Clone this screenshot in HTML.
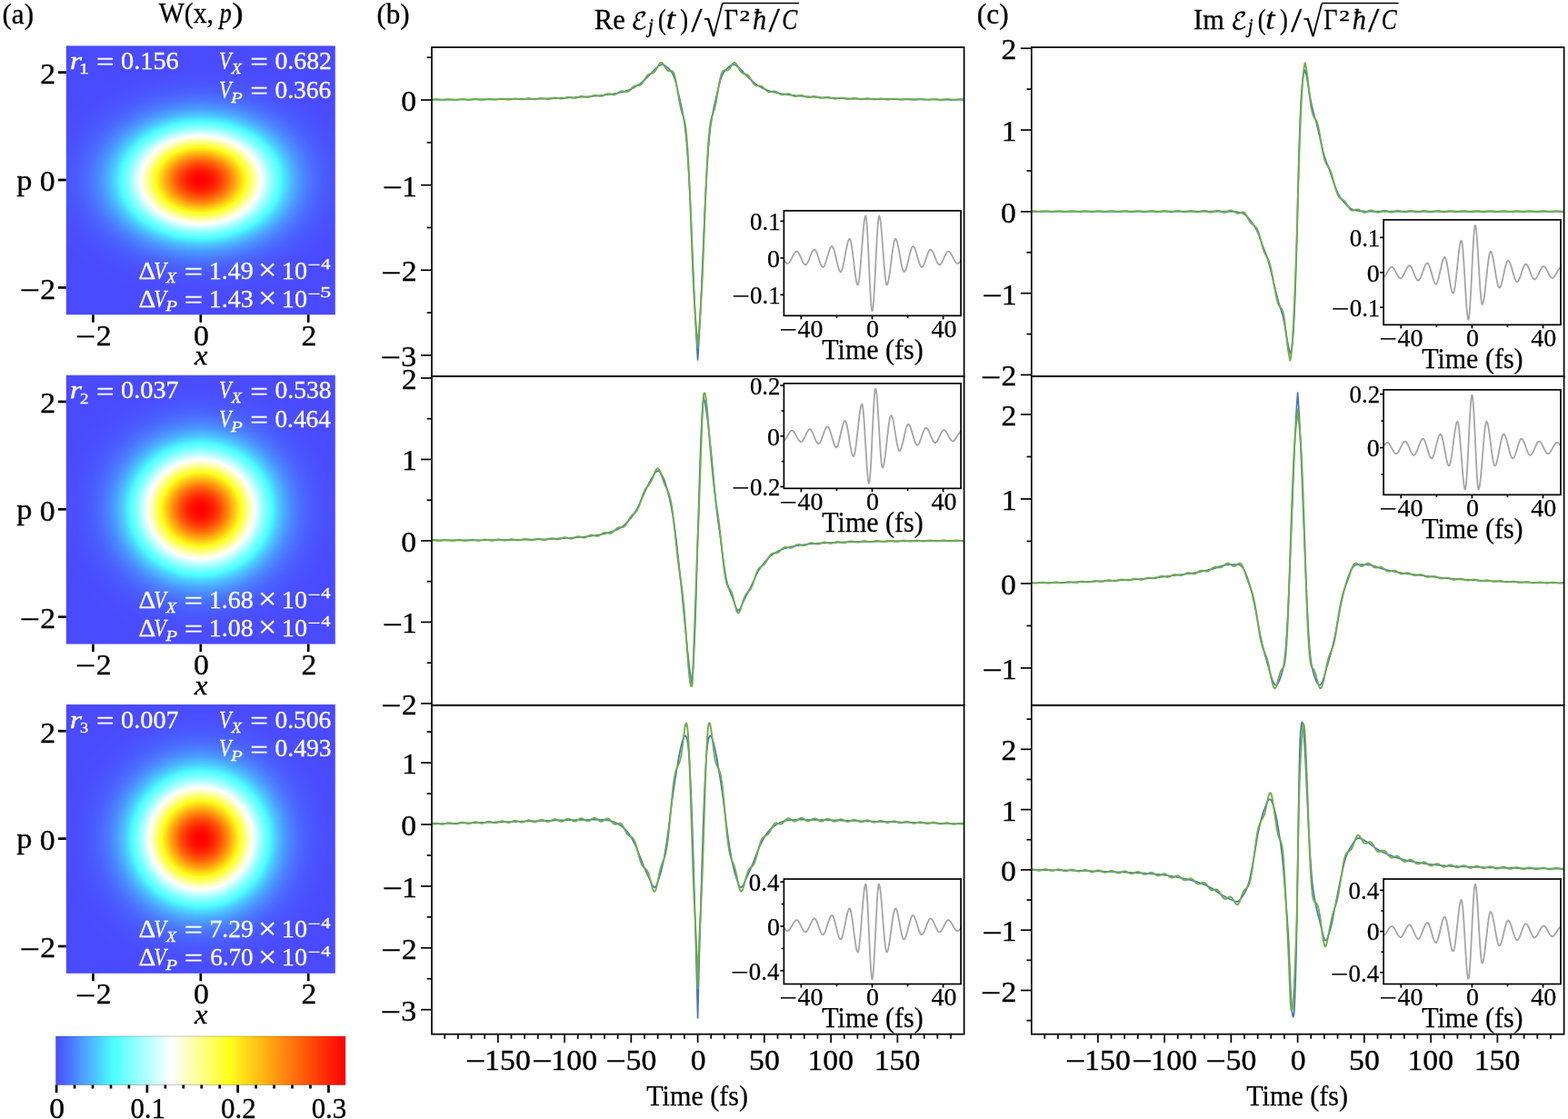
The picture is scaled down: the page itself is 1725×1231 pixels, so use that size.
<!DOCTYPE html>
<html lang="en"><head><meta charset="utf-8"><title>Figure</title>
<style>
html,body{margin:0;padding:0;background:#fff;}
body{width:1725px;height:1231px;overflow:hidden;}
svg{display:block;}
text{white-space:pre;}
.r{font-family:'Liberation Serif','DejaVu Serif',serif;}
.i{font-family:'Liberation Serif','DejaVu Serif',serif;font-style:italic;}
.m{font-family:'DejaVu Math TeX Gyre','DejaVu Serif',serif;}
</style></head><body>
<svg width="1725" height="1231" viewBox="0 0 1725 1231">
<rect width="1725" height="1231" fill="#fff"/>
<defs>
<radialGradient id="g0" gradientUnits="userSpaceOnUse" cx="0" cy="0" r="6.0" gradientTransform="translate(220.80 198.00) scale(48.889 35.815)">
<stop offset="0.0000" stop-color="#ff0000"/>
<stop offset="0.0067" stop-color="#ff0100"/>
<stop offset="0.0133" stop-color="#ff0200"/>
<stop offset="0.0200" stop-color="#ff0500"/>
<stop offset="0.0267" stop-color="#ff0801"/>
<stop offset="0.0333" stop-color="#ff0d01"/>
<stop offset="0.0400" stop-color="#ff1202"/>
<stop offset="0.0467" stop-color="#ff1902"/>
<stop offset="0.0533" stop-color="#ff2003"/>
<stop offset="0.0600" stop-color="#ff2804"/>
<stop offset="0.0667" stop-color="#ff3105"/>
<stop offset="0.0733" stop-color="#ff3b06"/>
<stop offset="0.0800" stop-color="#ff4507"/>
<stop offset="0.0867" stop-color="#ff5108"/>
<stop offset="0.0933" stop-color="#ff5d09"/>
<stop offset="0.1000" stop-color="#ff690b"/>
<stop offset="0.1067" stop-color="#ff760c"/>
<stop offset="0.1133" stop-color="#ff840d"/>
<stop offset="0.1200" stop-color="#ff920f"/>
<stop offset="0.1267" stop-color="#ffa010"/>
<stop offset="0.1333" stop-color="#ffaf12"/>
<stop offset="0.1400" stop-color="#ffbe13"/>
<stop offset="0.1467" stop-color="#ffcd15"/>
<stop offset="0.1533" stop-color="#ffdc16"/>
<stop offset="0.1600" stop-color="#ffeb18"/>
<stop offset="0.1667" stop-color="#fffb1a"/>
<stop offset="0.1685" stop-color="#ffff1a"/>
<stop offset="0.1733" stop-color="#ffff2e"/>
<stop offset="0.1800" stop-color="#ffff4a"/>
<stop offset="0.1867" stop-color="#ffff65"/>
<stop offset="0.1933" stop-color="#ffff81"/>
<stop offset="0.2000" stop-color="#ffff9c"/>
<stop offset="0.2067" stop-color="#ffffb6"/>
<stop offset="0.2133" stop-color="#ffffd0"/>
<stop offset="0.2200" stop-color="#ffffea"/>
<stop offset="0.2256" stop-color="#ffffff"/>
<stop offset="0.2267" stop-color="#fcffff"/>
<stop offset="0.2333" stop-color="#e9ffff"/>
<stop offset="0.2400" stop-color="#d7ffff"/>
<stop offset="0.2467" stop-color="#c5ffff"/>
<stop offset="0.2533" stop-color="#b3ffff"/>
<stop offset="0.2600" stop-color="#a3ffff"/>
<stop offset="0.2667" stop-color="#92ffff"/>
<stop offset="0.2733" stop-color="#83ffff"/>
<stop offset="0.2800" stop-color="#74ffff"/>
<stop offset="0.2867" stop-color="#66ffff"/>
<stop offset="0.2933" stop-color="#58ffff"/>
<stop offset="0.2990" stop-color="#4dffff"/>
<stop offset="0.3000" stop-color="#4dfdff"/>
<stop offset="0.3067" stop-color="#4df1ff"/>
<stop offset="0.3133" stop-color="#4de5ff"/>
<stop offset="0.3200" stop-color="#4cd9ff"/>
<stop offset="0.3267" stop-color="#4ccfff"/>
<stop offset="0.3333" stop-color="#4cc4ff"/>
<stop offset="0.3400" stop-color="#4cbbff"/>
<stop offset="0.3467" stop-color="#4cb2ff"/>
<stop offset="0.3533" stop-color="#4caaff"/>
<stop offset="0.3600" stop-color="#4ba2ff"/>
<stop offset="0.3667" stop-color="#4b9aff"/>
<stop offset="0.3733" stop-color="#4b94ff"/>
<stop offset="0.3800" stop-color="#4b8dff"/>
<stop offset="0.3867" stop-color="#4b87ff"/>
<stop offset="0.3933" stop-color="#4b82ff"/>
<stop offset="0.4000" stop-color="#4b7dff"/>
<stop offset="0.4067" stop-color="#4b78ff"/>
<stop offset="0.4133" stop-color="#4b74ff"/>
<stop offset="0.4200" stop-color="#4b70ff"/>
<stop offset="0.4267" stop-color="#4b6cff"/>
<stop offset="0.4333" stop-color="#4b69ff"/>
<stop offset="0.4400" stop-color="#4a66ff"/>
<stop offset="0.4467" stop-color="#4a63ff"/>
<stop offset="0.4533" stop-color="#4a60ff"/>
<stop offset="0.4600" stop-color="#4a5eff"/>
<stop offset="0.4667" stop-color="#4a5cff"/>
<stop offset="0.4733" stop-color="#4a5aff"/>
<stop offset="0.4800" stop-color="#4a58ff"/>
<stop offset="0.4867" stop-color="#4a57ff"/>
<stop offset="0.4933" stop-color="#4a55ff"/>
<stop offset="0.5000" stop-color="#4a54ff"/>
<stop offset="0.5067" stop-color="#4a53ff"/>
<stop offset="0.5133" stop-color="#4a52ff"/>
<stop offset="0.5200" stop-color="#4a51ff"/>
<stop offset="0.5267" stop-color="#4a50ff"/>
<stop offset="0.5333" stop-color="#4a4fff"/>
<stop offset="0.5400" stop-color="#4a4fff"/>
<stop offset="0.5467" stop-color="#4a4eff"/>
<stop offset="0.5533" stop-color="#4a4eff"/>
<stop offset="0.5600" stop-color="#4a4dff"/>
<stop offset="0.5667" stop-color="#4a4dff"/>
<stop offset="0.5733" stop-color="#4a4cff"/>
<stop offset="0.5800" stop-color="#4a4cff"/>
<stop offset="0.5867" stop-color="#4a4cff"/>
<stop offset="0.5933" stop-color="#4a4cff"/>
<stop offset="0.6000" stop-color="#4a4bff"/>
<stop offset="0.6067" stop-color="#4a4bff"/>
<stop offset="0.6133" stop-color="#4a4bff"/>
<stop offset="0.6200" stop-color="#4a4bff"/>
<stop offset="0.6267" stop-color="#4a4bff"/>
<stop offset="0.6333" stop-color="#4a4bff"/>
<stop offset="0.6400" stop-color="#4a4bff"/>
<stop offset="0.6467" stop-color="#4a4aff"/>
<stop offset="0.6533" stop-color="#4a4aff"/>
<stop offset="0.6600" stop-color="#4a4aff"/>
<stop offset="0.6667" stop-color="#4a4aff"/>
<stop offset="0.7083" stop-color="#4a4aff"/>
<stop offset="0.7500" stop-color="#4a4aff"/>
<stop offset="0.7917" stop-color="#4a4aff"/>
<stop offset="0.8333" stop-color="#4a4aff"/>
<stop offset="0.8750" stop-color="#4a4aff"/>
<stop offset="0.9167" stop-color="#4a4aff"/>
<stop offset="0.9583" stop-color="#4a4aff"/>
<stop offset="1.0000" stop-color="#4a4aff"/>
</radialGradient>
<radialGradient id="g1" gradientUnits="userSpaceOnUse" cx="0" cy="0" r="6.0" gradientTransform="translate(220.80 560.30) scale(43.422 40.326)">
<stop offset="0.0000" stop-color="#ff0000"/>
<stop offset="0.0067" stop-color="#ff0100"/>
<stop offset="0.0133" stop-color="#ff0200"/>
<stop offset="0.0200" stop-color="#ff0500"/>
<stop offset="0.0267" stop-color="#ff0801"/>
<stop offset="0.0333" stop-color="#ff0d01"/>
<stop offset="0.0400" stop-color="#ff1202"/>
<stop offset="0.0467" stop-color="#ff1902"/>
<stop offset="0.0533" stop-color="#ff2003"/>
<stop offset="0.0600" stop-color="#ff2804"/>
<stop offset="0.0667" stop-color="#ff3105"/>
<stop offset="0.0733" stop-color="#ff3b06"/>
<stop offset="0.0800" stop-color="#ff4507"/>
<stop offset="0.0867" stop-color="#ff5108"/>
<stop offset="0.0933" stop-color="#ff5d09"/>
<stop offset="0.1000" stop-color="#ff690b"/>
<stop offset="0.1067" stop-color="#ff760c"/>
<stop offset="0.1133" stop-color="#ff840d"/>
<stop offset="0.1200" stop-color="#ff920f"/>
<stop offset="0.1267" stop-color="#ffa010"/>
<stop offset="0.1333" stop-color="#ffaf12"/>
<stop offset="0.1400" stop-color="#ffbe13"/>
<stop offset="0.1467" stop-color="#ffcd15"/>
<stop offset="0.1533" stop-color="#ffdc16"/>
<stop offset="0.1600" stop-color="#ffeb18"/>
<stop offset="0.1667" stop-color="#fffb1a"/>
<stop offset="0.1685" stop-color="#ffff1a"/>
<stop offset="0.1733" stop-color="#ffff2e"/>
<stop offset="0.1800" stop-color="#ffff4a"/>
<stop offset="0.1867" stop-color="#ffff65"/>
<stop offset="0.1933" stop-color="#ffff81"/>
<stop offset="0.2000" stop-color="#ffff9c"/>
<stop offset="0.2067" stop-color="#ffffb6"/>
<stop offset="0.2133" stop-color="#ffffd0"/>
<stop offset="0.2200" stop-color="#ffffea"/>
<stop offset="0.2256" stop-color="#ffffff"/>
<stop offset="0.2267" stop-color="#fcffff"/>
<stop offset="0.2333" stop-color="#e9ffff"/>
<stop offset="0.2400" stop-color="#d7ffff"/>
<stop offset="0.2467" stop-color="#c5ffff"/>
<stop offset="0.2533" stop-color="#b3ffff"/>
<stop offset="0.2600" stop-color="#a3ffff"/>
<stop offset="0.2667" stop-color="#92ffff"/>
<stop offset="0.2733" stop-color="#83ffff"/>
<stop offset="0.2800" stop-color="#74ffff"/>
<stop offset="0.2867" stop-color="#66ffff"/>
<stop offset="0.2933" stop-color="#58ffff"/>
<stop offset="0.2990" stop-color="#4dffff"/>
<stop offset="0.3000" stop-color="#4dfdff"/>
<stop offset="0.3067" stop-color="#4df1ff"/>
<stop offset="0.3133" stop-color="#4de5ff"/>
<stop offset="0.3200" stop-color="#4cd9ff"/>
<stop offset="0.3267" stop-color="#4ccfff"/>
<stop offset="0.3333" stop-color="#4cc4ff"/>
<stop offset="0.3400" stop-color="#4cbbff"/>
<stop offset="0.3467" stop-color="#4cb2ff"/>
<stop offset="0.3533" stop-color="#4caaff"/>
<stop offset="0.3600" stop-color="#4ba2ff"/>
<stop offset="0.3667" stop-color="#4b9aff"/>
<stop offset="0.3733" stop-color="#4b94ff"/>
<stop offset="0.3800" stop-color="#4b8dff"/>
<stop offset="0.3867" stop-color="#4b87ff"/>
<stop offset="0.3933" stop-color="#4b82ff"/>
<stop offset="0.4000" stop-color="#4b7dff"/>
<stop offset="0.4067" stop-color="#4b78ff"/>
<stop offset="0.4133" stop-color="#4b74ff"/>
<stop offset="0.4200" stop-color="#4b70ff"/>
<stop offset="0.4267" stop-color="#4b6cff"/>
<stop offset="0.4333" stop-color="#4b69ff"/>
<stop offset="0.4400" stop-color="#4a66ff"/>
<stop offset="0.4467" stop-color="#4a63ff"/>
<stop offset="0.4533" stop-color="#4a60ff"/>
<stop offset="0.4600" stop-color="#4a5eff"/>
<stop offset="0.4667" stop-color="#4a5cff"/>
<stop offset="0.4733" stop-color="#4a5aff"/>
<stop offset="0.4800" stop-color="#4a58ff"/>
<stop offset="0.4867" stop-color="#4a57ff"/>
<stop offset="0.4933" stop-color="#4a55ff"/>
<stop offset="0.5000" stop-color="#4a54ff"/>
<stop offset="0.5067" stop-color="#4a53ff"/>
<stop offset="0.5133" stop-color="#4a52ff"/>
<stop offset="0.5200" stop-color="#4a51ff"/>
<stop offset="0.5267" stop-color="#4a50ff"/>
<stop offset="0.5333" stop-color="#4a4fff"/>
<stop offset="0.5400" stop-color="#4a4fff"/>
<stop offset="0.5467" stop-color="#4a4eff"/>
<stop offset="0.5533" stop-color="#4a4eff"/>
<stop offset="0.5600" stop-color="#4a4dff"/>
<stop offset="0.5667" stop-color="#4a4dff"/>
<stop offset="0.5733" stop-color="#4a4cff"/>
<stop offset="0.5800" stop-color="#4a4cff"/>
<stop offset="0.5867" stop-color="#4a4cff"/>
<stop offset="0.5933" stop-color="#4a4cff"/>
<stop offset="0.6000" stop-color="#4a4bff"/>
<stop offset="0.6067" stop-color="#4a4bff"/>
<stop offset="0.6133" stop-color="#4a4bff"/>
<stop offset="0.6200" stop-color="#4a4bff"/>
<stop offset="0.6267" stop-color="#4a4bff"/>
<stop offset="0.6333" stop-color="#4a4bff"/>
<stop offset="0.6400" stop-color="#4a4bff"/>
<stop offset="0.6467" stop-color="#4a4aff"/>
<stop offset="0.6533" stop-color="#4a4aff"/>
<stop offset="0.6600" stop-color="#4a4aff"/>
<stop offset="0.6667" stop-color="#4a4aff"/>
<stop offset="0.7083" stop-color="#4a4aff"/>
<stop offset="0.7500" stop-color="#4a4aff"/>
<stop offset="0.7917" stop-color="#4a4aff"/>
<stop offset="0.8333" stop-color="#4a4aff"/>
<stop offset="0.8750" stop-color="#4a4aff"/>
<stop offset="0.9167" stop-color="#4a4aff"/>
<stop offset="0.9583" stop-color="#4a4aff"/>
<stop offset="1.0000" stop-color="#4a4aff"/>
</radialGradient>
<radialGradient id="g2" gradientUnits="userSpaceOnUse" cx="0" cy="0" r="6.0" gradientTransform="translate(220.80 922.60) scale(42.111 41.567)">
<stop offset="0.0000" stop-color="#ff0000"/>
<stop offset="0.0067" stop-color="#ff0100"/>
<stop offset="0.0133" stop-color="#ff0200"/>
<stop offset="0.0200" stop-color="#ff0500"/>
<stop offset="0.0267" stop-color="#ff0801"/>
<stop offset="0.0333" stop-color="#ff0d01"/>
<stop offset="0.0400" stop-color="#ff1202"/>
<stop offset="0.0467" stop-color="#ff1902"/>
<stop offset="0.0533" stop-color="#ff2003"/>
<stop offset="0.0600" stop-color="#ff2804"/>
<stop offset="0.0667" stop-color="#ff3105"/>
<stop offset="0.0733" stop-color="#ff3b06"/>
<stop offset="0.0800" stop-color="#ff4507"/>
<stop offset="0.0867" stop-color="#ff5108"/>
<stop offset="0.0933" stop-color="#ff5d09"/>
<stop offset="0.1000" stop-color="#ff690b"/>
<stop offset="0.1067" stop-color="#ff760c"/>
<stop offset="0.1133" stop-color="#ff840d"/>
<stop offset="0.1200" stop-color="#ff920f"/>
<stop offset="0.1267" stop-color="#ffa010"/>
<stop offset="0.1333" stop-color="#ffaf12"/>
<stop offset="0.1400" stop-color="#ffbe13"/>
<stop offset="0.1467" stop-color="#ffcd15"/>
<stop offset="0.1533" stop-color="#ffdc16"/>
<stop offset="0.1600" stop-color="#ffeb18"/>
<stop offset="0.1667" stop-color="#fffb1a"/>
<stop offset="0.1685" stop-color="#ffff1a"/>
<stop offset="0.1733" stop-color="#ffff2e"/>
<stop offset="0.1800" stop-color="#ffff4a"/>
<stop offset="0.1867" stop-color="#ffff65"/>
<stop offset="0.1933" stop-color="#ffff81"/>
<stop offset="0.2000" stop-color="#ffff9c"/>
<stop offset="0.2067" stop-color="#ffffb6"/>
<stop offset="0.2133" stop-color="#ffffd0"/>
<stop offset="0.2200" stop-color="#ffffea"/>
<stop offset="0.2256" stop-color="#ffffff"/>
<stop offset="0.2267" stop-color="#fcffff"/>
<stop offset="0.2333" stop-color="#e9ffff"/>
<stop offset="0.2400" stop-color="#d7ffff"/>
<stop offset="0.2467" stop-color="#c5ffff"/>
<stop offset="0.2533" stop-color="#b3ffff"/>
<stop offset="0.2600" stop-color="#a3ffff"/>
<stop offset="0.2667" stop-color="#92ffff"/>
<stop offset="0.2733" stop-color="#83ffff"/>
<stop offset="0.2800" stop-color="#74ffff"/>
<stop offset="0.2867" stop-color="#66ffff"/>
<stop offset="0.2933" stop-color="#58ffff"/>
<stop offset="0.2990" stop-color="#4dffff"/>
<stop offset="0.3000" stop-color="#4dfdff"/>
<stop offset="0.3067" stop-color="#4df1ff"/>
<stop offset="0.3133" stop-color="#4de5ff"/>
<stop offset="0.3200" stop-color="#4cd9ff"/>
<stop offset="0.3267" stop-color="#4ccfff"/>
<stop offset="0.3333" stop-color="#4cc4ff"/>
<stop offset="0.3400" stop-color="#4cbbff"/>
<stop offset="0.3467" stop-color="#4cb2ff"/>
<stop offset="0.3533" stop-color="#4caaff"/>
<stop offset="0.3600" stop-color="#4ba2ff"/>
<stop offset="0.3667" stop-color="#4b9aff"/>
<stop offset="0.3733" stop-color="#4b94ff"/>
<stop offset="0.3800" stop-color="#4b8dff"/>
<stop offset="0.3867" stop-color="#4b87ff"/>
<stop offset="0.3933" stop-color="#4b82ff"/>
<stop offset="0.4000" stop-color="#4b7dff"/>
<stop offset="0.4067" stop-color="#4b78ff"/>
<stop offset="0.4133" stop-color="#4b74ff"/>
<stop offset="0.4200" stop-color="#4b70ff"/>
<stop offset="0.4267" stop-color="#4b6cff"/>
<stop offset="0.4333" stop-color="#4b69ff"/>
<stop offset="0.4400" stop-color="#4a66ff"/>
<stop offset="0.4467" stop-color="#4a63ff"/>
<stop offset="0.4533" stop-color="#4a60ff"/>
<stop offset="0.4600" stop-color="#4a5eff"/>
<stop offset="0.4667" stop-color="#4a5cff"/>
<stop offset="0.4733" stop-color="#4a5aff"/>
<stop offset="0.4800" stop-color="#4a58ff"/>
<stop offset="0.4867" stop-color="#4a57ff"/>
<stop offset="0.4933" stop-color="#4a55ff"/>
<stop offset="0.5000" stop-color="#4a54ff"/>
<stop offset="0.5067" stop-color="#4a53ff"/>
<stop offset="0.5133" stop-color="#4a52ff"/>
<stop offset="0.5200" stop-color="#4a51ff"/>
<stop offset="0.5267" stop-color="#4a50ff"/>
<stop offset="0.5333" stop-color="#4a4fff"/>
<stop offset="0.5400" stop-color="#4a4fff"/>
<stop offset="0.5467" stop-color="#4a4eff"/>
<stop offset="0.5533" stop-color="#4a4eff"/>
<stop offset="0.5600" stop-color="#4a4dff"/>
<stop offset="0.5667" stop-color="#4a4dff"/>
<stop offset="0.5733" stop-color="#4a4cff"/>
<stop offset="0.5800" stop-color="#4a4cff"/>
<stop offset="0.5867" stop-color="#4a4cff"/>
<stop offset="0.5933" stop-color="#4a4cff"/>
<stop offset="0.6000" stop-color="#4a4bff"/>
<stop offset="0.6067" stop-color="#4a4bff"/>
<stop offset="0.6133" stop-color="#4a4bff"/>
<stop offset="0.6200" stop-color="#4a4bff"/>
<stop offset="0.6267" stop-color="#4a4bff"/>
<stop offset="0.6333" stop-color="#4a4bff"/>
<stop offset="0.6400" stop-color="#4a4bff"/>
<stop offset="0.6467" stop-color="#4a4aff"/>
<stop offset="0.6533" stop-color="#4a4aff"/>
<stop offset="0.6600" stop-color="#4a4aff"/>
<stop offset="0.6667" stop-color="#4a4aff"/>
<stop offset="0.7083" stop-color="#4a4aff"/>
<stop offset="0.7500" stop-color="#4a4aff"/>
<stop offset="0.7917" stop-color="#4a4aff"/>
<stop offset="0.8333" stop-color="#4a4aff"/>
<stop offset="0.8750" stop-color="#4a4aff"/>
<stop offset="0.9167" stop-color="#4a4aff"/>
<stop offset="0.9583" stop-color="#4a4aff"/>
<stop offset="1.0000" stop-color="#4a4aff"/>
</radialGradient>
<linearGradient id="cb" x1="0" y1="0" x2="1" y2="0">
<stop offset="0.0" stop-color="#4a4aff"/>
<stop offset="0.2" stop-color="#4dffff"/>
<stop offset="0.4" stop-color="#ffffff"/>
<stop offset="0.6" stop-color="#ffff1a"/>
<stop offset="1.0" stop-color="#ff0000"/>
</linearGradient>
</defs>
<rect x="72.8" y="50.4" width="296.0" height="295.8" fill="url(#g0)"/>
<line x1="102.40" y1="346.20" x2="102.40" y2="354.70" stroke="#000" stroke-width="2.7"/>
<text><tspan class="r" x="83.31" y="381.00" font-size="31.70" textLength="22.30" lengthAdjust="spacingAndGlyphs" stroke="#000" stroke-width="0.35">−</tspan><tspan class="r" x="105.70" y="379.60" font-size="31.70" textLength="16.88" lengthAdjust="spacingAndGlyphs" stroke="#000" stroke-width="0.35">2</tspan></text>
<line x1="64.00" y1="316.40" x2="72.80" y2="316.40" stroke="#000" stroke-width="2.7"/>
<text><tspan class="r" x="21.90" y="330.10" font-size="31.70" textLength="22.30" lengthAdjust="spacingAndGlyphs" stroke="#000" stroke-width="0.35">−</tspan><tspan class="r" x="44.28" y="328.70" font-size="31.70" textLength="16.88" lengthAdjust="spacingAndGlyphs" stroke="#000" stroke-width="0.35">2</tspan></text>
<line x1="220.80" y1="346.20" x2="220.80" y2="354.70" stroke="#000" stroke-width="2.7"/>
<text><tspan class="r" x="212.96" y="379.60" font-size="31.70" textLength="16.88" lengthAdjust="spacingAndGlyphs" stroke="#000" stroke-width="0.35">0</tspan></text>
<line x1="64.00" y1="198.00" x2="72.80" y2="198.00" stroke="#000" stroke-width="2.7"/>
<text><tspan class="r" x="43.71" y="210.30" font-size="31.70" textLength="16.88" lengthAdjust="spacingAndGlyphs" stroke="#000" stroke-width="0.35">0</tspan></text>
<line x1="339.20" y1="346.20" x2="339.20" y2="354.70" stroke="#000" stroke-width="2.7"/>
<text><tspan class="r" x="331.55" y="379.60" font-size="31.70" textLength="16.88" lengthAdjust="spacingAndGlyphs" stroke="#000" stroke-width="0.35">2</tspan></text>
<line x1="64.00" y1="79.60" x2="72.80" y2="79.60" stroke="#000" stroke-width="2.7"/>
<text><tspan class="r" x="44.28" y="91.90" font-size="31.70" textLength="16.88" lengthAdjust="spacingAndGlyphs" stroke="#000" stroke-width="0.35">2</tspan></text>
<text><tspan class="i" x="214.00" y="401.20" font-size="30.30" textLength="14.44" lengthAdjust="spacingAndGlyphs" stroke="#000" stroke-width="0.3">x</tspan></text>
<text><tspan class="r" x="18.25" y="208.80" font-size="32.00" textLength="17.20" lengthAdjust="spacingAndGlyphs" stroke="#000" stroke-width="0.3">p</tspan></text>
<text><tspan class="i" x="76.72" y="76.10" font-size="27.30" textLength="13.28" lengthAdjust="spacingAndGlyphs" fill="#fff" stroke="#fff" stroke-width="0.3">r</tspan><tspan class="r" x="87.00" y="81.30" font-size="17.20" textLength="10.79" lengthAdjust="spacingAndGlyphs" fill="#fff" stroke="#fff" stroke-width="0.3">1</tspan> <tspan class="r" x="106.07" y="77.30" font-size="27.30" textLength="19.63" lengthAdjust="spacingAndGlyphs" fill="#fff" stroke="#fff" stroke-width="0.3">=</tspan> <tspan class="r" x="133.12" y="76.10" font-size="27.30" textLength="63.62" lengthAdjust="spacingAndGlyphs" fill="#fff" stroke="#fff" stroke-width="0.3">0.156</tspan></text>
<text><tspan class="i" x="241.04" y="76.10" font-size="27.30" textLength="13.53" lengthAdjust="spacingAndGlyphs" fill="#fff" stroke="#fff" stroke-width="0.3">V</tspan><tspan class="i" x="254.61" y="80.90" font-size="17.20" textLength="11.20" lengthAdjust="spacingAndGlyphs" fill="#fff" stroke="#fff" stroke-width="0.3">X</tspan> <tspan class="r" x="275.27" y="77.30" font-size="27.30" textLength="19.63" lengthAdjust="spacingAndGlyphs" fill="#fff" stroke="#fff" stroke-width="0.3">=</tspan> <tspan class="r" x="302.44" y="76.10" font-size="27.30" textLength="62.59" lengthAdjust="spacingAndGlyphs" fill="#fff" stroke="#fff" stroke-width="0.3">0.682</tspan></text>
<text><tspan class="i" x="241.04" y="107.80" font-size="27.30" textLength="13.53" lengthAdjust="spacingAndGlyphs" fill="#fff" stroke="#fff" stroke-width="0.3">V</tspan><tspan class="i" x="254.11" y="112.60" font-size="17.20" textLength="12.82" lengthAdjust="spacingAndGlyphs" fill="#fff" stroke="#fff" stroke-width="0.3">P</tspan> <tspan class="r" x="275.27" y="109.00" font-size="27.30" textLength="19.63" lengthAdjust="spacingAndGlyphs" fill="#fff" stroke="#fff" stroke-width="0.3">=</tspan> <tspan class="r" x="302.45" y="107.80" font-size="27.30" textLength="61.87" lengthAdjust="spacingAndGlyphs" fill="#fff" stroke="#fff" stroke-width="0.3">0.366</tspan></text>
<text><tspan class="r" x="152.59" y="306.50" font-size="27.30" textLength="18.81" lengthAdjust="spacingAndGlyphs" fill="#fff" stroke="#fff" stroke-width="0.3">Δ</tspan><tspan class="i" x="169.14" y="306.50" font-size="27.30" textLength="13.53" lengthAdjust="spacingAndGlyphs" fill="#fff" stroke="#fff" stroke-width="0.3">V</tspan><tspan class="i" x="182.71" y="311.30" font-size="17.20" textLength="11.20" lengthAdjust="spacingAndGlyphs" fill="#fff" stroke="#fff" stroke-width="0.3">X</tspan> <tspan class="r" x="202.80" y="307.70" font-size="27.30" textLength="20.36" lengthAdjust="spacingAndGlyphs" fill="#fff" stroke="#fff" stroke-width="0.3">=</tspan> <tspan class="r" x="229.84" y="306.50" font-size="27.30" textLength="49.01" lengthAdjust="spacingAndGlyphs" fill="#fff" stroke="#fff" stroke-width="0.3">1.49</tspan> <tspan class="r" x="284.14" y="308.00" font-size="34.12" textLength="20.38" lengthAdjust="spacingAndGlyphs" fill="#fff" stroke="#fff" stroke-width="0.3">×</tspan> <tspan class="r" x="309.82" y="306.50" font-size="27.30" textLength="28.26" lengthAdjust="spacingAndGlyphs" fill="#fff" stroke="#fff" stroke-width="0.3">10</tspan><tspan class="r" x="338.47" y="297.40" font-size="17.20" textLength="13.94" lengthAdjust="spacingAndGlyphs" fill="#fff" stroke="#fff" stroke-width="0.3">−</tspan><tspan class="r" x="353.20" y="295.90" font-size="17.20" textLength="10.33" lengthAdjust="spacingAndGlyphs" fill="#fff" stroke="#fff" stroke-width="0.3">4</tspan></text>
<text><tspan class="r" x="152.59" y="337.60" font-size="27.30" textLength="18.81" lengthAdjust="spacingAndGlyphs" fill="#fff" stroke="#fff" stroke-width="0.3">Δ</tspan><tspan class="i" x="169.14" y="337.60" font-size="27.30" textLength="13.53" lengthAdjust="spacingAndGlyphs" fill="#fff" stroke="#fff" stroke-width="0.3">V</tspan><tspan class="i" x="182.21" y="342.40" font-size="17.20" textLength="12.82" lengthAdjust="spacingAndGlyphs" fill="#fff" stroke="#fff" stroke-width="0.3">P</tspan> <tspan class="r" x="202.80" y="338.80" font-size="27.30" textLength="20.36" lengthAdjust="spacingAndGlyphs" fill="#fff" stroke="#fff" stroke-width="0.3">=</tspan> <tspan class="r" x="229.84" y="337.60" font-size="27.30" textLength="48.95" lengthAdjust="spacingAndGlyphs" fill="#fff" stroke="#fff" stroke-width="0.3">1.43</tspan> <tspan class="r" x="284.14" y="339.10" font-size="34.12" textLength="20.38" lengthAdjust="spacingAndGlyphs" fill="#fff" stroke="#fff" stroke-width="0.3">×</tspan> <tspan class="r" x="309.82" y="337.60" font-size="27.30" textLength="28.26" lengthAdjust="spacingAndGlyphs" fill="#fff" stroke="#fff" stroke-width="0.3">10</tspan><tspan class="r" x="338.47" y="328.50" font-size="17.20" textLength="13.94" lengthAdjust="spacingAndGlyphs" fill="#fff" stroke="#fff" stroke-width="0.3">−</tspan><tspan class="r" x="352.22" y="327.00" font-size="17.20" textLength="11.92" lengthAdjust="spacingAndGlyphs" fill="#fff" stroke="#fff" stroke-width="0.3">5</tspan></text>
<rect x="72.8" y="412.7" width="296.0" height="295.8" fill="url(#g1)"/>
<line x1="102.40" y1="708.50" x2="102.40" y2="717.00" stroke="#000" stroke-width="2.7"/>
<text><tspan class="r" x="83.31" y="743.30" font-size="31.70" textLength="22.30" lengthAdjust="spacingAndGlyphs" stroke="#000" stroke-width="0.35">−</tspan><tspan class="r" x="105.70" y="741.90" font-size="31.70" textLength="16.88" lengthAdjust="spacingAndGlyphs" stroke="#000" stroke-width="0.35">2</tspan></text>
<line x1="64.00" y1="678.70" x2="72.80" y2="678.70" stroke="#000" stroke-width="2.7"/>
<text><tspan class="r" x="21.90" y="692.40" font-size="31.70" textLength="22.30" lengthAdjust="spacingAndGlyphs" stroke="#000" stroke-width="0.35">−</tspan><tspan class="r" x="44.28" y="691.00" font-size="31.70" textLength="16.88" lengthAdjust="spacingAndGlyphs" stroke="#000" stroke-width="0.35">2</tspan></text>
<line x1="220.80" y1="708.50" x2="220.80" y2="717.00" stroke="#000" stroke-width="2.7"/>
<text><tspan class="r" x="212.96" y="741.90" font-size="31.70" textLength="16.88" lengthAdjust="spacingAndGlyphs" stroke="#000" stroke-width="0.35">0</tspan></text>
<line x1="64.00" y1="560.30" x2="72.80" y2="560.30" stroke="#000" stroke-width="2.7"/>
<text><tspan class="r" x="43.71" y="572.60" font-size="31.70" textLength="16.88" lengthAdjust="spacingAndGlyphs" stroke="#000" stroke-width="0.35">0</tspan></text>
<line x1="339.20" y1="708.50" x2="339.20" y2="717.00" stroke="#000" stroke-width="2.7"/>
<text><tspan class="r" x="331.55" y="741.90" font-size="31.70" textLength="16.88" lengthAdjust="spacingAndGlyphs" stroke="#000" stroke-width="0.35">2</tspan></text>
<line x1="64.00" y1="441.90" x2="72.80" y2="441.90" stroke="#000" stroke-width="2.7"/>
<text><tspan class="r" x="44.28" y="454.20" font-size="31.70" textLength="16.88" lengthAdjust="spacingAndGlyphs" stroke="#000" stroke-width="0.35">2</tspan></text>
<text><tspan class="i" x="214.00" y="763.50" font-size="30.30" textLength="14.44" lengthAdjust="spacingAndGlyphs" stroke="#000" stroke-width="0.3">x</tspan></text>
<text><tspan class="r" x="18.25" y="571.10" font-size="32.00" textLength="17.20" lengthAdjust="spacingAndGlyphs" stroke="#000" stroke-width="0.3">p</tspan></text>
<text><tspan class="i" x="76.72" y="438.40" font-size="27.30" textLength="13.28" lengthAdjust="spacingAndGlyphs" fill="#fff" stroke="#fff" stroke-width="0.3">r</tspan><tspan class="r" x="88.07" y="443.60" font-size="17.20" textLength="9.48" lengthAdjust="spacingAndGlyphs" fill="#fff" stroke="#fff" stroke-width="0.3">2</tspan> <tspan class="r" x="106.07" y="439.60" font-size="27.30" textLength="19.63" lengthAdjust="spacingAndGlyphs" fill="#fff" stroke="#fff" stroke-width="0.3">=</tspan> <tspan class="r" x="133.12" y="438.40" font-size="27.30" textLength="63.59" lengthAdjust="spacingAndGlyphs" fill="#fff" stroke="#fff" stroke-width="0.3">0.037</tspan></text>
<text><tspan class="i" x="241.04" y="438.40" font-size="27.30" textLength="13.53" lengthAdjust="spacingAndGlyphs" fill="#fff" stroke="#fff" stroke-width="0.3">V</tspan><tspan class="i" x="254.61" y="443.20" font-size="17.20" textLength="11.20" lengthAdjust="spacingAndGlyphs" fill="#fff" stroke="#fff" stroke-width="0.3">X</tspan> <tspan class="r" x="275.27" y="439.60" font-size="27.30" textLength="19.63" lengthAdjust="spacingAndGlyphs" fill="#fff" stroke="#fff" stroke-width="0.3">=</tspan> <tspan class="r" x="302.45" y="438.40" font-size="27.30" textLength="62.10" lengthAdjust="spacingAndGlyphs" fill="#fff" stroke="#fff" stroke-width="0.3">0.538</tspan></text>
<text><tspan class="i" x="241.04" y="470.10" font-size="27.30" textLength="13.53" lengthAdjust="spacingAndGlyphs" fill="#fff" stroke="#fff" stroke-width="0.3">V</tspan><tspan class="i" x="254.11" y="474.90" font-size="17.20" textLength="12.82" lengthAdjust="spacingAndGlyphs" fill="#fff" stroke="#fff" stroke-width="0.3">P</tspan> <tspan class="r" x="275.27" y="471.30" font-size="27.30" textLength="19.63" lengthAdjust="spacingAndGlyphs" fill="#fff" stroke="#fff" stroke-width="0.3">=</tspan> <tspan class="r" x="302.46" y="470.10" font-size="27.30" fill="#fff" stroke="#fff" stroke-width="0.3">0.464</tspan></text>
<text><tspan class="r" x="152.59" y="668.80" font-size="27.30" textLength="18.81" lengthAdjust="spacingAndGlyphs" fill="#fff" stroke="#fff" stroke-width="0.3">Δ</tspan><tspan class="i" x="169.14" y="668.80" font-size="27.30" textLength="13.53" lengthAdjust="spacingAndGlyphs" fill="#fff" stroke="#fff" stroke-width="0.3">V</tspan><tspan class="i" x="182.71" y="673.60" font-size="17.20" textLength="11.20" lengthAdjust="spacingAndGlyphs" fill="#fff" stroke="#fff" stroke-width="0.3">X</tspan> <tspan class="r" x="202.80" y="670.00" font-size="27.30" textLength="20.36" lengthAdjust="spacingAndGlyphs" fill="#fff" stroke="#fff" stroke-width="0.3">=</tspan> <tspan class="r" x="229.84" y="668.80" font-size="27.30" textLength="48.92" lengthAdjust="spacingAndGlyphs" fill="#fff" stroke="#fff" stroke-width="0.3">1.68</tspan> <tspan class="r" x="284.14" y="670.30" font-size="34.12" textLength="20.38" lengthAdjust="spacingAndGlyphs" fill="#fff" stroke="#fff" stroke-width="0.3">×</tspan> <tspan class="r" x="309.82" y="668.80" font-size="27.30" textLength="28.26" lengthAdjust="spacingAndGlyphs" fill="#fff" stroke="#fff" stroke-width="0.3">10</tspan><tspan class="r" x="338.47" y="659.70" font-size="17.20" textLength="13.94" lengthAdjust="spacingAndGlyphs" fill="#fff" stroke="#fff" stroke-width="0.3">−</tspan><tspan class="r" x="353.20" y="658.20" font-size="17.20" textLength="10.33" lengthAdjust="spacingAndGlyphs" fill="#fff" stroke="#fff" stroke-width="0.3">4</tspan></text>
<text><tspan class="r" x="152.59" y="699.90" font-size="27.30" textLength="18.81" lengthAdjust="spacingAndGlyphs" fill="#fff" stroke="#fff" stroke-width="0.3">Δ</tspan><tspan class="i" x="169.14" y="699.90" font-size="27.30" textLength="13.53" lengthAdjust="spacingAndGlyphs" fill="#fff" stroke="#fff" stroke-width="0.3">V</tspan><tspan class="i" x="182.21" y="704.70" font-size="17.20" textLength="12.82" lengthAdjust="spacingAndGlyphs" fill="#fff" stroke="#fff" stroke-width="0.3">P</tspan> <tspan class="r" x="202.80" y="701.10" font-size="27.30" textLength="20.36" lengthAdjust="spacingAndGlyphs" fill="#fff" stroke="#fff" stroke-width="0.3">=</tspan> <tspan class="r" x="229.84" y="699.90" font-size="27.30" textLength="48.92" lengthAdjust="spacingAndGlyphs" fill="#fff" stroke="#fff" stroke-width="0.3">1.08</tspan> <tspan class="r" x="284.14" y="701.40" font-size="34.12" textLength="20.38" lengthAdjust="spacingAndGlyphs" fill="#fff" stroke="#fff" stroke-width="0.3">×</tspan> <tspan class="r" x="309.82" y="699.90" font-size="27.30" textLength="28.26" lengthAdjust="spacingAndGlyphs" fill="#fff" stroke="#fff" stroke-width="0.3">10</tspan><tspan class="r" x="338.47" y="690.80" font-size="17.20" textLength="13.94" lengthAdjust="spacingAndGlyphs" fill="#fff" stroke="#fff" stroke-width="0.3">−</tspan><tspan class="r" x="353.20" y="689.30" font-size="17.20" textLength="10.33" lengthAdjust="spacingAndGlyphs" fill="#fff" stroke="#fff" stroke-width="0.3">4</tspan></text>
<rect x="72.8" y="775.0" width="296.0" height="295.8" fill="url(#g2)"/>
<line x1="102.40" y1="1070.80" x2="102.40" y2="1079.30" stroke="#000" stroke-width="2.7"/>
<text><tspan class="r" x="83.31" y="1105.60" font-size="31.70" textLength="22.30" lengthAdjust="spacingAndGlyphs" stroke="#000" stroke-width="0.35">−</tspan><tspan class="r" x="105.70" y="1104.20" font-size="31.70" textLength="16.88" lengthAdjust="spacingAndGlyphs" stroke="#000" stroke-width="0.35">2</tspan></text>
<line x1="64.00" y1="1041.00" x2="72.80" y2="1041.00" stroke="#000" stroke-width="2.7"/>
<text><tspan class="r" x="21.90" y="1054.70" font-size="31.70" textLength="22.30" lengthAdjust="spacingAndGlyphs" stroke="#000" stroke-width="0.35">−</tspan><tspan class="r" x="44.28" y="1053.30" font-size="31.70" textLength="16.88" lengthAdjust="spacingAndGlyphs" stroke="#000" stroke-width="0.35">2</tspan></text>
<line x1="220.80" y1="1070.80" x2="220.80" y2="1079.30" stroke="#000" stroke-width="2.7"/>
<text><tspan class="r" x="212.96" y="1104.20" font-size="31.70" textLength="16.88" lengthAdjust="spacingAndGlyphs" stroke="#000" stroke-width="0.35">0</tspan></text>
<line x1="64.00" y1="922.60" x2="72.80" y2="922.60" stroke="#000" stroke-width="2.7"/>
<text><tspan class="r" x="43.71" y="934.90" font-size="31.70" textLength="16.88" lengthAdjust="spacingAndGlyphs" stroke="#000" stroke-width="0.35">0</tspan></text>
<line x1="339.20" y1="1070.80" x2="339.20" y2="1079.30" stroke="#000" stroke-width="2.7"/>
<text><tspan class="r" x="331.55" y="1104.20" font-size="31.70" textLength="16.88" lengthAdjust="spacingAndGlyphs" stroke="#000" stroke-width="0.35">2</tspan></text>
<line x1="64.00" y1="804.20" x2="72.80" y2="804.20" stroke="#000" stroke-width="2.7"/>
<text><tspan class="r" x="44.28" y="816.50" font-size="31.70" textLength="16.88" lengthAdjust="spacingAndGlyphs" stroke="#000" stroke-width="0.35">2</tspan></text>
<text><tspan class="i" x="214.00" y="1125.80" font-size="30.30" textLength="14.44" lengthAdjust="spacingAndGlyphs" stroke="#000" stroke-width="0.3">x</tspan></text>
<text><tspan class="r" x="18.25" y="933.40" font-size="32.00" textLength="17.20" lengthAdjust="spacingAndGlyphs" stroke="#000" stroke-width="0.3">p</tspan></text>
<text><tspan class="i" x="76.72" y="800.70" font-size="27.30" textLength="13.28" lengthAdjust="spacingAndGlyphs" fill="#fff" stroke="#fff" stroke-width="0.3">r</tspan><tspan class="r" x="88.02" y="805.90" font-size="17.20" textLength="9.20" lengthAdjust="spacingAndGlyphs" fill="#fff" stroke="#fff" stroke-width="0.3">3</tspan> <tspan class="r" x="106.07" y="801.90" font-size="27.30" textLength="19.63" lengthAdjust="spacingAndGlyphs" fill="#fff" stroke="#fff" stroke-width="0.3">=</tspan> <tspan class="r" x="133.12" y="800.70" font-size="27.30" textLength="63.59" lengthAdjust="spacingAndGlyphs" fill="#fff" stroke="#fff" stroke-width="0.3">0.007</tspan></text>
<text><tspan class="i" x="241.04" y="800.70" font-size="27.30" textLength="13.53" lengthAdjust="spacingAndGlyphs" fill="#fff" stroke="#fff" stroke-width="0.3">V</tspan><tspan class="i" x="254.61" y="805.50" font-size="17.20" textLength="11.20" lengthAdjust="spacingAndGlyphs" fill="#fff" stroke="#fff" stroke-width="0.3">X</tspan> <tspan class="r" x="275.27" y="801.90" font-size="27.30" textLength="19.63" lengthAdjust="spacingAndGlyphs" fill="#fff" stroke="#fff" stroke-width="0.3">=</tspan> <tspan class="r" x="302.45" y="800.70" font-size="27.30" textLength="61.87" lengthAdjust="spacingAndGlyphs" fill="#fff" stroke="#fff" stroke-width="0.3">0.506</tspan></text>
<text><tspan class="i" x="241.04" y="832.40" font-size="27.30" textLength="13.53" lengthAdjust="spacingAndGlyphs" fill="#fff" stroke="#fff" stroke-width="0.3">V</tspan><tspan class="i" x="254.11" y="837.20" font-size="17.20" textLength="12.82" lengthAdjust="spacingAndGlyphs" fill="#fff" stroke="#fff" stroke-width="0.3">P</tspan> <tspan class="r" x="275.27" y="833.60" font-size="27.30" textLength="19.63" lengthAdjust="spacingAndGlyphs" fill="#fff" stroke="#fff" stroke-width="0.3">=</tspan> <tspan class="r" x="302.45" y="832.40" font-size="27.30" textLength="62.13" lengthAdjust="spacingAndGlyphs" fill="#fff" stroke="#fff" stroke-width="0.3">0.493</tspan></text>
<text><tspan class="r" x="152.59" y="1031.10" font-size="27.30" textLength="18.81" lengthAdjust="spacingAndGlyphs" fill="#fff" stroke="#fff" stroke-width="0.3">Δ</tspan><tspan class="i" x="169.14" y="1031.10" font-size="27.30" textLength="13.53" lengthAdjust="spacingAndGlyphs" fill="#fff" stroke="#fff" stroke-width="0.3">V</tspan><tspan class="i" x="182.71" y="1035.90" font-size="17.20" textLength="11.20" lengthAdjust="spacingAndGlyphs" fill="#fff" stroke="#fff" stroke-width="0.3">X</tspan> <tspan class="r" x="202.80" y="1032.30" font-size="27.30" textLength="20.36" lengthAdjust="spacingAndGlyphs" fill="#fff" stroke="#fff" stroke-width="0.3">=</tspan> <tspan class="r" x="230.48" y="1031.10" font-size="27.30" textLength="48.35" lengthAdjust="spacingAndGlyphs" fill="#fff" stroke="#fff" stroke-width="0.3">7.29</tspan> <tspan class="r" x="284.14" y="1032.60" font-size="34.12" textLength="20.38" lengthAdjust="spacingAndGlyphs" fill="#fff" stroke="#fff" stroke-width="0.3">×</tspan> <tspan class="r" x="309.82" y="1031.10" font-size="27.30" textLength="28.26" lengthAdjust="spacingAndGlyphs" fill="#fff" stroke="#fff" stroke-width="0.3">10</tspan><tspan class="r" x="338.47" y="1022.00" font-size="17.20" textLength="13.94" lengthAdjust="spacingAndGlyphs" fill="#fff" stroke="#fff" stroke-width="0.3">−</tspan><tspan class="r" x="353.20" y="1020.50" font-size="17.20" textLength="10.33" lengthAdjust="spacingAndGlyphs" fill="#fff" stroke="#fff" stroke-width="0.3">4</tspan></text>
<text><tspan class="r" x="152.59" y="1062.20" font-size="27.30" textLength="18.81" lengthAdjust="spacingAndGlyphs" fill="#fff" stroke="#fff" stroke-width="0.3">Δ</tspan><tspan class="i" x="169.14" y="1062.20" font-size="27.30" textLength="13.53" lengthAdjust="spacingAndGlyphs" fill="#fff" stroke="#fff" stroke-width="0.3">V</tspan><tspan class="i" x="182.21" y="1067.00" font-size="17.20" textLength="12.82" lengthAdjust="spacingAndGlyphs" fill="#fff" stroke="#fff" stroke-width="0.3">P</tspan> <tspan class="r" x="202.80" y="1063.40" font-size="27.30" textLength="20.36" lengthAdjust="spacingAndGlyphs" fill="#fff" stroke="#fff" stroke-width="0.3">=</tspan> <tspan class="r" x="231.13" y="1062.20" font-size="27.30" textLength="47.60" lengthAdjust="spacingAndGlyphs" fill="#fff" stroke="#fff" stroke-width="0.3">6.70</tspan> <tspan class="r" x="284.14" y="1063.70" font-size="34.12" textLength="20.38" lengthAdjust="spacingAndGlyphs" fill="#fff" stroke="#fff" stroke-width="0.3">×</tspan> <tspan class="r" x="309.82" y="1062.20" font-size="27.30" textLength="28.26" lengthAdjust="spacingAndGlyphs" fill="#fff" stroke="#fff" stroke-width="0.3">10</tspan><tspan class="r" x="338.47" y="1053.10" font-size="17.20" textLength="13.94" lengthAdjust="spacingAndGlyphs" fill="#fff" stroke="#fff" stroke-width="0.3">−</tspan><tspan class="r" x="353.20" y="1051.60" font-size="17.20" textLength="10.33" lengthAdjust="spacingAndGlyphs" fill="#fff" stroke="#fff" stroke-width="0.3">4</tspan></text>
<text><tspan class="r" x="2.43" y="25.50" font-size="30.80" textLength="34.64" lengthAdjust="spacingAndGlyphs" stroke="#000" stroke-width="0.3">(a)</tspan></text>
<text><tspan class="r" x="174.77" y="25.40" font-size="30.80" textLength="60.10" lengthAdjust="spacingAndGlyphs" stroke="#000" stroke-width="0.3">W(x,</tspan> <tspan class="i" x="241.55" y="25.40" font-size="30.80" textLength="13.25" lengthAdjust="spacingAndGlyphs" stroke="#000" stroke-width="0.3">p</tspan><tspan class="r" x="255.30" y="25.40" font-size="30.80" textLength="12.45" lengthAdjust="spacingAndGlyphs" stroke="#000" stroke-width="0.3">)</tspan></text>
<rect x="61.5" y="1140.0" width="318.5" height="53.5" fill="url(#cb)" stroke="#000" stroke-opacity="0.45" stroke-width="0.5"/>
<line x1="62.10" y1="1193.50" x2="62.10" y2="1202.10" stroke="#000" stroke-width="2.7"/>
<text><tspan class="r" x="54.16" y="1230.10" font-size="31.70" textLength="16.88" lengthAdjust="spacingAndGlyphs" stroke="#000" stroke-width="0.35">0</tspan></text>
<line x1="82.06" y1="1193.50" x2="82.06" y2="1197.50" stroke="#000" stroke-width="2.7"/>
<line x1="102.01" y1="1193.50" x2="102.01" y2="1197.50" stroke="#000" stroke-width="2.7"/>
<line x1="121.97" y1="1193.50" x2="121.97" y2="1197.50" stroke="#000" stroke-width="2.7"/>
<line x1="141.92" y1="1193.50" x2="141.92" y2="1197.50" stroke="#000" stroke-width="2.7"/>
<line x1="161.88" y1="1193.50" x2="161.88" y2="1202.10" stroke="#000" stroke-width="2.7"/>
<text><tspan class="r" x="143.40" y="1230.10" font-size="31.70" textLength="38.63" lengthAdjust="spacingAndGlyphs" stroke="#000" stroke-width="0.35">0.1</tspan></text>
<line x1="181.84" y1="1193.50" x2="181.84" y2="1197.50" stroke="#000" stroke-width="2.7"/>
<line x1="201.79" y1="1193.50" x2="201.79" y2="1197.50" stroke="#000" stroke-width="2.7"/>
<line x1="221.75" y1="1193.50" x2="221.75" y2="1197.50" stroke="#000" stroke-width="2.7"/>
<line x1="241.70" y1="1193.50" x2="241.70" y2="1197.50" stroke="#000" stroke-width="2.7"/>
<line x1="261.66" y1="1193.50" x2="261.66" y2="1202.10" stroke="#000" stroke-width="2.7"/>
<text><tspan class="r" x="243.11" y="1230.10" font-size="31.70" textLength="38.63" lengthAdjust="spacingAndGlyphs" stroke="#000" stroke-width="0.35">0.2</tspan></text>
<line x1="281.62" y1="1193.50" x2="281.62" y2="1197.50" stroke="#000" stroke-width="2.7"/>
<line x1="301.57" y1="1193.50" x2="301.57" y2="1197.50" stroke="#000" stroke-width="2.7"/>
<line x1="321.53" y1="1193.50" x2="321.53" y2="1197.50" stroke="#000" stroke-width="2.7"/>
<line x1="341.48" y1="1193.50" x2="341.48" y2="1197.50" stroke="#000" stroke-width="2.7"/>
<line x1="361.44" y1="1193.50" x2="361.44" y2="1202.10" stroke="#000" stroke-width="2.7"/>
<text><tspan class="r" x="342.64" y="1230.10" font-size="31.70" textLength="38.63" lengthAdjust="spacingAndGlyphs" stroke="#000" stroke-width="0.35">0.3</tspan></text>
<clipPath id="clip_b1"><rect x="475.0" y="52.0" width="585.5999999999999" height="361.9"/></clipPath>
<path d="M475.0,109.6 475.5,109.6 476.0,109.6 476.5,109.6 477.0,109.6 477.5,109.6 478.0,109.6 478.5,109.6 479.0,109.6 479.5,109.6 480.0,109.6 480.5,109.6 481.0,109.6 481.5,109.6 482.0,109.6 482.5,109.6 483.0,109.6 483.5,109.6 484.0,109.6 484.5,109.6 485.0,109.6 485.5,109.6 486.0,109.6 486.5,109.6 487.0,109.6 487.5,109.6 488.0,109.6 488.5,109.6 489.0,109.6 489.5,109.6 490.0,109.6 490.5,109.6 491.0,109.6 491.5,109.6 492.0,109.6 492.5,109.6 493.0,109.6 493.5,109.6 494.0,109.6 494.5,109.6 495.0,109.6 495.5,109.6 496.0,109.6 496.5,109.6 497.0,109.6 497.5,109.6 498.0,109.6 498.5,109.6 499.0,109.6 499.5,109.6 500.0,109.6 500.5,109.5 501.0,109.5 501.5,109.5 502.0,109.5 502.5,109.5 503.0,109.5 503.5,109.5 504.0,109.5 504.5,109.5 505.0,109.5 505.5,109.5 506.0,109.5 506.5,109.5 507.0,109.5 507.5,109.5 508.0,109.5 508.5,109.5 509.0,109.5 509.5,109.5 510.0,109.5 510.5,109.5 511.0,109.5 511.5,109.5 511.9,109.5 512.4,109.5 512.9,109.5 513.4,109.5 513.9,109.5 514.4,109.5 514.9,109.5 515.4,109.5 515.9,109.5 516.4,109.5 516.9,109.5 517.4,109.5 517.9,109.5 518.4,109.5 518.9,109.4 519.4,109.4 519.9,109.4 520.4,109.4 520.9,109.4 521.4,109.4 521.9,109.4 522.4,109.4 522.9,109.4 523.4,109.4 523.9,109.4 524.4,109.4 524.9,109.4 525.4,109.4 525.9,109.4 526.4,109.4 526.9,109.4 527.4,109.4 527.9,109.4 528.4,109.4 528.9,109.4 529.4,109.4 529.9,109.4 530.4,109.4 530.9,109.4 531.4,109.4 531.9,109.4 532.4,109.3 532.9,109.3 533.4,109.3 533.9,109.3 534.4,109.3 534.9,109.3 535.4,109.3 535.9,109.3 536.4,109.3 536.9,109.3 537.4,109.3 537.9,109.3 538.4,109.3 538.9,109.3 539.4,109.3 539.9,109.3 540.4,109.3 540.9,109.3 541.4,109.3 541.9,109.3 542.4,109.3 542.9,109.3 543.4,109.2 543.9,109.2 544.4,109.2 544.9,109.2 545.4,109.2 545.9,109.2 546.4,109.2 546.9,109.2 547.4,109.2 547.9,109.2 548.4,109.2 548.9,109.2 549.4,109.2 549.9,109.2 550.4,109.2 550.9,109.2 551.4,109.2 551.9,109.2 552.4,109.2 552.9,109.2 553.4,109.1 553.9,109.1 554.4,109.1 554.9,109.1 555.4,109.1 555.9,109.1 556.4,109.1 556.9,109.1 557.4,109.1 557.9,109.1 558.4,109.1 558.9,109.1 559.4,109.1 559.9,109.1 560.4,109.1 560.9,109.1 561.4,109.1 561.9,109.0 562.4,109.0 562.9,109.0 563.4,109.0 563.9,109.0 564.4,109.0 564.9,109.0 565.4,109.0 565.9,109.0 566.4,109.0 566.9,109.0 567.4,109.0 567.9,109.0 568.4,109.0 568.9,109.0 569.4,109.0 569.9,108.9 570.4,108.9 570.9,108.9 571.4,108.9 571.9,108.9 572.4,108.9 572.9,108.9 573.4,108.9 573.9,108.9 574.4,108.9 574.9,108.9 575.4,108.9 575.9,108.9 576.4,108.9 576.9,108.9 577.4,108.9 577.9,108.8 578.4,108.8 578.9,108.8 579.4,108.8 579.9,108.8 580.4,108.8 580.9,108.8 581.4,108.8 581.9,108.8 582.4,108.8 582.9,108.8 583.4,108.8 583.9,108.8 584.4,108.8 584.8,108.7 585.3,108.7 585.8,108.7 586.3,108.7 586.8,108.7 587.3,108.7 587.8,108.7 588.3,108.7 588.8,108.7 589.3,108.7 589.8,108.7 590.3,108.7 590.8,108.7 591.3,108.7 591.8,108.6 592.3,108.6 592.8,108.6 593.3,108.6 593.8,108.6 594.3,108.6 594.8,108.6 595.3,108.6 595.8,108.6 596.3,108.6 596.8,108.6 597.3,108.6 597.8,108.5 598.3,108.5 598.8,108.5 599.3,108.5 599.8,108.5 600.3,108.5 600.8,108.5 601.3,108.5 601.8,108.4 602.3,108.4 602.8,108.4 603.3,108.4 603.8,108.4 604.3,108.4 604.8,108.4 605.3,108.3 605.8,108.3 606.3,108.3 606.8,108.3 607.3,108.3 607.8,108.3 608.3,108.2 608.8,108.2 609.3,108.2 609.8,108.2 610.3,108.2 610.8,108.2 611.3,108.1 611.8,108.1 612.3,108.1 612.8,108.1 613.3,108.1 613.8,108.0 614.3,108.0 614.8,108.0 615.3,108.0 615.8,108.0 616.3,107.9 616.8,107.9 617.3,107.9 617.8,107.9 618.3,107.9 618.8,107.8 619.3,107.8 619.8,107.8 620.3,107.8 620.8,107.8 621.3,107.7 621.8,107.7 622.3,107.7 622.8,107.7 623.3,107.6 623.8,107.6 624.3,107.6 624.8,107.6 625.3,107.5 625.8,107.5 626.3,107.5 626.8,107.5 627.3,107.4 627.8,107.4 628.3,107.4 628.8,107.4 629.3,107.3 629.8,107.3 630.3,107.3 630.8,107.2 631.3,107.2 631.8,107.2 632.3,107.2 632.8,107.1 633.3,107.1 633.8,107.1 634.3,107.0 634.8,107.0 635.3,107.0 635.8,107.0 636.3,106.9 636.8,106.9 637.3,106.9 637.8,106.8 638.3,106.8 638.8,106.8 639.3,106.7 639.8,106.7 640.3,106.7 640.8,106.7 641.3,106.6 641.8,106.6 642.3,106.6 642.8,106.5 643.3,106.5 643.8,106.5 644.3,106.4 644.8,106.4 645.3,106.4 645.8,106.3 646.3,106.3 646.8,106.3 647.3,106.2 647.8,106.2 648.3,106.1 648.8,106.1 649.3,106.1 649.8,106.0 650.3,106.0 650.8,106.0 651.3,105.9 651.8,105.9 652.3,105.8 652.8,105.8 653.3,105.7 653.8,105.7 654.3,105.7 654.8,105.6 655.3,105.6 655.8,105.5 656.3,105.5 656.8,105.4 657.3,105.4 657.8,105.3 658.2,105.3 658.7,105.2 659.2,105.2 659.7,105.2 660.2,105.1 660.7,105.0 661.2,105.0 661.7,104.9 662.2,104.9 662.7,104.8 663.2,104.8 663.7,104.7 664.2,104.7 664.7,104.6 665.2,104.5 665.7,104.5 666.2,104.4 666.7,104.4 667.2,104.3 667.7,104.2 668.2,104.2 668.7,104.1 669.2,104.0 669.7,104.0 670.2,103.9 670.7,103.8 671.2,103.8 671.7,103.7 672.2,103.6 672.7,103.5 673.2,103.5 673.7,103.4 674.2,103.3 674.7,103.2 675.2,103.2 675.7,103.1 676.2,103.0 676.7,102.9 677.2,102.8 677.7,102.7 678.2,102.6 678.7,102.5 679.2,102.4 679.7,102.3 680.2,102.2 680.7,102.1 681.2,102.0 681.7,101.9 682.2,101.8 682.7,101.7 683.2,101.6 683.7,101.5 684.2,101.3 684.7,101.2 685.2,101.1 685.7,100.9 686.2,100.8 686.7,100.7 687.2,100.5 687.7,100.4 688.2,100.2 688.7,100.1 689.2,99.9 689.7,99.8 690.2,99.6 690.7,99.4 691.2,99.2 691.7,99.0 692.2,98.8 692.7,98.6 693.2,98.4 693.7,98.2 694.2,97.9 694.7,97.7 695.2,97.5 695.7,97.2 696.2,97.0 696.7,96.7 697.2,96.5 697.7,96.2 698.2,95.9 698.7,95.6 699.2,95.3 699.7,95.0 700.2,94.7 700.7,94.4 701.2,94.1 701.7,93.8 702.2,93.5 702.7,93.2 703.2,92.8 703.7,92.5 704.2,92.1 704.7,91.7 705.2,91.4 705.7,90.9 706.2,90.5 706.7,90.1 707.2,89.6 707.7,89.2 708.2,88.7 708.7,88.2 709.2,87.8 709.7,87.3 710.2,86.8 710.7,86.3 711.2,85.8 711.7,85.3 712.2,84.8 712.7,84.3 713.2,83.8 713.7,83.3 714.2,82.8 714.7,82.3 715.2,81.8 715.7,81.3 716.2,80.8 716.7,80.3 717.2,79.8 717.7,79.2 718.2,78.7 718.7,78.2 719.2,77.7 719.7,77.1 720.2,76.6 720.7,76.1 721.2,75.6 721.7,75.2 722.2,74.7 722.7,74.3 723.2,73.9 723.7,73.5 724.2,73.0 724.7,72.7 725.2,72.3 725.7,71.9 726.2,71.6 726.7,71.4 727.2,71.2 727.7,71.1 728.2,71.0 728.7,71.0 729.2,71.1 729.7,71.3 730.2,71.5 730.7,71.8 731.1,72.0 731.6,72.4 732.1,72.7 732.6,73.1 733.1,73.5 733.6,73.9 734.1,74.3 734.6,74.7 735.1,75.2 735.6,75.6 736.1,76.1 736.6,76.6 737.1,77.2 737.6,77.7 738.1,78.4 738.6,79.1 739.1,79.8 739.6,80.7 740.1,81.6 740.6,82.6 741.1,83.7 741.6,85.0 742.1,86.4 742.6,87.9 743.1,89.6 743.6,91.4 744.1,93.3 744.6,95.3 745.1,97.4 745.6,99.6 746.1,101.8 746.6,103.9 747.1,106.1 747.6,108.2 748.1,110.4 748.6,112.6 749.1,114.9 749.6,117.2 750.1,119.5 750.6,122.0 751.1,124.5 751.6,127.2 752.1,130.0 752.6,133.0 753.1,136.2 753.6,139.8 754.1,143.9 754.6,148.5 755.1,153.8 755.6,159.6 756.1,166.1 756.6,173.0 757.1,180.4 757.6,188.2 758.1,196.7 758.6,205.9 759.1,215.9 759.6,226.5 760.1,237.7 760.6,249.2 761.1,261.1 761.6,273.2 762.1,285.3 762.6,297.4 763.1,309.2 763.6,320.6 764.1,331.5 764.6,342.1 765.1,352.3 765.6,362.2 766.1,371.6 766.6,380.3 767.1,388.3 767.6,396.0 768.1,388.3 768.6,380.3 769.1,371.6 769.6,362.2 770.1,352.3 770.6,342.1 771.1,331.5 771.6,320.6 772.1,309.2 772.6,297.4 773.1,285.3 773.6,273.2 774.1,261.1 774.6,249.2 775.1,237.7 775.6,226.5 776.1,215.9 776.6,205.9 777.1,196.7 777.6,188.2 778.1,180.4 778.6,173.0 779.1,166.1 779.6,159.6 780.1,153.8 780.6,148.5 781.1,143.9 781.6,139.8 782.1,136.2 782.6,133.0 783.1,130.0 783.6,127.2 784.1,124.5 784.6,122.0 785.1,119.5 785.6,117.2 786.1,114.9 786.6,112.6 787.1,110.4 787.6,108.2 788.1,106.1 788.6,103.9 789.1,101.8 789.6,99.6 790.1,97.4 790.6,95.3 791.1,93.3 791.6,91.4 792.1,89.6 792.6,87.9 793.1,86.4 793.6,85.0 794.1,83.7 794.6,82.6 795.1,81.6 795.6,80.7 796.1,79.8 796.6,79.1 797.1,78.4 797.6,77.7 798.1,77.2 798.6,76.6 799.1,76.1 799.6,75.6 800.1,75.2 800.6,74.7 801.1,74.3 801.6,73.9 802.1,73.5 802.6,73.1 803.1,72.7 803.6,72.4 804.1,72.0 804.5,71.8 805.0,71.5 805.5,71.3 806.0,71.1 806.5,71.0 807.0,71.0 807.5,71.1 808.0,71.2 808.5,71.4 809.0,71.6 809.5,71.9 810.0,72.3 810.5,72.7 811.0,73.0 811.5,73.5 812.0,73.9 812.5,74.3 813.0,74.7 813.5,75.2 814.0,75.6 814.5,76.1 815.0,76.6 815.5,77.1 816.0,77.7 816.5,78.2 817.0,78.7 817.5,79.2 818.0,79.8 818.5,80.3 819.0,80.8 819.5,81.3 820.0,81.8 820.5,82.3 821.0,82.8 821.5,83.3 822.0,83.8 822.5,84.3 823.0,84.8 823.5,85.3 824.0,85.8 824.5,86.3 825.0,86.8 825.5,87.3 826.0,87.8 826.5,88.2 827.0,88.7 827.5,89.2 828.0,89.6 828.5,90.1 829.0,90.5 829.5,90.9 830.0,91.4 830.5,91.7 831.0,92.1 831.5,92.5 832.0,92.8 832.5,93.2 833.0,93.5 833.5,93.8 834.0,94.1 834.5,94.4 835.0,94.7 835.5,95.0 836.0,95.3 836.5,95.6 837.0,95.9 837.5,96.2 838.0,96.5 838.5,96.7 839.0,97.0 839.5,97.2 840.0,97.5 840.5,97.7 841.0,97.9 841.5,98.2 842.0,98.4 842.5,98.6 843.0,98.8 843.5,99.0 844.0,99.2 844.5,99.4 845.0,99.6 845.5,99.8 846.0,99.9 846.5,100.1 847.0,100.2 847.5,100.4 848.0,100.5 848.5,100.7 849.0,100.8 849.5,100.9 850.0,101.1 850.5,101.2 851.0,101.3 851.5,101.5 852.0,101.6 852.5,101.7 853.0,101.8 853.5,101.9 854.0,102.0 854.5,102.1 855.0,102.2 855.5,102.3 856.0,102.4 856.5,102.5 857.0,102.6 857.5,102.7 858.0,102.8 858.5,102.9 859.0,103.0 859.5,103.1 860.0,103.2 860.5,103.2 861.0,103.3 861.5,103.4 862.0,103.5 862.5,103.5 863.0,103.6 863.5,103.7 864.0,103.8 864.5,103.8 865.0,103.9 865.5,104.0 866.0,104.0 866.5,104.1 867.0,104.2 867.5,104.2 868.0,104.3 868.5,104.4 869.0,104.4 869.5,104.5 870.0,104.5 870.5,104.6 871.0,104.7 871.5,104.7 872.0,104.8 872.5,104.8 873.0,104.9 873.5,104.9 874.0,105.0 874.5,105.0 875.0,105.1 875.5,105.2 876.0,105.2 876.5,105.2 877.0,105.3 877.4,105.3 877.9,105.4 878.4,105.4 878.9,105.5 879.4,105.5 879.9,105.6 880.4,105.6 880.9,105.7 881.4,105.7 881.9,105.7 882.4,105.8 882.9,105.8 883.4,105.9 883.9,105.9 884.4,106.0 884.9,106.0 885.4,106.0 885.9,106.1 886.4,106.1 886.9,106.1 887.4,106.2 887.9,106.2 888.4,106.3 888.9,106.3 889.4,106.3 889.9,106.4 890.4,106.4 890.9,106.4 891.4,106.5 891.9,106.5 892.4,106.5 892.9,106.6 893.4,106.6 893.9,106.6 894.4,106.7 894.9,106.7 895.4,106.7 895.9,106.7 896.4,106.8 896.9,106.8 897.4,106.8 897.9,106.9 898.4,106.9 898.9,106.9 899.4,107.0 899.9,107.0 900.4,107.0 900.9,107.0 901.4,107.1 901.9,107.1 902.4,107.1 902.9,107.2 903.4,107.2 903.9,107.2 904.4,107.2 904.9,107.3 905.4,107.3 905.9,107.3 906.4,107.4 906.9,107.4 907.4,107.4 907.9,107.4 908.4,107.5 908.9,107.5 909.4,107.5 909.9,107.5 910.4,107.6 910.9,107.6 911.4,107.6 911.9,107.6 912.4,107.7 912.9,107.7 913.4,107.7 913.9,107.7 914.4,107.8 914.9,107.8 915.4,107.8 915.9,107.8 916.4,107.8 916.9,107.9 917.4,107.9 917.9,107.9 918.4,107.9 918.9,107.9 919.4,108.0 919.9,108.0 920.4,108.0 920.9,108.0 921.4,108.0 921.9,108.1 922.4,108.1 922.9,108.1 923.4,108.1 923.9,108.1 924.4,108.2 924.9,108.2 925.4,108.2 925.9,108.2 926.4,108.2 926.9,108.2 927.4,108.3 927.9,108.3 928.4,108.3 928.9,108.3 929.4,108.3 929.9,108.3 930.4,108.4 930.9,108.4 931.4,108.4 931.9,108.4 932.4,108.4 932.9,108.4 933.4,108.4 933.9,108.5 934.4,108.5 934.9,108.5 935.4,108.5 935.9,108.5 936.4,108.5 936.9,108.5 937.4,108.5 937.9,108.6 938.4,108.6 938.9,108.6 939.4,108.6 939.9,108.6 940.4,108.6 940.9,108.6 941.4,108.6 941.9,108.6 942.4,108.6 942.9,108.6 943.4,108.6 943.9,108.7 944.4,108.7 944.9,108.7 945.4,108.7 945.9,108.7 946.4,108.7 946.9,108.7 947.4,108.7 947.9,108.7 948.4,108.7 948.9,108.7 949.4,108.7 949.9,108.7 950.4,108.7 950.8,108.8 951.3,108.8 951.8,108.8 952.3,108.8 952.8,108.8 953.3,108.8 953.8,108.8 954.3,108.8 954.8,108.8 955.3,108.8 955.8,108.8 956.3,108.8 956.8,108.8 957.3,108.8 957.8,108.9 958.3,108.9 958.8,108.9 959.3,108.9 959.8,108.9 960.3,108.9 960.8,108.9 961.3,108.9 961.8,108.9 962.3,108.9 962.8,108.9 963.3,108.9 963.8,108.9 964.3,108.9 964.8,108.9 965.3,108.9 965.8,109.0 966.3,109.0 966.8,109.0 967.3,109.0 967.8,109.0 968.3,109.0 968.8,109.0 969.3,109.0 969.8,109.0 970.3,109.0 970.8,109.0 971.3,109.0 971.8,109.0 972.3,109.0 972.8,109.0 973.3,109.0 973.8,109.1 974.3,109.1 974.8,109.1 975.3,109.1 975.8,109.1 976.3,109.1 976.8,109.1 977.3,109.1 977.8,109.1 978.3,109.1 978.8,109.1 979.3,109.1 979.8,109.1 980.3,109.1 980.8,109.1 981.3,109.1 981.8,109.1 982.3,109.2 982.8,109.2 983.3,109.2 983.8,109.2 984.3,109.2 984.8,109.2 985.3,109.2 985.8,109.2 986.3,109.2 986.8,109.2 987.3,109.2 987.8,109.2 988.3,109.2 988.8,109.2 989.3,109.2 989.8,109.2 990.3,109.2 990.8,109.2 991.3,109.2 991.8,109.2 992.3,109.3 992.8,109.3 993.3,109.3 993.8,109.3 994.3,109.3 994.8,109.3 995.3,109.3 995.8,109.3 996.3,109.3 996.8,109.3 997.3,109.3 997.8,109.3 998.3,109.3 998.8,109.3 999.3,109.3 999.8,109.3 1000.3,109.3 1000.8,109.3 1001.3,109.3 1001.8,109.3 1002.3,109.3 1002.8,109.3 1003.3,109.4 1003.8,109.4 1004.3,109.4 1004.8,109.4 1005.3,109.4 1005.8,109.4 1006.3,109.4 1006.8,109.4 1007.3,109.4 1007.8,109.4 1008.3,109.4 1008.8,109.4 1009.3,109.4 1009.8,109.4 1010.3,109.4 1010.8,109.4 1011.3,109.4 1011.8,109.4 1012.3,109.4 1012.8,109.4 1013.3,109.4 1013.8,109.4 1014.3,109.4 1014.8,109.4 1015.3,109.4 1015.8,109.4 1016.3,109.4 1016.8,109.5 1017.3,109.5 1017.8,109.5 1018.3,109.5 1018.8,109.5 1019.3,109.5 1019.8,109.5 1020.3,109.5 1020.8,109.5 1021.3,109.5 1021.8,109.5 1022.3,109.5 1022.8,109.5 1023.3,109.5 1023.7,109.5 1024.2,109.5 1024.7,109.5 1025.2,109.5 1025.7,109.5 1026.2,109.5 1026.7,109.5 1027.2,109.5 1027.7,109.5 1028.2,109.5 1028.7,109.5 1029.2,109.5 1029.7,109.5 1030.2,109.5 1030.7,109.5 1031.2,109.5 1031.7,109.5 1032.2,109.5 1032.7,109.5 1033.2,109.5 1033.7,109.5 1034.2,109.5 1034.7,109.5 1035.2,109.6 1035.7,109.6 1036.2,109.6 1036.7,109.6 1037.2,109.6 1037.7,109.6 1038.2,109.6 1038.7,109.6 1039.2,109.6 1039.7,109.6 1040.2,109.6 1040.7,109.6 1041.2,109.6 1041.7,109.6 1042.2,109.6 1042.7,109.6 1043.2,109.6 1043.7,109.6 1044.2,109.6 1044.7,109.6 1045.2,109.6 1045.7,109.6 1046.2,109.6 1046.7,109.6 1047.2,109.6 1047.7,109.6 1048.2,109.6 1048.7,109.6 1049.2,109.6 1049.7,109.6 1050.2,109.6 1050.7,109.6 1051.2,109.6 1051.7,109.6 1052.2,109.6 1052.7,109.6 1053.2,109.6 1053.7,109.6 1054.2,109.6 1054.7,109.6 1055.2,109.6 1055.7,109.6 1056.2,109.6 1056.7,109.6 1057.2,109.6 1057.7,109.6 1058.2,109.6 1058.7,109.6 1059.2,109.6 1059.7,109.6 1060.2,109.6" fill="none" stroke="#4472c4" stroke-width="1.65" stroke-linejoin="round" stroke-linecap="butt" clip-path="url(#clip_b1)"/>
<path d="M475.0,109.7 475.5,109.6 476.0,109.6 476.5,109.5 477.0,109.4 477.5,109.4 478.0,109.3 478.5,109.3 479.0,109.3 479.5,109.3 480.0,109.3 480.5,109.3 481.0,109.3 481.5,109.4 482.0,109.5 482.5,109.5 483.0,109.6 483.5,109.7 484.0,109.7 484.5,109.8 485.0,109.9 485.5,109.9 486.0,109.9 486.5,109.9 487.0,109.9 487.5,109.9 488.0,109.9 488.5,109.8 489.0,109.8 489.5,109.7 490.0,109.6 490.5,109.5 491.0,109.5 491.5,109.4 492.0,109.3 492.5,109.3 493.0,109.2 493.5,109.2 494.0,109.2 494.5,109.2 495.0,109.3 495.5,109.3 496.0,109.4 496.5,109.4 497.0,109.5 497.5,109.6 498.0,109.6 498.5,109.7 499.0,109.8 499.5,109.8 500.0,109.9 500.5,109.9 501.0,109.9 501.5,109.9 502.0,109.9 502.5,109.8 503.0,109.8 503.5,109.7 504.0,109.7 504.5,109.6 505.0,109.5 505.5,109.4 506.0,109.3 506.5,109.3 507.0,109.2 507.5,109.2 508.0,109.1 508.5,109.1 509.0,109.1 509.5,109.2 510.0,109.2 510.5,109.3 511.0,109.3 511.5,109.4 511.9,109.5 512.4,109.6 512.9,109.6 513.4,109.7 513.9,109.8 514.4,109.8 514.9,109.8 515.4,109.9 515.9,109.9 516.4,109.8 516.9,109.8 517.4,109.7 517.9,109.7 518.4,109.6 518.9,109.5 519.4,109.4 519.9,109.3 520.4,109.3 520.9,109.2 521.4,109.1 521.9,109.1 522.4,109.0 522.9,109.0 523.4,109.0 523.9,109.0 524.4,109.1 524.9,109.1 525.4,109.2 525.9,109.3 526.4,109.4 526.9,109.4 527.4,109.5 527.9,109.6 528.4,109.7 528.9,109.7 529.4,109.8 529.9,109.8 530.4,109.8 530.9,109.8 531.4,109.7 531.9,109.7 532.4,109.6 532.9,109.5 533.4,109.4 533.9,109.3 534.4,109.2 534.9,109.2 535.4,109.1 535.9,109.0 536.4,108.9 536.9,108.9 537.4,108.9 537.9,108.9 538.4,108.9 538.9,108.9 539.4,109.0 539.9,109.1 540.4,109.1 540.9,109.2 541.4,109.3 541.9,109.4 542.4,109.5 542.9,109.5 543.4,109.6 543.9,109.6 544.4,109.7 544.9,109.7 545.4,109.7 545.9,109.6 546.4,109.6 546.9,109.5 547.4,109.4 547.9,109.3 548.4,109.2 548.9,109.1 549.4,109.0 549.9,108.9 550.4,108.8 550.9,108.8 551.4,108.7 551.9,108.7 552.4,108.7 552.9,108.7 553.4,108.8 553.9,108.8 554.4,108.9 554.9,109.0 555.4,109.1 555.9,109.1 556.4,109.2 556.9,109.3 557.4,109.4 557.9,109.5 558.4,109.5 558.9,109.5 559.4,109.5 559.9,109.5 560.4,109.5 560.9,109.4 561.4,109.4 561.9,109.3 562.4,109.2 562.9,109.1 563.4,109.0 563.9,108.9 564.4,108.8 564.9,108.7 565.4,108.6 565.9,108.5 566.4,108.5 566.9,108.5 567.4,108.5 567.9,108.6 568.4,108.6 568.9,108.7 569.4,108.8 569.9,108.9 570.4,109.0 570.9,109.1 571.4,109.1 571.9,109.2 572.4,109.3 572.9,109.4 573.4,109.4 573.9,109.4 574.4,109.4 574.9,109.3 575.4,109.3 575.9,109.2 576.4,109.1 576.9,109.0 577.4,108.9 577.9,108.8 578.4,108.7 578.9,108.6 579.4,108.5 579.9,108.4 580.4,108.3 580.9,108.3 581.4,108.3 581.9,108.3 582.4,108.3 582.9,108.4 583.4,108.5 583.9,108.5 584.4,108.6 584.8,108.7 585.3,108.9 585.8,109.0 586.3,109.0 586.8,109.1 587.3,109.2 587.8,109.2 588.3,109.2 588.8,109.2 589.3,109.2 589.8,109.1 590.3,109.0 590.8,108.9 591.3,108.8 591.8,108.7 592.3,108.6 592.8,108.5 593.3,108.4 593.8,108.2 594.3,108.2 594.8,108.1 595.3,108.0 595.8,108.0 596.3,108.0 596.8,108.1 597.3,108.1 597.8,108.2 598.3,108.3 598.8,108.4 599.3,108.5 599.8,108.6 600.3,108.7 600.8,108.8 601.3,108.9 601.8,109.0 602.3,109.0 602.8,109.0 603.3,109.0 603.8,109.0 604.3,108.9 604.8,108.8 605.3,108.7 605.8,108.5 606.3,108.4 606.8,108.3 607.3,108.1 607.8,108.0 608.3,107.9 608.8,107.7 609.3,107.7 609.8,107.6 610.3,107.5 610.8,107.5 611.3,107.6 611.8,107.6 612.3,107.7 612.8,107.8 613.3,107.9 613.8,108.0 614.3,108.1 614.8,108.2 615.3,108.3 615.8,108.4 616.3,108.5 616.8,108.5 617.3,108.6 617.8,108.5 618.3,108.5 618.8,108.4 619.3,108.3 619.8,108.2 620.3,108.0 620.8,107.9 621.3,107.7 621.8,107.6 622.3,107.4 622.8,107.3 623.3,107.1 623.8,107.0 624.3,106.9 624.8,106.9 625.3,106.9 625.8,106.9 626.3,106.9 626.8,107.0 627.3,107.1 627.8,107.2 628.3,107.3 628.8,107.4 629.3,107.5 629.8,107.7 630.3,107.7 630.8,107.8 631.3,107.9 631.8,107.9 632.3,107.9 632.8,107.8 633.3,107.7 633.8,107.6 634.3,107.5 634.8,107.3 635.3,107.1 635.8,107.0 636.3,106.8 636.8,106.6 637.3,106.4 637.8,106.3 638.3,106.2 638.8,106.0 639.3,106.0 639.8,106.0 640.3,106.0 640.8,106.0 641.3,106.1 641.8,106.2 642.3,106.3 642.8,106.4 643.3,106.6 643.8,106.7 644.3,106.8 644.8,106.9 645.3,107.0 645.8,107.1 646.3,107.1 646.8,107.1 647.3,107.0 647.8,106.9 648.3,106.8 648.8,106.6 649.3,106.4 649.8,106.2 650.3,106.0 650.8,105.8 651.3,105.6 651.8,105.4 652.3,105.2 652.8,105.1 653.3,104.9 653.8,104.9 654.3,104.8 654.8,104.8 655.3,104.8 655.8,104.9 656.3,105.0 656.8,105.1 657.3,105.3 657.8,105.4 658.2,105.5 658.7,105.7 659.2,105.8 659.7,105.9 660.2,105.9 660.7,105.9 661.2,105.9 661.7,105.8 662.2,105.7 662.7,105.6 663.2,105.4 663.7,105.2 664.2,104.9 664.7,104.7 665.2,104.4 665.7,104.2 666.2,103.9 666.7,103.7 667.2,103.5 667.7,103.3 668.2,103.2 668.7,103.1 669.2,103.1 669.7,103.1 670.2,103.2 670.7,103.3 671.2,103.4 671.7,103.5 672.2,103.6 672.7,103.8 673.2,103.9 673.7,104.0 674.2,104.1 674.7,104.2 675.2,104.2 675.7,104.1 676.2,104.1 676.7,103.9 677.2,103.7 677.7,103.5 678.2,103.2 678.7,102.9 679.2,102.5 679.7,102.2 680.2,101.9 680.7,101.6 681.2,101.3 681.7,101.0 682.2,100.8 682.7,100.6 683.2,100.4 683.7,100.3 684.2,100.3 684.7,100.3 685.2,100.4 685.7,100.5 686.2,100.6 686.7,100.7 687.2,100.8 687.7,100.9 688.2,100.9 688.7,101.0 689.2,101.0 689.7,100.9 690.2,100.8 690.7,100.7 691.2,100.4 691.7,100.1 692.2,99.7 692.7,99.3 693.2,98.8 693.7,98.3 694.2,97.8 694.7,97.3 695.2,96.8 695.7,96.3 696.2,95.9 696.7,95.5 697.2,95.1 697.7,94.8 698.2,94.5 698.7,94.3 699.2,94.2 699.7,94.1 700.2,94.1 700.7,94.1 701.2,94.1 701.7,94.1 702.2,94.0 702.7,94.0 703.2,93.9 703.7,93.8 704.2,93.6 704.7,93.4 705.2,93.0 705.7,92.6 706.2,92.1 706.7,91.4 707.2,90.7 707.7,90.0 708.2,89.2 708.7,88.4 709.2,87.5 709.7,86.7 710.2,85.9 710.7,85.1 711.2,84.4 711.7,83.7 712.2,83.1 712.7,82.6 713.2,82.1 713.7,81.8 714.2,81.6 714.7,81.4 715.2,81.2 715.7,81.1 716.2,81.0 716.7,80.8 717.2,80.7 717.7,80.5 718.2,80.3 718.7,80.0 719.2,79.7 719.7,79.3 720.2,78.8 720.7,78.1 721.2,77.4 721.7,76.7 722.2,75.8 722.7,74.9 723.2,74.0 723.7,73.1 724.2,72.3 724.7,71.4 725.2,70.7 725.7,70.0 726.2,69.4 726.7,69.1 727.2,68.9 727.7,68.9 728.2,69.1 728.7,69.5 729.2,70.0 729.7,70.6 730.2,71.3 730.7,72.1 731.1,72.9 731.6,73.7 732.1,74.6 732.6,75.3 733.1,76.1 733.6,76.7 734.1,77.3 734.6,77.7 735.1,77.9 735.6,78.0 736.1,78.1 736.6,78.0 737.1,78.0 737.6,77.9 738.1,77.9 738.6,77.9 739.1,78.0 739.6,78.3 740.1,78.7 740.6,79.4 741.1,80.3 741.6,81.5 742.1,83.0 742.6,84.9 743.1,87.0 743.6,89.4 744.1,92.1 744.6,94.9 745.1,97.9 745.6,100.9 746.1,103.9 746.6,106.8 747.1,109.6 747.6,112.4 748.1,115.0 748.6,117.4 749.1,119.7 749.6,121.8 750.1,123.5 750.6,125.1 751.1,126.6 751.6,128.1 752.1,129.6 752.6,131.3 753.1,133.3 753.6,135.7 754.1,138.7 754.6,142.5 755.1,147.2 755.6,152.8 756.1,159.4 756.6,167.1 757.1,175.6 757.6,185.0 758.1,195.3 758.6,206.5 759.1,218.5 759.6,231.1 760.1,244.1 760.6,257.3 761.1,270.5 761.6,283.5 762.1,296.1 762.6,307.8 763.1,318.1 763.6,327.2 764.1,335.3 764.6,342.7 765.1,349.6 765.6,356.2 766.1,362.6 766.6,368.9 767.1,375.4 767.6,382.5 768.1,375.3 768.6,368.7 769.1,362.1 769.6,355.4 770.1,348.5 770.6,341.4 771.1,333.9 771.6,325.9 772.1,316.9 772.6,307.0 773.1,295.9 773.6,283.8 774.1,271.2 774.6,258.2 775.1,245.2 775.6,232.3 776.1,219.7 776.6,207.7 777.1,196.4 777.6,186.0 778.1,176.4 778.6,167.7 779.1,159.7 779.6,152.8 780.1,147.0 780.6,142.1 781.1,138.2 781.6,135.0 782.1,132.4 782.6,130.3 783.1,128.6 783.6,127.0 784.1,125.6 784.6,124.1 785.1,122.7 785.6,121.1 786.1,119.4 786.6,117.5 787.1,115.3 787.6,112.8 788.1,110.3 788.6,107.5 789.1,104.7 789.6,101.7 790.1,98.7 790.6,95.7 791.1,92.8 791.6,90.1 792.1,87.5 792.6,85.3 793.1,83.3 793.6,81.6 794.1,80.2 794.6,79.2 795.1,78.4 795.6,77.9 796.1,77.6 796.6,77.4 797.1,77.3 797.6,77.3 798.1,77.4 798.6,77.5 799.1,77.6 799.6,77.6 800.1,77.6 800.6,77.5 801.1,77.2 801.6,76.8 802.1,76.3 802.6,75.6 803.1,74.9 803.6,74.1 804.1,73.3 804.5,72.5 805.0,71.7 805.5,70.9 806.0,70.3 806.5,69.7 807.0,69.3 807.5,69.0 808.0,68.9 808.5,69.0 809.0,69.4 809.5,69.8 810.0,70.5 810.5,71.2 811.0,72.0 811.5,72.8 812.0,73.7 812.5,74.6 813.0,75.5 813.5,76.3 814.0,77.2 814.5,77.9 815.0,78.7 815.5,79.3 816.0,79.8 816.5,80.2 817.0,80.5 817.5,80.8 818.0,81.0 818.5,81.2 819.0,81.3 819.5,81.5 820.0,81.6 820.5,81.7 821.0,81.9 821.5,82.0 822.0,82.3 822.5,82.6 823.0,83.1 823.5,83.6 824.0,84.2 824.5,84.9 825.0,85.6 825.5,86.4 826.0,87.2 826.5,88.0 827.0,88.9 827.5,89.7 828.0,90.5 828.5,91.2 829.0,91.9 829.5,92.5 830.0,93.0 830.5,93.4 831.0,93.7 831.5,94.0 832.0,94.2 832.5,94.3 833.0,94.4 833.5,94.4 834.0,94.4 834.5,94.4 835.0,94.4 835.5,94.5 836.0,94.5 836.5,94.6 837.0,94.7 837.5,94.8 838.0,95.0 838.5,95.3 839.0,95.7 839.5,96.1 840.0,96.5 840.5,97.0 841.0,97.4 841.5,97.9 842.0,98.4 842.5,98.9 843.0,99.4 843.5,99.8 844.0,100.2 844.5,100.5 845.0,100.8 845.5,101.0 846.0,101.2 846.5,101.2 847.0,101.2 847.5,101.2 848.0,101.1 848.5,101.0 849.0,100.9 849.5,100.8 850.0,100.7 850.5,100.6 851.0,100.5 851.5,100.5 852.0,100.5 852.5,100.5 853.0,100.7 853.5,100.8 854.0,101.0 854.5,101.3 855.0,101.6 855.5,101.9 856.0,102.2 856.5,102.5 857.0,102.9 857.5,103.2 858.0,103.5 858.5,103.7 859.0,103.9 859.5,104.1 860.0,104.2 860.5,104.3 861.0,104.3 861.5,104.3 862.0,104.2 862.5,104.1 863.0,104.0 863.5,103.8 864.0,103.7 864.5,103.5 865.0,103.4 865.5,103.3 866.0,103.2 866.5,103.2 867.0,103.2 867.5,103.2 868.0,103.4 868.5,103.5 869.0,103.7 869.5,103.9 870.0,104.1 870.5,104.4 871.0,104.6 871.5,104.9 872.0,105.1 872.5,105.4 873.0,105.6 873.5,105.7 874.0,105.9 874.5,106.0 875.0,106.0 875.5,106.0 876.0,106.0 876.5,105.9 877.0,105.8 877.4,105.7 877.9,105.5 878.4,105.4 878.9,105.2 879.4,105.1 879.9,105.0 880.4,104.9 880.9,104.9 881.4,104.9 881.9,104.9 882.4,105.0 882.9,105.1 883.4,105.2 883.9,105.4 884.4,105.6 884.9,105.8 885.4,106.0 885.9,106.2 886.4,106.4 886.9,106.6 887.4,106.8 887.9,106.9 888.4,107.0 888.9,107.1 889.4,107.1 889.9,107.1 890.4,107.1 890.9,107.0 891.4,106.9 891.9,106.8 892.4,106.7 892.9,106.5 893.4,106.4 893.9,106.3 894.4,106.2 894.9,106.1 895.4,106.0 895.9,106.0 896.4,106.0 896.9,106.1 897.4,106.1 897.9,106.3 898.4,106.4 898.9,106.6 899.4,106.7 899.9,106.9 900.4,107.1 900.9,107.3 901.4,107.4 901.9,107.6 902.4,107.7 902.9,107.8 903.4,107.9 903.9,107.9 904.4,107.9 904.9,107.9 905.4,107.8 905.9,107.7 906.4,107.6 906.9,107.5 907.4,107.4 907.9,107.3 908.4,107.2 908.9,107.1 909.4,107.0 909.9,106.9 910.4,106.9 910.9,106.9 911.4,106.9 911.9,107.0 912.4,107.1 912.9,107.2 913.4,107.4 913.9,107.5 914.4,107.7 914.9,107.8 915.4,108.0 915.9,108.1 916.4,108.3 916.9,108.4 917.4,108.5 917.9,108.6 918.4,108.6 918.9,108.6 919.4,108.5 919.9,108.5 920.4,108.4 920.9,108.3 921.4,108.2 921.9,108.1 922.4,108.0 922.9,107.9 923.4,107.8 923.9,107.7 924.4,107.6 924.9,107.6 925.4,107.6 925.9,107.6 926.4,107.6 926.9,107.7 927.4,107.8 927.9,107.9 928.4,108.1 928.9,108.2 929.4,108.4 929.9,108.5 930.4,108.6 930.9,108.8 931.4,108.9 931.9,108.9 932.4,109.0 932.9,109.0 933.4,109.0 933.9,109.0 934.4,108.9 934.9,108.9 935.4,108.8 935.9,108.7 936.4,108.6 936.9,108.5 937.4,108.3 937.9,108.2 938.4,108.2 938.9,108.1 939.4,108.0 939.9,108.0 940.4,108.0 940.9,108.1 941.4,108.1 941.9,108.2 942.4,108.3 942.9,108.4 943.4,108.5 943.9,108.7 944.4,108.8 944.9,108.9 945.4,109.0 945.9,109.1 946.4,109.2 946.9,109.2 947.4,109.3 947.9,109.3 948.4,109.2 948.9,109.2 949.4,109.1 949.9,109.0 950.4,108.9 950.8,108.8 951.3,108.7 951.8,108.6 952.3,108.5 952.8,108.4 953.3,108.4 953.8,108.3 954.3,108.3 954.8,108.3 955.3,108.3 955.8,108.4 956.3,108.4 956.8,108.5 957.3,108.6 957.8,108.7 958.3,108.9 958.8,109.0 959.3,109.1 959.8,109.2 960.3,109.3 960.8,109.3 961.3,109.4 961.8,109.4 962.3,109.4 962.8,109.4 963.3,109.3 963.8,109.3 964.3,109.2 964.8,109.1 965.3,109.0 965.8,108.9 966.3,108.8 966.8,108.7 967.3,108.7 967.8,108.6 968.3,108.5 968.8,108.5 969.3,108.5 969.8,108.5 970.3,108.6 970.8,108.6 971.3,108.7 971.8,108.8 972.3,108.9 972.8,109.0 973.3,109.1 973.8,109.2 974.3,109.3 974.8,109.4 975.3,109.5 975.8,109.5 976.3,109.6 976.8,109.6 977.3,109.5 977.8,109.5 978.3,109.4 978.8,109.4 979.3,109.3 979.8,109.2 980.3,109.1 980.8,109.0 981.3,108.9 981.8,108.9 982.3,108.8 982.8,108.7 983.3,108.7 983.8,108.7 984.3,108.7 984.8,108.8 985.3,108.8 985.8,108.9 986.3,109.0 986.8,109.1 987.3,109.2 987.8,109.3 988.3,109.4 988.8,109.5 989.3,109.5 989.8,109.6 990.3,109.6 990.8,109.7 991.3,109.7 991.8,109.7 992.3,109.6 992.8,109.6 993.3,109.5 993.8,109.4 994.3,109.4 994.8,109.3 995.3,109.2 995.8,109.1 996.3,109.0 996.8,109.0 997.3,108.9 997.8,108.9 998.3,108.9 998.8,108.9 999.3,108.9 999.8,109.0 1000.3,109.0 1000.8,109.1 1001.3,109.2 1001.8,109.3 1002.3,109.4 1002.8,109.5 1003.3,109.6 1003.8,109.6 1004.3,109.7 1004.8,109.7 1005.3,109.8 1005.8,109.8 1006.3,109.8 1006.8,109.7 1007.3,109.7 1007.8,109.6 1008.3,109.6 1008.8,109.5 1009.3,109.4 1009.8,109.3 1010.3,109.3 1010.8,109.2 1011.3,109.1 1011.8,109.1 1012.3,109.0 1012.8,109.0 1013.3,109.0 1013.8,109.1 1014.3,109.1 1014.8,109.2 1015.3,109.2 1015.8,109.3 1016.3,109.4 1016.8,109.5 1017.3,109.6 1017.8,109.6 1018.3,109.7 1018.8,109.8 1019.3,109.8 1019.8,109.9 1020.3,109.9 1020.8,109.9 1021.3,109.8 1021.8,109.8 1022.3,109.7 1022.8,109.7 1023.3,109.6 1023.7,109.5 1024.2,109.4 1024.7,109.4 1025.2,109.3 1025.7,109.2 1026.2,109.2 1026.7,109.2 1027.2,109.1 1027.7,109.1 1028.2,109.2 1028.7,109.2 1029.2,109.3 1029.7,109.3 1030.2,109.4 1030.7,109.5 1031.2,109.5 1031.7,109.6 1032.2,109.7 1032.7,109.8 1033.2,109.8 1033.7,109.9 1034.2,109.9 1034.7,109.9 1035.2,109.9 1035.7,109.9 1036.2,109.8 1036.7,109.8 1037.2,109.7 1037.7,109.7 1038.2,109.6 1038.7,109.5 1039.2,109.4 1039.7,109.4 1040.2,109.3 1040.7,109.3 1041.2,109.2 1041.7,109.2 1042.2,109.2 1042.7,109.2 1043.2,109.3 1043.7,109.3 1044.2,109.4 1044.7,109.4 1045.2,109.5 1045.7,109.6 1046.2,109.7 1046.7,109.7 1047.2,109.8 1047.7,109.9 1048.2,109.9 1048.7,109.9 1049.2,109.9 1049.7,109.9 1050.2,109.9 1050.7,109.9 1051.2,109.8 1051.7,109.8 1052.2,109.7 1052.7,109.6 1053.2,109.6 1053.7,109.5 1054.2,109.4 1054.7,109.4 1055.2,109.3 1055.7,109.3 1056.2,109.3 1056.7,109.3 1057.2,109.3 1057.7,109.3 1058.2,109.3 1058.7,109.4 1059.2,109.5 1059.7,109.5 1060.2,109.6" fill="none" stroke="#70ad47" stroke-width="1.9" stroke-linejoin="round" stroke-linecap="butt" clip-path="url(#clip_b1)"/>
<rect x="475.0" y="52.0" width="585.5999999999999" height="361.9" fill="none" stroke="#000" stroke-width="1.7"/>
<line x1="463.00" y1="390.80" x2="475.00" y2="390.80" stroke="#000" stroke-width="1.7"/>
<text><tspan class="r" x="418.98" y="404.20" font-size="31.70" textLength="22.30" lengthAdjust="spacingAndGlyphs" stroke="#000" stroke-width="0.35">−</tspan><tspan class="r" x="441.24" y="402.80" font-size="31.70" textLength="16.88" lengthAdjust="spacingAndGlyphs" stroke="#000" stroke-width="0.35">3</tspan></text>
<line x1="469.70" y1="344.00" x2="475.00" y2="344.00" stroke="#000" stroke-width="1.7"/>
<line x1="463.00" y1="297.20" x2="475.00" y2="297.20" stroke="#000" stroke-width="1.7"/>
<text><tspan class="r" x="419.40" y="310.60" font-size="31.70" textLength="22.30" lengthAdjust="spacingAndGlyphs" stroke="#000" stroke-width="0.35">−</tspan><tspan class="r" x="441.78" y="309.20" font-size="31.70" textLength="16.88" lengthAdjust="spacingAndGlyphs" stroke="#000" stroke-width="0.35">2</tspan></text>
<line x1="469.70" y1="250.40" x2="475.00" y2="250.40" stroke="#000" stroke-width="1.7"/>
<line x1="463.00" y1="203.60" x2="475.00" y2="203.60" stroke="#000" stroke-width="1.7"/>
<text><tspan class="r" x="421.05" y="217.00" font-size="31.70" textLength="22.30" lengthAdjust="spacingAndGlyphs" stroke="#000" stroke-width="0.35">−</tspan><tspan class="r" x="441.95" y="215.60" font-size="31.70" textLength="16.88" lengthAdjust="spacingAndGlyphs" stroke="#000" stroke-width="0.35">1</tspan></text>
<line x1="469.70" y1="156.80" x2="475.00" y2="156.80" stroke="#000" stroke-width="1.7"/>
<line x1="463.00" y1="110.00" x2="475.00" y2="110.00" stroke="#000" stroke-width="1.7"/>
<text><tspan class="r" x="441.21" y="122.00" font-size="31.70" textLength="16.88" lengthAdjust="spacingAndGlyphs" stroke="#000" stroke-width="0.35">0</tspan></text>
<line x1="469.70" y1="63.20" x2="475.00" y2="63.20" stroke="#000" stroke-width="1.7"/>
<clipPath id="clip_b2"><rect x="475.0" y="413.9" width="585.5999999999999" height="361.9"/></clipPath>
<path d="M475.0,594.4 475.5,594.4 476.0,594.4 476.5,594.4 477.0,594.4 477.5,594.4 478.0,594.4 478.5,594.4 479.0,594.4 479.5,594.4 480.0,594.4 480.5,594.4 481.0,594.4 481.5,594.4 482.0,594.4 482.5,594.4 483.0,594.4 483.5,594.4 484.0,594.4 484.5,594.4 485.0,594.4 485.5,594.4 486.0,594.4 486.5,594.4 487.0,594.4 487.5,594.4 488.0,594.4 488.5,594.4 489.0,594.4 489.5,594.4 490.0,594.4 490.5,594.4 491.0,594.4 491.5,594.4 492.0,594.4 492.5,594.4 493.0,594.4 493.5,594.4 494.0,594.4 494.5,594.4 495.0,594.4 495.5,594.4 496.0,594.4 496.5,594.4 497.0,594.4 497.5,594.4 498.0,594.4 498.5,594.4 499.0,594.4 499.5,594.4 500.0,594.4 500.5,594.4 501.0,594.4 501.5,594.4 502.0,594.4 502.5,594.4 503.0,594.3 503.5,594.3 504.0,594.3 504.5,594.3 505.0,594.3 505.5,594.3 506.0,594.3 506.5,594.3 507.0,594.3 507.5,594.3 508.0,594.3 508.5,594.3 509.0,594.3 509.5,594.3 510.0,594.3 510.5,594.3 511.0,594.3 511.5,594.3 512.0,594.3 512.5,594.3 513.0,594.3 513.5,594.3 514.0,594.3 514.5,594.3 515.0,594.3 515.5,594.3 516.0,594.3 516.5,594.3 517.0,594.3 517.5,594.3 518.0,594.3 518.5,594.3 519.0,594.3 519.5,594.3 520.0,594.3 520.5,594.3 521.0,594.3 521.5,594.3 522.0,594.3 522.5,594.2 523.0,594.2 523.5,594.2 524.0,594.2 524.5,594.2 525.0,594.2 525.5,594.2 526.0,594.2 526.5,594.2 527.0,594.2 527.5,594.2 528.0,594.2 528.5,594.2 529.0,594.2 529.5,594.2 530.0,594.2 530.5,594.2 531.0,594.2 531.5,594.2 532.0,594.2 532.5,594.2 533.0,594.2 533.5,594.2 534.0,594.2 534.5,594.2 535.0,594.2 535.5,594.2 536.0,594.2 536.5,594.1 537.0,594.1 537.5,594.1 538.0,594.1 538.5,594.1 539.0,594.1 539.5,594.1 540.0,594.1 540.5,594.1 541.0,594.1 541.5,594.1 542.0,594.1 542.5,594.1 543.0,594.1 543.5,594.1 544.0,594.1 544.5,594.1 545.0,594.1 545.5,594.1 546.0,594.1 546.5,594.1 547.0,594.0 547.5,594.0 548.0,594.0 548.5,594.0 549.0,594.0 549.5,594.0 550.0,594.0 550.5,594.0 551.0,594.0 551.5,594.0 552.0,594.0 552.5,594.0 553.0,594.0 553.5,594.0 554.0,594.0 554.5,594.0 555.0,594.0 555.5,594.0 556.0,594.0 556.5,593.9 557.0,593.9 557.5,593.9 558.0,593.9 558.5,593.9 559.0,593.9 559.5,593.9 560.0,593.9 560.5,593.9 561.0,593.9 561.5,593.9 562.0,593.9 562.5,593.9 563.0,593.9 563.5,593.9 564.0,593.9 564.5,593.9 565.0,593.8 565.5,593.8 566.0,593.8 566.5,593.8 567.0,593.8 567.5,593.8 568.0,593.8 568.5,593.8 569.0,593.8 569.5,593.8 570.0,593.8 570.5,593.8 571.0,593.8 571.5,593.8 572.0,593.8 572.5,593.7 573.0,593.7 573.5,593.7 574.0,593.7 574.5,593.7 575.0,593.7 575.5,593.7 576.0,593.7 576.5,593.7 577.0,593.7 577.5,593.7 578.0,593.7 578.5,593.7 579.0,593.7 579.5,593.6 580.0,593.6 580.5,593.6 581.0,593.6 581.5,593.6 582.0,593.6 582.5,593.6 583.0,593.6 583.5,593.6 584.0,593.6 584.5,593.6 585.0,593.6 585.5,593.6 586.0,593.5 586.5,593.5 587.0,593.5 587.5,593.5 588.0,593.5 588.5,593.5 589.0,593.5 589.5,593.5 590.0,593.5 590.5,593.5 591.0,593.5 591.5,593.5 592.0,593.5 592.5,593.4 593.0,593.4 593.5,593.4 594.0,593.4 594.5,593.4 595.0,593.4 595.5,593.4 596.0,593.4 596.5,593.4 597.0,593.4 597.5,593.3 598.0,593.3 598.5,593.3 599.0,593.3 599.5,593.3 600.0,593.2 600.5,593.2 601.0,593.2 601.5,593.2 602.0,593.2 602.5,593.1 603.0,593.1 603.5,593.1 604.0,593.1 604.5,593.0 605.0,593.0 605.5,593.0 606.0,592.9 606.5,592.9 607.0,592.9 607.5,592.8 608.0,592.8 608.5,592.8 609.0,592.8 609.5,592.7 610.0,592.7 610.5,592.7 611.0,592.6 611.5,592.6 612.0,592.6 612.5,592.5 613.0,592.5 613.5,592.5 614.0,592.5 614.5,592.4 615.0,592.4 615.5,592.4 616.0,592.3 616.5,592.3 617.0,592.3 617.5,592.3 618.0,592.2 618.4,592.2 618.9,592.2 619.4,592.2 619.9,592.1 620.4,592.1 620.9,592.1 621.4,592.1 621.9,592.0 622.4,592.0 622.9,592.0 623.4,591.9 623.9,591.9 624.4,591.9 624.9,591.9 625.4,591.8 625.9,591.8 626.4,591.8 626.9,591.7 627.4,591.7 627.9,591.7 628.4,591.7 628.9,591.6 629.4,591.6 629.9,591.6 630.4,591.5 630.9,591.5 631.4,591.5 631.9,591.4 632.4,591.4 632.9,591.4 633.4,591.3 633.9,591.3 634.4,591.2 634.9,591.2 635.4,591.2 635.9,591.1 636.4,591.1 636.9,591.0 637.4,591.0 637.9,591.0 638.4,590.9 638.9,590.9 639.4,590.8 639.9,590.8 640.4,590.7 640.9,590.7 641.4,590.6 641.9,590.6 642.4,590.5 642.9,590.5 643.4,590.4 643.9,590.4 644.4,590.3 644.9,590.3 645.4,590.2 645.9,590.2 646.4,590.1 646.9,590.1 647.4,590.0 647.9,589.9 648.4,589.9 648.9,589.8 649.4,589.8 649.9,589.7 650.4,589.6 650.9,589.6 651.4,589.5 651.9,589.4 652.4,589.4 652.9,589.3 653.4,589.2 653.9,589.2 654.4,589.1 654.9,589.0 655.4,588.9 655.9,588.9 656.4,588.8 656.9,588.7 657.4,588.6 657.9,588.5 658.4,588.5 658.9,588.4 659.4,588.3 659.9,588.2 660.4,588.1 660.9,588.0 661.4,587.9 661.9,587.8 662.4,587.7 662.9,587.6 663.4,587.5 663.9,587.4 664.4,587.3 664.9,587.2 665.4,587.1 665.9,586.9 666.4,586.8 666.9,586.7 667.4,586.6 667.9,586.4 668.4,586.3 668.9,586.2 669.4,586.0 669.9,585.9 670.4,585.8 670.9,585.6 671.4,585.5 671.9,585.3 672.4,585.1 672.9,585.0 673.4,584.8 673.9,584.6 674.4,584.4 674.9,584.2 675.4,584.0 675.9,583.8 676.4,583.6 676.9,583.4 677.4,583.2 677.9,583.0 678.4,582.7 678.9,582.5 679.4,582.2 679.9,582.0 680.4,581.7 680.9,581.4 681.4,581.2 681.9,580.9 682.4,580.6 682.9,580.3 683.4,580.0 683.9,579.7 684.4,579.3 684.9,579.0 685.4,578.7 685.9,578.3 686.4,577.9 686.9,577.5 687.4,577.1 687.9,576.6 688.4,576.2 688.9,575.7 689.4,575.2 689.9,574.7 690.4,574.2 690.9,573.6 691.4,573.1 691.9,572.5 692.4,571.9 692.9,571.3 693.4,570.7 693.9,570.1 694.4,569.4 694.9,568.8 695.4,568.1 695.9,567.4 696.4,566.7 696.9,566.0 697.4,565.3 697.9,564.6 698.4,563.8 698.9,563.0 699.4,562.2 699.9,561.4 700.4,560.5 700.9,559.6 701.4,558.6 701.9,557.6 702.4,556.6 702.9,555.5 703.4,554.4 703.9,553.3 704.4,552.2 704.9,551.1 705.4,549.9 705.9,548.8 706.4,547.7 706.9,546.5 707.4,545.4 707.9,544.3 708.4,543.3 708.9,542.2 709.4,541.1 709.9,540.1 710.4,539.0 710.9,537.9 711.4,536.9 711.9,535.8 712.4,534.8 712.9,533.7 713.4,532.7 713.9,531.7 714.4,530.7 714.9,529.7 715.4,528.8 715.9,527.9 716.4,527.0 716.9,526.2 717.4,525.3 717.9,524.5 718.4,523.7 718.9,522.8 719.4,522.0 719.9,521.3 720.4,520.5 720.9,519.9 721.4,519.3 721.9,518.8 722.4,518.4 722.9,518.2 723.4,518.0 723.9,518.1 724.4,518.2 724.9,518.5 725.4,518.9 725.9,519.4 726.4,520.0 726.9,520.7 727.4,521.5 727.9,522.3 728.4,523.1 728.9,524.0 729.4,525.0 729.9,526.1 730.4,527.3 730.9,528.6 731.4,530.0 731.9,531.4 732.4,533.0 732.9,534.7 733.4,536.4 733.9,538.1 734.4,540.0 734.9,541.9 735.4,543.8 735.9,545.9 736.4,548.0 736.9,550.3 737.4,552.6 737.9,555.0 738.4,557.6 738.9,560.2 739.4,563.0 739.9,565.8 740.4,568.8 740.9,571.9 741.4,575.2 741.9,578.6 742.4,582.2 742.9,585.9 743.4,589.8 743.9,593.8 744.4,598.0 744.9,602.4 745.4,606.9 745.9,611.6 746.4,616.3 746.9,621.0 747.4,625.6 747.9,630.3 748.4,635.0 748.9,639.8 749.4,644.5 749.9,649.4 750.4,654.4 750.9,659.5 751.4,664.6 751.9,669.9 752.4,675.1 752.9,680.4 753.4,685.6 753.9,690.9 754.4,696.0 754.9,701.1 755.4,706.2 755.9,711.1 756.4,716.0 756.9,720.7 757.4,725.2 757.9,729.6 758.4,733.6 758.9,737.4 759.4,740.9 759.9,744.0 760.4,746.9 760.9,749.5 761.4,752.0 761.9,745.4 762.4,738.3 762.9,730.4 763.3,721.3 763.8,710.9 764.3,699.1 764.8,685.9 765.3,671.5 765.8,656.1 766.2,639.9 766.7,623.2 767.2,606.3 767.7,589.5 768.2,572.9 768.7,556.6 769.2,540.5 769.6,524.8 770.1,509.8 770.6,495.7 771.1,482.8 771.6,471.5 772.1,461.8 772.5,453.8 773.0,447.3 773.5,441.8 774.0,437.0 774.5,438.8 775.0,440.6 775.5,442.8 776.0,445.2 776.5,448.1 777.0,451.3 777.5,454.8 778.0,458.6 778.5,462.7 779.0,467.0 779.5,471.4 780.0,475.9 780.5,480.5 781.0,485.1 781.5,489.8 782.0,494.5 782.5,499.5 783.0,504.5 783.5,509.7 784.0,515.0 784.5,520.4 785.0,525.9 785.5,531.3 786.0,536.8 786.5,542.1 787.0,547.3 787.5,552.3 788.0,557.0 788.5,561.5 789.0,565.6 789.5,569.6 790.0,573.3 790.5,577.0 791.0,580.6 791.5,584.2 792.0,587.8 792.5,591.5 793.0,595.3 793.5,599.1 794.0,603.0 794.5,606.8 795.0,610.6 795.5,614.3 796.0,618.0 796.5,621.6 797.0,625.1 797.5,628.4 798.0,631.5 798.5,634.3 799.0,636.9 799.5,639.2 800.0,641.2 800.5,643.0 801.0,644.7 801.5,646.3 802.0,647.7 802.5,649.1 803.0,650.4 803.5,651.7 804.0,652.9 804.5,654.1 805.0,655.4 805.5,656.7 806.0,658.0 806.5,659.4 807.0,660.8 807.5,662.2 808.0,663.7 808.5,665.1 809.0,666.4 809.5,667.7 809.9,668.8 810.4,669.8 810.9,670.5 811.4,671.1 811.9,671.4 812.4,671.4 812.9,671.2 813.4,670.7 813.9,670.1 814.4,669.3 814.9,668.3 815.4,667.3 815.9,666.1 816.4,665.0 816.9,663.8 817.4,662.7 817.9,661.5 818.4,660.5 818.9,659.4 819.4,658.4 819.9,657.4 820.4,656.5 820.9,655.5 821.4,654.5 821.9,653.5 822.4,652.6 822.9,651.6 823.4,650.6 823.9,649.6 824.4,648.6 824.9,647.6 825.4,646.6 825.9,645.6 826.4,644.6 826.9,643.6 827.4,642.6 827.9,641.5 828.4,640.4 828.9,639.4 829.4,638.3 829.9,637.1 830.4,636.0 830.9,634.9 831.4,633.7 831.9,632.6 832.4,631.6 832.9,630.6 833.4,629.6 833.9,628.7 834.4,627.8 834.9,627.0 835.4,626.2 835.9,625.5 836.4,624.7 836.9,624.1 837.4,623.4 837.9,622.8 838.4,622.1 838.9,621.5 839.4,620.9 839.9,620.3 840.4,619.7 840.9,619.1 841.4,618.5 841.9,617.9 842.4,617.3 842.9,616.7 843.4,616.1 843.9,615.5 844.4,615.0 844.9,614.4 845.4,613.9 845.9,613.4 846.4,612.9 846.9,612.4 847.4,612.0 847.9,611.6 848.4,611.2 848.9,610.8 849.4,610.4 849.9,610.1 850.4,609.7 850.9,609.4 851.4,609.1 851.9,608.7 852.4,608.4 852.9,608.1 853.4,607.8 853.9,607.5 854.4,607.2 854.9,606.9 855.4,606.7 855.9,606.4 856.4,606.1 856.9,605.9 857.4,605.6 857.9,605.4 858.4,605.2 858.9,604.9 859.4,604.7 859.9,604.5 860.4,604.3 860.9,604.1 861.4,604.0 861.9,603.8 862.4,603.6 862.9,603.5 863.4,603.3 863.9,603.2 864.4,603.0 864.9,602.9 865.4,602.7 865.9,602.6 866.4,602.5 866.9,602.3 867.4,602.2 867.9,602.1 868.4,602.0 868.9,601.9 869.4,601.7 869.9,601.6 870.4,601.5 870.9,601.4 871.4,601.3 871.9,601.2 872.4,601.1 872.9,601.0 873.4,600.9 873.9,600.8 874.4,600.7 874.9,600.6 875.4,600.6 875.9,600.5 876.4,600.4 876.9,600.3 877.4,600.2 877.9,600.1 878.4,600.1 878.9,600.0 879.4,599.9 879.9,599.8 880.4,599.7 880.9,599.7 881.4,599.6 881.8,599.5 882.3,599.5 882.8,599.4 883.3,599.3 883.8,599.2 884.3,599.2 884.8,599.1 885.3,599.0 885.8,599.0 886.3,598.9 886.8,598.8 887.3,598.8 887.8,598.7 888.3,598.7 888.8,598.6 889.3,598.5 889.8,598.5 890.3,598.4 890.8,598.4 891.3,598.3 891.8,598.3 892.3,598.2 892.8,598.2 893.3,598.1 893.8,598.1 894.3,598.1 894.8,598.0 895.3,598.0 895.8,597.9 896.3,597.9 896.8,597.9 897.3,597.8 897.8,597.8 898.3,597.8 898.8,597.8 899.3,597.7 899.8,597.7 900.3,597.7 900.8,597.6 901.3,597.6 901.8,597.6 902.3,597.6 902.8,597.5 903.3,597.5 903.8,597.5 904.3,597.5 904.8,597.4 905.3,597.4 905.8,597.4 906.3,597.4 906.8,597.4 907.3,597.3 907.8,597.3 908.3,597.3 908.8,597.3 909.3,597.2 909.8,597.2 910.3,597.2 910.8,597.2 911.3,597.2 911.8,597.1 912.3,597.1 912.8,597.1 913.3,597.1 913.8,597.1 914.3,597.0 914.8,597.0 915.3,597.0 915.8,597.0 916.3,596.9 916.8,596.9 917.3,596.9 917.8,596.9 918.3,596.8 918.8,596.8 919.3,596.8 919.8,596.8 920.3,596.8 920.8,596.7 921.3,596.7 921.8,596.7 922.3,596.7 922.8,596.6 923.3,596.6 923.8,596.6 924.3,596.6 924.8,596.5 925.3,596.5 925.8,596.5 926.3,596.5 926.8,596.5 927.3,596.4 927.8,596.4 928.3,596.4 928.8,596.4 929.3,596.3 929.8,596.3 930.3,596.3 930.8,596.3 931.3,596.3 931.8,596.2 932.3,596.2 932.8,596.2 933.3,596.2 933.8,596.2 934.3,596.2 934.8,596.1 935.3,596.1 935.8,596.1 936.3,596.1 936.8,596.1 937.3,596.1 937.8,596.1 938.3,596.0 938.8,596.0 939.3,596.0 939.8,596.0 940.3,596.0 940.8,596.0 941.3,596.0 941.8,596.0 942.3,596.0 942.8,595.9 943.3,595.9 943.8,595.9 944.3,595.9 944.8,595.9 945.3,595.9 945.8,595.9 946.3,595.9 946.8,595.9 947.3,595.9 947.8,595.9 948.3,595.9 948.8,595.8 949.3,595.8 949.8,595.8 950.3,595.8 950.8,595.8 951.3,595.8 951.8,595.8 952.3,595.8 952.8,595.8 953.2,595.8 953.7,595.8 954.2,595.8 954.7,595.7 955.2,595.7 955.7,595.7 956.2,595.7 956.7,595.7 957.2,595.7 957.7,595.7 958.2,595.7 958.7,595.7 959.2,595.7 959.7,595.7 960.2,595.7 960.7,595.6 961.2,595.6 961.7,595.6 962.2,595.6 962.7,595.6 963.2,595.6 963.7,595.6 964.2,595.6 964.7,595.6 965.2,595.6 965.7,595.6 966.2,595.6 966.7,595.6 967.2,595.5 967.7,595.5 968.2,595.5 968.7,595.5 969.2,595.5 969.7,595.5 970.2,595.5 970.7,595.5 971.2,595.5 971.7,595.5 972.2,595.5 972.7,595.5 973.2,595.5 973.7,595.5 974.2,595.4 974.7,595.4 975.2,595.4 975.7,595.4 976.2,595.4 976.7,595.4 977.2,595.4 977.7,595.4 978.2,595.4 978.7,595.4 979.2,595.4 979.7,595.4 980.2,595.4 980.7,595.4 981.2,595.3 981.7,595.3 982.2,595.3 982.7,595.3 983.2,595.3 983.7,595.3 984.2,595.3 984.7,595.3 985.2,595.3 985.7,595.3 986.2,595.3 986.7,595.3 987.2,595.3 987.7,595.3 988.2,595.3 988.7,595.3 989.2,595.2 989.7,595.2 990.2,595.2 990.7,595.2 991.2,595.2 991.7,595.2 992.2,595.2 992.7,595.2 993.2,595.2 993.7,595.2 994.2,595.2 994.7,595.2 995.2,595.2 995.7,595.2 996.2,595.2 996.7,595.2 997.2,595.2 997.7,595.2 998.2,595.1 998.7,595.1 999.2,595.1 999.7,595.1 1000.2,595.1 1000.7,595.1 1001.2,595.1 1001.7,595.1 1002.2,595.1 1002.7,595.1 1003.2,595.1 1003.7,595.1 1004.2,595.1 1004.7,595.1 1005.2,595.1 1005.7,595.1 1006.2,595.1 1006.7,595.1 1007.2,595.1 1007.7,595.1 1008.2,595.0 1008.7,595.0 1009.2,595.0 1009.7,595.0 1010.2,595.0 1010.7,595.0 1011.2,595.0 1011.7,595.0 1012.2,595.0 1012.7,595.0 1013.2,595.0 1013.7,595.0 1014.2,595.0 1014.7,595.0 1015.2,595.0 1015.7,595.0 1016.2,595.0 1016.7,595.0 1017.2,595.0 1017.7,595.0 1018.2,595.0 1018.7,595.0 1019.2,595.0 1019.7,595.0 1020.2,595.0 1020.7,594.9 1021.2,594.9 1021.7,594.9 1022.2,594.9 1022.7,594.9 1023.2,594.9 1023.7,594.9 1024.2,594.9 1024.7,594.9 1025.1,594.9 1025.6,594.9 1026.1,594.9 1026.6,594.9 1027.1,594.9 1027.6,594.9 1028.1,594.9 1028.6,594.9 1029.1,594.9 1029.6,594.9 1030.1,594.9 1030.6,594.9 1031.1,594.9 1031.6,594.9 1032.1,594.9 1032.6,594.9 1033.1,594.9 1033.6,594.9 1034.1,594.9 1034.6,594.9 1035.1,594.9 1035.6,594.9 1036.1,594.9 1036.6,594.9 1037.1,594.9 1037.6,594.9 1038.1,594.8 1038.6,594.8 1039.1,594.8 1039.6,594.8 1040.1,594.8 1040.6,594.8 1041.1,594.8 1041.6,594.8 1042.1,594.8 1042.6,594.8 1043.1,594.8 1043.6,594.8 1044.1,594.8 1044.6,594.8 1045.1,594.8 1045.6,594.8 1046.1,594.8 1046.6,594.8 1047.1,594.8 1047.6,594.8 1048.1,594.8 1048.6,594.8 1049.1,594.8 1049.6,594.8 1050.1,594.8 1050.6,594.8 1051.1,594.8 1051.6,594.8 1052.1,594.8 1052.6,594.8 1053.1,594.8 1053.6,594.8 1054.1,594.8 1054.6,594.8 1055.1,594.8 1055.6,594.8 1056.1,594.8 1056.6,594.8 1057.1,594.8 1057.6,594.8 1058.1,594.8 1058.6,594.8 1059.1,594.8 1059.6,594.8 1060.1,594.8 1060.6,594.8" fill="none" stroke="#4472c4" stroke-width="1.65" stroke-linejoin="round" stroke-linecap="butt" clip-path="url(#clip_b2)"/>
<path d="M475.0,594.0 475.5,594.0 476.0,594.0 476.5,594.0 477.0,594.0 477.5,594.1 478.0,594.2 478.5,594.3 479.0,594.4 479.5,594.4 480.0,594.5 480.5,594.6 481.0,594.7 481.5,594.8 482.0,594.8 482.5,594.8 483.0,594.8 483.5,594.8 484.0,594.8 484.5,594.7 485.0,594.7 485.5,594.6 486.0,594.5 486.5,594.4 487.0,594.3 487.5,594.2 488.0,594.1 488.5,594.1 489.0,594.0 489.5,594.0 490.0,593.9 490.5,593.9 491.0,594.0 491.5,594.0 492.0,594.1 492.5,594.1 493.0,594.2 493.5,594.3 494.0,594.4 494.5,594.5 495.0,594.6 495.5,594.7 496.0,594.7 496.5,594.8 497.0,594.8 497.5,594.8 498.0,594.8 498.5,594.8 499.0,594.7 499.5,594.7 500.0,594.6 500.5,594.5 501.0,594.4 501.5,594.3 502.0,594.2 502.5,594.1 503.0,594.0 503.5,593.9 504.0,593.9 504.5,593.9 505.0,593.9 505.5,593.9 506.0,593.9 506.5,594.0 507.0,594.1 507.5,594.2 508.0,594.3 508.5,594.4 509.0,594.4 509.5,594.5 510.0,594.6 510.5,594.7 511.0,594.8 511.5,594.8 512.0,594.8 512.5,594.8 513.0,594.8 513.5,594.7 514.0,594.6 514.5,594.5 515.0,594.4 515.5,594.3 516.0,594.2 516.5,594.1 517.0,594.0 517.5,593.9 518.0,593.9 518.5,593.8 519.0,593.8 519.5,593.8 520.0,593.8 520.5,593.8 521.0,593.9 521.5,594.0 522.0,594.1 522.5,594.2 523.0,594.3 523.5,594.4 524.0,594.5 524.5,594.5 525.0,594.6 525.5,594.7 526.0,594.7 526.5,594.7 527.0,594.7 527.5,594.7 528.0,594.6 528.5,594.6 529.0,594.5 529.5,594.4 530.0,594.2 530.5,594.1 531.0,594.0 531.5,593.9 532.0,593.8 532.5,593.7 533.0,593.7 533.5,593.6 534.0,593.6 534.5,593.6 535.0,593.7 535.5,593.7 536.0,593.8 536.5,593.9 537.0,594.0 537.5,594.1 538.0,594.2 538.5,594.3 539.0,594.4 539.5,594.5 540.0,594.6 540.5,594.6 541.0,594.7 541.5,594.7 542.0,594.6 542.5,594.6 543.0,594.5 543.5,594.4 544.0,594.3 544.5,594.1 545.0,594.0 545.5,593.9 546.0,593.8 546.5,593.7 547.0,593.6 547.5,593.5 548.0,593.5 548.5,593.5 549.0,593.5 549.5,593.5 550.0,593.6 550.5,593.7 551.0,593.8 551.5,593.9 552.0,594.0 552.5,594.1 553.0,594.2 553.5,594.3 554.0,594.4 554.5,594.5 555.0,594.5 555.5,594.6 556.0,594.5 556.5,594.5 557.0,594.4 557.5,594.4 558.0,594.3 558.5,594.1 559.0,594.0 559.5,593.9 560.0,593.7 560.5,593.6 561.0,593.5 561.5,593.4 562.0,593.3 562.5,593.3 563.0,593.3 563.5,593.3 564.0,593.3 564.5,593.4 565.0,593.5 565.5,593.6 566.0,593.7 566.5,593.8 567.0,593.9 567.5,594.0 568.0,594.1 568.5,594.2 569.0,594.3 569.5,594.4 570.0,594.4 570.5,594.4 571.0,594.4 571.5,594.3 572.0,594.2 572.5,594.1 573.0,594.0 573.5,593.8 574.0,593.7 574.5,593.6 575.0,593.4 575.5,593.3 576.0,593.2 576.5,593.1 577.0,593.0 577.5,593.0 578.0,593.0 578.5,593.1 579.0,593.1 579.5,593.2 580.0,593.3 580.5,593.4 581.0,593.6 581.5,593.7 582.0,593.8 582.5,594.0 583.0,594.1 583.5,594.1 584.0,594.2 584.5,594.3 585.0,594.3 585.5,594.2 586.0,594.2 586.5,594.1 587.0,593.9 587.5,593.8 588.0,593.7 588.5,593.5 589.0,593.4 589.5,593.2 590.0,593.1 590.5,592.9 591.0,592.8 591.5,592.8 592.0,592.7 592.5,592.7 593.0,592.8 593.5,592.8 594.0,592.9 594.5,593.0 595.0,593.2 595.5,593.3 596.0,593.4 596.5,593.6 597.0,593.7 597.5,593.8 598.0,593.9 598.5,594.0 599.0,594.0 599.5,594.0 600.0,594.0 600.5,593.9 601.0,593.8 601.5,593.6 602.0,593.5 602.5,593.3 603.0,593.1 603.5,592.9 604.0,592.8 604.5,592.6 605.0,592.4 605.5,592.3 606.0,592.2 606.5,592.1 607.0,592.1 607.5,592.1 608.0,592.2 608.5,592.2 609.0,592.3 609.5,592.5 610.0,592.6 610.5,592.7 611.0,592.9 611.5,593.0 612.0,593.1 612.5,593.2 613.0,593.3 613.5,593.3 614.0,593.3 614.5,593.2 615.0,593.1 615.5,593.0 616.0,592.9 616.5,592.7 617.0,592.5 617.5,592.3 618.0,592.1 618.4,591.9 618.9,591.7 619.4,591.6 619.9,591.4 620.4,591.3 620.9,591.2 621.4,591.2 621.9,591.2 622.4,591.3 622.9,591.4 623.4,591.5 623.9,591.6 624.4,591.7 624.9,591.9 625.4,592.1 625.9,592.2 626.4,592.3 626.9,592.4 627.4,592.5 627.9,592.6 628.4,592.6 628.9,592.5 629.4,592.4 629.9,592.3 630.4,592.1 630.9,591.9 631.4,591.7 631.9,591.5 632.4,591.3 632.9,591.0 633.4,590.8 633.9,590.6 634.4,590.5 634.9,590.3 635.4,590.2 635.9,590.2 636.4,590.2 636.9,590.2 637.4,590.3 637.9,590.4 638.4,590.5 638.9,590.7 639.4,590.8 639.9,591.0 640.4,591.1 640.9,591.3 641.4,591.4 641.9,591.5 642.4,591.5 642.9,591.5 643.4,591.4 643.9,591.3 644.4,591.2 644.9,591.0 645.4,590.7 645.9,590.5 646.4,590.2 646.9,589.9 647.4,589.7 647.9,589.4 648.4,589.2 648.9,589.0 649.4,588.8 649.9,588.6 650.4,588.5 650.9,588.5 651.4,588.5 651.9,588.6 652.4,588.7 652.9,588.8 653.4,589.0 653.9,589.1 654.4,589.3 654.9,589.5 655.4,589.6 655.9,589.7 656.4,589.8 656.9,589.8 657.4,589.8 657.9,589.7 658.4,589.5 658.9,589.3 659.4,589.1 659.9,588.8 660.4,588.5 660.9,588.1 661.4,587.8 661.9,587.5 662.4,587.1 662.9,586.8 663.4,586.5 663.9,586.3 664.4,586.1 664.9,585.9 665.4,585.9 665.9,585.8 666.4,585.9 666.9,585.9 667.4,586.0 667.9,586.1 668.4,586.3 668.9,586.4 669.4,586.5 669.9,586.6 670.4,586.7 670.9,586.7 671.4,586.7 671.9,586.6 672.4,586.5 672.9,586.2 673.4,585.9 673.9,585.6 674.4,585.2 674.9,584.7 675.4,584.2 675.9,583.8 676.4,583.3 676.9,582.8 677.4,582.3 677.9,581.9 678.4,581.5 678.9,581.1 679.4,580.8 679.9,580.6 680.4,580.4 680.9,580.3 681.4,580.3 681.9,580.2 682.4,580.2 682.9,580.2 683.4,580.2 683.9,580.2 684.4,580.2 684.9,580.1 685.4,579.9 685.9,579.7 686.4,579.4 686.9,579.1 687.4,578.6 687.9,578.0 688.4,577.3 688.9,576.6 689.4,575.8 689.9,575.0 690.4,574.1 690.9,573.2 691.4,572.4 691.9,571.5 692.4,570.6 692.9,569.8 693.4,569.1 693.9,568.4 694.4,567.7 694.9,567.2 695.4,566.7 695.9,566.3 696.4,565.9 696.9,565.5 697.4,565.2 697.9,564.8 698.4,564.4 698.9,564.0 699.4,563.5 699.9,562.9 700.4,562.2 700.9,561.4 701.4,560.5 701.9,559.4 702.4,558.3 702.9,557.0 703.4,555.6 703.9,554.2 704.4,552.7 704.9,551.2 705.4,549.6 705.9,548.1 706.4,546.6 706.9,545.2 707.4,543.8 707.9,542.5 708.4,541.3 708.9,540.1 709.4,539.1 709.9,538.3 710.4,537.5 710.9,536.7 711.4,536.1 711.9,535.5 712.4,534.9 712.9,534.3 713.4,533.7 713.9,533.1 714.4,532.5 714.9,531.8 715.4,531.1 715.9,530.3 716.4,529.4 716.9,528.4 717.4,527.3 717.9,526.1 718.4,524.8 718.9,523.5 719.4,522.2 719.9,520.9 720.4,519.6 720.9,518.5 721.4,517.4 721.9,516.6 722.4,515.9 722.9,515.5 723.4,515.3 723.9,515.4 724.4,515.8 724.9,516.5 725.4,517.4 725.9,518.4 726.4,519.6 726.9,520.9 727.4,522.2 727.9,523.6 728.4,525.0 728.9,526.5 729.4,527.9 729.9,529.2 730.4,530.6 730.9,531.9 731.4,533.1 731.9,534.3 732.4,535.4 732.9,536.4 733.4,537.4 733.9,538.5 734.4,539.5 734.9,540.7 735.4,541.9 735.9,543.3 736.4,544.9 736.9,546.7 737.4,548.7 737.9,551.0 738.4,553.7 738.9,556.7 739.4,559.9 739.9,563.5 740.4,567.3 740.9,571.4 741.4,575.6 741.9,580.0 742.4,584.5 742.9,589.1 743.4,593.8 743.9,598.5 744.4,603.1 744.9,607.8 745.4,612.3 745.9,616.6 746.4,620.6 746.9,624.4 747.4,627.9 747.9,631.4 748.4,634.8 748.9,638.1 749.4,641.6 749.9,645.2 750.4,649.1 750.9,653.3 751.4,657.8 751.9,662.7 752.4,668.0 752.9,673.8 753.4,680.1 753.9,686.6 754.4,693.4 754.9,700.3 755.4,707.2 755.9,714.2 756.4,720.9 756.9,727.4 757.4,733.6 757.9,739.2 758.4,744.3 758.9,748.6 759.4,752.1 759.9,754.2 760.4,755.0 760.9,754.9 761.4,754.1 761.9,744.1 762.4,733.5 762.9,722.2 763.3,710.0 763.8,697.0 764.3,683.3 764.8,669.2 765.3,655.1 765.8,641.3 766.2,627.9 766.7,614.9 767.2,602.2 767.7,589.9 768.2,577.8 768.7,565.6 769.2,553.0 769.6,540.0 770.1,526.4 770.6,512.3 771.1,498.4 771.6,485.1 772.1,472.7 772.5,461.6 773.0,451.6 773.5,442.6 774.0,434.4 774.5,433.0 775.0,432.2 775.5,432.5 776.0,434.1 776.5,437.0 777.0,440.8 777.5,445.4 778.0,450.6 778.5,456.4 779.0,462.5 779.5,468.8 780.0,475.2 780.5,481.7 781.0,488.1 781.5,494.3 782.0,500.4 782.5,506.2 783.0,511.8 783.5,517.0 784.0,521.9 784.5,526.6 785.0,531.1 785.5,535.5 786.0,539.6 786.5,543.7 787.0,547.5 787.5,551.2 788.0,554.7 788.5,558.0 789.0,561.3 789.5,564.6 790.0,568.1 790.5,571.8 791.0,575.6 791.5,579.7 792.0,584.0 792.5,588.6 793.0,593.2 793.5,598.0 794.0,602.8 794.5,607.6 795.0,612.4 795.5,616.9 796.0,621.3 796.5,625.4 797.0,629.2 797.5,632.6 798.0,635.6 798.5,638.1 799.0,640.2 799.5,641.9 800.0,643.3 800.5,644.5 801.0,645.4 801.5,646.2 802.0,646.9 802.5,647.6 803.0,648.3 803.5,649.1 804.0,649.9 804.5,651.0 805.0,652.2 805.5,653.6 806.0,655.2 806.5,656.9 807.0,658.9 807.5,660.9 808.0,662.9 808.5,665.0 809.0,667.0 809.5,668.8 809.9,670.5 810.4,672.0 810.9,673.1 811.4,673.9 811.9,674.3 812.4,674.3 812.9,673.9 813.4,673.2 813.9,672.2 814.4,670.9 814.9,669.5 815.4,667.9 815.9,666.3 816.4,664.6 816.9,662.9 817.4,661.3 817.9,659.8 818.4,658.4 818.9,657.2 819.4,656.1 819.9,655.1 820.4,654.3 820.9,653.5 821.4,652.9 821.9,652.3 822.4,651.8 822.9,651.3 823.4,650.7 823.9,650.2 824.4,649.7 824.9,649.1 825.4,648.4 825.9,647.6 826.4,646.7 826.9,645.7 827.4,644.6 827.9,643.4 828.4,642.1 828.9,640.7 829.4,639.2 829.9,637.7 830.4,636.1 830.9,634.6 831.4,633.1 831.9,631.6 832.4,630.2 832.9,629.0 833.4,627.8 833.9,626.9 834.4,626.0 834.9,625.3 835.4,624.7 835.9,624.3 836.4,623.8 836.9,623.5 837.4,623.2 837.9,622.9 838.4,622.6 838.9,622.3 839.4,622.0 839.9,621.6 840.4,621.2 840.9,620.7 841.4,620.1 841.9,619.5 842.4,618.7 842.9,617.9 843.4,617.1 843.9,616.2 844.4,615.4 844.9,614.5 845.4,613.6 845.9,612.8 846.4,612.1 846.9,611.4 847.4,610.7 847.9,610.2 848.4,609.7 848.9,609.4 849.4,609.1 849.9,608.9 850.4,608.7 850.9,608.6 851.4,608.6 851.9,608.5 852.4,608.5 852.9,608.5 853.4,608.4 853.9,608.4 854.4,608.3 854.9,608.2 855.4,608.0 855.9,607.7 856.4,607.4 856.9,607.1 857.4,606.7 857.9,606.2 858.4,605.8 858.9,605.3 859.4,604.8 859.9,604.3 860.4,603.9 860.9,603.5 861.4,603.1 861.9,602.7 862.4,602.4 862.9,602.2 863.4,602.1 863.9,602.0 864.4,602.0 864.9,602.0 865.4,602.0 865.9,602.1 866.4,602.2 866.9,602.4 867.4,602.5 867.9,602.6 868.4,602.7 868.9,602.8 869.4,602.8 869.9,602.8 870.4,602.7 870.9,602.6 871.4,602.4 871.9,602.1 872.4,601.9 872.9,601.6 873.4,601.3 873.9,600.9 874.4,600.6 874.9,600.3 875.4,600.0 875.9,599.7 876.4,599.5 876.9,599.3 877.4,599.1 877.9,599.1 878.4,599.0 878.9,599.0 879.4,599.1 879.9,599.2 880.4,599.3 880.9,599.4 881.4,599.6 881.8,599.7 882.3,599.9 882.8,600.0 883.3,600.1 883.8,600.1 884.3,600.1 884.8,600.1 885.3,600.0 885.8,599.9 886.3,599.7 886.8,599.5 887.3,599.3 887.8,599.0 888.3,598.8 888.8,598.5 889.3,598.3 889.8,598.0 890.3,597.8 890.8,597.6 891.3,597.4 891.8,597.3 892.3,597.3 892.8,597.3 893.3,597.3 893.8,597.4 894.3,597.5 894.8,597.6 895.3,597.8 895.8,597.9 896.3,598.1 896.8,598.2 897.3,598.4 897.8,598.5 898.3,598.6 898.8,598.6 899.3,598.6 899.8,598.6 900.3,598.5 900.8,598.4 901.3,598.2 901.8,598.1 902.3,597.9 902.8,597.7 903.3,597.5 903.8,597.3 904.3,597.1 904.8,596.9 905.3,596.7 905.8,596.6 906.3,596.5 906.8,596.5 907.3,596.5 907.8,596.5 908.3,596.6 908.8,596.7 909.3,596.9 909.8,597.0 910.3,597.1 910.8,597.3 911.3,597.4 911.8,597.6 912.3,597.7 912.8,597.8 913.3,597.8 913.8,597.9 914.3,597.8 914.8,597.8 915.3,597.7 915.8,597.5 916.3,597.4 916.8,597.2 917.3,597.0 917.8,596.9 918.3,596.7 918.8,596.5 919.3,596.3 919.8,596.2 920.3,596.1 920.8,596.0 921.3,595.9 921.8,595.9 922.3,596.0 922.8,596.0 923.3,596.1 923.8,596.2 924.3,596.3 924.8,596.5 925.3,596.6 925.8,596.7 926.3,596.8 926.8,597.0 927.3,597.0 927.8,597.1 928.3,597.1 928.8,597.1 929.3,597.0 929.8,597.0 930.3,596.9 930.8,596.7 931.3,596.6 931.8,596.4 932.3,596.2 932.8,596.1 933.3,595.9 933.8,595.8 934.3,595.6 934.8,595.5 935.3,595.4 935.8,595.4 936.3,595.4 936.8,595.4 937.3,595.5 937.8,595.6 938.3,595.7 938.8,595.8 939.3,595.9 939.8,596.1 940.3,596.2 940.8,596.3 941.3,596.4 941.8,596.5 942.3,596.6 942.8,596.6 943.3,596.6 943.8,596.6 944.3,596.5 944.8,596.4 945.3,596.3 945.8,596.2 946.3,596.1 946.8,595.9 947.3,595.8 947.8,595.6 948.3,595.5 948.8,595.4 949.3,595.3 949.8,595.2 950.3,595.2 950.8,595.2 951.3,595.2 951.8,595.2 952.3,595.3 952.8,595.4 953.2,595.5 953.7,595.7 954.2,595.8 954.7,595.9 955.2,596.0 955.7,596.1 956.2,596.2 956.7,596.3 957.2,596.3 957.7,596.3 958.2,596.3 958.7,596.2 959.2,596.2 959.7,596.1 960.2,595.9 960.7,595.8 961.2,595.7 961.7,595.6 962.2,595.4 962.7,595.3 963.2,595.2 963.7,595.1 964.2,595.0 964.7,595.0 965.2,595.0 965.7,595.0 966.2,595.0 966.7,595.1 967.2,595.2 967.7,595.3 968.2,595.4 968.7,595.5 969.2,595.6 969.7,595.7 970.2,595.8 970.7,595.9 971.2,596.0 971.7,596.0 972.2,596.1 972.7,596.0 973.2,596.0 973.7,595.9 974.2,595.8 974.7,595.7 975.2,595.6 975.7,595.5 976.2,595.4 976.7,595.2 977.2,595.1 977.7,595.0 978.2,594.9 978.7,594.9 979.2,594.8 979.7,594.8 980.2,594.8 980.7,594.9 981.2,594.9 981.7,595.0 982.2,595.1 982.7,595.2 983.2,595.3 983.7,595.4 984.2,595.5 984.7,595.6 985.2,595.7 985.7,595.8 986.2,595.8 986.7,595.8 987.2,595.8 987.7,595.8 988.2,595.7 988.7,595.6 989.2,595.5 989.7,595.4 990.2,595.3 990.7,595.2 991.2,595.1 991.7,595.0 992.2,594.9 992.7,594.8 993.2,594.7 993.7,594.7 994.2,594.7 994.7,594.7 995.2,594.7 995.7,594.8 996.2,594.8 996.7,594.9 997.2,595.0 997.7,595.1 998.2,595.2 998.7,595.3 999.2,595.4 999.7,595.5 1000.2,595.6 1000.7,595.6 1001.2,595.6 1001.7,595.6 1002.2,595.6 1002.7,595.5 1003.2,595.5 1003.7,595.4 1004.2,595.3 1004.7,595.2 1005.2,595.1 1005.7,595.0 1006.2,594.9 1006.7,594.8 1007.2,594.7 1007.7,594.6 1008.2,594.6 1008.7,594.5 1009.2,594.6 1009.7,594.6 1010.2,594.6 1010.7,594.7 1011.2,594.8 1011.7,594.9 1012.2,595.0 1012.7,595.1 1013.2,595.2 1013.7,595.2 1014.2,595.3 1014.7,595.4 1015.2,595.4 1015.7,595.5 1016.2,595.5 1016.7,595.4 1017.2,595.4 1017.7,595.3 1018.2,595.2 1018.7,595.2 1019.2,595.1 1019.7,595.0 1020.2,594.9 1020.7,594.8 1021.2,594.7 1021.7,594.6 1022.2,594.5 1022.7,594.5 1023.2,594.5 1023.7,594.5 1024.2,594.5 1024.7,594.5 1025.1,594.6 1025.6,594.7 1026.1,594.8 1026.6,594.8 1027.1,594.9 1027.6,595.0 1028.1,595.1 1028.6,595.2 1029.1,595.3 1029.6,595.3 1030.1,595.3 1030.6,595.3 1031.1,595.3 1031.6,595.3 1032.1,595.2 1032.6,595.2 1033.1,595.1 1033.6,595.0 1034.1,594.9 1034.6,594.8 1035.1,594.7 1035.6,594.6 1036.1,594.5 1036.6,594.5 1037.1,594.4 1037.6,594.4 1038.1,594.4 1038.6,594.4 1039.1,594.5 1039.6,594.5 1040.1,594.6 1040.6,594.7 1041.1,594.8 1041.6,594.9 1042.1,594.9 1042.6,595.0 1043.1,595.1 1043.6,595.2 1044.1,595.2 1044.6,595.2 1045.1,595.3 1045.6,595.2 1046.1,595.2 1046.6,595.2 1047.1,595.1 1047.6,595.0 1048.1,594.9 1048.6,594.8 1049.1,594.8 1049.6,594.7 1050.1,594.6 1050.6,594.5 1051.1,594.5 1051.6,594.4 1052.1,594.4 1052.6,594.4 1053.1,594.4 1053.6,594.4 1054.1,594.5 1054.6,594.6 1055.1,594.6 1055.6,594.7 1056.1,594.8 1056.6,594.9 1057.1,595.0 1057.6,595.0 1058.1,595.1 1058.6,595.2 1059.1,595.2 1059.6,595.2 1060.1,595.2 1060.6,595.2" fill="none" stroke="#70ad47" stroke-width="1.9" stroke-linejoin="round" stroke-linecap="butt" clip-path="url(#clip_b2)"/>
<rect x="475.0" y="413.9" width="585.5999999999999" height="361.9" fill="none" stroke="#000" stroke-width="1.7"/>
<line x1="463.00" y1="773.90" x2="475.00" y2="773.90" stroke="#000" stroke-width="1.7"/>
<text><tspan class="r" x="419.40" y="787.30" font-size="31.70" textLength="22.30" lengthAdjust="spacingAndGlyphs" stroke="#000" stroke-width="0.35">−</tspan><tspan class="r" x="441.78" y="785.90" font-size="31.70" textLength="16.88" lengthAdjust="spacingAndGlyphs" stroke="#000" stroke-width="0.35">2</tspan></text>
<line x1="469.70" y1="729.15" x2="475.00" y2="729.15" stroke="#000" stroke-width="1.7"/>
<line x1="463.00" y1="684.40" x2="475.00" y2="684.40" stroke="#000" stroke-width="1.7"/>
<text><tspan class="r" x="421.05" y="697.80" font-size="31.70" textLength="22.30" lengthAdjust="spacingAndGlyphs" stroke="#000" stroke-width="0.35">−</tspan><tspan class="r" x="441.95" y="696.40" font-size="31.70" textLength="16.88" lengthAdjust="spacingAndGlyphs" stroke="#000" stroke-width="0.35">1</tspan></text>
<line x1="469.70" y1="639.65" x2="475.00" y2="639.65" stroke="#000" stroke-width="1.7"/>
<line x1="463.00" y1="594.90" x2="475.00" y2="594.90" stroke="#000" stroke-width="1.7"/>
<text><tspan class="r" x="441.21" y="606.90" font-size="31.70" textLength="16.88" lengthAdjust="spacingAndGlyphs" stroke="#000" stroke-width="0.35">0</tspan></text>
<line x1="469.70" y1="550.15" x2="475.00" y2="550.15" stroke="#000" stroke-width="1.7"/>
<line x1="463.00" y1="505.40" x2="475.00" y2="505.40" stroke="#000" stroke-width="1.7"/>
<text><tspan class="r" x="441.95" y="517.40" font-size="31.70" textLength="16.88" lengthAdjust="spacingAndGlyphs" stroke="#000" stroke-width="0.35">1</tspan></text>
<line x1="469.70" y1="460.65" x2="475.00" y2="460.65" stroke="#000" stroke-width="1.7"/>
<line x1="463.00" y1="415.90" x2="475.00" y2="415.90" stroke="#000" stroke-width="1.7"/>
<text><tspan class="r" x="441.78" y="427.90" font-size="31.70" textLength="16.88" lengthAdjust="spacingAndGlyphs" stroke="#000" stroke-width="0.35">2</tspan></text>
<clipPath id="clip_b3"><rect x="475.0" y="775.8" width="585.5999999999999" height="361.9000000000001"/></clipPath>
<path d="M475.0,906.4 475.5,906.4 476.0,906.4 476.5,906.4 477.0,906.3 477.5,906.3 478.0,906.3 478.5,906.3 479.0,906.3 479.5,906.3 480.0,906.3 480.5,906.3 481.0,906.2 481.5,906.2 482.0,906.2 482.5,906.2 483.0,906.2 483.5,906.2 484.0,906.2 484.5,906.1 485.0,906.1 485.5,906.1 486.0,906.1 486.5,906.1 487.0,906.1 487.5,906.1 488.0,906.0 488.5,906.0 489.0,906.0 489.5,906.0 490.0,906.0 490.5,906.0 491.0,906.0 491.5,906.0 492.0,905.9 492.5,905.9 493.0,905.9 493.5,905.9 494.0,905.9 494.5,905.9 495.0,905.9 495.5,905.8 496.0,905.8 496.5,905.8 497.0,905.8 497.5,905.8 498.0,905.8 498.5,905.8 499.0,905.7 499.5,905.7 500.0,905.7 500.5,905.7 501.0,905.7 501.5,905.7 502.0,905.7 502.5,905.7 503.0,905.6 503.5,905.6 504.0,905.6 504.5,905.6 505.0,905.6 505.5,905.6 506.0,905.6 506.5,905.5 507.0,905.5 507.5,905.5 508.0,905.5 508.5,905.5 509.0,905.5 509.5,905.5 510.0,905.4 510.5,905.4 511.0,905.4 511.5,905.4 511.9,905.4 512.4,905.4 512.9,905.4 513.4,905.3 513.9,905.3 514.4,905.3 514.9,905.3 515.4,905.3 515.9,905.3 516.4,905.3 516.9,905.2 517.4,905.2 517.9,905.2 518.4,905.2 518.9,905.2 519.4,905.2 519.9,905.2 520.4,905.1 520.9,905.1 521.4,905.1 521.9,905.1 522.4,905.1 522.9,905.1 523.4,905.1 523.9,905.0 524.4,905.0 524.9,905.0 525.4,905.0 525.9,905.0 526.4,905.0 526.9,905.0 527.4,905.0 527.9,904.9 528.4,904.9 528.9,904.9 529.4,904.9 529.9,904.9 530.4,904.9 530.9,904.9 531.4,904.8 531.9,904.8 532.4,904.8 532.9,904.8 533.4,904.8 533.9,904.8 534.4,904.8 534.9,904.7 535.4,904.7 535.9,904.7 536.4,904.7 536.9,904.7 537.4,904.7 537.9,904.7 538.4,904.6 538.9,904.6 539.4,904.6 539.9,904.6 540.4,904.6 540.9,904.6 541.4,904.6 541.9,904.5 542.4,904.5 542.9,904.5 543.4,904.5 543.9,904.5 544.4,904.5 544.9,904.5 545.4,904.4 545.9,904.4 546.4,904.4 546.9,904.4 547.4,904.4 547.9,904.4 548.4,904.4 548.9,904.3 549.4,904.3 549.9,904.3 550.4,904.3 550.9,904.3 551.4,904.3 551.9,904.3 552.4,904.2 552.9,904.2 553.4,904.2 553.9,904.2 554.4,904.2 554.9,904.2 555.4,904.2 555.9,904.1 556.4,904.1 556.9,904.1 557.4,904.1 557.9,904.1 558.4,904.1 558.9,904.1 559.4,904.0 559.9,904.0 560.4,904.0 560.9,904.0 561.4,904.0 561.9,904.0 562.4,904.0 562.9,903.9 563.4,903.9 563.9,903.9 564.4,903.9 564.9,903.9 565.4,903.9 565.9,903.8 566.4,903.8 566.9,903.8 567.4,903.8 567.9,903.8 568.4,903.8 568.9,903.8 569.4,903.7 569.9,903.7 570.4,903.7 570.9,903.7 571.4,903.7 571.9,903.7 572.4,903.7 572.9,903.6 573.4,903.6 573.9,903.6 574.4,903.6 574.9,903.6 575.4,903.6 575.9,903.6 576.4,903.5 576.9,903.5 577.4,903.5 577.9,903.5 578.4,903.5 578.9,903.5 579.4,903.5 579.9,903.4 580.4,903.4 580.9,903.4 581.4,903.4 581.9,903.4 582.4,903.4 582.9,903.4 583.4,903.3 583.9,903.3 584.4,903.3 584.8,903.3 585.3,903.3 585.8,903.3 586.3,903.3 586.8,903.2 587.3,903.2 587.8,903.2 588.3,903.2 588.8,903.2 589.3,903.2 589.8,903.2 590.3,903.1 590.8,903.1 591.3,903.1 591.8,903.1 592.3,903.1 592.8,903.1 593.3,903.0 593.8,903.0 594.3,903.0 594.8,903.0 595.3,903.0 595.8,903.0 596.3,903.0 596.8,902.9 597.3,902.9 597.8,902.9 598.3,902.9 598.8,902.9 599.3,902.9 599.8,902.9 600.3,902.8 600.8,902.8 601.3,902.8 601.8,902.8 602.3,902.8 602.8,902.8 603.3,902.7 603.8,902.7 604.3,902.7 604.8,902.7 605.3,902.7 605.8,902.7 606.3,902.6 606.8,902.6 607.3,902.6 607.8,902.6 608.3,902.6 608.8,902.6 609.3,902.6 609.8,902.5 610.3,902.5 610.8,902.5 611.3,902.5 611.8,902.5 612.3,902.5 612.8,902.5 613.3,902.4 613.8,902.4 614.3,902.4 614.8,902.4 615.3,902.4 615.8,902.4 616.3,902.4 616.8,902.4 617.3,902.3 617.8,902.3 618.3,902.3 618.8,902.3 619.3,902.3 619.8,902.3 620.3,902.3 620.8,902.3 621.3,902.3 621.8,902.3 622.3,902.2 622.8,902.2 623.3,902.2 623.8,902.2 624.3,902.2 624.8,902.2 625.3,902.2 625.8,902.2 626.3,902.2 626.8,902.2 627.3,902.1 627.8,902.1 628.3,902.1 628.8,902.1 629.3,902.1 629.8,902.1 630.3,902.1 630.8,902.1 631.3,902.1 631.8,902.1 632.3,902.1 632.8,902.0 633.3,902.0 633.8,902.0 634.3,902.0 634.8,902.0 635.3,902.0 635.8,902.0 636.3,902.0 636.8,902.0 637.3,901.9 637.8,901.9 638.3,901.9 638.8,901.9 639.3,901.9 639.8,901.9 640.3,901.9 640.8,901.9 641.3,901.8 641.8,901.8 642.3,901.8 642.8,901.8 643.3,901.8 643.8,901.8 644.3,901.8 644.8,901.8 645.3,901.7 645.8,901.7 646.3,901.7 646.8,901.7 647.3,901.7 647.8,901.7 648.3,901.7 648.8,901.7 649.3,901.7 649.8,901.6 650.3,901.6 650.8,901.6 651.3,901.6 651.8,901.6 652.3,901.6 652.8,901.6 653.3,901.6 653.8,901.6 654.3,901.6 654.8,901.6 655.3,901.6 655.8,901.6 656.3,901.6 656.8,901.6 657.3,901.6 657.8,901.6 658.2,901.7 658.7,901.7 659.2,901.7 659.7,901.7 660.2,901.7 660.7,901.8 661.2,901.8 661.7,901.8 662.2,901.8 662.7,901.9 663.2,901.9 663.7,901.9 664.2,902.0 664.7,902.0 665.2,902.1 665.7,902.1 666.2,902.1 666.7,902.2 667.2,902.2 667.7,902.3 668.2,902.3 668.7,902.4 669.2,902.5 669.7,902.5 670.2,902.6 670.7,902.7 671.2,902.8 671.7,902.9 672.2,903.1 672.7,903.2 673.2,903.4 673.7,903.6 674.2,903.8 674.7,904.0 675.2,904.2 675.7,904.4 676.2,904.6 676.7,904.8 677.2,905.1 677.7,905.3 678.2,905.5 678.7,905.8 679.2,906.1 679.7,906.3 680.2,906.6 680.7,906.9 681.2,907.2 681.7,907.5 682.2,907.8 682.7,908.1 683.2,908.5 683.7,908.8 684.2,909.2 684.7,909.6 685.2,910.0 685.7,910.5 686.2,910.9 686.7,911.4 687.2,911.9 687.7,912.4 688.2,912.9 688.7,913.4 689.2,914.0 689.7,914.5 690.2,915.1 690.7,915.7 691.2,916.3 691.7,917.0 692.2,917.7 692.7,918.4 693.2,919.2 693.7,920.0 694.2,920.8 694.7,921.7 695.2,922.6 695.7,923.5 696.2,924.4 696.7,925.4 697.2,926.4 697.7,927.4 698.2,928.4 698.7,929.4 699.2,930.5 699.7,931.6 700.2,932.7 700.7,933.9 701.2,935.1 701.7,936.4 702.2,937.6 702.7,938.9 703.2,940.2 703.7,941.5 704.2,942.8 704.7,944.1 705.2,945.4 705.7,946.7 706.2,947.9 706.7,949.2 707.2,950.4 707.7,951.6 708.2,952.8 708.7,954.0 709.2,955.1 709.7,956.3 710.2,957.5 710.7,958.6 711.2,959.8 711.7,960.9 712.2,962.0 712.7,963.1 713.2,964.2 713.7,965.2 714.2,966.3 714.7,967.4 715.2,968.5 715.7,969.5 716.2,970.6 716.7,971.7 717.2,972.8 717.7,973.8 718.2,974.6 718.7,975.3 719.2,975.8 719.7,976.1 720.2,976.1 720.7,975.9 721.2,975.3 721.7,974.6 722.2,973.6 722.7,972.5 723.2,971.2 723.7,969.8 724.2,968.4 724.7,966.9 725.2,965.4 725.7,963.8 726.2,962.2 726.7,960.5 727.2,958.7 727.7,956.8 728.2,954.8 728.7,952.7 729.2,950.5 729.7,948.2 730.2,945.9 730.7,943.4 731.1,940.7 731.6,938.0 732.1,935.0 732.6,932.0 733.1,928.7 733.6,925.4 734.1,921.9 734.6,918.3 735.1,914.6 735.6,910.8 736.1,906.9 736.6,903.0 737.1,899.0 737.6,895.0 738.1,891.0 738.6,887.1 739.1,883.2 739.6,879.5 740.1,875.8 740.6,872.2 741.1,868.7 741.6,865.3 742.1,861.9 742.6,858.6 743.1,855.3 743.6,852.1 744.1,848.9 744.6,845.8 745.1,842.8 745.6,839.8 746.1,837.0 746.6,834.2 747.1,831.5 747.6,828.9 748.1,826.3 748.6,823.9 749.1,821.6 749.6,819.4 750.1,817.5 750.6,815.7 751.1,814.2 751.6,812.8 752.1,811.6 752.6,810.7 753.1,809.9 753.6,809.5 754.1,809.4 754.6,809.9 755.1,810.8 755.6,812.4 756.1,814.6 756.6,817.6 757.1,821.4 757.6,826.3 758.1,832.5 758.6,840.0 759.1,848.8 759.6,858.8 760.1,869.9 760.6,881.9 761.1,894.8 761.6,908.7 762.1,923.7 762.6,939.5 763.1,956.0 763.6,972.9 764.1,990.0 764.6,1007.2 765.1,1024.6 765.6,1042.5 766.1,1060.9 766.6,1080.1 767.1,1099.9 767.6,1120.0 768.1,1099.9 768.6,1080.1 769.1,1060.9 769.6,1042.5 770.1,1024.6 770.6,1007.2 771.1,990.0 771.6,972.9 772.1,956.0 772.6,939.5 773.1,923.7 773.6,908.7 774.1,894.8 774.6,881.9 775.1,869.9 775.6,858.8 776.1,848.8 776.6,840.0 777.1,832.5 777.6,826.3 778.1,821.4 778.6,817.6 779.1,814.6 779.6,812.4 780.1,810.8 780.6,809.9 781.1,809.4 781.6,809.5 782.1,809.9 782.6,810.7 783.1,811.6 783.6,812.8 784.1,814.2 784.6,815.7 785.1,817.5 785.6,819.4 786.1,821.6 786.6,823.9 787.1,826.3 787.6,828.9 788.1,831.5 788.6,834.2 789.1,837.0 789.6,839.8 790.1,842.8 790.6,845.8 791.1,848.9 791.6,852.1 792.1,855.3 792.6,858.6 793.1,861.9 793.6,865.3 794.1,868.7 794.6,872.2 795.1,875.8 795.6,879.5 796.1,883.2 796.6,887.1 797.1,891.0 797.6,895.0 798.1,899.0 798.6,903.0 799.1,906.9 799.6,910.8 800.1,914.6 800.6,918.3 801.1,921.9 801.6,925.4 802.1,928.7 802.6,932.0 803.1,935.0 803.6,938.0 804.1,940.7 804.5,943.4 805.0,945.9 805.5,948.2 806.0,950.5 806.5,952.7 807.0,954.8 807.5,956.8 808.0,958.7 808.5,960.5 809.0,962.2 809.5,963.8 810.0,965.4 810.5,966.9 811.0,968.4 811.5,969.8 812.0,971.2 812.5,972.5 813.0,973.6 813.5,974.6 814.0,975.3 814.5,975.9 815.0,976.1 815.5,976.1 816.0,975.8 816.5,975.3 817.0,974.6 817.5,973.8 818.0,972.8 818.5,971.7 819.0,970.6 819.5,969.5 820.0,968.5 820.5,967.4 821.0,966.3 821.5,965.2 822.0,964.2 822.5,963.1 823.0,962.0 823.5,960.9 824.0,959.8 824.5,958.6 825.0,957.5 825.5,956.3 826.0,955.1 826.5,954.0 827.0,952.8 827.5,951.6 828.0,950.4 828.5,949.2 829.0,947.9 829.5,946.7 830.0,945.4 830.5,944.1 831.0,942.8 831.5,941.5 832.0,940.2 832.5,938.9 833.0,937.6 833.5,936.4 834.0,935.1 834.5,933.9 835.0,932.7 835.5,931.6 836.0,930.5 836.5,929.4 837.0,928.4 837.5,927.4 838.0,926.4 838.5,925.4 839.0,924.4 839.5,923.5 840.0,922.6 840.5,921.7 841.0,920.8 841.5,920.0 842.0,919.2 842.5,918.4 843.0,917.7 843.5,917.0 844.0,916.3 844.5,915.7 845.0,915.1 845.5,914.5 846.0,914.0 846.5,913.4 847.0,912.9 847.5,912.4 848.0,911.9 848.5,911.4 849.0,910.9 849.5,910.5 850.0,910.0 850.5,909.6 851.0,909.2 851.5,908.8 852.0,908.5 852.5,908.1 853.0,907.8 853.5,907.5 854.0,907.2 854.5,906.9 855.0,906.6 855.5,906.3 856.0,906.1 856.5,905.8 857.0,905.5 857.5,905.3 858.0,905.1 858.5,904.8 859.0,904.6 859.5,904.4 860.0,904.2 860.5,904.0 861.0,903.8 861.5,903.6 862.0,903.4 862.5,903.2 863.0,903.1 863.5,902.9 864.0,902.8 864.5,902.7 865.0,902.6 865.5,902.5 866.0,902.5 866.5,902.4 867.0,902.3 867.5,902.3 868.0,902.2 868.5,902.2 869.0,902.1 869.5,902.1 870.0,902.1 870.5,902.0 871.0,902.0 871.5,901.9 872.0,901.9 872.5,901.9 873.0,901.8 873.5,901.8 874.0,901.8 874.5,901.8 875.0,901.7 875.5,901.7 876.0,901.7 876.5,901.7 877.0,901.7 877.4,901.6 877.9,901.6 878.4,901.6 878.9,901.6 879.4,901.6 879.9,901.6 880.4,901.6 880.9,901.6 881.4,901.6 881.9,901.6 882.4,901.6 882.9,901.6 883.4,901.6 883.9,901.6 884.4,901.6 884.9,901.6 885.4,901.6 885.9,901.7 886.4,901.7 886.9,901.7 887.4,901.7 887.9,901.7 888.4,901.7 888.9,901.7 889.4,901.7 889.9,901.7 890.4,901.8 890.9,901.8 891.4,901.8 891.9,901.8 892.4,901.8 892.9,901.8 893.4,901.8 893.9,901.8 894.4,901.9 894.9,901.9 895.4,901.9 895.9,901.9 896.4,901.9 896.9,901.9 897.4,901.9 897.9,901.9 898.4,902.0 898.9,902.0 899.4,902.0 899.9,902.0 900.4,902.0 900.9,902.0 901.4,902.0 901.9,902.0 902.4,902.0 902.9,902.1 903.4,902.1 903.9,902.1 904.4,902.1 904.9,902.1 905.4,902.1 905.9,902.1 906.4,902.1 906.9,902.1 907.4,902.1 907.9,902.1 908.4,902.2 908.9,902.2 909.4,902.2 909.9,902.2 910.4,902.2 910.9,902.2 911.4,902.2 911.9,902.2 912.4,902.2 912.9,902.2 913.4,902.3 913.9,902.3 914.4,902.3 914.9,902.3 915.4,902.3 915.9,902.3 916.4,902.3 916.9,902.3 917.4,902.3 917.9,902.3 918.4,902.4 918.9,902.4 919.4,902.4 919.9,902.4 920.4,902.4 920.9,902.4 921.4,902.4 921.9,902.4 922.4,902.5 922.9,902.5 923.4,902.5 923.9,902.5 924.4,902.5 924.9,902.5 925.4,902.5 925.9,902.6 926.4,902.6 926.9,902.6 927.4,902.6 927.9,902.6 928.4,902.6 928.9,902.6 929.4,902.7 929.9,902.7 930.4,902.7 930.9,902.7 931.4,902.7 931.9,902.7 932.4,902.8 932.9,902.8 933.4,902.8 933.9,902.8 934.4,902.8 934.9,902.8 935.4,902.9 935.9,902.9 936.4,902.9 936.9,902.9 937.4,902.9 937.9,902.9 938.4,902.9 938.9,903.0 939.4,903.0 939.9,903.0 940.4,903.0 940.9,903.0 941.4,903.0 941.9,903.0 942.4,903.1 942.9,903.1 943.4,903.1 943.9,903.1 944.4,903.1 944.9,903.1 945.4,903.2 945.9,903.2 946.4,903.2 946.9,903.2 947.4,903.2 947.9,903.2 948.4,903.2 948.9,903.3 949.4,903.3 949.9,903.3 950.4,903.3 950.8,903.3 951.3,903.3 951.8,903.3 952.3,903.4 952.8,903.4 953.3,903.4 953.8,903.4 954.3,903.4 954.8,903.4 955.3,903.4 955.8,903.5 956.3,903.5 956.8,903.5 957.3,903.5 957.8,903.5 958.3,903.5 958.8,903.5 959.3,903.6 959.8,903.6 960.3,903.6 960.8,903.6 961.3,903.6 961.8,903.6 962.3,903.6 962.8,903.7 963.3,903.7 963.8,903.7 964.3,903.7 964.8,903.7 965.3,903.7 965.8,903.7 966.3,903.8 966.8,903.8 967.3,903.8 967.8,903.8 968.3,903.8 968.8,903.8 969.3,903.8 969.8,903.9 970.3,903.9 970.8,903.9 971.3,903.9 971.8,903.9 972.3,903.9 972.8,904.0 973.3,904.0 973.8,904.0 974.3,904.0 974.8,904.0 975.3,904.0 975.8,904.0 976.3,904.1 976.8,904.1 977.3,904.1 977.8,904.1 978.3,904.1 978.8,904.1 979.3,904.1 979.8,904.2 980.3,904.2 980.8,904.2 981.3,904.2 981.8,904.2 982.3,904.2 982.8,904.2 983.3,904.3 983.8,904.3 984.3,904.3 984.8,904.3 985.3,904.3 985.8,904.3 986.3,904.3 986.8,904.4 987.3,904.4 987.8,904.4 988.3,904.4 988.8,904.4 989.3,904.4 989.8,904.4 990.3,904.5 990.8,904.5 991.3,904.5 991.8,904.5 992.3,904.5 992.8,904.5 993.3,904.5 993.8,904.6 994.3,904.6 994.8,904.6 995.3,904.6 995.8,904.6 996.3,904.6 996.8,904.6 997.3,904.7 997.8,904.7 998.3,904.7 998.8,904.7 999.3,904.7 999.8,904.7 1000.3,904.7 1000.8,904.8 1001.3,904.8 1001.8,904.8 1002.3,904.8 1002.8,904.8 1003.3,904.8 1003.8,904.8 1004.3,904.9 1004.8,904.9 1005.3,904.9 1005.8,904.9 1006.3,904.9 1006.8,904.9 1007.3,904.9 1007.8,905.0 1008.3,905.0 1008.8,905.0 1009.3,905.0 1009.8,905.0 1010.3,905.0 1010.8,905.0 1011.3,905.0 1011.8,905.1 1012.3,905.1 1012.8,905.1 1013.3,905.1 1013.8,905.1 1014.3,905.1 1014.8,905.1 1015.3,905.2 1015.8,905.2 1016.3,905.2 1016.8,905.2 1017.3,905.2 1017.8,905.2 1018.3,905.2 1018.8,905.3 1019.3,905.3 1019.8,905.3 1020.3,905.3 1020.8,905.3 1021.3,905.3 1021.8,905.3 1022.3,905.4 1022.8,905.4 1023.3,905.4 1023.7,905.4 1024.2,905.4 1024.7,905.4 1025.2,905.4 1025.7,905.5 1026.2,905.5 1026.7,905.5 1027.2,905.5 1027.7,905.5 1028.2,905.5 1028.7,905.5 1029.2,905.6 1029.7,905.6 1030.2,905.6 1030.7,905.6 1031.2,905.6 1031.7,905.6 1032.2,905.6 1032.7,905.7 1033.2,905.7 1033.7,905.7 1034.2,905.7 1034.7,905.7 1035.2,905.7 1035.7,905.7 1036.2,905.7 1036.7,905.8 1037.2,905.8 1037.7,905.8 1038.2,905.8 1038.7,905.8 1039.2,905.8 1039.7,905.8 1040.2,905.9 1040.7,905.9 1041.2,905.9 1041.7,905.9 1042.2,905.9 1042.7,905.9 1043.2,905.9 1043.7,906.0 1044.2,906.0 1044.7,906.0 1045.2,906.0 1045.7,906.0 1046.2,906.0 1046.7,906.0 1047.2,906.0 1047.7,906.1 1048.2,906.1 1048.7,906.1 1049.2,906.1 1049.7,906.1 1050.2,906.1 1050.7,906.1 1051.2,906.2 1051.7,906.2 1052.2,906.2 1052.7,906.2 1053.2,906.2 1053.7,906.2 1054.2,906.2 1054.7,906.3 1055.2,906.3 1055.7,906.3 1056.2,906.3 1056.7,906.3 1057.2,906.3 1057.7,906.3 1058.2,906.3 1058.7,906.4 1059.2,906.4 1059.7,906.4 1060.2,906.4" fill="none" stroke="#4472c4" stroke-width="1.65" stroke-linejoin="round" stroke-linecap="butt" clip-path="url(#clip_b3)"/>
<path d="M475.0,906.6 475.5,906.4 476.0,906.3 476.5,906.1 477.0,906.0 477.5,905.9 478.0,905.7 478.5,905.7 479.0,905.6 479.5,905.6 480.0,905.6 480.5,905.7 481.0,905.7 481.5,905.8 482.0,905.9 482.5,906.1 483.0,906.2 483.5,906.3 484.0,906.5 484.5,906.6 485.0,906.7 485.5,906.7 486.0,906.8 486.5,906.8 487.0,906.8 487.5,906.7 488.0,906.6 488.5,906.5 489.0,906.4 489.5,906.2 490.0,906.1 490.5,905.9 491.0,905.7 491.5,905.6 492.0,905.5 492.5,905.3 493.0,905.2 493.5,905.2 494.0,905.2 494.5,905.2 495.0,905.2 495.5,905.3 496.0,905.4 496.5,905.5 497.0,905.6 497.5,905.8 498.0,905.9 498.5,906.1 499.0,906.2 499.5,906.3 500.0,906.4 500.5,906.4 501.0,906.4 501.5,906.4 502.0,906.4 502.5,906.3 503.0,906.2 503.5,906.0 504.0,905.9 504.5,905.7 505.0,905.5 505.5,905.4 506.0,905.2 506.5,905.0 507.0,904.9 507.5,904.8 508.0,904.7 508.5,904.7 509.0,904.7 509.5,904.8 510.0,904.8 510.5,905.0 511.0,905.1 511.5,905.2 511.9,905.4 512.4,905.5 512.9,905.6 513.4,905.8 513.9,905.9 514.4,906.0 514.9,906.0 515.4,906.1 515.9,906.1 516.4,906.0 516.9,905.9 517.4,905.8 517.9,905.7 518.4,905.5 518.9,905.3 519.4,905.1 519.9,905.0 520.4,904.8 520.9,904.6 521.4,904.5 521.9,904.4 522.4,904.3 522.9,904.3 523.4,904.3 523.9,904.3 524.4,904.4 524.9,904.5 525.4,904.6 525.9,904.8 526.4,904.9 526.9,905.1 527.4,905.2 527.9,905.4 528.4,905.5 528.9,905.6 529.4,905.7 529.9,905.7 530.4,905.7 530.9,905.7 531.4,905.6 531.9,905.4 532.4,905.3 532.9,905.1 533.4,904.9 533.9,904.8 534.4,904.6 534.9,904.4 535.4,904.2 535.9,904.1 536.4,903.9 536.9,903.9 537.4,903.8 537.9,903.8 538.4,903.8 538.9,903.9 539.4,904.0 539.9,904.2 540.4,904.3 540.9,904.5 541.4,904.6 541.9,904.8 542.4,905.0 542.9,905.1 543.4,905.2 543.9,905.3 544.4,905.3 544.9,905.3 545.4,905.3 545.9,905.2 546.4,905.1 546.9,904.9 547.4,904.8 547.9,904.6 548.4,904.4 548.9,904.2 549.4,904.0 549.9,903.8 550.4,903.6 550.9,903.5 551.4,903.4 551.9,903.3 552.4,903.3 552.9,903.4 553.4,903.4 553.9,903.5 554.4,903.7 554.9,903.9 555.4,904.0 555.9,904.2 556.4,904.4 556.9,904.5 557.4,904.7 557.9,904.8 558.4,904.9 558.9,905.0 559.4,905.0 559.9,905.0 560.4,904.9 560.9,904.7 561.4,904.6 561.9,904.4 562.4,904.2 562.9,904.0 563.4,903.8 563.9,903.6 564.4,903.4 564.9,903.2 565.4,903.0 565.9,902.9 566.4,902.9 566.9,902.8 567.4,902.9 567.9,902.9 568.4,903.1 568.9,903.2 569.4,903.4 569.9,903.6 570.4,903.8 570.9,903.9 571.4,904.1 571.9,904.3 572.4,904.4 572.9,904.5 573.4,904.6 573.9,904.6 574.4,904.6 574.9,904.5 575.4,904.4 575.9,904.2 576.4,904.0 576.9,903.8 577.4,903.6 577.9,903.4 578.4,903.1 578.9,902.9 579.4,902.7 579.9,902.6 580.4,902.4 580.9,902.4 581.4,902.3 581.9,902.4 582.4,902.4 582.9,902.6 583.4,902.7 583.9,902.9 584.4,903.1 584.8,903.3 585.3,903.5 585.8,903.7 586.3,903.9 586.8,904.1 587.3,904.2 587.8,904.3 588.3,904.3 588.8,904.3 589.3,904.2 589.8,904.1 590.3,903.9 590.8,903.7 591.3,903.5 591.8,903.2 592.3,903.0 592.8,902.7 593.3,902.5 593.8,902.3 594.3,902.1 594.8,902.0 595.3,901.9 595.8,901.8 596.3,901.8 596.8,901.9 597.3,902.0 597.8,902.2 598.3,902.4 598.8,902.6 599.3,902.8 599.8,903.1 600.3,903.3 600.8,903.5 601.3,903.7 601.8,903.8 602.3,903.9 602.8,904.0 603.3,903.9 603.8,903.9 604.3,903.7 604.8,903.6 605.3,903.3 605.8,903.1 606.3,902.8 606.8,902.6 607.3,902.3 607.8,902.0 608.3,901.8 608.8,901.6 609.3,901.4 609.8,901.3 610.3,901.3 610.8,901.3 611.3,901.3 611.8,901.5 612.3,901.7 612.8,901.9 613.3,902.1 613.8,902.4 614.3,902.6 614.8,902.9 615.3,903.1 615.8,903.3 616.3,903.5 616.8,903.6 617.3,903.7 617.8,903.7 618.3,903.6 618.8,903.5 619.3,903.3 619.8,903.1 620.3,902.8 620.8,902.5 621.3,902.2 621.8,901.9 622.3,901.7 622.8,901.4 623.3,901.2 623.8,901.0 624.3,900.9 624.8,900.8 625.3,900.8 625.8,900.9 626.3,901.0 626.8,901.2 627.3,901.5 627.8,901.7 628.3,902.0 628.8,902.3 629.3,902.6 629.8,902.8 630.3,903.1 630.8,903.3 631.3,903.4 631.8,903.5 632.3,903.5 632.8,903.5 633.3,903.3 633.8,903.1 634.3,902.9 634.8,902.6 635.3,902.3 635.8,902.0 636.3,901.7 636.8,901.4 637.3,901.1 637.8,900.8 638.3,900.6 638.8,900.4 639.3,900.4 639.8,900.3 640.3,900.4 640.8,900.6 641.3,900.8 641.8,901.0 642.3,901.3 642.8,901.6 643.3,901.9 643.8,902.2 644.3,902.5 644.8,902.8 645.3,903.0 645.8,903.2 646.3,903.3 646.8,903.4 647.3,903.3 647.8,903.2 648.3,903.0 648.8,902.7 649.3,902.4 649.8,902.1 650.3,901.7 650.8,901.3 651.3,901.0 651.8,900.7 652.3,900.4 652.8,900.1 653.3,900.0 653.8,899.9 654.3,899.9 654.8,899.9 655.3,900.1 655.8,900.4 656.3,900.6 656.8,901.0 657.3,901.4 657.8,901.7 658.2,902.1 658.7,902.5 659.2,902.8 659.7,903.1 660.2,903.4 660.7,903.6 661.2,903.7 661.7,903.7 662.2,903.6 662.7,903.4 663.2,903.1 663.7,902.8 664.2,902.5 664.7,902.1 665.2,901.8 665.7,901.4 666.2,901.1 666.7,900.8 667.2,900.6 667.7,900.4 668.2,900.4 668.7,900.4 669.2,900.5 669.7,900.8 670.2,901.1 670.7,901.6 671.2,902.0 671.7,902.6 672.2,903.1 672.7,903.7 673.2,904.3 673.7,904.8 674.2,905.4 674.7,905.8 675.2,906.2 675.7,906.5 676.2,906.7 676.7,906.8 677.2,906.8 677.7,906.8 678.2,906.6 678.7,906.5 679.2,906.3 679.7,906.1 680.2,905.9 680.7,905.7 681.2,905.6 681.7,905.6 682.2,905.6 682.7,905.8 683.2,906.1 683.7,906.5 684.2,907.1 684.7,907.8 685.2,908.6 685.7,909.5 686.2,910.4 686.7,911.4 687.2,912.4 687.7,913.4 688.2,914.3 688.7,915.3 689.2,916.2 689.7,917.0 690.2,917.7 690.7,918.3 691.2,918.8 691.7,919.2 692.2,919.5 692.7,919.8 693.2,920.0 693.7,920.3 694.2,920.6 694.7,920.9 695.2,921.3 695.7,921.7 696.2,922.2 696.7,922.9 697.2,923.6 697.7,924.5 698.2,925.6 698.7,926.9 699.2,928.3 699.7,929.9 700.2,931.5 700.7,933.3 701.2,935.2 701.7,937.1 702.2,939.0 702.7,940.9 703.2,942.8 703.7,944.6 704.2,946.3 704.7,947.8 705.2,949.2 705.7,950.5 706.2,951.5 706.7,952.3 707.2,953.0 707.7,953.5 708.2,954.0 708.7,954.5 709.2,954.9 709.7,955.3 710.2,955.7 710.7,956.2 711.2,956.9 711.7,957.6 712.2,958.5 712.7,959.5 713.2,960.8 713.7,962.2 714.2,963.8 714.7,965.5 715.2,967.3 715.7,969.2 716.2,971.1 716.7,973.0 717.2,974.9 717.7,976.6 718.2,978.2 718.7,979.4 719.2,980.3 719.7,980.8 720.2,980.8 720.7,980.3 721.2,979.3 721.7,977.8 722.2,976.0 722.7,973.9 723.2,971.6 723.7,969.1 724.2,966.7 724.7,964.2 725.2,961.8 725.7,959.5 726.2,957.4 726.7,955.3 727.2,953.5 727.7,951.9 728.2,950.5 728.7,949.2 729.2,947.9 729.7,946.7 730.2,945.5 730.7,944.2 731.1,942.7 731.6,941.1 732.1,939.2 732.6,937.0 733.1,934.6 733.6,931.7 734.1,928.5 734.6,924.9 735.1,920.8 735.6,916.2 736.1,911.3 736.6,906.1 737.1,900.7 737.6,895.2 738.1,889.7 738.6,884.3 739.1,879.1 739.6,874.1 740.1,869.3 740.6,864.9 741.1,860.9 741.6,857.3 742.1,854.2 742.6,851.6 743.1,849.5 743.6,847.7 744.1,846.1 744.6,844.8 745.1,843.7 745.6,842.7 746.1,841.7 746.6,840.6 747.1,839.5 747.6,838.1 748.1,836.6 748.6,834.7 749.1,832.5 749.6,829.7 750.1,826.4 750.6,822.7 751.1,818.8 751.6,814.7 752.1,810.6 752.6,806.6 753.1,803.0 753.6,799.8 754.1,797.4 754.6,795.9 755.1,795.6 755.6,796.5 756.1,799.2 756.6,803.9 757.1,810.6 757.6,819.1 758.1,829.5 758.6,841.6 759.1,855.3 759.6,870.0 760.1,885.5 760.6,901.4 761.1,917.5 761.6,933.6 762.1,949.5 762.6,964.4 763.1,977.5 763.6,989.0 764.1,999.2 764.6,1008.6 765.1,1018.0 765.6,1028.0 766.1,1039.4 766.6,1052.8 767.1,1068.8 767.6,1087.5 768.1,1068.7 768.6,1052.6 769.1,1039.0 769.6,1027.3 770.1,1017.1 770.6,1007.6 771.1,998.0 771.6,987.9 772.1,976.5 772.6,963.8 773.1,949.5 773.6,933.9 774.1,918.1 774.6,902.3 775.1,886.5 775.6,871.1 776.1,856.4 776.6,842.8 777.1,830.6 777.6,820.1 778.1,811.4 778.6,804.5 779.1,799.5 779.6,796.5 780.1,795.3 780.6,795.4 781.1,796.5 781.6,798.6 782.1,801.4 782.6,804.8 783.1,808.5 783.6,812.5 784.1,816.5 784.6,820.6 785.1,824.6 785.6,828.3 786.1,831.8 786.6,834.8 787.1,837.2 787.6,839.2 788.1,840.8 788.6,842.1 789.1,843.2 789.6,844.2 790.1,845.1 790.6,846.1 791.1,847.2 791.6,848.5 792.1,850.1 792.6,852.0 793.1,854.4 793.6,857.3 794.1,860.8 794.6,864.7 795.1,869.0 795.6,873.6 796.1,878.6 796.6,883.7 797.1,889.1 797.6,894.5 798.1,900.0 798.6,905.4 799.1,910.6 799.6,915.6 800.1,920.3 800.6,924.7 801.1,928.5 801.6,932.0 802.1,934.9 802.6,937.5 803.1,939.8 803.6,941.7 804.1,943.3 804.5,944.8 805.0,946.0 805.5,947.2 806.0,948.3 806.5,949.5 807.0,950.7 807.5,952.1 808.0,953.6 808.5,955.3 809.0,957.2 809.5,959.3 810.0,961.5 810.5,963.8 811.0,966.2 811.5,968.6 812.0,970.9 812.5,973.2 813.0,975.3 813.5,977.2 814.0,978.7 814.5,979.9 815.0,980.6 815.5,980.8 816.0,980.5 816.5,979.8 817.0,978.7 817.5,977.3 818.0,975.6 818.5,973.8 819.0,971.9 819.5,970.0 820.0,968.1 820.5,966.2 821.0,964.4 821.5,962.7 822.0,961.1 822.5,959.7 823.0,958.4 823.5,957.4 824.0,956.5 824.5,955.7 825.0,955.1 825.5,954.6 826.0,954.1 826.5,953.7 827.0,953.3 827.5,952.9 828.0,952.4 828.5,951.8 829.0,951.1 829.5,950.2 830.0,949.2 830.5,947.9 831.0,946.5 831.5,944.9 832.0,943.2 832.5,941.4 833.0,939.6 833.5,937.7 834.0,935.8 834.5,933.9 835.0,932.1 835.5,930.4 836.0,928.7 836.5,927.2 837.0,925.8 837.5,924.6 838.0,923.5 838.5,922.6 839.0,921.9 839.5,921.3 840.0,920.8 840.5,920.4 841.0,920.1 841.5,919.8 842.0,919.5 842.5,919.3 843.0,919.1 843.5,918.8 844.0,918.5 844.5,918.2 845.0,917.7 845.5,917.1 846.0,916.4 846.5,915.6 847.0,914.7 847.5,913.8 848.0,912.8 848.5,911.9 849.0,910.9 849.5,909.9 850.0,909.0 850.5,908.2 851.0,907.4 851.5,906.7 852.0,906.2 852.5,905.7 853.0,905.5 853.5,905.3 854.0,905.3 854.5,905.3 855.0,905.5 855.5,905.6 856.0,905.8 856.5,906.0 857.0,906.2 857.5,906.4 858.0,906.5 858.5,906.6 859.0,906.6 859.5,906.5 860.0,906.3 860.5,906.0 861.0,905.6 861.5,905.2 862.0,904.7 862.5,904.1 863.0,903.5 863.5,903.0 864.0,902.4 864.5,901.9 865.0,901.4 865.5,901.0 866.0,900.7 866.5,900.5 867.0,900.3 867.5,900.3 868.0,900.4 868.5,900.6 869.0,900.8 869.5,901.1 870.0,901.4 870.5,901.8 871.0,902.1 871.5,902.5 872.0,902.8 872.5,903.1 873.0,903.4 873.5,903.5 874.0,903.6 874.5,903.6 875.0,903.5 875.5,903.4 876.0,903.1 876.5,902.8 877.0,902.5 877.4,902.1 877.9,901.7 878.4,901.3 878.9,901.0 879.4,900.6 879.9,900.3 880.4,900.1 880.9,899.9 881.4,899.9 881.9,899.9 882.4,900.0 882.9,900.2 883.4,900.4 883.9,900.7 884.4,901.0 884.9,901.4 885.4,901.7 885.9,902.1 886.4,902.4 886.9,902.7 887.4,903.0 887.9,903.2 888.4,903.3 888.9,903.4 889.4,903.3 889.9,903.2 890.4,903.0 890.9,902.8 891.4,902.5 891.9,902.2 892.4,901.9 892.9,901.6 893.4,901.3 893.9,901.0 894.4,900.8 894.9,900.6 895.4,900.4 895.9,900.4 896.4,900.4 896.9,900.5 897.4,900.6 897.9,900.8 898.4,901.1 898.9,901.4 899.4,901.7 899.9,902.0 900.4,902.3 900.9,902.6 901.4,902.9 901.9,903.2 902.4,903.3 902.9,903.5 903.4,903.5 903.9,903.5 904.4,903.4 904.9,903.3 905.4,903.1 905.9,902.8 906.4,902.6 906.9,902.3 907.4,902.0 907.9,901.7 908.4,901.5 908.9,901.2 909.4,901.0 909.9,900.9 910.4,900.8 910.9,900.8 911.4,900.9 911.9,901.0 912.4,901.2 912.9,901.4 913.4,901.7 913.9,902.0 914.4,902.2 914.9,902.5 915.4,902.8 915.9,903.1 916.4,903.3 916.9,903.5 917.4,903.6 917.9,903.7 918.4,903.7 918.9,903.6 919.4,903.5 919.9,903.3 920.4,903.1 920.9,902.9 921.4,902.6 921.9,902.4 922.4,902.1 922.9,901.9 923.4,901.7 923.9,901.5 924.4,901.4 924.9,901.3 925.4,901.3 925.9,901.3 926.4,901.4 926.9,901.6 927.4,901.8 927.9,902.1 928.4,902.3 928.9,902.6 929.4,902.9 929.9,903.1 930.4,903.4 930.9,903.6 931.4,903.8 931.9,903.9 932.4,904.0 932.9,904.0 933.4,903.9 933.9,903.8 934.4,903.7 934.9,903.5 935.4,903.3 935.9,903.1 936.4,902.8 936.9,902.6 937.4,902.4 937.9,902.2 938.4,902.0 938.9,901.9 939.4,901.8 939.9,901.8 940.4,901.9 940.9,902.0 941.4,902.1 941.9,902.3 942.4,902.5 942.9,902.8 943.4,903.0 943.9,903.2 944.4,903.5 944.9,903.7 945.4,903.9 945.9,904.1 946.4,904.2 946.9,904.3 947.4,904.3 947.9,904.3 948.4,904.2 948.9,904.1 949.4,903.9 949.9,903.7 950.4,903.5 950.8,903.3 951.3,903.1 951.8,902.9 952.3,902.7 952.8,902.6 953.3,902.4 953.8,902.4 954.3,902.3 954.8,902.4 955.3,902.5 955.8,902.6 956.3,902.8 956.8,903.0 957.3,903.2 957.8,903.4 958.3,903.6 958.8,903.9 959.3,904.1 959.8,904.3 960.3,904.4 960.8,904.6 961.3,904.6 961.8,904.7 962.3,904.6 962.8,904.6 963.3,904.5 963.8,904.3 964.3,904.1 964.8,904.0 965.3,903.8 965.8,903.6 966.3,903.4 966.8,903.2 967.3,903.1 967.8,903.0 968.3,902.9 968.8,902.8 969.3,902.9 969.8,902.9 970.3,903.1 970.8,903.2 971.3,903.4 971.8,903.6 972.3,903.8 972.8,904.0 973.3,904.2 973.8,904.4 974.3,904.6 974.8,904.8 975.3,904.9 975.8,905.0 976.3,905.0 976.8,905.0 977.3,904.9 977.8,904.8 978.3,904.7 978.8,904.6 979.3,904.4 979.8,904.2 980.3,904.0 980.8,903.9 981.3,903.7 981.8,903.6 982.3,903.4 982.8,903.4 983.3,903.3 983.8,903.3 984.3,903.4 984.8,903.5 985.3,903.6 985.8,903.8 986.3,904.0 986.8,904.2 987.3,904.4 987.8,904.6 988.3,904.8 988.8,905.0 989.3,905.1 989.8,905.2 990.3,905.3 990.8,905.4 991.3,905.4 991.8,905.3 992.3,905.2 992.8,905.1 993.3,905.0 993.8,904.8 994.3,904.6 994.8,904.5 995.3,904.3 995.8,904.2 996.3,904.0 996.8,903.9 997.3,903.8 997.8,903.8 998.3,903.8 998.8,903.9 999.3,904.0 999.8,904.1 1000.3,904.2 1000.8,904.4 1001.3,904.6 1001.8,904.8 1002.3,905.0 1002.8,905.1 1003.3,905.3 1003.8,905.5 1004.3,905.6 1004.8,905.7 1005.3,905.7 1005.8,905.7 1006.3,905.7 1006.8,905.6 1007.3,905.5 1007.8,905.4 1008.3,905.2 1008.8,905.1 1009.3,904.9 1009.8,904.8 1010.3,904.6 1010.8,904.5 1011.3,904.4 1011.8,904.3 1012.3,904.3 1012.8,904.3 1013.3,904.3 1013.8,904.4 1014.3,904.5 1014.8,904.7 1015.3,904.8 1015.8,905.0 1016.3,905.2 1016.8,905.3 1017.3,905.5 1017.8,905.7 1018.3,905.8 1018.8,905.9 1019.3,906.0 1019.8,906.1 1020.3,906.1 1020.8,906.1 1021.3,906.0 1021.8,905.9 1022.3,905.8 1022.8,905.7 1023.3,905.5 1023.7,905.4 1024.2,905.2 1024.7,905.1 1025.2,905.0 1025.7,904.9 1026.2,904.8 1026.7,904.7 1027.2,904.7 1027.7,904.8 1028.2,904.8 1028.7,904.9 1029.2,905.1 1029.7,905.2 1030.2,905.4 1030.7,905.5 1031.2,905.7 1031.7,905.9 1032.2,906.0 1032.7,906.2 1033.2,906.3 1033.7,906.4 1034.2,906.4 1034.7,906.5 1035.2,906.4 1035.7,906.4 1036.2,906.3 1036.7,906.2 1037.2,906.1 1037.7,905.9 1038.2,905.8 1038.7,905.7 1039.2,905.5 1039.7,905.4 1040.2,905.3 1040.7,905.2 1041.2,905.2 1041.7,905.2 1042.2,905.2 1042.7,905.3 1043.2,905.4 1043.7,905.5 1044.2,905.6 1044.7,905.8 1045.2,905.9 1045.7,906.1 1046.2,906.2 1046.7,906.4 1047.2,906.5 1047.7,906.6 1048.2,906.7 1048.7,906.8 1049.2,906.8 1049.7,906.8 1050.2,906.8 1050.7,906.7 1051.2,906.6 1051.7,906.5 1052.2,906.3 1052.7,906.2 1053.2,906.1 1053.7,906.0 1054.2,905.8 1054.7,905.7 1055.2,905.7 1055.7,905.6 1056.2,905.6 1056.7,905.6 1057.2,905.7 1057.7,905.8 1058.2,905.9 1058.7,906.0 1059.2,906.1 1059.7,906.3 1060.2,906.4" fill="none" stroke="#70ad47" stroke-width="1.9" stroke-linejoin="round" stroke-linecap="butt" clip-path="url(#clip_b3)"/>
<rect x="475.0" y="775.8" width="585.5999999999999" height="361.9000000000001" fill="none" stroke="#000" stroke-width="1.7"/>
<line x1="463.00" y1="1110.70" x2="475.00" y2="1110.70" stroke="#000" stroke-width="1.7"/>
<text><tspan class="r" x="418.98" y="1124.10" font-size="31.70" textLength="22.30" lengthAdjust="spacingAndGlyphs" stroke="#000" stroke-width="0.35">−</tspan><tspan class="r" x="441.24" y="1122.70" font-size="31.70" textLength="16.88" lengthAdjust="spacingAndGlyphs" stroke="#000" stroke-width="0.35">3</tspan></text>
<line x1="469.70" y1="1076.75" x2="475.00" y2="1076.75" stroke="#000" stroke-width="1.7"/>
<line x1="463.00" y1="1042.80" x2="475.00" y2="1042.80" stroke="#000" stroke-width="1.7"/>
<text><tspan class="r" x="419.40" y="1056.20" font-size="31.70" textLength="22.30" lengthAdjust="spacingAndGlyphs" stroke="#000" stroke-width="0.35">−</tspan><tspan class="r" x="441.78" y="1054.80" font-size="31.70" textLength="16.88" lengthAdjust="spacingAndGlyphs" stroke="#000" stroke-width="0.35">2</tspan></text>
<line x1="469.70" y1="1008.85" x2="475.00" y2="1008.85" stroke="#000" stroke-width="1.7"/>
<line x1="463.00" y1="974.90" x2="475.00" y2="974.90" stroke="#000" stroke-width="1.7"/>
<text><tspan class="r" x="421.05" y="988.30" font-size="31.70" textLength="22.30" lengthAdjust="spacingAndGlyphs" stroke="#000" stroke-width="0.35">−</tspan><tspan class="r" x="441.95" y="986.90" font-size="31.70" textLength="16.88" lengthAdjust="spacingAndGlyphs" stroke="#000" stroke-width="0.35">1</tspan></text>
<line x1="469.70" y1="940.95" x2="475.00" y2="940.95" stroke="#000" stroke-width="1.7"/>
<line x1="463.00" y1="907.00" x2="475.00" y2="907.00" stroke="#000" stroke-width="1.7"/>
<text><tspan class="r" x="441.21" y="919.00" font-size="31.70" textLength="16.88" lengthAdjust="spacingAndGlyphs" stroke="#000" stroke-width="0.35">0</tspan></text>
<line x1="469.70" y1="873.05" x2="475.00" y2="873.05" stroke="#000" stroke-width="1.7"/>
<line x1="463.00" y1="839.10" x2="475.00" y2="839.10" stroke="#000" stroke-width="1.7"/>
<text><tspan class="r" x="441.95" y="851.10" font-size="31.70" textLength="16.88" lengthAdjust="spacingAndGlyphs" stroke="#000" stroke-width="0.35">1</tspan></text>
<line x1="469.70" y1="805.15" x2="475.00" y2="805.15" stroke="#000" stroke-width="1.7"/>
<line x1="489.25" y1="1137.70" x2="489.25" y2="1142.70" stroke="#000" stroke-width="1.7"/>
<line x1="503.90" y1="1137.70" x2="503.90" y2="1142.70" stroke="#000" stroke-width="1.7"/>
<line x1="518.55" y1="1137.70" x2="518.55" y2="1142.70" stroke="#000" stroke-width="1.7"/>
<line x1="533.20" y1="1137.70" x2="533.20" y2="1142.70" stroke="#000" stroke-width="1.7"/>
<line x1="547.85" y1="1137.70" x2="547.85" y2="1147.00" stroke="#000" stroke-width="1.7"/>
<text><tspan class="r" x="512.24" y="1178.30" font-size="31.70" textLength="22.30" lengthAdjust="spacingAndGlyphs" stroke="#000" stroke-width="0.35">−</tspan><tspan class="r" x="533.14" y="1176.90" font-size="31.70" textLength="50.64" lengthAdjust="spacingAndGlyphs" stroke="#000" stroke-width="0.35">150</tspan></text>
<line x1="562.50" y1="1137.70" x2="562.50" y2="1142.70" stroke="#000" stroke-width="1.7"/>
<line x1="577.15" y1="1137.70" x2="577.15" y2="1142.70" stroke="#000" stroke-width="1.7"/>
<line x1="591.80" y1="1137.70" x2="591.80" y2="1142.70" stroke="#000" stroke-width="1.7"/>
<line x1="606.45" y1="1137.70" x2="606.45" y2="1142.70" stroke="#000" stroke-width="1.7"/>
<line x1="621.10" y1="1137.70" x2="621.10" y2="1147.00" stroke="#000" stroke-width="1.7"/>
<text><tspan class="r" x="585.49" y="1178.30" font-size="31.70" textLength="22.30" lengthAdjust="spacingAndGlyphs" stroke="#000" stroke-width="0.35">−</tspan><tspan class="r" x="606.39" y="1176.90" font-size="31.70" textLength="50.64" lengthAdjust="spacingAndGlyphs" stroke="#000" stroke-width="0.35">100</tspan></text>
<line x1="635.75" y1="1137.70" x2="635.75" y2="1142.70" stroke="#000" stroke-width="1.7"/>
<line x1="650.40" y1="1137.70" x2="650.40" y2="1142.70" stroke="#000" stroke-width="1.7"/>
<line x1="665.05" y1="1137.70" x2="665.05" y2="1142.70" stroke="#000" stroke-width="1.7"/>
<line x1="679.70" y1="1137.70" x2="679.70" y2="1142.70" stroke="#000" stroke-width="1.7"/>
<line x1="694.35" y1="1137.70" x2="694.35" y2="1147.00" stroke="#000" stroke-width="1.7"/>
<text><tspan class="r" x="666.67" y="1178.30" font-size="31.70" textLength="22.30" lengthAdjust="spacingAndGlyphs" stroke="#000" stroke-width="0.35">−</tspan><tspan class="r" x="688.58" y="1176.90" font-size="31.70" textLength="33.76" lengthAdjust="spacingAndGlyphs" stroke="#000" stroke-width="0.35">50</tspan></text>
<line x1="709.00" y1="1137.70" x2="709.00" y2="1142.70" stroke="#000" stroke-width="1.7"/>
<line x1="723.65" y1="1137.70" x2="723.65" y2="1142.70" stroke="#000" stroke-width="1.7"/>
<line x1="738.30" y1="1137.70" x2="738.30" y2="1142.70" stroke="#000" stroke-width="1.7"/>
<line x1="752.95" y1="1137.70" x2="752.95" y2="1142.70" stroke="#000" stroke-width="1.7"/>
<line x1="767.60" y1="1137.70" x2="767.60" y2="1147.00" stroke="#000" stroke-width="1.7"/>
<text><tspan class="r" x="759.66" y="1176.90" font-size="31.70" textLength="16.88" lengthAdjust="spacingAndGlyphs" stroke="#000" stroke-width="0.35">0</tspan></text>
<line x1="782.25" y1="1137.70" x2="782.25" y2="1142.70" stroke="#000" stroke-width="1.7"/>
<line x1="796.90" y1="1137.70" x2="796.90" y2="1142.70" stroke="#000" stroke-width="1.7"/>
<line x1="811.55" y1="1137.70" x2="811.55" y2="1142.70" stroke="#000" stroke-width="1.7"/>
<line x1="826.20" y1="1137.70" x2="826.20" y2="1142.70" stroke="#000" stroke-width="1.7"/>
<line x1="840.85" y1="1137.70" x2="840.85" y2="1147.00" stroke="#000" stroke-width="1.7"/>
<text><tspan class="r" x="824.13" y="1176.90" font-size="31.70" textLength="33.76" lengthAdjust="spacingAndGlyphs" stroke="#000" stroke-width="0.35">50</tspan></text>
<line x1="855.50" y1="1137.70" x2="855.50" y2="1142.70" stroke="#000" stroke-width="1.7"/>
<line x1="870.15" y1="1137.70" x2="870.15" y2="1142.70" stroke="#000" stroke-width="1.7"/>
<line x1="884.80" y1="1137.70" x2="884.80" y2="1142.70" stroke="#000" stroke-width="1.7"/>
<line x1="899.45" y1="1137.70" x2="899.45" y2="1142.70" stroke="#000" stroke-width="1.7"/>
<line x1="914.10" y1="1137.70" x2="914.10" y2="1147.00" stroke="#000" stroke-width="1.7"/>
<text><tspan class="r" x="888.44" y="1176.90" font-size="31.70" textLength="50.64" lengthAdjust="spacingAndGlyphs" stroke="#000" stroke-width="0.35">100</tspan></text>
<line x1="928.75" y1="1137.70" x2="928.75" y2="1142.70" stroke="#000" stroke-width="1.7"/>
<line x1="943.40" y1="1137.70" x2="943.40" y2="1142.70" stroke="#000" stroke-width="1.7"/>
<line x1="958.05" y1="1137.70" x2="958.05" y2="1142.70" stroke="#000" stroke-width="1.7"/>
<line x1="972.70" y1="1137.70" x2="972.70" y2="1142.70" stroke="#000" stroke-width="1.7"/>
<line x1="987.35" y1="1137.70" x2="987.35" y2="1147.00" stroke="#000" stroke-width="1.7"/>
<text><tspan class="r" x="961.69" y="1176.90" font-size="31.70" textLength="50.64" lengthAdjust="spacingAndGlyphs" stroke="#000" stroke-width="0.35">150</tspan></text>
<line x1="1002.00" y1="1137.70" x2="1002.00" y2="1142.70" stroke="#000" stroke-width="1.7"/>
<line x1="1016.65" y1="1137.70" x2="1016.65" y2="1142.70" stroke="#000" stroke-width="1.7"/>
<line x1="1031.30" y1="1137.70" x2="1031.30" y2="1142.70" stroke="#000" stroke-width="1.7"/>
<line x1="1045.95" y1="1137.70" x2="1045.95" y2="1142.70" stroke="#000" stroke-width="1.7"/>
<text><tspan class="r" x="711.26" y="1216.00" font-size="31.70" textLength="111.85" lengthAdjust="spacingAndGlyphs" stroke="#000" stroke-width="0.25">Time (fs)</tspan></text>
<clipPath id="clip_c1"><rect x="1134.8" y="52.0" width="585.8" height="361.9"/></clipPath>
<path d="M1135.0,232.6 1135.5,232.6 1136.0,232.6 1136.5,232.6 1137.0,232.6 1137.5,232.6 1138.0,232.6 1138.5,232.6 1139.0,232.6 1139.5,232.6 1140.0,232.6 1140.5,232.6 1141.0,232.6 1141.5,232.6 1142.0,232.6 1142.5,232.6 1143.0,232.6 1143.5,232.6 1144.0,232.6 1144.5,232.6 1145.0,232.6 1145.5,232.6 1146.0,232.6 1146.5,232.6 1147.0,232.6 1147.5,232.6 1148.0,232.6 1148.5,232.6 1149.0,232.6 1149.5,232.6 1150.0,232.6 1150.5,232.6 1151.0,232.6 1151.5,232.6 1152.0,232.6 1152.5,232.6 1153.0,232.6 1153.5,232.6 1154.0,232.6 1154.5,232.6 1155.0,232.6 1155.5,232.6 1156.0,232.6 1156.5,232.6 1157.0,232.6 1157.5,232.6 1158.0,232.6 1158.5,232.6 1159.0,232.6 1159.5,232.6 1160.0,232.6 1160.5,232.6 1161.0,232.6 1161.5,232.6 1162.0,232.6 1162.5,232.6 1163.0,232.6 1163.5,232.6 1164.0,232.6 1164.5,232.6 1165.0,232.6 1165.5,232.6 1166.0,232.6 1166.5,232.6 1167.0,232.6 1167.5,232.6 1168.0,232.6 1168.5,232.6 1169.0,232.6 1169.5,232.6 1170.0,232.6 1170.5,232.6 1171.0,232.6 1171.5,232.6 1172.0,232.6 1172.5,232.6 1173.0,232.6 1173.5,232.6 1174.0,232.6 1174.5,232.6 1175.0,232.6 1175.5,232.6 1176.0,232.6 1176.5,232.6 1177.0,232.6 1177.5,232.6 1178.0,232.6 1178.5,232.6 1179.0,232.6 1179.5,232.6 1180.0,232.6 1180.5,232.6 1181.0,232.6 1181.5,232.6 1182.0,232.6 1182.5,232.6 1183.0,232.6 1183.5,232.6 1184.0,232.6 1184.5,232.6 1185.0,232.6 1185.5,232.6 1186.0,232.6 1186.5,232.6 1187.0,232.6 1187.5,232.6 1188.0,232.6 1188.5,232.6 1189.0,232.6 1189.5,232.6 1190.0,232.6 1190.5,232.6 1191.0,232.6 1191.5,232.6 1192.0,232.6 1192.5,232.6 1193.0,232.6 1193.5,232.6 1194.0,232.6 1194.5,232.6 1195.0,232.6 1195.5,232.6 1196.0,232.6 1196.5,232.6 1197.0,232.6 1197.5,232.6 1198.0,232.6 1198.5,232.6 1199.0,232.6 1199.5,232.6 1200.0,232.6 1200.5,232.6 1201.0,232.6 1201.5,232.6 1202.0,232.6 1202.5,232.6 1203.0,232.6 1203.5,232.6 1204.0,232.6 1204.5,232.6 1205.0,232.6 1205.5,232.6 1206.0,232.6 1206.5,232.6 1207.0,232.6 1207.5,232.6 1208.0,232.6 1208.5,232.6 1209.0,232.6 1209.5,232.6 1210.0,232.6 1210.5,232.6 1211.0,232.6 1211.5,232.6 1212.0,232.6 1212.5,232.6 1213.0,232.6 1213.5,232.6 1214.0,232.6 1214.5,232.6 1215.0,232.6 1215.5,232.6 1216.0,232.6 1216.5,232.6 1217.0,232.6 1217.5,232.6 1218.0,232.6 1218.5,232.6 1219.0,232.6 1219.5,232.6 1220.0,232.6 1220.5,232.6 1221.0,232.6 1221.5,232.6 1222.0,232.6 1222.5,232.6 1223.0,232.6 1223.5,232.6 1224.0,232.6 1224.5,232.6 1225.0,232.6 1225.5,232.6 1226.0,232.6 1226.5,232.6 1227.0,232.6 1227.5,232.6 1228.0,232.6 1228.5,232.6 1229.0,232.6 1229.5,232.6 1230.0,232.6 1230.5,232.6 1231.0,232.6 1231.5,232.6 1232.0,232.6 1232.5,232.6 1233.0,232.6 1233.5,232.6 1234.0,232.6 1234.5,232.6 1235.0,232.6 1235.5,232.6 1236.0,232.6 1236.5,232.6 1237.0,232.6 1237.5,232.6 1238.0,232.6 1238.5,232.6 1239.0,232.6 1239.5,232.6 1240.0,232.6 1240.5,232.6 1241.0,232.6 1241.5,232.6 1242.0,232.6 1242.5,232.6 1243.0,232.6 1243.5,232.6 1244.0,232.6 1244.5,232.6 1245.0,232.6 1245.5,232.6 1246.0,232.6 1246.5,232.6 1247.0,232.6 1247.5,232.6 1248.0,232.6 1248.5,232.6 1249.0,232.6 1249.5,232.6 1250.0,232.6 1250.5,232.6 1251.0,232.6 1251.5,232.6 1252.0,232.6 1252.5,232.6 1253.0,232.6 1253.5,232.6 1254.0,232.6 1254.5,232.6 1255.0,232.6 1255.5,232.6 1256.0,232.6 1256.5,232.6 1257.0,232.6 1257.5,232.6 1258.0,232.6 1258.5,232.6 1259.0,232.6 1259.5,232.6 1260.0,232.6 1260.5,232.6 1261.0,232.6 1261.5,232.6 1262.0,232.6 1262.5,232.6 1263.0,232.6 1263.5,232.6 1264.0,232.6 1264.5,232.6 1265.0,232.6 1265.5,232.6 1266.0,232.6 1266.5,232.6 1267.0,232.6 1267.5,232.6 1268.0,232.6 1268.5,232.6 1269.0,232.6 1269.5,232.6 1270.0,232.6 1270.5,232.6 1271.0,232.6 1271.5,232.6 1272.0,232.6 1272.5,232.6 1273.0,232.6 1273.5,232.6 1274.0,232.6 1274.5,232.6 1275.0,232.6 1275.5,232.6 1276.0,232.6 1276.5,232.6 1277.0,232.6 1277.4,232.6 1277.9,232.6 1278.4,232.6 1278.9,232.6 1279.4,232.6 1279.9,232.6 1280.4,232.6 1280.9,232.6 1281.4,232.6 1281.9,232.6 1282.4,232.6 1282.9,232.6 1283.4,232.6 1283.9,232.6 1284.4,232.6 1284.9,232.6 1285.4,232.6 1285.9,232.6 1286.4,232.6 1286.9,232.6 1287.4,232.6 1287.9,232.6 1288.4,232.6 1288.9,232.6 1289.4,232.6 1289.9,232.6 1290.4,232.6 1290.9,232.6 1291.4,232.6 1291.9,232.6 1292.4,232.6 1292.9,232.6 1293.4,232.6 1293.9,232.6 1294.4,232.6 1294.9,232.6 1295.4,232.6 1295.9,232.6 1296.4,232.6 1296.9,232.6 1297.4,232.6 1297.9,232.6 1298.4,232.6 1298.9,232.6 1299.4,232.6 1299.9,232.6 1300.4,232.6 1300.9,232.6 1301.4,232.6 1301.9,232.6 1302.4,232.6 1302.9,232.6 1303.4,232.6 1303.9,232.6 1304.4,232.6 1304.9,232.6 1305.4,232.6 1305.9,232.6 1306.4,232.6 1306.9,232.6 1307.4,232.6 1307.9,232.6 1308.4,232.6 1308.9,232.6 1309.4,232.6 1309.9,232.6 1310.4,232.6 1310.9,232.6 1311.4,232.6 1311.9,232.6 1312.4,232.6 1312.9,232.6 1313.4,232.6 1313.9,232.6 1314.4,232.6 1314.9,232.6 1315.4,232.6 1315.9,232.6 1316.4,232.6 1316.9,232.6 1317.4,232.6 1317.9,232.6 1318.4,232.6 1318.9,232.6 1319.4,232.6 1319.9,232.6 1320.4,232.6 1320.9,232.6 1321.4,232.6 1321.9,232.6 1322.4,232.6 1322.9,232.6 1323.4,232.6 1323.9,232.6 1324.4,232.6 1324.9,232.6 1325.4,232.6 1325.9,232.6 1326.4,232.6 1326.9,232.6 1327.4,232.6 1327.9,232.6 1328.4,232.6 1328.9,232.6 1329.4,232.6 1329.9,232.6 1330.4,232.6 1330.9,232.6 1331.4,232.6 1331.9,232.6 1332.4,232.6 1332.9,232.6 1333.4,232.6 1333.9,232.6 1334.4,232.6 1334.9,232.6 1335.4,232.6 1335.9,232.6 1336.4,232.6 1336.9,232.6 1337.4,232.6 1337.9,232.6 1338.4,232.6 1338.9,232.6 1339.4,232.6 1339.9,232.6 1340.4,232.6 1340.9,232.6 1341.4,232.6 1341.9,232.6 1342.4,232.6 1342.9,232.6 1343.4,232.6 1343.9,232.6 1344.4,232.6 1344.9,232.6 1345.4,232.6 1345.9,232.6 1346.4,232.6 1346.9,232.6 1347.4,232.6 1347.9,232.6 1348.4,232.6 1348.9,232.6 1349.4,232.6 1349.9,232.6 1350.4,232.6 1350.9,232.6 1351.4,232.6 1351.9,232.6 1352.4,232.6 1352.9,232.6 1353.4,232.6 1353.9,232.6 1354.4,232.6 1354.9,232.6 1355.4,232.6 1355.9,232.6 1356.4,232.7 1356.9,232.7 1357.4,232.7 1357.9,232.8 1358.4,232.8 1358.9,232.9 1359.4,232.9 1359.9,233.0 1360.4,233.1 1360.9,233.2 1361.4,233.3 1361.9,233.4 1362.4,233.5 1362.9,233.6 1363.4,233.7 1363.9,233.8 1364.4,233.9 1364.9,234.1 1365.4,234.2 1365.9,234.4 1366.4,234.5 1366.9,234.7 1367.4,234.9 1367.9,235.1 1368.4,235.3 1368.9,235.6 1369.4,235.9 1369.9,236.3 1370.4,236.8 1370.9,237.2 1371.4,237.7 1371.9,238.3 1372.4,238.9 1372.9,239.5 1373.4,240.1 1373.9,240.7 1374.4,241.3 1374.9,241.9 1375.4,242.5 1375.9,243.1 1376.4,243.8 1376.9,244.4 1377.4,245.1 1377.9,245.8 1378.4,246.5 1378.9,247.2 1379.4,247.9 1379.9,248.7 1380.4,249.5 1380.9,250.3 1381.4,251.2 1381.9,252.1 1382.4,253.0 1382.9,254.0 1383.4,255.1 1383.9,256.2 1384.4,257.4 1384.9,258.6 1385.4,259.9 1385.9,261.3 1386.4,262.7 1386.9,264.1 1387.4,265.5 1387.9,266.9 1388.4,268.3 1388.9,269.7 1389.4,271.0 1389.9,272.3 1390.4,273.6 1390.9,274.9 1391.4,276.1 1391.9,277.4 1392.4,278.7 1392.9,280.1 1393.4,281.5 1393.9,282.9 1394.4,284.4 1394.9,286.0 1395.4,287.6 1395.9,289.4 1396.4,291.2 1396.9,293.1 1397.4,295.1 1397.9,297.1 1398.4,299.2 1398.9,301.3 1399.4,303.4 1399.9,305.4 1400.4,307.5 1400.9,309.6 1401.4,311.6 1401.9,313.7 1402.4,315.8 1402.9,317.8 1403.4,319.9 1403.9,321.9 1404.4,323.9 1404.9,325.9 1405.4,327.9 1405.9,329.8 1406.4,331.6 1406.9,333.4 1407.4,335.1 1407.9,336.7 1408.4,338.3 1408.9,339.8 1409.4,341.4 1409.9,342.9 1410.4,344.6 1410.9,346.3 1411.4,348.3 1411.9,350.4 1412.4,352.8 1412.9,355.4 1413.4,358.2 1413.9,361.1 1414.4,364.2 1414.9,367.2 1415.4,370.1 1415.9,372.9 1416.4,375.6 1416.9,378.1 1417.4,380.4 1417.9,382.7 1418.4,384.8 1418.9,386.9 1419.4,389.0 1419.9,387.6 1420.4,386.0 1420.9,383.9 1421.4,381.1 1421.9,377.4 1422.3,372.4 1422.8,366.1 1423.3,358.2 1423.8,348.6 1424.3,337.4 1424.8,324.6 1425.3,310.4 1425.8,294.8 1426.3,277.9 1426.8,259.8 1427.3,240.6 1427.7,220.7 1428.2,200.7 1428.7,181.5 1429.2,163.5 1429.7,147.5 1430.2,133.5 1430.7,121.7 1431.2,111.8 1431.7,103.7 1432.2,97.1 1432.7,91.9 1433.1,87.7 1433.6,84.4 1434.1,81.9 1434.6,80.0 1435.1,78.4 1435.6,77.0 1436.1,78.8 1436.6,80.7 1437.1,82.7 1437.6,85.0 1438.1,87.5 1438.6,90.3 1439.1,93.4 1439.6,96.5 1440.1,99.7 1440.6,102.8 1441.1,105.8 1441.6,108.6 1442.1,111.2 1442.6,113.6 1443.1,115.9 1443.6,118.1 1444.1,120.2 1444.6,122.2 1445.1,124.2 1445.6,126.0 1446.1,127.8 1446.6,129.6 1447.1,131.4 1447.6,133.1 1448.1,134.9 1448.6,136.8 1449.1,138.7 1449.6,140.8 1450.1,142.9 1450.6,145.1 1451.1,147.4 1451.6,149.6 1452.1,151.9 1452.6,154.1 1453.1,156.3 1453.6,158.5 1454.1,160.6 1454.6,162.7 1455.1,164.7 1455.6,166.7 1456.1,168.5 1456.6,170.3 1457.1,172.0 1457.6,173.6 1458.1,175.1 1458.6,176.5 1459.1,177.9 1459.6,179.2 1460.1,180.5 1460.6,181.8 1461.1,183.1 1461.6,184.4 1462.1,185.7 1462.6,187.0 1463.1,188.4 1463.6,189.9 1464.1,191.4 1464.6,192.9 1465.1,194.5 1465.6,196.0 1466.1,197.6 1466.6,199.1 1467.1,200.6 1467.6,202.1 1468.1,203.5 1468.6,204.8 1469.1,206.1 1469.6,207.3 1470.1,208.5 1470.6,209.6 1471.1,210.7 1471.6,211.8 1472.1,212.8 1472.6,213.8 1473.1,214.7 1473.6,215.6 1474.1,216.5 1474.6,217.3 1475.1,218.0 1475.6,218.8 1476.1,219.5 1476.6,220.1 1477.1,220.7 1477.6,221.3 1478.1,221.9 1478.6,222.5 1479.1,223.0 1479.6,223.6 1480.1,224.1 1480.6,224.6 1481.1,225.1 1481.6,225.6 1482.1,226.1 1482.6,226.6 1483.1,227.0 1483.6,227.5 1484.1,228.0 1484.6,228.4 1485.1,228.8 1485.6,229.1 1486.1,229.4 1486.6,229.7 1487.1,230.0 1487.6,230.2 1488.1,230.4 1488.6,230.6 1489.1,230.7 1489.6,230.9 1490.1,231.0 1490.6,231.2 1491.1,231.3 1491.6,231.4 1492.1,231.5 1492.6,231.6 1493.1,231.7 1493.6,231.8 1494.1,231.9 1494.6,231.9 1495.1,232.0 1495.6,232.1 1496.1,232.1 1496.6,232.1 1497.1,232.2 1497.6,232.2 1498.1,232.3 1498.6,232.3 1499.1,232.4 1499.6,232.4 1500.1,232.4 1500.6,232.5 1501.1,232.5 1501.6,232.5 1502.1,232.5 1502.6,232.5 1503.1,232.6 1503.6,232.6 1504.1,232.6 1504.6,232.6 1505.1,232.6 1505.6,232.6 1506.1,232.6 1506.6,232.6 1507.1,232.6 1507.6,232.6 1508.1,232.6 1508.6,232.6 1509.1,232.6 1509.6,232.6 1510.1,232.6 1510.6,232.6 1511.1,232.6 1511.6,232.6 1512.1,232.6 1512.6,232.6 1513.1,232.6 1513.6,232.6 1514.1,232.6 1514.6,232.6 1515.1,232.6 1515.6,232.6 1516.1,232.6 1516.6,232.6 1517.1,232.6 1517.6,232.6 1518.1,232.6 1518.6,232.6 1519.1,232.6 1519.6,232.6 1520.1,232.6 1520.6,232.6 1521.1,232.6 1521.6,232.6 1522.1,232.6 1522.6,232.6 1523.1,232.6 1523.6,232.6 1524.1,232.6 1524.6,232.6 1525.1,232.6 1525.6,232.6 1526.1,232.6 1526.6,232.6 1527.1,232.6 1527.6,232.6 1528.1,232.6 1528.6,232.6 1529.1,232.6 1529.6,232.6 1530.1,232.6 1530.6,232.6 1531.1,232.6 1531.6,232.6 1532.1,232.6 1532.6,232.6 1533.1,232.6 1533.6,232.6 1534.1,232.6 1534.6,232.6 1535.1,232.6 1535.6,232.6 1536.1,232.6 1536.6,232.6 1537.1,232.6 1537.6,232.6 1538.1,232.6 1538.6,232.6 1539.1,232.6 1539.6,232.6 1540.1,232.6 1540.6,232.6 1541.1,232.6 1541.6,232.6 1542.1,232.6 1542.6,232.6 1543.1,232.6 1543.6,232.6 1544.1,232.6 1544.6,232.6 1545.1,232.6 1545.6,232.6 1546.1,232.6 1546.6,232.6 1547.1,232.6 1547.6,232.6 1548.1,232.6 1548.6,232.6 1549.1,232.6 1549.6,232.6 1550.1,232.6 1550.6,232.6 1551.1,232.6 1551.6,232.6 1552.1,232.6 1552.6,232.6 1553.1,232.6 1553.6,232.6 1554.1,232.6 1554.6,232.6 1555.1,232.6 1555.6,232.6 1556.1,232.6 1556.6,232.6 1557.1,232.6 1557.6,232.6 1558.1,232.6 1558.6,232.6 1559.1,232.6 1559.6,232.6 1560.1,232.6 1560.6,232.6 1561.1,232.6 1561.6,232.6 1562.1,232.6 1562.6,232.6 1563.1,232.6 1563.6,232.6 1564.1,232.6 1564.6,232.6 1565.1,232.6 1565.6,232.6 1566.1,232.6 1566.6,232.6 1567.1,232.6 1567.6,232.6 1568.1,232.6 1568.6,232.6 1569.1,232.6 1569.6,232.6 1570.1,232.6 1570.6,232.6 1571.1,232.6 1571.6,232.6 1572.1,232.6 1572.6,232.6 1573.1,232.6 1573.6,232.6 1574.1,232.6 1574.6,232.6 1575.1,232.6 1575.6,232.6 1576.1,232.6 1576.6,232.6 1577.1,232.6 1577.6,232.6 1578.1,232.6 1578.6,232.6 1579.1,232.6 1579.6,232.6 1580.1,232.6 1580.6,232.6 1581.1,232.6 1581.6,232.6 1582.1,232.6 1582.6,232.6 1583.1,232.6 1583.6,232.6 1584.1,232.6 1584.6,232.6 1585.1,232.6 1585.6,232.6 1586.1,232.6 1586.6,232.6 1587.1,232.6 1587.6,232.6 1588.1,232.6 1588.6,232.6 1589.1,232.6 1589.6,232.6 1590.1,232.6 1590.6,232.6 1591.1,232.6 1591.6,232.6 1592.1,232.6 1592.6,232.6 1593.1,232.6 1593.6,232.6 1594.1,232.6 1594.6,232.6 1595.1,232.6 1595.6,232.6 1596.1,232.6 1596.6,232.6 1597.1,232.6 1597.6,232.6 1598.1,232.6 1598.6,232.6 1599.1,232.6 1599.6,232.6 1600.1,232.6 1600.6,232.6 1601.1,232.6 1601.6,232.6 1602.1,232.6 1602.6,232.6 1603.1,232.6 1603.6,232.6 1604.1,232.6 1604.6,232.6 1605.1,232.6 1605.6,232.6 1606.1,232.6 1606.6,232.6 1607.1,232.6 1607.6,232.6 1608.1,232.6 1608.6,232.6 1609.1,232.6 1609.6,232.6 1610.1,232.6 1610.6,232.6 1611.1,232.6 1611.6,232.6 1612.1,232.6 1612.6,232.6 1613.1,232.6 1613.6,232.6 1614.1,232.6 1614.6,232.6 1615.1,232.6 1615.6,232.6 1616.1,232.6 1616.6,232.6 1617.1,232.6 1617.6,232.6 1618.1,232.6 1618.6,232.6 1619.1,232.6 1619.6,232.6 1620.1,232.6 1620.6,232.6 1621.1,232.6 1621.6,232.6 1622.1,232.6 1622.6,232.6 1623.1,232.6 1623.6,232.6 1624.1,232.6 1624.6,232.6 1625.1,232.6 1625.6,232.6 1626.1,232.6 1626.6,232.6 1627.1,232.6 1627.6,232.6 1628.1,232.6 1628.6,232.6 1629.1,232.6 1629.6,232.6 1630.1,232.6 1630.6,232.6 1631.1,232.6 1631.6,232.6 1632.1,232.6 1632.6,232.6 1633.1,232.6 1633.6,232.6 1634.1,232.6 1634.6,232.6 1635.1,232.6 1635.6,232.6 1636.1,232.6 1636.6,232.6 1637.1,232.6 1637.6,232.6 1638.1,232.6 1638.6,232.6 1639.1,232.6 1639.6,232.6 1640.1,232.6 1640.6,232.6 1641.1,232.6 1641.6,232.6 1642.1,232.6 1642.6,232.6 1643.1,232.6 1643.6,232.6 1644.1,232.6 1644.6,232.6 1645.1,232.6 1645.6,232.6 1646.1,232.6 1646.6,232.6 1647.1,232.6 1647.6,232.6 1648.1,232.6 1648.6,232.6 1649.1,232.6 1649.6,232.6 1650.1,232.6 1650.6,232.6 1651.1,232.6 1651.6,232.6 1652.1,232.6 1652.6,232.6 1653.1,232.6 1653.6,232.6 1654.1,232.6 1654.6,232.6 1655.1,232.6 1655.6,232.6 1656.1,232.6 1656.6,232.6 1657.1,232.6 1657.6,232.6 1658.1,232.6 1658.6,232.6 1659.1,232.6 1659.6,232.6 1660.1,232.6 1660.6,232.6 1661.1,232.6 1661.6,232.6 1662.1,232.6 1662.6,232.6 1663.1,232.6 1663.6,232.6 1664.1,232.6 1664.6,232.6 1665.1,232.6 1665.6,232.6 1666.1,232.6 1666.6,232.6 1667.1,232.6 1667.6,232.6 1668.1,232.6 1668.6,232.6 1669.1,232.6 1669.6,232.6 1670.1,232.6 1670.6,232.6 1671.1,232.6 1671.6,232.6 1672.1,232.6 1672.6,232.6 1673.1,232.6 1673.6,232.6 1674.1,232.6 1674.6,232.6 1675.1,232.6 1675.6,232.6 1676.1,232.6 1676.6,232.6 1677.1,232.6 1677.6,232.6 1678.1,232.6 1678.6,232.6 1679.1,232.6 1679.6,232.6 1680.1,232.6 1680.6,232.6 1681.1,232.6 1681.6,232.6 1682.1,232.6 1682.6,232.6 1683.1,232.6 1683.6,232.6 1684.1,232.6 1684.6,232.6 1685.1,232.6 1685.6,232.6 1686.1,232.6 1686.6,232.6 1687.1,232.6 1687.6,232.6 1688.1,232.6 1688.6,232.6 1689.1,232.6 1689.6,232.6 1690.1,232.6 1690.6,232.6 1691.1,232.6 1691.6,232.6 1692.1,232.6 1692.6,232.6 1693.1,232.6 1693.6,232.6 1694.1,232.6 1694.6,232.6 1695.1,232.6 1695.6,232.6 1696.1,232.6 1696.6,232.6 1697.1,232.6 1697.6,232.6 1698.1,232.6 1698.6,232.6 1699.1,232.6 1699.6,232.6 1700.1,232.6 1700.6,232.6 1701.1,232.6 1701.6,232.6 1702.1,232.6 1702.6,232.6 1703.1,232.6 1703.6,232.6 1704.1,232.6 1704.6,232.6 1705.1,232.6 1705.6,232.6 1706.1,232.6 1706.6,232.6 1707.1,232.6 1707.6,232.6 1708.1,232.6 1708.6,232.6 1709.1,232.6 1709.6,232.6 1710.1,232.6 1710.6,232.6 1711.1,232.6 1711.6,232.6 1712.1,232.6 1712.6,232.6 1713.1,232.6 1713.6,232.6 1714.1,232.6 1714.6,232.6 1715.1,232.6 1715.6,232.6 1716.1,232.6 1716.6,232.6 1717.1,232.6 1717.6,232.6 1718.1,232.6 1718.6,232.6 1719.1,232.6 1719.6,232.6 1720.1,232.6 1720.6,232.6" fill="none" stroke="#4472c4" stroke-width="1.65" stroke-linejoin="round" stroke-linecap="butt" clip-path="url(#clip_c1)"/>
<path d="M1135.0,232.3 1135.5,232.3 1136.0,232.3 1136.5,232.3 1137.0,232.3 1137.5,232.4 1138.0,232.4 1138.5,232.5 1139.0,232.6 1139.5,232.6 1140.0,232.7 1140.5,232.8 1141.0,232.8 1141.5,232.9 1142.0,232.9 1142.5,232.9 1143.0,232.9 1143.5,232.9 1144.0,232.9 1144.5,232.8 1145.0,232.8 1145.5,232.7 1146.0,232.7 1146.5,232.6 1147.0,232.5 1147.5,232.5 1148.0,232.4 1148.5,232.4 1149.0,232.3 1149.5,232.3 1150.0,232.3 1150.5,232.3 1151.0,232.3 1151.5,232.3 1152.0,232.4 1152.5,232.4 1153.0,232.5 1153.5,232.6 1154.0,232.6 1154.5,232.7 1155.0,232.8 1155.5,232.8 1156.0,232.9 1156.5,232.9 1157.0,232.9 1157.5,232.9 1158.0,232.9 1158.5,232.9 1159.0,232.9 1159.5,232.8 1160.0,232.8 1160.5,232.7 1161.0,232.6 1161.5,232.5 1162.0,232.5 1162.5,232.4 1163.0,232.4 1163.5,232.3 1164.0,232.3 1164.5,232.3 1165.0,232.3 1165.5,232.3 1166.0,232.3 1166.5,232.4 1167.0,232.4 1167.5,232.5 1168.0,232.5 1168.5,232.6 1169.0,232.7 1169.5,232.8 1170.0,232.8 1170.5,232.9 1171.0,232.9 1171.5,232.9 1172.0,233.0 1172.5,233.0 1173.0,232.9 1173.5,232.9 1174.0,232.8 1174.5,232.8 1175.0,232.7 1175.5,232.6 1176.0,232.5 1176.5,232.5 1177.0,232.4 1177.5,232.3 1178.0,232.3 1178.5,232.3 1179.0,232.2 1179.5,232.2 1180.0,232.2 1180.5,232.3 1181.0,232.3 1181.5,232.4 1182.0,232.5 1182.5,232.5 1183.0,232.6 1183.5,232.7 1184.0,232.8 1184.5,232.8 1185.0,232.9 1185.5,232.9 1186.0,233.0 1186.5,233.0 1187.0,233.0 1187.5,232.9 1188.0,232.9 1188.5,232.9 1189.0,232.8 1189.5,232.7 1190.0,232.6 1190.5,232.6 1191.0,232.5 1191.5,232.4 1192.0,232.3 1192.5,232.3 1193.0,232.2 1193.5,232.2 1194.0,232.2 1194.5,232.2 1195.0,232.3 1195.5,232.3 1196.0,232.4 1196.5,232.4 1197.0,232.5 1197.5,232.6 1198.0,232.7 1198.5,232.8 1199.0,232.8 1199.5,232.9 1200.0,232.9 1200.5,233.0 1201.0,233.0 1201.5,233.0 1202.0,233.0 1202.5,232.9 1203.0,232.9 1203.5,232.8 1204.0,232.7 1204.5,232.6 1205.0,232.6 1205.5,232.5 1206.0,232.4 1206.5,232.3 1207.0,232.3 1207.5,232.2 1208.0,232.2 1208.5,232.2 1209.0,232.2 1209.5,232.2 1210.0,232.3 1210.5,232.3 1211.0,232.4 1211.5,232.5 1212.0,232.6 1212.5,232.7 1213.0,232.8 1213.5,232.8 1214.0,232.9 1214.5,233.0 1215.0,233.0 1215.5,233.0 1216.0,233.0 1216.5,233.0 1217.0,233.0 1217.5,232.9 1218.0,232.8 1218.5,232.8 1219.0,232.7 1219.5,232.6 1220.0,232.5 1220.5,232.4 1221.0,232.3 1221.5,232.3 1222.0,232.2 1222.5,232.2 1223.0,232.2 1223.5,232.2 1224.0,232.2 1224.5,232.2 1225.0,232.3 1225.5,232.4 1226.0,232.5 1226.5,232.6 1227.0,232.7 1227.5,232.8 1228.0,232.8 1228.5,232.9 1229.0,233.0 1229.5,233.0 1230.0,233.1 1230.5,233.1 1231.0,233.0 1231.5,233.0 1232.0,232.9 1232.5,232.9 1233.0,232.8 1233.5,232.7 1234.0,232.6 1234.5,232.5 1235.0,232.4 1235.5,232.3 1236.0,232.2 1236.5,232.2 1237.0,232.1 1237.5,232.1 1238.0,232.1 1238.5,232.2 1239.0,232.2 1239.5,232.3 1240.0,232.4 1240.5,232.5 1241.0,232.6 1241.5,232.7 1242.0,232.8 1242.5,232.9 1243.0,232.9 1243.5,233.0 1244.0,233.1 1244.5,233.1 1245.0,233.1 1245.5,233.1 1246.0,233.0 1246.5,233.0 1247.0,232.9 1247.5,232.8 1248.0,232.7 1248.5,232.6 1249.0,232.5 1249.5,232.4 1250.0,232.3 1250.5,232.2 1251.0,232.1 1251.5,232.1 1252.0,232.1 1252.5,232.1 1253.0,232.1 1253.5,232.2 1254.0,232.2 1254.5,232.3 1255.0,232.4 1255.5,232.5 1256.0,232.7 1256.5,232.8 1257.0,232.9 1257.5,233.0 1258.0,233.0 1258.5,233.1 1259.0,233.1 1259.5,233.1 1260.0,233.1 1260.5,233.1 1261.0,233.0 1261.5,232.9 1262.0,232.8 1262.5,232.7 1263.0,232.6 1263.5,232.5 1264.0,232.4 1264.5,232.3 1265.0,232.2 1265.5,232.1 1266.0,232.1 1266.5,232.0 1267.0,232.0 1267.5,232.1 1268.0,232.1 1268.5,232.2 1269.0,232.3 1269.5,232.4 1270.0,232.5 1270.5,232.6 1271.0,232.8 1271.5,232.9 1272.0,233.0 1272.5,233.1 1273.0,233.1 1273.5,233.2 1274.0,233.2 1274.5,233.2 1275.0,233.1 1275.5,233.1 1276.0,233.0 1276.5,232.9 1277.0,232.8 1277.4,232.6 1277.9,232.5 1278.4,232.4 1278.9,232.3 1279.4,232.2 1279.9,232.1 1280.4,232.0 1280.9,232.0 1281.4,232.0 1281.9,232.0 1282.4,232.1 1282.9,232.1 1283.4,232.3 1283.9,232.4 1284.4,232.5 1284.9,232.6 1285.4,232.8 1285.9,232.9 1286.4,233.0 1286.9,233.1 1287.4,233.2 1287.9,233.2 1288.4,233.3 1288.9,233.2 1289.4,233.2 1289.9,233.1 1290.4,233.0 1290.9,232.9 1291.4,232.8 1291.9,232.6 1292.4,232.5 1292.9,232.4 1293.4,232.2 1293.9,232.1 1294.4,232.0 1294.9,232.0 1295.4,231.9 1295.9,231.9 1296.4,231.9 1296.9,232.0 1297.4,232.1 1297.9,232.2 1298.4,232.3 1298.9,232.5 1299.4,232.6 1299.9,232.8 1300.4,232.9 1300.9,233.0 1301.4,233.1 1301.9,233.2 1302.4,233.3 1302.9,233.3 1303.4,233.3 1303.9,233.3 1304.4,233.2 1304.9,233.1 1305.4,233.0 1305.9,232.8 1306.4,232.7 1306.9,232.5 1307.4,232.4 1307.9,232.2 1308.4,232.1 1308.9,232.0 1309.4,231.9 1309.9,231.8 1310.4,231.8 1310.9,231.8 1311.4,231.9 1311.9,232.0 1312.4,232.1 1312.9,232.3 1313.4,232.4 1313.9,232.6 1314.4,232.8 1314.9,232.9 1315.4,233.1 1315.9,233.2 1316.4,233.3 1316.9,233.4 1317.4,233.4 1317.9,233.4 1318.4,233.4 1318.9,233.3 1319.4,233.2 1319.9,233.0 1320.4,232.9 1320.9,232.7 1321.4,232.5 1321.9,232.3 1322.4,232.2 1322.9,232.0 1323.4,231.9 1323.9,231.8 1324.4,231.7 1324.9,231.7 1325.4,231.7 1325.9,231.8 1326.4,231.9 1326.9,232.0 1327.4,232.2 1327.9,232.4 1328.4,232.6 1328.9,232.8 1329.4,233.0 1329.9,233.1 1330.4,233.3 1330.9,233.4 1331.4,233.5 1331.9,233.6 1332.4,233.6 1332.9,233.5 1333.4,233.4 1333.9,233.3 1334.4,233.1 1334.9,232.9 1335.4,232.7 1335.9,232.5 1336.4,232.3 1336.9,232.1 1337.4,232.0 1337.9,231.8 1338.4,231.7 1338.9,231.6 1339.4,231.6 1339.9,231.6 1340.4,231.7 1340.9,231.8 1341.4,231.9 1341.9,232.1 1342.4,232.3 1342.9,232.5 1343.4,232.8 1343.9,233.0 1344.4,233.2 1344.9,233.4 1345.4,233.5 1345.9,233.7 1346.4,233.7 1346.9,233.7 1347.4,233.7 1347.9,233.6 1348.4,233.4 1348.9,233.2 1349.4,233.0 1349.9,232.8 1350.4,232.5 1350.9,232.3 1351.4,232.1 1351.9,231.9 1352.4,231.7 1352.9,231.5 1353.4,231.4 1353.9,231.4 1354.4,231.4 1354.9,231.5 1355.4,231.6 1355.9,231.8 1356.4,232.1 1356.9,232.3 1357.4,232.6 1357.9,232.9 1358.4,233.3 1358.9,233.6 1359.4,233.9 1359.9,234.1 1360.4,234.3 1360.9,234.5 1361.4,234.6 1361.9,234.7 1362.4,234.7 1362.9,234.6 1363.4,234.5 1363.9,234.3 1364.4,234.2 1364.9,234.0 1365.4,233.9 1365.9,233.7 1366.4,233.6 1366.9,233.5 1367.4,233.5 1367.9,233.6 1368.4,233.8 1368.9,234.1 1369.4,234.5 1369.9,235.1 1370.4,235.7 1370.9,236.5 1371.4,237.3 1371.9,238.2 1372.4,239.1 1372.9,240.0 1373.4,240.9 1373.9,241.8 1374.4,242.7 1374.9,243.5 1375.4,244.2 1375.9,244.9 1376.4,245.5 1376.9,246.0 1377.4,246.5 1377.9,246.9 1378.4,247.2 1378.9,247.6 1379.4,247.9 1379.9,248.3 1380.4,248.7 1380.9,249.2 1381.4,249.7 1381.9,250.3 1382.4,251.1 1382.9,252.0 1383.4,253.0 1383.9,254.2 1384.4,255.6 1384.9,257.2 1385.4,258.8 1385.9,260.6 1386.4,262.4 1386.9,264.2 1387.4,266.1 1387.9,267.9 1388.4,269.7 1388.9,271.4 1389.4,273.0 1389.9,274.6 1390.4,276.0 1390.9,277.3 1391.4,278.4 1391.9,279.5 1392.4,280.4 1392.9,281.3 1393.4,282.2 1393.9,283.1 1394.4,284.0 1394.9,285.0 1395.4,286.1 1395.9,287.4 1396.4,288.8 1396.9,290.4 1397.4,292.2 1397.9,294.1 1398.4,296.3 1398.9,298.7 1399.4,301.2 1399.9,303.8 1400.4,306.5 1400.9,309.3 1401.4,312.1 1401.9,314.8 1402.4,317.6 1402.9,320.3 1403.4,322.9 1403.9,325.4 1404.4,327.7 1404.9,329.8 1405.4,331.7 1405.9,333.3 1406.4,334.6 1406.9,335.7 1407.4,336.5 1407.9,337.2 1408.4,337.8 1408.9,338.4 1409.4,338.9 1409.9,339.6 1410.4,340.5 1410.9,341.6 1411.4,343.1 1411.9,345.1 1412.4,347.6 1412.9,350.7 1413.4,354.3 1413.9,358.4 1414.4,362.7 1414.9,367.1 1415.4,371.5 1415.9,375.8 1416.4,379.8 1416.9,383.6 1417.4,387.1 1417.9,390.2 1418.4,392.9 1418.9,395.2 1419.4,396.7 1419.9,394.0 1420.4,390.6 1420.9,386.3 1421.4,381.0 1421.9,374.7 1422.3,367.2 1422.8,358.5 1423.3,348.5 1423.8,337.5 1424.3,325.4 1424.8,312.5 1425.3,299.2 1425.8,285.4 1426.3,270.9 1426.8,255.6 1427.3,239.5 1427.7,222.8 1428.2,205.9 1428.7,189.3 1429.2,173.6 1429.7,159.0 1430.2,145.7 1430.7,133.5 1431.2,122.5 1431.7,112.7 1432.2,104.0 1432.7,96.3 1433.1,89.5 1433.6,83.7 1434.1,78.8 1434.6,74.7 1435.1,71.5 1435.6,69.1 1436.1,70.6 1436.6,72.7 1437.1,75.4 1437.6,78.6 1438.1,82.3 1438.6,86.4 1439.1,90.8 1439.6,95.5 1440.1,100.1 1440.6,104.6 1441.1,108.8 1441.6,112.6 1442.1,116.0 1442.6,118.9 1443.1,121.3 1443.6,123.3 1444.1,125.0 1444.6,126.4 1445.1,127.6 1445.6,128.6 1446.1,129.5 1446.6,130.3 1447.1,131.0 1447.6,131.9 1448.1,132.8 1448.6,134.0 1449.1,135.4 1449.6,137.0 1450.1,139.0 1450.6,141.3 1451.1,143.8 1451.6,146.4 1452.1,149.2 1452.6,152.0 1453.1,154.9 1453.6,157.8 1454.1,160.7 1454.6,163.5 1455.1,166.1 1455.6,168.7 1456.1,171.0 1456.6,173.2 1457.1,175.1 1457.6,176.7 1458.1,178.0 1458.6,179.2 1459.1,180.2 1459.6,181.1 1460.1,181.9 1460.6,182.7 1461.1,183.4 1461.6,184.1 1462.1,184.9 1462.6,185.8 1463.1,186.8 1463.6,187.8 1464.1,189.1 1464.6,190.5 1465.1,192.1 1465.6,193.7 1466.1,195.5 1466.6,197.4 1467.1,199.3 1467.6,201.2 1468.1,203.0 1468.6,204.8 1469.1,206.6 1469.6,208.2 1470.1,209.8 1470.6,211.3 1471.1,212.6 1471.6,213.9 1472.1,214.9 1472.6,215.8 1473.1,216.6 1473.6,217.2 1474.1,217.8 1474.6,218.2 1475.1,218.6 1475.6,218.9 1476.1,219.2 1476.6,219.5 1477.1,219.8 1477.6,220.1 1478.1,220.4 1478.6,220.8 1479.1,221.2 1479.6,221.8 1480.1,222.4 1480.6,223.1 1481.1,223.8 1481.6,224.6 1482.1,225.4 1482.6,226.2 1483.1,227.0 1483.6,227.8 1484.1,228.6 1484.6,229.3 1485.1,230.0 1485.6,230.5 1486.1,230.9 1486.6,231.3 1487.1,231.5 1487.6,231.6 1488.1,231.6 1488.6,231.6 1489.1,231.5 1489.6,231.4 1490.1,231.2 1490.6,231.0 1491.1,230.8 1491.6,230.7 1492.1,230.5 1492.6,230.4 1493.1,230.4 1493.6,230.4 1494.1,230.5 1494.6,230.6 1495.1,230.8 1495.6,231.0 1496.1,231.3 1496.6,231.6 1497.1,231.9 1497.6,232.2 1498.1,232.5 1498.6,232.8 1499.1,233.1 1499.6,233.4 1500.1,233.6 1500.6,233.7 1501.1,233.8 1501.6,233.8 1502.1,233.7 1502.6,233.6 1503.1,233.4 1503.6,233.2 1504.1,233.0 1504.6,232.7 1505.1,232.5 1505.6,232.2 1506.1,232.0 1506.6,231.8 1507.1,231.6 1507.6,231.5 1508.1,231.4 1508.6,231.4 1509.1,231.5 1509.6,231.6 1510.1,231.7 1510.6,231.9 1511.1,232.1 1511.6,232.3 1512.1,232.6 1512.6,232.8 1513.1,233.0 1513.6,233.2 1514.1,233.4 1514.6,233.5 1515.1,233.6 1515.6,233.7 1516.1,233.7 1516.6,233.6 1517.1,233.5 1517.6,233.3 1518.1,233.1 1518.6,232.9 1519.1,232.7 1519.6,232.5 1520.1,232.3 1520.6,232.1 1521.1,232.0 1521.6,231.8 1522.1,231.7 1522.6,231.6 1523.1,231.6 1523.6,231.7 1524.1,231.7 1524.6,231.9 1525.1,232.0 1525.6,232.2 1526.1,232.4 1526.6,232.6 1527.1,232.8 1527.6,232.9 1528.1,233.1 1528.6,233.3 1529.1,233.4 1529.6,233.5 1530.1,233.5 1530.6,233.5 1531.1,233.5 1531.6,233.4 1532.1,233.2 1532.6,233.1 1533.1,232.9 1533.6,232.7 1534.1,232.6 1534.6,232.4 1535.1,232.2 1535.6,232.1 1536.1,231.9 1536.6,231.8 1537.1,231.8 1537.6,231.7 1538.1,231.8 1538.6,231.8 1539.1,231.9 1539.6,232.1 1540.1,232.2 1540.6,232.4 1541.1,232.5 1541.6,232.7 1542.1,232.9 1542.6,233.0 1543.1,233.2 1543.6,233.3 1544.1,233.4 1544.6,233.4 1545.1,233.4 1545.6,233.4 1546.1,233.3 1546.6,233.2 1547.1,233.0 1547.6,232.9 1548.1,232.7 1548.6,232.6 1549.1,232.4 1549.6,232.3 1550.1,232.1 1550.6,232.0 1551.1,231.9 1551.6,231.9 1552.1,231.8 1552.6,231.9 1553.1,231.9 1553.6,232.0 1554.1,232.1 1554.6,232.2 1555.1,232.4 1555.6,232.5 1556.1,232.7 1556.6,232.8 1557.1,233.0 1557.6,233.1 1558.1,233.2 1558.6,233.3 1559.1,233.3 1559.6,233.3 1560.1,233.3 1560.6,233.2 1561.1,233.1 1561.6,233.0 1562.1,232.9 1562.6,232.7 1563.1,232.6 1563.6,232.5 1564.1,232.3 1564.6,232.2 1565.1,232.1 1565.6,232.0 1566.1,231.9 1566.6,231.9 1567.1,231.9 1567.6,232.0 1568.1,232.1 1568.6,232.2 1569.1,232.3 1569.6,232.4 1570.1,232.5 1570.6,232.7 1571.1,232.8 1571.6,232.9 1572.1,233.0 1572.6,233.1 1573.1,233.2 1573.6,233.2 1574.1,233.2 1574.6,233.2 1575.1,233.2 1575.6,233.1 1576.1,233.0 1576.6,232.9 1577.1,232.7 1577.6,232.6 1578.1,232.5 1578.6,232.4 1579.1,232.2 1579.6,232.1 1580.1,232.1 1580.6,232.0 1581.1,232.0 1581.6,232.0 1582.1,232.0 1582.6,232.1 1583.1,232.2 1583.6,232.3 1584.1,232.4 1584.6,232.5 1585.1,232.6 1585.6,232.8 1586.1,232.9 1586.6,233.0 1587.1,233.1 1587.6,233.1 1588.1,233.2 1588.6,233.2 1589.1,233.2 1589.6,233.1 1590.1,233.0 1590.6,233.0 1591.1,232.9 1591.6,232.7 1592.1,232.6 1592.6,232.5 1593.1,232.4 1593.6,232.3 1594.1,232.2 1594.6,232.1 1595.1,232.1 1595.6,232.0 1596.1,232.0 1596.6,232.1 1597.1,232.1 1597.6,232.2 1598.1,232.3 1598.6,232.4 1599.1,232.5 1599.6,232.6 1600.1,232.7 1600.6,232.8 1601.1,232.9 1601.6,233.0 1602.1,233.1 1602.6,233.1 1603.1,233.1 1603.6,233.1 1604.1,233.1 1604.6,233.0 1605.1,232.9 1605.6,232.8 1606.1,232.7 1606.6,232.6 1607.1,232.5 1607.6,232.4 1608.1,232.3 1608.6,232.2 1609.1,232.2 1609.6,232.1 1610.1,232.1 1610.6,232.1 1611.1,232.1 1611.6,232.2 1612.1,232.2 1612.6,232.3 1613.1,232.4 1613.6,232.5 1614.1,232.6 1614.6,232.7 1615.1,232.8 1615.6,232.9 1616.1,233.0 1616.6,233.0 1617.1,233.1 1617.6,233.1 1618.1,233.1 1618.6,233.0 1619.1,233.0 1619.6,232.9 1620.1,232.8 1620.6,232.7 1621.1,232.6 1621.6,232.5 1622.1,232.4 1622.6,232.4 1623.1,232.3 1623.6,232.2 1624.1,232.2 1624.6,232.1 1625.1,232.1 1625.6,232.1 1626.1,232.2 1626.6,232.3 1627.1,232.3 1627.6,232.4 1628.1,232.5 1628.6,232.6 1629.1,232.7 1629.6,232.8 1630.1,232.9 1630.6,232.9 1631.1,233.0 1631.6,233.0 1632.1,233.1 1632.6,233.1 1633.1,233.0 1633.6,233.0 1634.1,232.9 1634.6,232.8 1635.1,232.7 1635.6,232.7 1636.1,232.6 1636.6,232.5 1637.1,232.4 1637.6,232.3 1638.1,232.2 1638.6,232.2 1639.1,232.2 1639.6,232.2 1640.1,232.2 1640.6,232.2 1641.1,232.3 1641.6,232.3 1642.1,232.4 1642.6,232.5 1643.1,232.6 1643.6,232.7 1644.1,232.8 1644.6,232.8 1645.1,232.9 1645.6,233.0 1646.1,233.0 1646.6,233.0 1647.1,233.0 1647.6,233.0 1648.1,233.0 1648.6,232.9 1649.1,232.8 1649.6,232.7 1650.1,232.7 1650.6,232.6 1651.1,232.5 1651.6,232.4 1652.1,232.3 1652.6,232.3 1653.1,232.2 1653.6,232.2 1654.1,232.2 1654.6,232.2 1655.1,232.2 1655.6,232.3 1656.1,232.3 1656.6,232.4 1657.1,232.5 1657.6,232.6 1658.1,232.7 1658.6,232.7 1659.1,232.8 1659.6,232.9 1660.1,232.9 1660.6,233.0 1661.1,233.0 1661.6,233.0 1662.1,233.0 1662.6,232.9 1663.1,232.9 1663.6,232.8 1664.1,232.7 1664.6,232.7 1665.1,232.6 1665.6,232.5 1666.1,232.4 1666.6,232.4 1667.1,232.3 1667.6,232.2 1668.1,232.2 1668.6,232.2 1669.1,232.2 1669.6,232.2 1670.1,232.3 1670.6,232.4 1671.1,232.4 1671.6,232.5 1672.1,232.6 1672.6,232.7 1673.1,232.7 1673.6,232.8 1674.1,232.9 1674.6,232.9 1675.1,233.0 1675.6,233.0 1676.1,233.0 1676.6,233.0 1677.1,232.9 1677.6,232.9 1678.1,232.8 1678.6,232.7 1679.1,232.7 1679.6,232.6 1680.1,232.5 1680.6,232.4 1681.1,232.4 1681.6,232.3 1682.1,232.3 1682.6,232.2 1683.1,232.2 1683.6,232.2 1684.1,232.3 1684.6,232.3 1685.1,232.4 1685.6,232.4 1686.1,232.5 1686.6,232.6 1687.1,232.6 1687.6,232.7 1688.1,232.8 1688.6,232.8 1689.1,232.9 1689.6,232.9 1690.1,233.0 1690.6,233.0 1691.1,232.9 1691.6,232.9 1692.1,232.9 1692.6,232.8 1693.1,232.7 1693.6,232.7 1694.1,232.6 1694.6,232.5 1695.1,232.5 1695.6,232.4 1696.1,232.3 1696.6,232.3 1697.1,232.3 1697.6,232.3 1698.1,232.3 1698.6,232.3 1699.1,232.3 1699.6,232.4 1700.1,232.4 1700.6,232.5 1701.1,232.6 1701.6,232.6 1702.1,232.7 1702.6,232.8 1703.1,232.8 1703.6,232.9 1704.1,232.9 1704.6,232.9 1705.1,232.9 1705.6,232.9 1706.1,232.9 1706.6,232.9 1707.1,232.8 1707.6,232.7 1708.1,232.7 1708.6,232.6 1709.1,232.5 1709.6,232.5 1710.1,232.4 1710.6,232.4 1711.1,232.3 1711.6,232.3 1712.1,232.3 1712.6,232.3 1713.1,232.3 1713.6,232.3 1714.1,232.4 1714.6,232.4 1715.1,232.5 1715.6,232.6 1716.1,232.6 1716.6,232.7 1717.1,232.7 1717.6,232.8 1718.1,232.9 1718.6,232.9 1719.1,232.9 1719.6,232.9 1720.1,232.9 1720.6,232.9" fill="none" stroke="#70ad47" stroke-width="1.9" stroke-linejoin="round" stroke-linecap="butt" clip-path="url(#clip_c1)"/>
<rect x="1134.8" y="52.0" width="585.8" height="361.9" fill="none" stroke="#000" stroke-width="1.7"/>
<line x1="1122.80" y1="412.40" x2="1134.80" y2="412.40" stroke="#000" stroke-width="1.7"/>
<text><tspan class="r" x="1079.20" y="425.80" font-size="31.70" textLength="22.30" lengthAdjust="spacingAndGlyphs" stroke="#000" stroke-width="0.35">−</tspan><tspan class="r" x="1101.58" y="424.40" font-size="31.70" textLength="16.88" lengthAdjust="spacingAndGlyphs" stroke="#000" stroke-width="0.35">2</tspan></text>
<line x1="1129.50" y1="367.50" x2="1134.80" y2="367.50" stroke="#000" stroke-width="1.7"/>
<line x1="1122.80" y1="322.60" x2="1134.80" y2="322.60" stroke="#000" stroke-width="1.7"/>
<text><tspan class="r" x="1080.85" y="336.00" font-size="31.70" textLength="22.30" lengthAdjust="spacingAndGlyphs" stroke="#000" stroke-width="0.35">−</tspan><tspan class="r" x="1101.75" y="334.60" font-size="31.70" textLength="16.88" lengthAdjust="spacingAndGlyphs" stroke="#000" stroke-width="0.35">1</tspan></text>
<line x1="1129.50" y1="277.70" x2="1134.80" y2="277.70" stroke="#000" stroke-width="1.7"/>
<line x1="1122.80" y1="232.80" x2="1134.80" y2="232.80" stroke="#000" stroke-width="1.7"/>
<text><tspan class="r" x="1101.01" y="244.80" font-size="31.70" textLength="16.88" lengthAdjust="spacingAndGlyphs" stroke="#000" stroke-width="0.35">0</tspan></text>
<line x1="1129.50" y1="187.90" x2="1134.80" y2="187.90" stroke="#000" stroke-width="1.7"/>
<line x1="1122.80" y1="143.00" x2="1134.80" y2="143.00" stroke="#000" stroke-width="1.7"/>
<text><tspan class="r" x="1101.75" y="155.00" font-size="31.70" textLength="16.88" lengthAdjust="spacingAndGlyphs" stroke="#000" stroke-width="0.35">1</tspan></text>
<line x1="1129.50" y1="98.10" x2="1134.80" y2="98.10" stroke="#000" stroke-width="1.7"/>
<line x1="1122.80" y1="53.20" x2="1134.80" y2="53.20" stroke="#000" stroke-width="1.7"/>
<text><tspan class="r" x="1101.58" y="65.20" font-size="31.70" textLength="16.88" lengthAdjust="spacingAndGlyphs" stroke="#000" stroke-width="0.35">2</tspan></text>
<clipPath id="clip_c2"><rect x="1134.8" y="413.9" width="585.8" height="361.9"/></clipPath>
<path d="M1135.0,641.2 1135.5,641.2 1136.0,641.2 1136.5,641.2 1137.0,641.2 1137.5,641.2 1138.0,641.2 1138.5,641.2 1139.0,641.2 1139.5,641.2 1140.0,641.2 1140.5,641.2 1141.0,641.2 1141.5,641.2 1142.0,641.2 1142.5,641.2 1143.0,641.2 1143.5,641.2 1144.0,641.2 1144.5,641.2 1145.0,641.2 1145.5,641.2 1146.0,641.2 1146.5,641.1 1147.0,641.1 1147.5,641.1 1148.0,641.1 1148.5,641.1 1149.0,641.1 1149.5,641.1 1150.0,641.1 1150.5,641.1 1151.0,641.1 1151.5,641.1 1152.0,641.1 1152.5,641.1 1153.0,641.1 1153.5,641.1 1154.0,641.1 1154.5,641.1 1155.0,641.1 1155.5,641.0 1156.0,641.0 1156.5,641.0 1157.0,641.0 1157.5,641.0 1158.0,641.0 1158.5,641.0 1159.0,641.0 1159.5,641.0 1160.0,641.0 1160.5,641.0 1161.0,641.0 1161.5,640.9 1162.0,640.9 1162.5,640.9 1163.0,640.9 1163.5,640.9 1164.0,640.9 1164.5,640.9 1165.0,640.9 1165.5,640.9 1166.0,640.9 1166.5,640.8 1167.0,640.8 1167.5,640.8 1168.0,640.8 1168.5,640.8 1169.0,640.8 1169.5,640.8 1170.0,640.8 1170.5,640.7 1171.0,640.7 1171.5,640.7 1171.9,640.7 1172.4,640.7 1172.9,640.7 1173.4,640.7 1173.9,640.7 1174.4,640.6 1174.9,640.6 1175.4,640.6 1175.9,640.6 1176.4,640.6 1176.9,640.6 1177.4,640.6 1177.9,640.5 1178.4,640.5 1178.9,640.5 1179.4,640.5 1179.9,640.5 1180.4,640.5 1180.9,640.5 1181.4,640.4 1181.9,640.4 1182.4,640.4 1182.9,640.4 1183.4,640.4 1183.9,640.4 1184.4,640.3 1184.9,640.3 1185.4,640.3 1185.9,640.3 1186.4,640.3 1186.9,640.3 1187.4,640.3 1187.9,640.2 1188.4,640.2 1188.9,640.2 1189.4,640.2 1189.9,640.2 1190.4,640.1 1190.9,640.1 1191.4,640.1 1191.9,640.1 1192.4,640.1 1192.9,640.1 1193.4,640.0 1193.9,640.0 1194.4,640.0 1194.9,640.0 1195.4,640.0 1195.9,639.9 1196.4,639.9 1196.9,639.9 1197.4,639.9 1197.9,639.9 1198.4,639.8 1198.9,639.8 1199.4,639.8 1199.9,639.8 1200.4,639.8 1200.9,639.7 1201.4,639.7 1201.9,639.7 1202.4,639.7 1202.9,639.7 1203.4,639.6 1203.9,639.6 1204.4,639.6 1204.9,639.6 1205.4,639.6 1205.9,639.5 1206.4,639.5 1206.9,639.5 1207.4,639.5 1207.9,639.5 1208.4,639.4 1208.9,639.4 1209.4,639.4 1209.9,639.4 1210.4,639.3 1210.9,639.3 1211.4,639.3 1211.9,639.3 1212.4,639.3 1212.9,639.2 1213.4,639.2 1213.9,639.2 1214.4,639.2 1214.9,639.1 1215.4,639.1 1215.9,639.1 1216.4,639.1 1216.9,639.0 1217.4,639.0 1217.9,639.0 1218.4,639.0 1218.9,638.9 1219.4,638.9 1219.9,638.9 1220.4,638.9 1220.9,638.8 1221.4,638.8 1221.9,638.8 1222.4,638.8 1222.9,638.8 1223.4,638.7 1223.9,638.7 1224.4,638.7 1224.9,638.7 1225.4,638.6 1225.9,638.6 1226.4,638.6 1226.9,638.5 1227.4,638.5 1227.9,638.5 1228.4,638.5 1228.9,638.4 1229.4,638.4 1229.9,638.4 1230.4,638.4 1230.9,638.3 1231.4,638.3 1231.9,638.3 1232.4,638.3 1232.9,638.2 1233.4,638.2 1233.9,638.2 1234.4,638.2 1234.9,638.1 1235.4,638.1 1235.9,638.1 1236.4,638.1 1236.9,638.0 1237.4,638.0 1237.9,638.0 1238.4,637.9 1238.9,637.9 1239.4,637.9 1239.9,637.9 1240.4,637.8 1240.9,637.8 1241.4,637.8 1241.9,637.8 1242.4,637.7 1242.9,637.7 1243.4,637.7 1243.9,637.6 1244.4,637.6 1244.8,637.6 1245.3,637.6 1245.8,637.5 1246.3,637.5 1246.8,637.5 1247.3,637.4 1247.8,637.4 1248.3,637.4 1248.8,637.4 1249.3,637.3 1249.8,637.3 1250.3,637.3 1250.8,637.2 1251.3,637.2 1251.8,637.2 1252.3,637.2 1252.8,637.1 1253.3,637.1 1253.8,637.1 1254.3,637.0 1254.8,637.0 1255.3,637.0 1255.8,636.9 1256.3,636.9 1256.8,636.9 1257.3,636.8 1257.8,636.8 1258.3,636.8 1258.8,636.7 1259.3,636.7 1259.8,636.6 1260.3,636.6 1260.8,636.5 1261.3,636.5 1261.8,636.5 1262.3,636.4 1262.8,636.4 1263.3,636.3 1263.8,636.2 1264.3,636.2 1264.8,636.1 1265.3,636.1 1265.8,636.0 1266.3,636.0 1266.8,635.9 1267.3,635.9 1267.8,635.8 1268.3,635.8 1268.8,635.7 1269.3,635.6 1269.8,635.6 1270.3,635.5 1270.8,635.5 1271.3,635.4 1271.8,635.4 1272.3,635.3 1272.8,635.2 1273.3,635.2 1273.8,635.1 1274.3,635.1 1274.8,635.0 1275.3,635.0 1275.8,634.9 1276.3,634.9 1276.8,634.8 1277.3,634.7 1277.8,634.7 1278.3,634.6 1278.8,634.6 1279.3,634.5 1279.8,634.5 1280.3,634.4 1280.8,634.3 1281.3,634.3 1281.8,634.2 1282.3,634.2 1282.8,634.1 1283.3,634.0 1283.8,634.0 1284.3,633.9 1284.8,633.9 1285.3,633.8 1285.8,633.7 1286.3,633.7 1286.8,633.6 1287.3,633.6 1287.8,633.5 1288.3,633.4 1288.8,633.4 1289.3,633.3 1289.8,633.2 1290.3,633.2 1290.8,633.1 1291.3,633.1 1291.8,633.0 1292.3,632.9 1292.8,632.9 1293.3,632.8 1293.8,632.8 1294.3,632.7 1294.8,632.6 1295.3,632.6 1295.8,632.5 1296.3,632.4 1296.8,632.4 1297.3,632.3 1297.8,632.3 1298.3,632.2 1298.8,632.1 1299.3,632.1 1299.8,632.0 1300.3,632.0 1300.8,631.9 1301.3,631.8 1301.8,631.8 1302.3,631.7 1302.8,631.7 1303.3,631.6 1303.8,631.5 1304.3,631.5 1304.8,631.4 1305.3,631.4 1305.8,631.3 1306.3,631.2 1306.8,631.2 1307.3,631.1 1307.8,631.0 1308.3,631.0 1308.8,630.9 1309.3,630.8 1309.8,630.8 1310.3,630.7 1310.8,630.6 1311.3,630.6 1311.8,630.5 1312.3,630.4 1312.8,630.3 1313.3,630.3 1313.8,630.2 1314.3,630.1 1314.8,630.0 1315.3,630.0 1315.8,629.9 1316.3,629.8 1316.8,629.7 1317.3,629.6 1317.8,629.5 1318.2,629.4 1318.7,629.3 1319.2,629.2 1319.7,629.1 1320.2,629.0 1320.7,628.9 1321.2,628.8 1321.7,628.7 1322.2,628.6 1322.7,628.5 1323.2,628.4 1323.7,628.3 1324.2,628.2 1324.7,628.1 1325.2,628.0 1325.7,627.9 1326.2,627.7 1326.7,627.6 1327.2,627.5 1327.7,627.4 1328.2,627.3 1328.7,627.2 1329.2,627.0 1329.7,626.9 1330.2,626.8 1330.7,626.7 1331.2,626.5 1331.7,626.4 1332.2,626.3 1332.7,626.2 1333.2,626.0 1333.7,625.9 1334.2,625.8 1334.7,625.7 1335.2,625.5 1335.7,625.4 1336.2,625.2 1336.7,625.1 1337.2,624.9 1337.7,624.7 1338.2,624.6 1338.7,624.4 1339.2,624.2 1339.7,624.0 1340.2,623.8 1340.7,623.6 1341.2,623.4 1341.7,623.3 1342.2,623.1 1342.7,622.9 1343.2,622.7 1343.7,622.6 1344.2,622.4 1344.7,622.2 1345.2,622.1 1345.7,622.0 1346.2,621.9 1346.7,621.7 1347.2,621.7 1347.7,621.6 1348.2,621.5 1348.7,621.5 1349.2,621.4 1349.7,621.4 1350.2,621.3 1350.7,621.3 1351.2,621.3 1351.7,621.3 1352.2,621.2 1352.7,621.2 1353.2,621.2 1353.7,621.2 1354.2,621.2 1354.7,621.2 1355.2,621.1 1355.7,621.1 1356.2,621.1 1356.7,621.1 1357.2,621.1 1357.7,621.1 1358.2,621.1 1358.7,621.0 1359.2,621.0 1359.7,621.0 1360.2,621.0 1360.7,621.0 1361.2,621.0 1361.7,621.0 1362.2,621.1 1362.7,621.1 1363.2,621.2 1363.7,621.4 1364.2,621.6 1364.7,621.9 1365.2,622.3 1365.7,622.7 1366.2,623.3 1366.7,623.8 1367.2,624.5 1367.7,625.2 1368.2,626.0 1368.7,626.9 1369.2,627.9 1369.7,629.0 1370.2,630.2 1370.7,631.3 1371.2,632.6 1371.7,633.9 1372.2,635.3 1372.7,636.7 1373.2,638.2 1373.7,639.8 1374.2,641.4 1374.7,643.0 1375.2,644.8 1375.7,646.6 1376.2,648.4 1376.7,650.4 1377.2,652.4 1377.7,654.4 1378.2,656.5 1378.7,658.7 1379.2,661.0 1379.7,663.3 1380.2,665.6 1380.7,668.1 1381.2,670.6 1381.7,673.1 1382.2,675.7 1382.7,678.3 1383.2,681.0 1383.7,683.8 1384.2,686.5 1384.7,689.3 1385.2,692.1 1385.7,694.8 1386.2,697.4 1386.7,699.9 1387.2,702.3 1387.7,704.6 1388.2,706.8 1388.7,708.9 1389.2,710.9 1389.7,712.8 1390.2,714.8 1390.7,716.6 1391.1,718.5 1391.6,720.3 1392.1,722.1 1392.6,723.8 1393.1,725.6 1393.6,727.3 1394.1,729.1 1394.6,730.9 1395.1,732.6 1395.6,734.4 1396.1,736.3 1396.6,738.1 1397.1,739.8 1397.6,741.5 1398.1,743.2 1398.6,744.7 1399.1,746.1 1399.6,747.5 1400.1,748.8 1400.6,750.0 1401.1,751.0 1401.6,752.0 1402.1,752.7 1402.6,753.3 1403.1,753.6 1403.6,753.7 1404.1,753.5 1404.6,753.2 1405.1,752.7 1405.6,752.1 1406.1,751.3 1406.6,750.4 1407.1,749.4 1407.6,748.4 1408.1,747.1 1408.6,745.8 1409.1,744.3 1409.6,742.7 1410.1,741.0 1410.6,739.1 1411.1,737.1 1411.6,735.0 1412.1,732.5 1412.6,729.7 1413.1,726.3 1413.6,722.3 1414.1,717.3 1414.6,711.5 1415.1,704.6 1415.6,696.9 1416.1,688.3 1416.6,679.0 1417.1,668.9 1417.6,658.1 1418.1,646.6 1418.6,634.5 1419.1,622.0 1419.6,609.3 1420.1,596.6 1420.6,583.9 1421.1,571.2 1421.6,558.5 1422.1,545.6 1422.6,532.6 1423.1,519.6 1423.6,506.8 1424.1,494.5 1424.6,482.9 1425.1,472.2 1425.6,462.4 1426.1,453.6 1426.6,445.7 1427.1,438.7 1427.6,432.0 1428.1,438.7 1428.6,445.7 1429.1,453.6 1429.6,462.4 1430.1,472.2 1430.6,482.9 1431.1,494.5 1431.6,506.8 1432.1,519.6 1432.6,532.6 1433.1,545.6 1433.6,558.5 1434.1,571.2 1434.6,583.9 1435.1,596.6 1435.6,609.3 1436.1,622.0 1436.6,634.5 1437.1,646.6 1437.6,658.1 1438.1,668.9 1438.6,679.0 1439.1,688.3 1439.6,696.9 1440.1,704.6 1440.6,711.5 1441.1,717.3 1441.6,722.3 1442.1,726.3 1442.6,729.7 1443.1,732.5 1443.6,735.0 1444.1,737.1 1444.6,739.1 1445.1,741.0 1445.6,742.7 1446.1,744.3 1446.6,745.8 1447.1,747.1 1447.6,748.4 1448.1,749.4 1448.6,750.4 1449.1,751.3 1449.6,752.1 1450.1,752.7 1450.6,753.2 1451.1,753.5 1451.6,753.7 1452.1,753.6 1452.6,753.3 1453.1,752.7 1453.6,752.0 1454.1,751.0 1454.6,750.0 1455.1,748.8 1455.6,747.5 1456.1,746.1 1456.6,744.7 1457.1,743.2 1457.6,741.5 1458.1,739.8 1458.6,738.1 1459.1,736.3 1459.6,734.4 1460.1,732.6 1460.6,730.9 1461.1,729.1 1461.6,727.3 1462.1,725.6 1462.6,723.8 1463.1,722.1 1463.6,720.3 1464.1,718.5 1464.5,716.6 1465.0,714.8 1465.5,712.8 1466.0,710.9 1466.5,708.9 1467.0,706.8 1467.5,704.6 1468.0,702.3 1468.5,699.9 1469.0,697.4 1469.5,694.8 1470.0,692.1 1470.5,689.3 1471.0,686.5 1471.5,683.8 1472.0,681.0 1472.5,678.3 1473.0,675.7 1473.5,673.1 1474.0,670.6 1474.5,668.1 1475.0,665.6 1475.5,663.3 1476.0,661.0 1476.5,658.7 1477.0,656.5 1477.5,654.4 1478.0,652.4 1478.5,650.4 1479.0,648.4 1479.5,646.6 1480.0,644.8 1480.5,643.0 1481.0,641.4 1481.5,639.8 1482.0,638.2 1482.5,636.7 1483.0,635.3 1483.5,633.9 1484.0,632.6 1484.5,631.3 1485.0,630.2 1485.5,629.0 1486.0,627.9 1486.5,626.9 1487.0,626.0 1487.5,625.2 1488.0,624.5 1488.5,623.8 1489.0,623.3 1489.5,622.7 1490.0,622.3 1490.5,621.9 1491.0,621.6 1491.5,621.4 1492.0,621.2 1492.5,621.1 1493.0,621.1 1493.5,621.0 1494.0,621.0 1494.5,621.0 1495.0,621.0 1495.5,621.0 1496.0,621.0 1496.5,621.0 1497.0,621.1 1497.5,621.1 1498.0,621.1 1498.5,621.1 1499.0,621.1 1499.5,621.1 1500.0,621.1 1500.5,621.2 1501.0,621.2 1501.5,621.2 1502.0,621.2 1502.5,621.2 1503.0,621.2 1503.5,621.3 1504.0,621.3 1504.5,621.3 1505.0,621.3 1505.5,621.4 1506.0,621.4 1506.5,621.5 1507.0,621.5 1507.5,621.6 1508.0,621.7 1508.5,621.7 1509.0,621.9 1509.5,622.0 1510.0,622.1 1510.5,622.2 1511.0,622.4 1511.5,622.6 1512.0,622.7 1512.5,622.9 1513.0,623.1 1513.5,623.3 1514.0,623.4 1514.5,623.6 1515.0,623.8 1515.5,624.0 1516.0,624.2 1516.5,624.4 1517.0,624.6 1517.5,624.7 1518.0,624.9 1518.5,625.1 1519.0,625.2 1519.5,625.4 1520.0,625.5 1520.5,625.7 1521.0,625.8 1521.5,625.9 1522.0,626.0 1522.5,626.2 1523.0,626.3 1523.5,626.4 1524.0,626.5 1524.5,626.7 1525.0,626.8 1525.5,626.9 1526.0,627.0 1526.5,627.2 1527.0,627.3 1527.5,627.4 1528.0,627.5 1528.5,627.6 1529.0,627.7 1529.5,627.9 1530.0,628.0 1530.5,628.1 1531.0,628.2 1531.5,628.3 1532.0,628.4 1532.5,628.5 1533.0,628.6 1533.5,628.7 1534.0,628.8 1534.5,628.9 1535.0,629.0 1535.5,629.1 1536.0,629.2 1536.5,629.3 1537.0,629.4 1537.4,629.5 1537.9,629.6 1538.4,629.7 1538.9,629.8 1539.4,629.9 1539.9,630.0 1540.4,630.0 1540.9,630.1 1541.4,630.2 1541.9,630.3 1542.4,630.3 1542.9,630.4 1543.4,630.5 1543.9,630.6 1544.4,630.6 1544.9,630.7 1545.4,630.8 1545.9,630.8 1546.4,630.9 1546.9,631.0 1547.4,631.0 1547.9,631.1 1548.4,631.2 1548.9,631.2 1549.4,631.3 1549.9,631.4 1550.4,631.4 1550.9,631.5 1551.4,631.5 1551.9,631.6 1552.4,631.7 1552.9,631.7 1553.4,631.8 1553.9,631.8 1554.4,631.9 1554.9,632.0 1555.4,632.0 1555.9,632.1 1556.4,632.1 1556.9,632.2 1557.4,632.3 1557.9,632.3 1558.4,632.4 1558.9,632.4 1559.4,632.5 1559.9,632.6 1560.4,632.6 1560.9,632.7 1561.4,632.8 1561.9,632.8 1562.4,632.9 1562.9,632.9 1563.4,633.0 1563.9,633.1 1564.4,633.1 1564.9,633.2 1565.4,633.2 1565.9,633.3 1566.4,633.4 1566.9,633.4 1567.4,633.5 1567.9,633.6 1568.4,633.6 1568.9,633.7 1569.4,633.7 1569.9,633.8 1570.4,633.9 1570.9,633.9 1571.4,634.0 1571.9,634.0 1572.4,634.1 1572.9,634.2 1573.4,634.2 1573.9,634.3 1574.4,634.3 1574.9,634.4 1575.4,634.5 1575.9,634.5 1576.4,634.6 1576.9,634.6 1577.4,634.7 1577.9,634.7 1578.4,634.8 1578.9,634.9 1579.4,634.9 1579.9,635.0 1580.4,635.0 1580.9,635.1 1581.4,635.1 1581.9,635.2 1582.4,635.2 1582.9,635.3 1583.4,635.4 1583.9,635.4 1584.4,635.5 1584.9,635.5 1585.4,635.6 1585.9,635.6 1586.4,635.7 1586.9,635.8 1587.4,635.8 1587.9,635.9 1588.4,635.9 1588.9,636.0 1589.4,636.0 1589.9,636.1 1590.4,636.1 1590.9,636.2 1591.4,636.2 1591.9,636.3 1592.4,636.4 1592.9,636.4 1593.4,636.5 1593.9,636.5 1594.4,636.5 1594.9,636.6 1595.4,636.6 1595.9,636.7 1596.4,636.7 1596.9,636.8 1597.4,636.8 1597.9,636.8 1598.4,636.9 1598.9,636.9 1599.4,636.9 1599.9,637.0 1600.4,637.0 1600.9,637.0 1601.4,637.1 1601.9,637.1 1602.4,637.1 1602.9,637.2 1603.4,637.2 1603.9,637.2 1604.4,637.2 1604.9,637.3 1605.4,637.3 1605.9,637.3 1606.4,637.4 1606.9,637.4 1607.4,637.4 1607.9,637.4 1608.4,637.5 1608.9,637.5 1609.4,637.5 1609.9,637.6 1610.4,637.6 1610.8,637.6 1611.3,637.6 1611.8,637.7 1612.3,637.7 1612.8,637.7 1613.3,637.8 1613.8,637.8 1614.3,637.8 1614.8,637.8 1615.3,637.9 1615.8,637.9 1616.3,637.9 1616.8,637.9 1617.3,638.0 1617.8,638.0 1618.3,638.0 1618.8,638.1 1619.3,638.1 1619.8,638.1 1620.3,638.1 1620.8,638.2 1621.3,638.2 1621.8,638.2 1622.3,638.2 1622.8,638.3 1623.3,638.3 1623.8,638.3 1624.3,638.3 1624.8,638.4 1625.3,638.4 1625.8,638.4 1626.3,638.4 1626.8,638.5 1627.3,638.5 1627.8,638.5 1628.3,638.5 1628.8,638.6 1629.3,638.6 1629.8,638.6 1630.3,638.7 1630.8,638.7 1631.3,638.7 1631.8,638.7 1632.3,638.8 1632.8,638.8 1633.3,638.8 1633.8,638.8 1634.3,638.8 1634.8,638.9 1635.3,638.9 1635.8,638.9 1636.3,638.9 1636.8,639.0 1637.3,639.0 1637.8,639.0 1638.3,639.0 1638.8,639.1 1639.3,639.1 1639.8,639.1 1640.3,639.1 1640.8,639.2 1641.3,639.2 1641.8,639.2 1642.3,639.2 1642.8,639.3 1643.3,639.3 1643.8,639.3 1644.3,639.3 1644.8,639.3 1645.3,639.4 1645.8,639.4 1646.3,639.4 1646.8,639.4 1647.3,639.5 1647.8,639.5 1648.3,639.5 1648.8,639.5 1649.3,639.5 1649.8,639.6 1650.3,639.6 1650.8,639.6 1651.3,639.6 1651.8,639.6 1652.3,639.7 1652.8,639.7 1653.3,639.7 1653.8,639.7 1654.3,639.7 1654.8,639.8 1655.3,639.8 1655.8,639.8 1656.3,639.8 1656.8,639.8 1657.3,639.9 1657.8,639.9 1658.3,639.9 1658.8,639.9 1659.3,639.9 1659.8,640.0 1660.3,640.0 1660.8,640.0 1661.3,640.0 1661.8,640.0 1662.3,640.1 1662.8,640.1 1663.3,640.1 1663.8,640.1 1664.3,640.1 1664.8,640.1 1665.3,640.2 1665.8,640.2 1666.3,640.2 1666.8,640.2 1667.3,640.2 1667.8,640.3 1668.3,640.3 1668.8,640.3 1669.3,640.3 1669.8,640.3 1670.3,640.3 1670.8,640.3 1671.3,640.4 1671.8,640.4 1672.3,640.4 1672.8,640.4 1673.3,640.4 1673.8,640.4 1674.3,640.5 1674.8,640.5 1675.3,640.5 1675.8,640.5 1676.3,640.5 1676.8,640.5 1677.3,640.5 1677.8,640.6 1678.3,640.6 1678.8,640.6 1679.3,640.6 1679.8,640.6 1680.3,640.6 1680.8,640.6 1681.3,640.7 1681.8,640.7 1682.3,640.7 1682.8,640.7 1683.3,640.7 1683.7,640.7 1684.2,640.7 1684.7,640.7 1685.2,640.8 1685.7,640.8 1686.2,640.8 1686.7,640.8 1687.2,640.8 1687.7,640.8 1688.2,640.8 1688.7,640.8 1689.2,640.9 1689.7,640.9 1690.2,640.9 1690.7,640.9 1691.2,640.9 1691.7,640.9 1692.2,640.9 1692.7,640.9 1693.2,640.9 1693.7,640.9 1694.2,641.0 1694.7,641.0 1695.2,641.0 1695.7,641.0 1696.2,641.0 1696.7,641.0 1697.2,641.0 1697.7,641.0 1698.2,641.0 1698.7,641.0 1699.2,641.0 1699.7,641.0 1700.2,641.1 1700.7,641.1 1701.2,641.1 1701.7,641.1 1702.2,641.1 1702.7,641.1 1703.2,641.1 1703.7,641.1 1704.2,641.1 1704.7,641.1 1705.2,641.1 1705.7,641.1 1706.2,641.1 1706.7,641.1 1707.2,641.1 1707.7,641.1 1708.2,641.1 1708.7,641.1 1709.2,641.2 1709.7,641.2 1710.2,641.2 1710.7,641.2 1711.2,641.2 1711.7,641.2 1712.2,641.2 1712.7,641.2 1713.2,641.2 1713.7,641.2 1714.2,641.2 1714.7,641.2 1715.2,641.2 1715.7,641.2 1716.2,641.2 1716.7,641.2 1717.2,641.2 1717.7,641.2 1718.2,641.2 1718.7,641.2 1719.2,641.2 1719.7,641.2 1720.2,641.2" fill="none" stroke="#4472c4" stroke-width="1.65" stroke-linejoin="round" stroke-linecap="butt" clip-path="url(#clip_c2)"/>
<path d="M1135.0,641.1 1135.5,641.2 1136.0,641.3 1136.5,641.3 1137.0,641.4 1137.5,641.5 1138.0,641.6 1138.5,641.6 1139.0,641.6 1139.5,641.6 1140.0,641.6 1140.5,641.6 1141.0,641.5 1141.5,641.4 1142.0,641.3 1142.5,641.3 1143.0,641.2 1143.5,641.1 1144.0,641.0 1144.5,640.9 1145.0,640.8 1145.5,640.8 1146.0,640.7 1146.5,640.7 1147.0,640.7 1147.5,640.7 1148.0,640.8 1148.5,640.8 1149.0,640.9 1149.5,641.0 1150.0,641.1 1150.5,641.2 1151.0,641.2 1151.5,641.3 1152.0,641.4 1152.5,641.5 1153.0,641.5 1153.5,641.5 1154.0,641.5 1154.5,641.5 1155.0,641.4 1155.5,641.4 1156.0,641.3 1156.5,641.2 1157.0,641.1 1157.5,641.0 1158.0,640.9 1158.5,640.8 1159.0,640.7 1159.5,640.6 1160.0,640.6 1160.5,640.5 1161.0,640.5 1161.5,640.5 1162.0,640.5 1162.5,640.5 1163.0,640.6 1163.5,640.7 1164.0,640.7 1164.5,640.8 1165.0,640.9 1165.5,641.0 1166.0,641.1 1166.5,641.1 1167.0,641.2 1167.5,641.2 1168.0,641.3 1168.5,641.3 1169.0,641.2 1169.5,641.2 1170.0,641.1 1170.5,641.0 1171.0,640.9 1171.5,640.8 1171.9,640.7 1172.4,640.6 1172.9,640.5 1173.4,640.4 1173.9,640.3 1174.4,640.2 1174.9,640.2 1175.4,640.1 1175.9,640.1 1176.4,640.1 1176.9,640.2 1177.4,640.2 1177.9,640.3 1178.4,640.4 1178.9,640.4 1179.4,640.5 1179.9,640.6 1180.4,640.7 1180.9,640.8 1181.4,640.8 1181.9,640.9 1182.4,640.9 1182.9,640.9 1183.4,640.9 1183.9,640.8 1184.4,640.8 1184.9,640.7 1185.4,640.6 1185.9,640.4 1186.4,640.3 1186.9,640.2 1187.4,640.1 1187.9,640.0 1188.4,639.9 1188.9,639.8 1189.4,639.7 1189.9,639.7 1190.4,639.6 1190.9,639.6 1191.4,639.7 1191.9,639.7 1192.4,639.8 1192.9,639.9 1193.4,639.9 1193.9,640.0 1194.4,640.1 1194.9,640.2 1195.4,640.3 1195.9,640.3 1196.4,640.4 1196.9,640.4 1197.4,640.4 1197.9,640.4 1198.4,640.3 1198.9,640.3 1199.4,640.2 1199.9,640.1 1200.4,639.9 1200.9,639.8 1201.4,639.7 1201.9,639.5 1202.4,639.4 1202.9,639.3 1203.4,639.2 1203.9,639.1 1204.4,639.1 1204.9,639.0 1205.4,639.0 1205.9,639.0 1206.4,639.1 1206.9,639.2 1207.4,639.2 1207.9,639.3 1208.4,639.4 1208.9,639.5 1209.4,639.6 1209.9,639.7 1210.4,639.8 1210.9,639.8 1211.4,639.8 1211.9,639.8 1212.4,639.8 1212.9,639.8 1213.4,639.7 1213.9,639.6 1214.4,639.5 1214.9,639.3 1215.4,639.2 1215.9,639.0 1216.4,638.9 1216.9,638.8 1217.4,638.6 1217.9,638.5 1218.4,638.4 1218.9,638.4 1219.4,638.3 1219.9,638.3 1220.4,638.3 1220.9,638.4 1221.4,638.4 1221.9,638.5 1222.4,638.6 1222.9,638.7 1223.4,638.8 1223.9,638.9 1224.4,639.0 1224.9,639.1 1225.4,639.1 1225.9,639.2 1226.4,639.2 1226.9,639.2 1227.4,639.1 1227.9,639.0 1228.4,638.9 1228.9,638.8 1229.4,638.7 1229.9,638.5 1230.4,638.3 1230.9,638.2 1231.4,638.0 1231.9,637.9 1232.4,637.8 1232.9,637.7 1233.4,637.6 1233.9,637.5 1234.4,637.5 1234.9,637.5 1235.4,637.6 1235.9,637.7 1236.4,637.7 1236.9,637.8 1237.4,637.9 1237.9,638.0 1238.4,638.2 1238.9,638.2 1239.4,638.3 1239.9,638.4 1240.4,638.4 1240.9,638.5 1241.4,638.4 1241.9,638.4 1242.4,638.3 1242.9,638.2 1243.4,638.1 1243.9,637.9 1244.4,637.7 1244.8,637.6 1245.3,637.4 1245.8,637.3 1246.3,637.1 1246.8,637.0 1247.3,636.8 1247.8,636.8 1248.3,636.7 1248.8,636.7 1249.3,636.7 1249.8,636.7 1250.3,636.8 1250.8,636.9 1251.3,637.0 1251.8,637.1 1252.3,637.2 1252.8,637.3 1253.3,637.4 1253.8,637.5 1254.3,637.6 1254.8,637.7 1255.3,637.7 1255.8,637.7 1256.3,637.6 1256.8,637.5 1257.3,637.4 1257.8,637.2 1258.3,637.1 1258.8,636.9 1259.3,636.7 1259.8,636.5 1260.3,636.3 1260.8,636.1 1261.3,636.0 1261.8,635.8 1262.3,635.7 1262.8,635.6 1263.3,635.6 1263.8,635.5 1264.3,635.6 1264.8,635.6 1265.3,635.7 1265.8,635.8 1266.3,635.9 1266.8,636.0 1267.3,636.1 1267.8,636.2 1268.3,636.2 1268.8,636.3 1269.3,636.3 1269.8,636.3 1270.3,636.3 1270.8,636.2 1271.3,636.1 1271.8,636.0 1272.3,635.8 1272.8,635.6 1273.3,635.4 1273.8,635.2 1274.3,635.0 1274.8,634.7 1275.3,634.5 1275.8,634.3 1276.3,634.2 1276.8,634.0 1277.3,633.9 1277.8,633.9 1278.3,633.8 1278.8,633.9 1279.3,633.9 1279.8,634.0 1280.3,634.1 1280.8,634.2 1281.3,634.3 1281.8,634.4 1282.3,634.5 1282.8,634.6 1283.3,634.7 1283.8,634.7 1284.3,634.8 1284.8,634.7 1285.3,634.7 1285.8,634.5 1286.3,634.4 1286.8,634.2 1287.3,634.0 1287.8,633.8 1288.3,633.5 1288.8,633.3 1289.3,633.0 1289.8,632.8 1290.3,632.6 1290.8,632.4 1291.3,632.2 1291.8,632.1 1292.3,632.0 1292.8,632.0 1293.3,632.0 1293.8,632.1 1294.3,632.1 1294.8,632.2 1295.3,632.4 1295.8,632.5 1296.3,632.6 1296.8,632.8 1297.3,632.9 1297.8,633.0 1298.3,633.0 1298.8,633.1 1299.3,633.0 1299.8,633.0 1300.3,632.9 1300.8,632.7 1301.3,632.5 1301.8,632.3 1302.3,632.0 1302.8,631.8 1303.3,631.5 1303.8,631.3 1304.3,631.0 1304.8,630.8 1305.3,630.6 1305.8,630.4 1306.3,630.2 1306.8,630.2 1307.3,630.1 1307.8,630.1 1308.3,630.2 1308.8,630.3 1309.3,630.4 1309.8,630.5 1310.3,630.7 1310.8,630.8 1311.3,631.0 1311.8,631.1 1312.3,631.2 1312.8,631.3 1313.3,631.3 1313.8,631.3 1314.3,631.2 1314.8,631.1 1315.3,630.9 1315.8,630.6 1316.3,630.4 1316.8,630.1 1317.3,629.8 1317.8,629.5 1318.2,629.1 1318.7,628.8 1319.2,628.5 1319.7,628.3 1320.2,628.0 1320.7,627.8 1321.2,627.7 1321.7,627.6 1322.2,627.6 1322.7,627.6 1323.2,627.7 1323.7,627.8 1324.2,627.9 1324.7,628.0 1325.2,628.1 1325.7,628.3 1326.2,628.4 1326.7,628.5 1327.2,628.5 1327.7,628.5 1328.2,628.5 1328.7,628.4 1329.2,628.2 1329.7,628.0 1330.2,627.7 1330.7,627.4 1331.2,627.0 1331.7,626.7 1332.2,626.3 1332.7,625.9 1333.2,625.5 1333.7,625.1 1334.2,624.8 1334.7,624.5 1335.2,624.2 1335.7,624.0 1336.2,623.9 1336.7,623.8 1337.2,623.8 1337.7,623.8 1338.2,623.9 1338.7,624.0 1339.2,624.1 1339.7,624.2 1340.2,624.3 1340.7,624.3 1341.2,624.4 1341.7,624.4 1342.2,624.4 1342.7,624.3 1343.2,624.2 1343.7,624.0 1344.2,623.7 1344.7,623.4 1345.2,623.0 1345.7,622.6 1346.2,622.2 1346.7,621.7 1347.2,621.3 1347.7,621.0 1348.2,620.6 1348.7,620.3 1349.2,620.1 1349.7,619.9 1350.2,619.8 1350.7,619.7 1351.2,619.8 1351.7,619.9 1352.2,620.1 1352.7,620.4 1353.2,620.7 1353.7,621.0 1354.2,621.3 1354.7,621.6 1355.2,622.0 1355.7,622.2 1356.2,622.5 1356.7,622.7 1357.2,622.8 1357.7,622.8 1358.2,622.8 1358.7,622.6 1359.2,622.4 1359.7,622.1 1360.2,621.8 1360.7,621.4 1361.2,621.0 1361.7,620.6 1362.2,620.2 1362.7,619.9 1363.2,619.7 1363.7,619.6 1364.2,619.6 1364.7,619.8 1365.2,620.2 1365.7,620.7 1366.2,621.4 1366.7,622.3 1367.2,623.3 1367.7,624.4 1368.2,625.6 1368.7,627.0 1369.2,628.4 1369.7,629.9 1370.2,631.4 1370.7,632.9 1371.2,634.5 1371.7,636.0 1372.2,637.4 1372.7,638.9 1373.2,640.2 1373.7,641.5 1374.2,642.8 1374.7,644.1 1375.2,645.4 1375.7,646.7 1376.2,648.0 1376.7,649.5 1377.2,651.0 1377.7,652.6 1378.2,654.4 1378.7,656.3 1379.2,658.4 1379.7,660.6 1380.2,663.1 1380.7,665.8 1381.2,668.6 1381.7,671.5 1382.2,674.6 1382.7,677.8 1383.2,681.0 1383.7,684.3 1384.2,687.6 1384.7,690.9 1385.2,694.2 1385.7,697.3 1386.2,700.2 1386.7,702.9 1387.2,705.4 1387.7,707.6 1388.2,709.5 1388.7,711.2 1389.2,712.6 1389.7,714.0 1390.2,715.2 1390.7,716.4 1391.1,717.5 1391.6,718.6 1392.1,719.8 1392.6,721.0 1393.1,722.3 1393.6,723.7 1394.1,725.4 1394.6,727.2 1395.1,729.3 1395.6,731.5 1396.1,733.9 1396.6,736.5 1397.1,739.0 1397.6,741.6 1398.1,744.1 1398.6,746.5 1399.1,748.7 1399.6,750.8 1400.1,752.6 1400.6,754.3 1401.1,755.6 1401.6,756.7 1402.1,757.2 1402.6,757.3 1403.1,756.9 1403.6,756.1 1404.1,754.9 1404.6,753.5 1405.1,751.8 1405.6,750.0 1406.1,748.1 1406.6,746.3 1407.1,744.4 1407.6,742.6 1408.1,741.0 1408.6,739.5 1409.1,738.2 1409.6,737.2 1410.1,736.5 1410.6,735.9 1411.1,735.3 1411.6,734.7 1412.1,733.9 1412.6,732.7 1413.1,730.9 1413.6,728.3 1414.1,724.6 1414.6,719.7 1415.1,713.5 1415.6,706.0 1416.1,697.0 1416.6,686.5 1417.1,674.6 1417.6,661.6 1418.1,647.5 1418.6,632.7 1419.1,617.5 1419.6,602.1 1420.1,586.9 1420.6,572.1 1421.1,557.9 1421.6,544.2 1422.1,531.1 1422.6,519.3 1423.1,508.6 1423.6,499.1 1424.1,490.7 1424.6,483.3 1425.1,476.9 1425.6,471.3 1426.1,466.2 1426.6,461.4 1427.1,456.3 1427.6,450.3 1428.1,456.2 1428.6,461.1 1429.1,465.8 1429.6,470.6 1430.1,476.0 1430.6,482.2 1431.1,489.4 1431.6,497.8 1432.1,507.6 1432.6,518.6 1433.1,531.1 1433.6,544.5 1434.1,558.4 1434.6,572.8 1435.1,587.7 1435.6,602.8 1436.1,618.2 1436.6,633.3 1437.1,648.0 1437.6,662.0 1438.1,674.9 1438.6,686.6 1439.1,697.0 1439.6,706.0 1440.1,713.5 1440.6,719.7 1441.1,724.6 1441.6,728.2 1442.1,730.8 1442.6,732.5 1443.1,733.7 1443.6,734.5 1444.1,735.1 1444.6,735.6 1445.1,736.3 1445.6,737.1 1446.1,738.1 1446.6,739.5 1447.1,741.1 1447.6,742.7 1448.1,744.5 1448.6,746.4 1449.1,748.2 1449.6,750.0 1450.1,751.8 1450.6,753.4 1451.1,754.8 1451.6,756.0 1452.1,756.8 1452.6,757.2 1453.1,757.1 1453.6,756.6 1454.1,755.7 1454.6,754.4 1455.1,752.8 1455.6,751.0 1456.1,748.9 1456.6,746.7 1457.1,744.4 1457.6,741.9 1458.1,739.3 1458.6,736.8 1459.1,734.2 1459.6,731.8 1460.1,729.4 1460.6,727.3 1461.1,725.4 1461.6,723.6 1462.1,722.1 1462.6,720.7 1463.1,719.5 1463.6,718.2 1464.1,717.1 1464.5,715.9 1465.0,714.8 1465.5,713.6 1466.0,712.3 1466.5,710.8 1467.0,709.2 1467.5,707.4 1468.0,705.4 1468.5,703.0 1469.0,700.4 1469.5,697.5 1470.0,694.4 1470.5,691.2 1471.0,687.9 1471.5,684.5 1472.0,681.2 1472.5,678.0 1473.0,674.7 1473.5,671.6 1474.0,668.6 1474.5,665.8 1475.0,663.1 1475.5,660.6 1476.0,658.4 1476.5,656.3 1477.0,654.4 1477.5,652.6 1478.0,650.9 1478.5,649.4 1479.0,647.9 1479.5,646.5 1480.0,645.2 1480.5,643.9 1481.0,642.7 1481.5,641.4 1482.0,640.1 1482.5,638.8 1483.0,637.4 1483.5,636.0 1484.0,634.6 1484.5,633.1 1485.0,631.5 1485.5,630.0 1486.0,628.5 1486.5,627.1 1487.0,625.7 1487.5,624.5 1488.0,623.3 1488.5,622.3 1489.0,621.5 1489.5,620.7 1490.0,620.2 1490.5,619.8 1491.0,619.6 1491.5,619.5 1492.0,619.6 1492.5,619.8 1493.0,620.1 1493.5,620.5 1494.0,620.8 1494.5,621.2 1495.0,621.6 1495.5,621.9 1496.0,622.2 1496.5,622.5 1497.0,622.7 1497.5,622.8 1498.0,622.8 1498.5,622.8 1499.0,622.6 1499.5,622.4 1500.0,622.2 1500.5,621.9 1501.0,621.6 1501.5,621.2 1502.0,620.9 1502.5,620.6 1503.0,620.3 1503.5,620.1 1504.0,619.9 1504.5,619.8 1505.0,619.7 1505.5,619.8 1506.0,619.9 1506.5,620.1 1507.0,620.4 1507.5,620.7 1508.0,621.1 1508.5,621.5 1509.0,621.9 1509.5,622.4 1510.0,622.8 1510.5,623.2 1511.0,623.6 1511.5,623.9 1512.0,624.2 1512.5,624.4 1513.0,624.5 1513.5,624.5 1514.0,624.6 1514.5,624.5 1515.0,624.5 1515.5,624.4 1516.0,624.3 1516.5,624.2 1517.0,624.1 1517.5,624.0 1518.0,623.9 1518.5,623.9 1519.0,623.9 1519.5,624.0 1520.0,624.2 1520.5,624.4 1521.0,624.7 1521.5,625.0 1522.0,625.3 1522.5,625.7 1523.0,626.1 1523.5,626.5 1524.0,626.9 1524.5,627.2 1525.0,627.6 1525.5,627.9 1526.0,628.2 1526.5,628.4 1527.0,628.5 1527.5,628.6 1528.0,628.6 1528.5,628.6 1529.0,628.5 1529.5,628.4 1530.0,628.3 1530.5,628.2 1531.0,628.1 1531.5,627.9 1532.0,627.8 1532.5,627.7 1533.0,627.7 1533.5,627.6 1534.0,627.7 1534.5,627.8 1535.0,627.9 1535.5,628.1 1536.0,628.4 1536.5,628.7 1537.0,629.0 1537.4,629.3 1537.9,629.6 1538.4,629.9 1538.9,630.2 1539.4,630.5 1539.9,630.8 1540.4,631.0 1540.9,631.2 1541.4,631.3 1541.9,631.3 1542.4,631.3 1542.9,631.3 1543.4,631.2 1543.9,631.1 1544.4,631.0 1544.9,630.8 1545.4,630.7 1545.9,630.5 1546.4,630.4 1546.9,630.3 1547.4,630.2 1547.9,630.2 1548.4,630.2 1548.9,630.2 1549.4,630.3 1549.9,630.5 1550.4,630.7 1550.9,630.9 1551.4,631.1 1551.9,631.4 1552.4,631.6 1552.9,631.9 1553.4,632.2 1553.9,632.4 1554.4,632.6 1554.9,632.8 1555.4,632.9 1555.9,633.0 1556.4,633.1 1556.9,633.1 1557.4,633.1 1557.9,633.0 1558.4,632.9 1558.9,632.8 1559.4,632.6 1559.9,632.5 1560.4,632.4 1560.9,632.3 1561.4,632.2 1561.9,632.1 1562.4,632.0 1562.9,632.0 1563.4,632.1 1563.9,632.2 1564.4,632.3 1564.9,632.5 1565.4,632.7 1565.9,632.9 1566.4,633.1 1566.9,633.4 1567.4,633.6 1567.9,633.9 1568.4,634.1 1568.9,634.3 1569.4,634.5 1569.9,634.6 1570.4,634.7 1570.9,634.8 1571.4,634.8 1571.9,634.8 1572.4,634.7 1572.9,634.6 1573.4,634.5 1573.9,634.4 1574.4,634.3 1574.9,634.2 1575.4,634.1 1575.9,634.0 1576.4,633.9 1576.9,633.9 1577.4,633.9 1577.9,633.9 1578.4,634.0 1578.9,634.1 1579.4,634.3 1579.9,634.4 1580.4,634.6 1580.9,634.8 1581.4,635.1 1581.9,635.3 1582.4,635.5 1582.9,635.7 1583.4,635.9 1583.9,636.1 1584.4,636.2 1584.9,636.3 1585.4,636.4 1585.9,636.4 1586.4,636.4 1586.9,636.3 1587.4,636.3 1587.9,636.2 1588.4,636.1 1588.9,636.0 1589.4,635.9 1589.9,635.8 1590.4,635.7 1590.9,635.6 1591.4,635.6 1591.9,635.6 1592.4,635.6 1592.9,635.7 1593.4,635.8 1593.9,635.9 1594.4,636.0 1594.9,636.2 1595.4,636.4 1595.9,636.6 1596.4,636.8 1596.9,637.0 1597.4,637.2 1597.9,637.3 1598.4,637.5 1598.9,637.6 1599.4,637.7 1599.9,637.7 1600.4,637.7 1600.9,637.7 1601.4,637.6 1601.9,637.5 1602.4,637.4 1602.9,637.3 1603.4,637.2 1603.9,637.1 1604.4,637.0 1604.9,636.9 1605.4,636.8 1605.9,636.7 1606.4,636.7 1606.9,636.7 1607.4,636.7 1607.9,636.8 1608.4,636.9 1608.9,637.0 1609.4,637.2 1609.9,637.3 1610.4,637.5 1610.8,637.6 1611.3,637.8 1611.8,638.0 1612.3,638.1 1612.8,638.2 1613.3,638.4 1613.8,638.4 1614.3,638.5 1614.8,638.5 1615.3,638.5 1615.8,638.4 1616.3,638.3 1616.8,638.2 1617.3,638.1 1617.8,638.0 1618.3,637.9 1618.8,637.8 1619.3,637.7 1619.8,637.7 1620.3,637.6 1620.8,637.6 1621.3,637.5 1621.8,637.6 1622.3,637.6 1622.8,637.7 1623.3,637.8 1623.8,638.0 1624.3,638.1 1624.8,638.3 1625.3,638.4 1625.8,638.6 1626.3,638.7 1626.8,638.8 1627.3,639.0 1627.8,639.1 1628.3,639.1 1628.8,639.2 1629.3,639.2 1629.8,639.2 1630.3,639.1 1630.8,639.1 1631.3,639.0 1631.8,638.9 1632.3,638.8 1632.8,638.7 1633.3,638.6 1633.8,638.5 1634.3,638.4 1634.8,638.4 1635.3,638.3 1635.8,638.3 1636.3,638.4 1636.8,638.4 1637.3,638.5 1637.8,638.6 1638.3,638.7 1638.8,638.8 1639.3,639.0 1639.8,639.1 1640.3,639.2 1640.8,639.4 1641.3,639.5 1641.8,639.6 1642.3,639.7 1642.8,639.8 1643.3,639.8 1643.8,639.9 1644.3,639.8 1644.8,639.8 1645.3,639.8 1645.8,639.7 1646.3,639.6 1646.8,639.5 1647.3,639.4 1647.8,639.3 1648.3,639.2 1648.8,639.2 1649.3,639.1 1649.8,639.1 1650.3,639.0 1650.8,639.0 1651.3,639.1 1651.8,639.2 1652.3,639.2 1652.8,639.3 1653.3,639.5 1653.8,639.6 1654.3,639.7 1654.8,639.9 1655.3,640.0 1655.8,640.1 1656.3,640.2 1656.8,640.3 1657.3,640.4 1657.8,640.4 1658.3,640.4 1658.8,640.4 1659.3,640.4 1659.8,640.3 1660.3,640.3 1660.8,640.2 1661.3,640.1 1661.8,640.0 1662.3,639.9 1662.8,639.8 1663.3,639.8 1663.8,639.7 1664.3,639.7 1664.8,639.6 1665.3,639.6 1665.8,639.7 1666.3,639.7 1666.8,639.8 1667.3,639.9 1667.8,640.0 1668.3,640.1 1668.8,640.2 1669.3,640.4 1669.8,640.5 1670.3,640.6 1670.8,640.7 1671.3,640.8 1671.8,640.9 1672.3,640.9 1672.8,640.9 1673.3,640.9 1673.8,640.9 1674.3,640.8 1674.8,640.8 1675.3,640.7 1675.8,640.6 1676.3,640.5 1676.8,640.4 1677.3,640.3 1677.8,640.3 1678.3,640.2 1678.8,640.2 1679.3,640.1 1679.8,640.1 1680.3,640.1 1680.8,640.2 1681.3,640.3 1681.8,640.3 1682.3,640.4 1682.8,640.5 1683.3,640.7 1683.7,640.8 1684.2,640.9 1684.7,641.0 1685.2,641.1 1685.7,641.2 1686.2,641.2 1686.7,641.3 1687.2,641.3 1687.7,641.3 1688.2,641.2 1688.7,641.2 1689.2,641.1 1689.7,641.1 1690.2,641.0 1690.7,640.9 1691.2,640.8 1691.7,640.7 1692.2,640.6 1692.7,640.6 1693.2,640.5 1693.7,640.5 1694.2,640.5 1694.7,640.5 1695.2,640.5 1695.7,640.6 1696.2,640.7 1696.7,640.8 1697.2,640.8 1697.7,640.9 1698.2,641.1 1698.7,641.2 1699.2,641.2 1699.7,641.3 1700.2,641.4 1700.7,641.5 1701.2,641.5 1701.7,641.5 1702.2,641.5 1702.7,641.5 1703.2,641.4 1703.7,641.4 1704.2,641.3 1704.7,641.2 1705.2,641.1 1705.7,641.1 1706.2,641.0 1706.7,640.9 1707.2,640.8 1707.7,640.8 1708.2,640.7 1708.7,640.7 1709.2,640.7 1709.7,640.7 1710.2,640.8 1710.7,640.9 1711.2,640.9 1711.7,641.0 1712.2,641.1 1712.7,641.2 1713.2,641.3 1713.7,641.4 1714.2,641.4 1714.7,641.5 1715.2,641.6 1715.7,641.6 1716.2,641.6 1716.7,641.6 1717.2,641.6 1717.7,641.5 1718.2,641.5 1718.7,641.4 1719.2,641.3 1719.7,641.2 1720.2,641.2" fill="none" stroke="#70ad47" stroke-width="1.9" stroke-linejoin="round" stroke-linecap="butt" clip-path="url(#clip_c2)"/>
<rect x="1134.8" y="413.9" width="585.8" height="361.9" fill="none" stroke="#000" stroke-width="1.7"/>
<line x1="1122.80" y1="734.90" x2="1134.80" y2="734.90" stroke="#000" stroke-width="1.7"/>
<text><tspan class="r" x="1080.85" y="748.30" font-size="31.70" textLength="22.30" lengthAdjust="spacingAndGlyphs" stroke="#000" stroke-width="0.35">−</tspan><tspan class="r" x="1101.75" y="746.90" font-size="31.70" textLength="16.88" lengthAdjust="spacingAndGlyphs" stroke="#000" stroke-width="0.35">1</tspan></text>
<line x1="1129.50" y1="688.40" x2="1134.80" y2="688.40" stroke="#000" stroke-width="1.7"/>
<line x1="1122.80" y1="641.90" x2="1134.80" y2="641.90" stroke="#000" stroke-width="1.7"/>
<text><tspan class="r" x="1101.01" y="653.90" font-size="31.70" textLength="16.88" lengthAdjust="spacingAndGlyphs" stroke="#000" stroke-width="0.35">0</tspan></text>
<line x1="1129.50" y1="595.40" x2="1134.80" y2="595.40" stroke="#000" stroke-width="1.7"/>
<line x1="1122.80" y1="548.90" x2="1134.80" y2="548.90" stroke="#000" stroke-width="1.7"/>
<text><tspan class="r" x="1101.75" y="560.90" font-size="31.70" textLength="16.88" lengthAdjust="spacingAndGlyphs" stroke="#000" stroke-width="0.35">1</tspan></text>
<line x1="1129.50" y1="502.40" x2="1134.80" y2="502.40" stroke="#000" stroke-width="1.7"/>
<line x1="1122.80" y1="455.90" x2="1134.80" y2="455.90" stroke="#000" stroke-width="1.7"/>
<text><tspan class="r" x="1101.58" y="467.90" font-size="31.70" textLength="16.88" lengthAdjust="spacingAndGlyphs" stroke="#000" stroke-width="0.35">2</tspan></text>
<clipPath id="clip_c3"><rect x="1134.8" y="775.8" width="585.8" height="361.9000000000001"/></clipPath>
<path d="M1135.0,957.0 1135.5,957.0 1136.0,957.0 1136.5,957.0 1137.0,957.0 1137.5,957.0 1138.0,957.0 1138.5,957.0 1139.0,957.0 1139.5,957.0 1140.0,957.0 1140.5,957.0 1141.0,957.0 1141.5,957.0 1142.0,957.0 1142.5,957.0 1143.0,957.0 1143.5,957.0 1144.0,957.0 1144.5,957.0 1145.0,957.0 1145.5,957.0 1146.0,957.0 1146.5,957.0 1147.0,957.0 1147.5,957.0 1148.0,957.1 1148.5,957.1 1149.0,957.1 1149.5,957.1 1150.0,957.1 1150.5,957.1 1151.0,957.1 1151.5,957.1 1152.0,957.1 1152.5,957.1 1153.0,957.1 1153.5,957.1 1154.0,957.1 1154.5,957.1 1155.0,957.1 1155.5,957.1 1156.0,957.1 1156.5,957.1 1157.0,957.1 1157.5,957.2 1158.0,957.2 1158.5,957.2 1159.0,957.2 1159.5,957.2 1160.0,957.2 1160.5,957.2 1161.0,957.2 1161.5,957.2 1162.0,957.2 1162.5,957.2 1163.0,957.2 1163.5,957.2 1164.0,957.2 1164.5,957.3 1165.0,957.3 1165.5,957.3 1166.0,957.3 1166.5,957.3 1167.0,957.3 1167.5,957.3 1168.0,957.3 1168.5,957.3 1169.0,957.3 1169.5,957.3 1170.0,957.4 1170.5,957.4 1171.0,957.4 1171.5,957.4 1172.0,957.4 1172.5,957.4 1173.0,957.4 1173.5,957.4 1174.0,957.4 1174.5,957.5 1175.0,957.5 1175.5,957.5 1176.0,957.5 1176.5,957.5 1177.0,957.5 1177.5,957.5 1178.0,957.5 1178.5,957.5 1179.0,957.6 1179.5,957.6 1180.0,957.6 1180.5,957.6 1181.0,957.6 1181.5,957.6 1182.0,957.6 1182.5,957.6 1183.0,957.7 1183.5,957.7 1184.0,957.7 1184.5,957.7 1185.0,957.7 1185.5,957.7 1186.0,957.7 1186.5,957.7 1187.0,957.8 1187.5,957.8 1188.0,957.8 1188.5,957.8 1189.0,957.8 1189.5,957.8 1190.0,957.8 1190.5,957.9 1191.0,957.9 1191.5,957.9 1192.0,957.9 1192.5,957.9 1193.0,957.9 1193.5,957.9 1194.0,958.0 1194.5,958.0 1195.0,958.0 1195.5,958.0 1196.0,958.0 1196.5,958.0 1197.0,958.1 1197.5,958.1 1198.0,958.1 1198.5,958.1 1199.0,958.1 1199.5,958.1 1200.0,958.1 1200.5,958.2 1201.0,958.2 1201.5,958.2 1202.0,958.2 1202.5,958.2 1203.0,958.2 1203.5,958.3 1204.0,958.3 1204.5,958.3 1205.0,958.3 1205.5,958.3 1206.0,958.4 1206.5,958.4 1207.0,958.4 1207.5,958.4 1208.0,958.4 1208.4,958.4 1208.9,958.5 1209.4,958.5 1209.9,958.5 1210.4,958.5 1210.9,958.5 1211.4,958.5 1211.9,958.6 1212.4,958.6 1212.9,958.6 1213.4,958.6 1213.9,958.6 1214.4,958.7 1214.9,958.7 1215.4,958.7 1215.9,958.7 1216.4,958.7 1216.9,958.8 1217.4,958.8 1217.9,958.8 1218.4,958.8 1218.9,958.8 1219.4,958.9 1219.9,958.9 1220.4,958.9 1220.9,958.9 1221.4,958.9 1221.9,958.9 1222.4,959.0 1222.9,959.0 1223.4,959.0 1223.9,959.0 1224.4,959.0 1224.9,959.1 1225.4,959.1 1225.9,959.1 1226.4,959.1 1226.9,959.2 1227.4,959.2 1227.9,959.2 1228.4,959.2 1228.9,959.2 1229.4,959.3 1229.9,959.3 1230.4,959.3 1230.9,959.3 1231.4,959.3 1231.9,959.4 1232.4,959.4 1232.9,959.4 1233.4,959.4 1233.9,959.4 1234.4,959.5 1234.9,959.5 1235.4,959.5 1235.9,959.5 1236.4,959.6 1236.9,959.6 1237.4,959.6 1237.9,959.6 1238.4,959.6 1238.9,959.7 1239.4,959.7 1239.9,959.7 1240.4,959.7 1240.9,959.8 1241.4,959.8 1241.9,959.8 1242.4,959.8 1242.9,959.8 1243.4,959.9 1243.9,959.9 1244.4,959.9 1244.9,959.9 1245.4,960.0 1245.9,960.0 1246.4,960.0 1246.9,960.0 1247.4,960.0 1247.9,960.1 1248.4,960.1 1248.9,960.1 1249.4,960.1 1249.9,960.2 1250.4,960.2 1250.9,960.2 1251.4,960.2 1251.9,960.3 1252.4,960.3 1252.9,960.3 1253.4,960.3 1253.9,960.3 1254.4,960.4 1254.9,960.4 1255.4,960.4 1255.9,960.4 1256.4,960.5 1256.9,960.5 1257.4,960.5 1257.9,960.6 1258.4,960.6 1258.9,960.6 1259.4,960.6 1259.9,960.7 1260.4,960.7 1260.9,960.7 1261.4,960.8 1261.9,960.8 1262.4,960.9 1262.9,960.9 1263.4,960.9 1263.9,961.0 1264.4,961.0 1264.9,961.1 1265.4,961.1 1265.9,961.1 1266.4,961.2 1266.9,961.2 1267.4,961.3 1267.9,961.3 1268.4,961.4 1268.9,961.4 1269.4,961.4 1269.9,961.5 1270.4,961.5 1270.9,961.6 1271.4,961.6 1271.9,961.7 1272.4,961.7 1272.9,961.8 1273.4,961.8 1273.9,961.9 1274.4,961.9 1274.9,962.0 1275.4,962.0 1275.9,962.1 1276.4,962.2 1276.9,962.2 1277.4,962.3 1277.9,962.3 1278.4,962.4 1278.9,962.5 1279.4,962.5 1279.9,962.6 1280.4,962.6 1280.9,962.7 1281.4,962.8 1281.9,962.9 1282.4,962.9 1282.9,963.0 1283.4,963.1 1283.9,963.1 1284.4,963.2 1284.9,963.3 1285.4,963.4 1285.9,963.4 1286.4,963.5 1286.9,963.6 1287.4,963.7 1287.9,963.8 1288.4,963.8 1288.9,963.9 1289.4,964.0 1289.9,964.1 1290.4,964.2 1290.9,964.3 1291.4,964.4 1291.9,964.4 1292.4,964.5 1292.9,964.6 1293.4,964.7 1293.9,964.8 1294.4,964.9 1294.9,965.0 1295.4,965.1 1295.9,965.2 1296.4,965.3 1296.9,965.3 1297.4,965.4 1297.9,965.5 1298.4,965.6 1298.9,965.7 1299.4,965.8 1299.9,965.9 1300.4,966.0 1300.9,966.1 1301.4,966.2 1301.9,966.3 1302.4,966.4 1302.9,966.6 1303.4,966.7 1303.9,966.8 1304.4,966.9 1304.9,967.0 1305.4,967.1 1305.9,967.2 1306.4,967.3 1306.9,967.5 1307.4,967.6 1307.9,967.7 1308.4,967.8 1308.9,967.9 1309.4,968.1 1309.9,968.2 1310.4,968.3 1310.9,968.5 1311.4,968.6 1311.9,968.7 1312.4,968.9 1312.9,969.0 1313.4,969.1 1313.9,969.3 1314.4,969.4 1314.9,969.6 1315.4,969.7 1315.9,969.9 1316.4,970.0 1316.9,970.2 1317.4,970.3 1317.9,970.5 1318.4,970.7 1318.9,970.9 1319.4,971.0 1319.9,971.2 1320.4,971.4 1320.9,971.6 1321.4,971.8 1321.9,972.0 1322.4,972.2 1322.9,972.3 1323.4,972.6 1323.9,972.8 1324.4,973.0 1324.9,973.2 1325.4,973.4 1325.9,973.6 1326.4,973.8 1326.9,974.0 1327.4,974.3 1327.9,974.5 1328.4,974.7 1328.9,975.0 1329.4,975.2 1329.9,975.4 1330.4,975.7 1330.9,975.9 1331.4,976.2 1331.9,976.5 1332.4,976.7 1332.9,977.0 1333.4,977.3 1333.9,977.6 1334.4,977.9 1334.9,978.3 1335.4,978.6 1335.9,978.9 1336.4,979.3 1336.9,979.6 1337.4,979.9 1337.9,980.3 1338.4,980.6 1338.9,981.0 1339.4,981.3 1339.9,981.7 1340.4,982.0 1340.9,982.4 1341.4,982.7 1341.9,983.1 1342.4,983.4 1342.9,983.7 1343.4,984.0 1343.9,984.3 1344.4,984.6 1344.9,984.9 1345.4,985.2 1345.9,985.5 1346.4,985.8 1346.9,986.0 1347.4,986.3 1347.9,986.6 1348.4,986.8 1348.9,987.1 1349.4,987.4 1349.9,987.6 1350.4,987.9 1350.9,988.1 1351.4,988.4 1351.9,988.6 1352.4,988.9 1352.9,989.1 1353.4,989.3 1353.9,989.5 1354.4,989.7 1354.8,989.9 1355.3,990.1 1355.8,990.4 1356.3,990.6 1356.8,990.8 1357.3,991.0 1357.8,991.2 1358.3,991.4 1358.8,991.6 1359.3,991.7 1359.8,991.8 1360.3,991.9 1360.8,991.9 1361.3,991.9 1361.8,991.7 1362.3,991.5 1362.8,991.1 1363.3,990.7 1363.8,990.1 1364.3,989.6 1364.8,988.9 1365.3,988.3 1365.8,987.6 1366.3,986.9 1366.8,986.2 1367.3,985.5 1367.8,984.8 1368.3,984.0 1368.8,983.2 1369.3,982.3 1369.8,981.4 1370.3,980.4 1370.8,979.3 1371.3,978.2 1371.8,977.0 1372.3,975.7 1372.8,974.4 1373.3,972.8 1373.8,971.1 1374.3,969.2 1374.8,967.1 1375.3,964.9 1375.8,962.5 1376.3,960.0 1376.8,957.4 1377.3,954.8 1377.8,952.1 1378.3,949.5 1378.8,946.8 1379.3,944.2 1379.8,941.4 1380.3,938.5 1380.8,935.6 1381.3,932.6 1381.8,929.5 1382.3,926.5 1382.8,923.6 1383.3,920.7 1383.8,917.9 1384.3,915.3 1384.8,912.9 1385.3,910.6 1385.8,908.4 1386.3,906.3 1386.8,904.2 1387.3,902.2 1387.8,900.2 1388.3,898.3 1388.8,896.6 1389.3,894.9 1389.8,893.3 1390.3,891.9 1390.8,890.5 1391.3,889.2 1391.8,887.9 1392.3,886.7 1392.8,885.4 1393.3,884.2 1393.8,883.1 1394.3,882.1 1394.8,881.2 1395.3,880.4 1395.8,879.8 1396.3,879.4 1396.8,879.2 1397.3,879.3 1397.8,879.6 1398.3,880.2 1398.8,881.1 1399.3,882.2 1399.8,883.5 1400.3,884.9 1400.8,886.4 1401.3,888.1 1401.8,889.8 1402.3,891.6 1402.8,893.4 1403.3,895.4 1403.8,897.6 1404.3,900.0 1404.8,902.7 1405.3,905.5 1405.8,908.6 1406.3,911.7 1406.8,914.8 1407.3,918.0 1407.8,921.3 1408.3,924.7 1408.8,928.2 1409.3,931.9 1409.8,935.8 1410.3,940.0 1410.8,944.6 1411.3,949.7 1411.8,955.3 1412.3,961.5 1412.8,968.1 1413.3,974.8 1413.8,981.4 1414.3,987.8 1414.8,994.1 1415.3,1000.4 1415.8,1006.9 1416.3,1013.7 1416.8,1020.8 1417.3,1028.7 1417.8,1038.0 1418.3,1049.3 1418.8,1062.3 1419.3,1075.4 1419.8,1087.4 1420.3,1097.5 1420.8,1105.5 1421.3,1111.4 1421.8,1115.5 1422.3,1118.0 1422.8,1118.7 1423.3,1117.1 1423.8,1112.1 1424.3,1103.1 1424.8,1090.6 1425.3,1076.0 1425.8,1059.1 1426.3,1037.9 1426.8,1010.0 1427.3,976.4 1427.8,940.7 1428.3,906.2 1428.8,874.1 1429.3,846.8 1429.8,826.8 1430.3,813.7 1430.8,805.2 1431.3,799.6 1431.8,796.1 1432.3,794.4 1432.8,794.6 1433.3,796.7 1433.8,800.7 1434.3,806.3 1434.8,813.4 1435.3,821.4 1435.8,830.4 1436.3,840.2 1436.8,850.6 1437.3,861.1 1437.8,871.6 1438.3,882.1 1438.8,892.6 1439.3,903.1 1439.8,913.4 1440.3,923.0 1440.8,932.0 1441.3,940.1 1441.8,947.6 1442.3,954.5 1442.8,960.9 1443.3,966.6 1443.8,971.6 1444.3,976.0 1444.8,979.8 1445.3,983.2 1445.8,986.3 1446.3,989.2 1446.8,991.9 1447.3,994.5 1447.8,996.9 1448.3,999.2 1448.8,1001.5 1449.3,1003.5 1449.8,1005.5 1450.3,1007.5 1450.8,1009.3 1451.3,1011.3 1451.8,1013.2 1452.3,1015.2 1452.8,1017.3 1453.3,1019.4 1453.8,1021.5 1454.3,1023.6 1454.8,1025.6 1455.3,1027.5 1455.8,1029.2 1456.3,1030.9 1456.8,1032.4 1457.3,1033.6 1457.8,1034.4 1458.3,1034.6 1458.8,1034.4 1459.3,1033.7 1459.8,1032.9 1460.3,1031.8 1460.8,1030.5 1461.3,1029.1 1461.8,1027.7 1462.3,1026.2 1462.8,1024.6 1463.3,1023.0 1463.8,1021.3 1464.3,1019.3 1464.8,1017.2 1465.3,1014.9 1465.8,1012.5 1466.3,1010.0 1466.8,1007.4 1467.3,1004.8 1467.8,1002.2 1468.3,999.7 1468.8,997.1 1469.3,994.7 1469.8,992.2 1470.3,989.6 1470.8,987.1 1471.3,984.5 1471.8,981.9 1472.3,979.3 1472.8,976.8 1473.3,974.3 1473.8,971.8 1474.3,969.4 1474.8,967.1 1475.3,964.8 1475.8,962.6 1476.3,960.3 1476.8,958.1 1477.3,955.9 1477.8,953.7 1478.3,951.6 1478.8,949.6 1479.3,947.7 1479.8,945.9 1480.3,944.3 1480.8,942.8 1481.3,941.4 1481.8,940.1 1482.3,938.9 1482.8,937.7 1483.3,936.6 1483.8,935.6 1484.3,934.6 1484.8,933.7 1485.3,932.8 1485.8,932.0 1486.3,931.1 1486.8,930.4 1487.3,929.6 1487.8,928.8 1488.3,928.1 1488.8,927.3 1489.3,926.5 1489.8,925.8 1490.3,925.1 1490.8,924.4 1491.3,923.8 1491.8,923.3 1492.3,922.8 1492.8,922.5 1493.3,922.2 1493.8,922.1 1494.3,922.0 1494.8,922.1 1495.3,922.1 1495.8,922.2 1496.3,922.4 1496.8,922.5 1497.3,922.7 1497.8,922.9 1498.3,923.1 1498.8,923.4 1499.3,923.6 1499.8,923.9 1500.3,924.2 1500.8,924.5 1501.2,924.8 1501.7,925.1 1502.2,925.4 1502.7,925.7 1503.2,926.0 1503.7,926.3 1504.2,926.6 1504.7,926.9 1505.2,927.1 1505.7,927.4 1506.2,927.8 1506.7,928.1 1507.2,928.4 1507.7,928.8 1508.2,929.1 1508.7,929.5 1509.2,929.9 1509.7,930.3 1510.2,930.6 1510.7,931.0 1511.2,931.4 1511.7,931.8 1512.2,932.2 1512.7,932.5 1513.2,932.9 1513.7,933.2 1514.2,933.5 1514.7,933.8 1515.2,934.1 1515.7,934.4 1516.2,934.7 1516.7,935.0 1517.2,935.3 1517.7,935.5 1518.2,935.8 1518.7,936.0 1519.2,936.3 1519.7,936.5 1520.2,936.8 1520.7,937.0 1521.2,937.3 1521.7,937.5 1522.2,937.7 1522.7,938.0 1523.2,938.2 1523.7,938.4 1524.2,938.7 1524.7,938.9 1525.2,939.1 1525.7,939.3 1526.2,939.5 1526.7,939.8 1527.2,940.0 1527.7,940.2 1528.2,940.4 1528.7,940.6 1529.2,940.8 1529.7,941.0 1530.2,941.2 1530.7,941.4 1531.2,941.6 1531.7,941.8 1532.2,942.0 1532.7,942.2 1533.2,942.4 1533.7,942.6 1534.2,942.7 1534.7,942.9 1535.2,943.1 1535.7,943.2 1536.2,943.4 1536.7,943.6 1537.2,943.7 1537.7,943.9 1538.2,944.1 1538.7,944.2 1539.2,944.4 1539.7,944.5 1540.2,944.7 1540.7,944.8 1541.2,945.0 1541.7,945.1 1542.2,945.3 1542.7,945.4 1543.2,945.5 1543.7,945.7 1544.2,945.8 1544.7,945.9 1545.2,946.1 1545.7,946.2 1546.2,946.3 1546.7,946.4 1547.2,946.5 1547.7,946.6 1548.2,946.7 1548.7,946.8 1549.2,946.9 1549.7,947.0 1550.2,947.1 1550.7,947.2 1551.2,947.3 1551.7,947.4 1552.2,947.5 1552.7,947.6 1553.2,947.7 1553.7,947.8 1554.2,947.9 1554.7,947.9 1555.2,948.0 1555.7,948.1 1556.2,948.2 1556.7,948.3 1557.2,948.4 1557.7,948.5 1558.2,948.6 1558.7,948.6 1559.2,948.7 1559.7,948.8 1560.2,948.9 1560.7,949.0 1561.2,949.1 1561.7,949.1 1562.2,949.2 1562.7,949.3 1563.2,949.4 1563.7,949.5 1564.2,949.5 1564.7,949.6 1565.2,949.7 1565.7,949.8 1566.2,949.9 1566.7,949.9 1567.2,950.0 1567.7,950.1 1568.2,950.1 1568.7,950.2 1569.2,950.3 1569.7,950.4 1570.2,950.4 1570.7,950.5 1571.2,950.6 1571.7,950.6 1572.2,950.7 1572.7,950.7 1573.2,950.8 1573.7,950.9 1574.2,950.9 1574.7,951.0 1575.2,951.0 1575.7,951.1 1576.2,951.1 1576.7,951.2 1577.2,951.2 1577.7,951.3 1578.2,951.3 1578.7,951.4 1579.2,951.4 1579.7,951.5 1580.2,951.5 1580.7,951.6 1581.2,951.6 1581.7,951.7 1582.2,951.7 1582.7,951.8 1583.2,951.8 1583.7,951.9 1584.2,951.9 1584.7,952.0 1585.2,952.0 1585.7,952.1 1586.2,952.1 1586.7,952.1 1587.2,952.2 1587.7,952.2 1588.2,952.3 1588.7,952.3 1589.2,952.3 1589.7,952.4 1590.2,952.4 1590.7,952.5 1591.2,952.5 1591.7,952.5 1592.2,952.6 1592.7,952.6 1593.2,952.6 1593.7,952.7 1594.2,952.7 1594.7,952.7 1595.2,952.8 1595.7,952.8 1596.2,952.8 1596.7,952.8 1597.2,952.9 1597.7,952.9 1598.2,952.9 1598.7,952.9 1599.2,953.0 1599.7,953.0 1600.2,953.0 1600.7,953.0 1601.2,953.0 1601.7,953.1 1602.2,953.1 1602.7,953.1 1603.2,953.1 1603.7,953.1 1604.2,953.2 1604.7,953.2 1605.2,953.2 1605.7,953.2 1606.2,953.2 1606.7,953.3 1607.2,953.3 1607.7,953.3 1608.2,953.3 1608.7,953.3 1609.2,953.3 1609.7,953.4 1610.2,953.4 1610.7,953.4 1611.2,953.4 1611.7,953.4 1612.2,953.5 1612.7,953.5 1613.2,953.5 1613.7,953.5 1614.2,953.5 1614.7,953.5 1615.2,953.6 1615.7,953.6 1616.2,953.6 1616.7,953.6 1617.2,953.6 1617.7,953.6 1618.2,953.7 1618.7,953.7 1619.2,953.7 1619.7,953.7 1620.2,953.7 1620.7,953.8 1621.2,953.8 1621.7,953.8 1622.2,953.8 1622.7,953.8 1623.2,953.8 1623.7,953.9 1624.2,953.9 1624.7,953.9 1625.2,953.9 1625.7,953.9 1626.2,953.9 1626.7,954.0 1627.2,954.0 1627.7,954.0 1628.2,954.0 1628.7,954.0 1629.2,954.0 1629.7,954.0 1630.2,954.1 1630.7,954.1 1631.2,954.1 1631.7,954.1 1632.2,954.1 1632.7,954.1 1633.2,954.2 1633.7,954.2 1634.2,954.2 1634.7,954.2 1635.2,954.2 1635.7,954.2 1636.2,954.2 1636.7,954.3 1637.2,954.3 1637.7,954.3 1638.2,954.3 1638.7,954.3 1639.2,954.3 1639.7,954.3 1640.2,954.4 1640.7,954.4 1641.2,954.4 1641.7,954.4 1642.2,954.4 1642.7,954.4 1643.2,954.4 1643.7,954.5 1644.2,954.5 1644.7,954.5 1645.2,954.5 1645.7,954.5 1646.2,954.5 1646.7,954.5 1647.2,954.6 1647.6,954.6 1648.1,954.6 1648.6,954.6 1649.1,954.6 1649.6,954.6 1650.1,954.6 1650.6,954.6 1651.1,954.7 1651.6,954.7 1652.1,954.7 1652.6,954.7 1653.1,954.7 1653.6,954.7 1654.1,954.7 1654.6,954.7 1655.1,954.8 1655.6,954.8 1656.1,954.8 1656.6,954.8 1657.1,954.8 1657.6,954.8 1658.1,954.8 1658.6,954.8 1659.1,954.9 1659.6,954.9 1660.1,954.9 1660.6,954.9 1661.1,954.9 1661.6,954.9 1662.1,954.9 1662.6,954.9 1663.1,954.9 1663.6,955.0 1664.1,955.0 1664.6,955.0 1665.1,955.0 1665.6,955.0 1666.1,955.0 1666.6,955.0 1667.1,955.0 1667.6,955.0 1668.1,955.0 1668.6,955.1 1669.1,955.1 1669.6,955.1 1670.1,955.1 1670.6,955.1 1671.1,955.1 1671.6,955.1 1672.1,955.1 1672.6,955.1 1673.1,955.1 1673.6,955.2 1674.1,955.2 1674.6,955.2 1675.1,955.2 1675.6,955.2 1676.1,955.2 1676.6,955.2 1677.1,955.2 1677.6,955.2 1678.1,955.2 1678.6,955.2 1679.1,955.2 1679.6,955.3 1680.1,955.3 1680.6,955.3 1681.1,955.3 1681.6,955.3 1682.1,955.3 1682.6,955.3 1683.1,955.3 1683.6,955.3 1684.1,955.3 1684.6,955.3 1685.1,955.3 1685.6,955.3 1686.1,955.4 1686.6,955.4 1687.1,955.4 1687.6,955.4 1688.1,955.4 1688.6,955.4 1689.1,955.4 1689.6,955.4 1690.1,955.4 1690.6,955.4 1691.1,955.4 1691.6,955.4 1692.1,955.4 1692.6,955.4 1693.1,955.4 1693.6,955.4 1694.1,955.5 1694.6,955.5 1695.1,955.5 1695.6,955.5 1696.1,955.5 1696.6,955.5 1697.1,955.5 1697.6,955.5 1698.1,955.5 1698.6,955.5 1699.1,955.5 1699.6,955.5 1700.1,955.5 1700.6,955.5 1701.1,955.5 1701.6,955.5 1702.1,955.5 1702.6,955.5 1703.1,955.5 1703.6,955.5 1704.1,955.5 1704.6,955.5 1705.1,955.5 1705.6,955.6 1706.1,955.6 1706.6,955.6 1707.1,955.6 1707.6,955.6 1708.1,955.6 1708.6,955.6 1709.1,955.6 1709.6,955.6 1710.1,955.6 1710.6,955.6 1711.1,955.6 1711.6,955.6 1712.1,955.6 1712.6,955.6 1713.1,955.6 1713.6,955.6 1714.1,955.6 1714.6,955.6 1715.1,955.6 1715.6,955.6 1716.1,955.6 1716.6,955.6 1717.1,955.6 1717.6,955.6 1718.1,955.6 1718.6,955.6 1719.1,955.6 1719.6,955.6 1720.1,955.6 1720.6,955.6" fill="none" stroke="#4472c4" stroke-width="1.65" stroke-linejoin="round" stroke-linecap="butt" clip-path="url(#clip_c3)"/>
<path d="M1135.0,956.3 1135.5,956.3 1136.0,956.3 1136.5,956.3 1137.0,956.4 1137.5,956.5 1138.0,956.6 1138.5,956.8 1139.0,956.9 1139.5,957.1 1140.0,957.2 1140.5,957.4 1141.0,957.5 1141.5,957.6 1142.0,957.7 1142.5,957.8 1143.0,957.8 1143.5,957.8 1144.0,957.7 1144.5,957.6 1145.0,957.5 1145.5,957.4 1146.0,957.2 1146.5,957.1 1147.0,956.9 1147.5,956.7 1148.0,956.6 1148.5,956.5 1149.0,956.4 1149.5,956.3 1150.0,956.3 1150.5,956.3 1151.0,956.3 1151.5,956.4 1152.0,956.5 1152.5,956.7 1153.0,956.8 1153.5,957.0 1154.0,957.2 1154.5,957.3 1155.0,957.5 1155.5,957.6 1156.0,957.8 1156.5,957.9 1157.0,957.9 1157.5,958.0 1158.0,957.9 1158.5,957.9 1159.0,957.8 1159.5,957.7 1160.0,957.5 1160.5,957.4 1161.0,957.2 1161.5,957.1 1162.0,956.9 1162.5,956.8 1163.0,956.6 1163.5,956.5 1164.0,956.5 1164.5,956.4 1165.0,956.4 1165.5,956.5 1166.0,956.6 1166.5,956.7 1167.0,956.8 1167.5,957.0 1168.0,957.2 1168.5,957.4 1169.0,957.5 1169.5,957.7 1170.0,957.9 1170.5,958.0 1171.0,958.1 1171.5,958.2 1172.0,958.2 1172.5,958.2 1173.0,958.2 1173.5,958.1 1174.0,958.0 1174.5,957.9 1175.0,957.7 1175.5,957.5 1176.0,957.4 1176.5,957.2 1177.0,957.1 1177.5,956.9 1178.0,956.8 1178.5,956.7 1179.0,956.7 1179.5,956.7 1180.0,956.7 1180.5,956.8 1181.0,957.0 1181.5,957.1 1182.0,957.3 1182.5,957.5 1183.0,957.7 1183.5,957.9 1184.0,958.1 1184.5,958.2 1185.0,958.4 1185.5,958.5 1186.0,958.6 1186.5,958.6 1187.0,958.6 1187.5,958.6 1188.0,958.5 1188.5,958.4 1189.0,958.3 1189.5,958.1 1190.0,957.9 1190.5,957.8 1191.0,957.6 1191.5,957.4 1192.0,957.3 1192.5,957.2 1193.0,957.1 1193.5,957.0 1194.0,957.0 1194.5,957.1 1195.0,957.2 1195.5,957.3 1196.0,957.5 1196.5,957.6 1197.0,957.8 1197.5,958.1 1198.0,958.3 1198.5,958.5 1199.0,958.7 1199.5,958.8 1200.0,959.0 1200.5,959.1 1201.0,959.1 1201.5,959.2 1202.0,959.1 1202.5,959.0 1203.0,958.9 1203.5,958.8 1204.0,958.6 1204.5,958.4 1205.0,958.2 1205.5,958.1 1206.0,957.9 1206.5,957.7 1207.0,957.6 1207.5,957.5 1208.0,957.5 1208.4,957.4 1208.9,957.5 1209.4,957.6 1209.9,957.7 1210.4,957.9 1210.9,958.1 1211.4,958.3 1211.9,958.5 1212.4,958.8 1212.9,959.0 1213.4,959.2 1213.9,959.4 1214.4,959.5 1214.9,959.6 1215.4,959.7 1215.9,959.7 1216.4,959.7 1216.9,959.6 1217.4,959.5 1217.9,959.4 1218.4,959.2 1218.9,959.0 1219.4,958.8 1219.9,958.6 1220.4,958.4 1220.9,958.3 1221.4,958.1 1221.9,958.0 1222.4,957.9 1222.9,957.9 1223.4,958.0 1223.9,958.1 1224.4,958.2 1224.9,958.4 1225.4,958.6 1225.9,958.8 1226.4,959.1 1226.9,959.3 1227.4,959.5 1227.9,959.8 1228.4,960.0 1228.9,960.1 1229.4,960.3 1229.9,960.4 1230.4,960.4 1230.9,960.4 1231.4,960.3 1231.9,960.2 1232.4,960.0 1232.9,959.8 1233.4,959.6 1233.9,959.4 1234.4,959.2 1234.9,959.0 1235.4,958.8 1235.9,958.7 1236.4,958.6 1236.9,958.5 1237.4,958.5 1237.9,958.5 1238.4,958.6 1238.9,958.7 1239.4,958.9 1239.9,959.1 1240.4,959.4 1240.9,959.6 1241.4,959.9 1241.9,960.2 1242.4,960.4 1242.9,960.6 1243.4,960.8 1243.9,961.0 1244.4,961.1 1244.9,961.1 1245.4,961.1 1245.9,961.0 1246.4,960.9 1246.9,960.7 1247.4,960.5 1247.9,960.3 1248.4,960.1 1248.9,959.9 1249.4,959.7 1249.9,959.5 1250.4,959.3 1250.9,959.1 1251.4,959.1 1251.9,959.0 1252.4,959.0 1252.9,959.1 1253.4,959.3 1253.9,959.5 1254.4,959.7 1254.9,960.0 1255.4,960.3 1255.9,960.5 1256.4,960.8 1256.9,961.1 1257.4,961.4 1257.9,961.6 1258.4,961.7 1258.9,961.9 1259.4,961.9 1259.9,961.9 1260.4,961.9 1260.9,961.8 1261.4,961.6 1261.9,961.4 1262.4,961.2 1262.9,960.9 1263.4,960.7 1263.9,960.5 1264.4,960.3 1264.9,960.1 1265.4,960.0 1265.9,959.9 1266.4,959.8 1266.9,959.9 1267.4,960.0 1267.9,960.2 1268.4,960.4 1268.9,960.7 1269.4,961.0 1269.9,961.3 1270.4,961.6 1270.9,961.9 1271.4,962.3 1271.9,962.6 1272.4,962.8 1272.9,963.0 1273.4,963.2 1273.9,963.3 1274.4,963.3 1274.9,963.3 1275.4,963.2 1275.9,963.0 1276.4,962.8 1276.9,962.6 1277.4,962.4 1277.9,962.1 1278.4,961.9 1278.9,961.7 1279.4,961.5 1279.9,961.4 1280.4,961.3 1280.9,961.2 1281.4,961.3 1281.9,961.4 1282.4,961.6 1282.9,961.9 1283.4,962.2 1283.9,962.6 1284.4,962.9 1284.9,963.3 1285.4,963.7 1285.9,964.1 1286.4,964.5 1286.9,964.8 1287.4,965.0 1287.9,965.3 1288.4,965.4 1288.9,965.5 1289.4,965.5 1289.9,965.4 1290.4,965.2 1290.9,965.0 1291.4,964.8 1291.9,964.6 1292.4,964.3 1292.9,964.1 1293.4,963.9 1293.9,963.7 1294.4,963.6 1294.9,963.5 1295.4,963.5 1295.9,963.5 1296.4,963.7 1296.9,963.9 1297.4,964.2 1297.9,964.6 1298.4,965.0 1298.9,965.4 1299.4,965.8 1299.9,966.3 1300.4,966.7 1300.9,967.1 1301.4,967.5 1301.9,967.8 1302.4,968.1 1302.9,968.3 1303.4,968.4 1303.9,968.4 1304.4,968.3 1304.9,968.2 1305.4,968.0 1305.9,967.8 1306.4,967.5 1306.9,967.3 1307.4,967.0 1307.9,966.8 1308.4,966.6 1308.9,966.5 1309.4,966.4 1309.9,966.4 1310.4,966.5 1310.9,966.6 1311.4,966.9 1311.9,967.3 1312.4,967.7 1312.9,968.2 1313.4,968.7 1313.9,969.2 1314.4,969.8 1314.9,970.3 1315.4,970.8 1315.9,971.3 1316.4,971.7 1316.9,972.0 1317.4,972.3 1317.9,972.5 1318.4,972.5 1318.9,972.5 1319.4,972.4 1319.9,972.3 1320.4,972.1 1320.9,971.9 1321.4,971.6 1321.9,971.4 1322.4,971.2 1322.9,971.0 1323.4,970.9 1323.9,970.9 1324.4,970.9 1324.9,971.1 1325.4,971.3 1325.9,971.7 1326.4,972.1 1326.9,972.7 1327.4,973.3 1327.9,973.9 1328.4,974.6 1328.9,975.3 1329.4,976.0 1329.9,976.6 1330.4,977.3 1330.9,977.8 1331.4,978.3 1331.9,978.7 1332.4,979.0 1332.9,979.2 1333.4,979.3 1333.9,979.3 1334.4,979.2 1334.9,979.1 1335.4,979.0 1335.9,978.8 1336.4,978.7 1336.9,978.6 1337.4,978.5 1337.9,978.4 1338.4,978.5 1338.9,978.6 1339.4,978.9 1339.9,979.3 1340.4,979.8 1340.9,980.4 1341.4,981.1 1341.9,981.9 1342.4,982.7 1342.9,983.5 1343.4,984.4 1343.9,985.2 1344.4,986.0 1344.9,986.7 1345.4,987.4 1345.9,987.9 1346.4,988.4 1346.9,988.7 1347.4,988.9 1347.9,988.9 1348.4,988.9 1348.9,988.7 1349.4,988.5 1349.9,988.2 1350.4,987.8 1350.9,987.5 1351.4,987.2 1351.9,986.9 1352.4,986.7 1352.9,986.5 1353.4,986.5 1353.9,986.6 1354.4,986.8 1354.8,987.2 1355.3,987.7 1355.8,988.3 1356.3,989.1 1356.8,989.9 1357.3,990.7 1357.8,991.6 1358.3,992.4 1358.8,993.2 1359.3,993.9 1359.8,994.4 1360.3,994.9 1360.8,995.1 1361.3,995.2 1361.8,994.9 1362.3,994.4 1362.8,993.6 1363.3,992.6 1363.8,991.5 1364.3,990.2 1364.8,988.8 1365.3,987.5 1365.8,986.1 1366.3,984.7 1366.8,983.5 1367.3,982.3 1367.8,981.2 1368.3,980.3 1368.8,979.5 1369.3,978.8 1369.8,978.2 1370.3,977.8 1370.8,977.4 1371.3,977.0 1371.8,976.5 1372.3,976.1 1372.8,975.5 1373.3,974.7 1373.8,973.7 1374.3,972.5 1374.8,970.8 1375.3,968.9 1375.8,966.7 1376.3,964.1 1376.8,961.3 1377.3,958.2 1377.8,954.9 1378.3,951.4 1378.8,947.9 1379.3,944.3 1379.8,940.6 1380.3,936.8 1380.8,933.0 1381.3,929.2 1381.8,925.5 1382.3,922.0 1382.8,918.7 1383.3,915.8 1383.8,913.3 1384.3,911.1 1384.8,909.3 1385.3,907.8 1385.8,906.5 1386.3,905.3 1386.8,904.2 1387.3,903.3 1387.8,902.3 1388.3,901.4 1388.8,900.5 1389.3,899.5 1389.8,898.5 1390.3,897.4 1390.8,896.1 1391.3,894.6 1391.8,892.8 1392.3,890.7 1392.8,888.4 1393.3,886.0 1393.8,883.6 1394.3,881.2 1394.8,878.9 1395.3,876.8 1395.8,875.0 1396.3,873.6 1396.8,872.6 1397.3,872.1 1397.8,872.3 1398.3,873.1 1398.8,874.6 1399.3,876.7 1399.8,879.2 1400.3,882.2 1400.8,885.4 1401.3,888.7 1401.8,892.2 1402.3,895.6 1402.8,899.0 1403.3,902.4 1403.8,905.7 1404.3,908.9 1404.8,912.0 1405.3,914.8 1405.8,917.2 1406.3,919.1 1406.8,920.6 1407.3,921.8 1407.8,922.9 1408.3,923.9 1408.8,925.0 1409.3,926.4 1409.8,928.1 1410.3,930.4 1410.8,933.4 1411.3,937.4 1411.8,942.5 1412.3,948.9 1412.8,956.5 1413.3,965.1 1413.8,974.3 1414.3,983.7 1414.8,993.4 1415.3,1003.3 1415.8,1013.5 1416.3,1023.7 1416.8,1034.1 1417.3,1044.8 1417.8,1056.3 1418.3,1069.1 1418.8,1082.6 1419.3,1094.8 1419.8,1103.9 1420.3,1109.7 1420.8,1112.1 1421.3,1111.7 1421.8,1109.2 1422.3,1105.2 1422.8,1099.8 1423.3,1093.0 1423.8,1084.1 1424.3,1072.8 1424.8,1060.2 1425.3,1047.9 1425.8,1035.5 1426.3,1020.5 1426.8,1000.0 1427.3,974.3 1427.8,946.7 1428.3,919.9 1428.8,894.6 1429.3,872.7 1429.8,856.2 1430.3,844.2 1430.8,834.4 1431.3,825.6 1431.8,817.4 1432.3,810.1 1432.8,804.0 1433.3,799.4 1433.8,796.9 1434.3,796.6 1434.8,798.7 1435.3,803.1 1435.8,810.2 1436.3,819.9 1436.8,831.3 1437.3,843.7 1437.8,856.6 1438.3,870.1 1438.8,883.9 1439.3,897.9 1439.8,911.7 1440.3,924.8 1440.8,937.0 1441.3,947.9 1441.8,957.7 1442.3,966.3 1442.8,973.5 1443.3,979.2 1443.8,983.5 1444.3,986.7 1444.8,989.0 1445.3,990.5 1445.8,991.5 1446.3,992.2 1446.8,992.6 1447.3,993.0 1447.8,993.3 1448.3,993.7 1448.8,994.3 1449.3,995.2 1449.8,996.5 1450.3,998.3 1450.8,1000.5 1451.3,1003.1 1451.8,1006.1 1452.3,1009.4 1452.8,1013.0 1453.3,1016.7 1453.8,1020.5 1454.3,1024.3 1454.8,1027.9 1455.3,1031.2 1455.8,1034.3 1456.3,1036.9 1456.8,1039.1 1457.3,1040.7 1457.8,1041.3 1458.3,1041.1 1458.8,1040.2 1459.3,1038.7 1459.8,1036.8 1460.3,1034.5 1460.8,1032.0 1461.3,1029.4 1461.8,1026.6 1462.3,1023.9 1462.8,1021.3 1463.3,1018.8 1463.8,1016.3 1464.3,1013.9 1464.8,1011.5 1465.3,1009.4 1465.8,1007.4 1466.3,1005.5 1466.8,1003.7 1467.3,1002.0 1467.8,1000.5 1468.3,999.0 1468.8,997.6 1469.3,996.1 1469.8,994.6 1470.3,993.0 1470.8,991.1 1471.3,989.1 1471.8,986.8 1472.3,984.2 1472.8,981.4 1473.3,978.4 1473.8,975.4 1474.3,972.2 1474.8,969.0 1475.3,965.9 1475.8,962.7 1476.3,959.5 1476.8,956.4 1477.3,953.4 1477.8,950.6 1478.3,948.0 1478.8,945.7 1479.3,943.7 1479.8,942.0 1480.3,940.6 1480.8,939.6 1481.3,938.8 1481.8,938.1 1482.3,937.6 1482.8,937.2 1483.3,936.9 1483.8,936.6 1484.3,936.3 1484.8,936.0 1485.3,935.7 1485.8,935.2 1486.3,934.7 1486.8,933.9 1487.3,933.0 1487.8,932.0 1488.3,930.8 1488.8,929.5 1489.3,928.1 1489.8,926.6 1490.3,925.2 1490.8,923.8 1491.3,922.6 1491.8,921.4 1492.3,920.4 1492.8,919.6 1493.3,919.1 1493.8,918.8 1494.3,918.8 1494.8,919.0 1495.3,919.5 1495.8,920.0 1496.3,920.7 1496.8,921.4 1497.3,922.2 1497.8,923.1 1498.3,923.9 1498.8,924.8 1499.3,925.5 1499.8,926.3 1500.3,926.9 1500.8,927.4 1501.2,927.7 1501.7,927.9 1502.2,928.0 1502.7,927.9 1503.2,927.8 1503.7,927.6 1504.2,927.3 1504.7,927.0 1505.2,926.7 1505.7,926.5 1506.2,926.3 1506.7,926.1 1507.2,926.1 1507.7,926.2 1508.2,926.5 1508.7,926.8 1509.2,927.4 1509.7,928.0 1510.2,928.8 1510.7,929.6 1511.2,930.4 1511.7,931.3 1512.2,932.2 1512.7,933.1 1513.2,934.0 1513.7,934.8 1514.2,935.5 1514.7,936.1 1515.2,936.5 1515.7,936.9 1516.2,937.1 1516.7,937.2 1517.2,937.2 1517.7,937.1 1518.2,936.9 1518.7,936.7 1519.2,936.5 1519.7,936.2 1520.2,936.0 1520.7,935.8 1521.2,935.7 1521.7,935.6 1522.2,935.6 1522.7,935.7 1523.2,935.9 1523.7,936.3 1524.2,936.7 1524.7,937.2 1525.2,937.8 1525.7,938.5 1526.2,939.1 1526.7,939.8 1527.2,940.4 1527.7,941.1 1528.2,941.7 1528.7,942.2 1529.2,942.7 1529.7,943.1 1530.2,943.3 1530.7,943.5 1531.2,943.5 1531.7,943.5 1532.2,943.4 1532.7,943.2 1533.2,943.0 1533.7,942.8 1534.2,942.5 1534.7,942.3 1535.2,942.1 1535.7,941.9 1536.2,941.8 1536.7,941.7 1537.2,941.8 1537.7,941.9 1538.2,942.2 1538.7,942.5 1539.2,942.9 1539.7,943.4 1540.2,943.9 1540.7,944.4 1541.2,945.0 1541.7,945.5 1542.2,946.0 1542.7,946.5 1543.2,946.9 1543.7,947.3 1544.2,947.6 1544.7,947.8 1545.2,947.9 1545.7,947.9 1546.2,947.8 1546.7,947.6 1547.2,947.4 1547.7,947.2 1548.2,947.0 1548.7,946.7 1549.2,946.4 1549.7,946.2 1550.2,946.0 1550.7,945.8 1551.2,945.7 1551.7,945.7 1552.2,945.8 1552.7,945.9 1553.2,946.1 1553.7,946.5 1554.2,946.8 1554.7,947.2 1555.2,947.6 1555.7,948.1 1556.2,948.5 1556.7,948.9 1557.2,949.3 1557.7,949.7 1558.2,950.0 1558.7,950.2 1559.2,950.4 1559.7,950.4 1560.2,950.4 1560.7,950.3 1561.2,950.2 1561.7,950.0 1562.2,949.8 1562.7,949.6 1563.2,949.3 1563.7,949.1 1564.2,948.8 1564.7,948.6 1565.2,948.5 1565.7,948.4 1566.2,948.3 1566.7,948.4 1567.2,948.5 1567.7,948.7 1568.2,948.9 1568.7,949.2 1569.2,949.6 1569.7,949.9 1570.2,950.3 1570.7,950.7 1571.2,951.1 1571.7,951.4 1572.2,951.7 1572.7,952.0 1573.2,952.2 1573.7,952.3 1574.2,952.4 1574.7,952.4 1575.2,952.3 1575.7,952.1 1576.2,951.9 1576.7,951.7 1577.2,951.5 1577.7,951.2 1578.2,951.0 1578.7,950.8 1579.2,950.6 1579.7,950.4 1580.2,950.3 1580.7,950.2 1581.2,950.2 1581.7,950.3 1582.2,950.4 1582.7,950.7 1583.2,950.9 1583.7,951.2 1584.2,951.5 1584.7,951.8 1585.2,952.2 1585.7,952.5 1586.2,952.8 1586.7,953.1 1587.2,953.3 1587.7,953.5 1588.2,953.6 1588.7,953.7 1589.2,953.6 1589.7,953.6 1590.2,953.4 1590.7,953.2 1591.2,953.0 1591.7,952.8 1592.2,952.6 1592.7,952.3 1593.2,952.1 1593.7,951.9 1594.2,951.7 1594.7,951.6 1595.2,951.5 1595.7,951.5 1596.2,951.5 1596.7,951.7 1597.2,951.8 1597.7,952.0 1598.2,952.3 1598.7,952.5 1599.2,952.8 1599.7,953.1 1600.2,953.4 1600.7,953.6 1601.2,953.9 1601.7,954.1 1602.2,954.2 1602.7,954.3 1603.2,954.4 1603.7,954.3 1604.2,954.2 1604.7,954.1 1605.2,953.9 1605.7,953.7 1606.2,953.5 1606.7,953.3 1607.2,953.1 1607.7,952.8 1608.2,952.6 1608.7,952.5 1609.2,952.3 1609.7,952.2 1610.2,952.2 1610.7,952.2 1611.2,952.3 1611.7,952.5 1612.2,952.6 1612.7,952.8 1613.2,953.1 1613.7,953.3 1614.2,953.6 1614.7,953.8 1615.2,954.1 1615.7,954.3 1616.2,954.5 1616.7,954.6 1617.2,954.8 1617.7,954.8 1618.2,954.8 1618.7,954.7 1619.2,954.6 1619.7,954.4 1620.2,954.3 1620.7,954.0 1621.2,953.8 1621.7,953.6 1622.2,953.4 1622.7,953.2 1623.2,953.1 1623.7,952.9 1624.2,952.8 1624.7,952.8 1625.2,952.8 1625.7,952.9 1626.2,953.0 1626.7,953.2 1627.2,953.4 1627.7,953.6 1628.2,953.8 1628.7,954.0 1629.2,954.3 1629.7,954.5 1630.2,954.7 1630.7,954.9 1631.2,955.0 1631.7,955.1 1632.2,955.2 1632.7,955.2 1633.2,955.1 1633.7,955.0 1634.2,954.9 1634.7,954.7 1635.2,954.5 1635.7,954.3 1636.2,954.1 1636.7,953.9 1637.2,953.7 1637.7,953.6 1638.2,953.5 1638.7,953.4 1639.2,953.3 1639.7,953.3 1640.2,953.4 1640.7,953.5 1641.2,953.6 1641.7,953.8 1642.2,954.0 1642.7,954.2 1643.2,954.4 1643.7,954.7 1644.2,954.9 1644.7,955.1 1645.2,955.2 1645.7,955.4 1646.2,955.5 1646.7,955.5 1647.2,955.5 1647.6,955.5 1648.1,955.4 1648.6,955.3 1649.1,955.1 1649.6,954.9 1650.1,954.8 1650.6,954.6 1651.1,954.4 1651.6,954.2 1652.1,954.1 1652.6,953.9 1653.1,953.8 1653.6,953.8 1654.1,953.8 1654.6,953.8 1655.1,953.9 1655.6,954.0 1656.1,954.2 1656.6,954.4 1657.1,954.6 1657.6,954.8 1658.1,955.0 1658.6,955.2 1659.1,955.4 1659.6,955.5 1660.1,955.7 1660.6,955.8 1661.1,955.8 1661.6,955.8 1662.1,955.8 1662.6,955.7 1663.1,955.6 1663.6,955.4 1664.1,955.3 1664.6,955.1 1665.1,954.9 1665.6,954.8 1666.1,954.6 1666.6,954.4 1667.1,954.3 1667.6,954.2 1668.1,954.2 1668.6,954.2 1669.1,954.2 1669.6,954.3 1670.1,954.4 1670.6,954.5 1671.1,954.7 1671.6,954.9 1672.1,955.1 1672.6,955.3 1673.1,955.5 1673.6,955.6 1674.1,955.8 1674.6,955.9 1675.1,956.0 1675.6,956.1 1676.1,956.1 1676.6,956.0 1677.1,956.0 1677.6,955.8 1678.1,955.7 1678.6,955.6 1679.1,955.4 1679.6,955.2 1680.1,955.1 1680.6,954.9 1681.1,954.8 1681.6,954.6 1682.1,954.5 1682.6,954.5 1683.1,954.5 1683.6,954.5 1684.1,954.6 1684.6,954.7 1685.1,954.8 1685.6,954.9 1686.1,955.1 1686.6,955.3 1687.1,955.5 1687.6,955.6 1688.1,955.8 1688.6,956.0 1689.1,956.1 1689.6,956.2 1690.1,956.2 1690.6,956.2 1691.1,956.2 1691.6,956.1 1692.1,956.0 1692.6,955.9 1693.1,955.8 1693.6,955.6 1694.1,955.5 1694.6,955.3 1695.1,955.1 1695.6,955.0 1696.1,954.9 1696.6,954.8 1697.1,954.7 1697.6,954.7 1698.1,954.7 1698.6,954.8 1699.1,954.8 1699.6,955.0 1700.1,955.1 1700.6,955.3 1701.1,955.4 1701.6,955.6 1702.1,955.8 1702.6,955.9 1703.1,956.1 1703.6,956.2 1704.1,956.3 1704.6,956.3 1705.1,956.3 1705.6,956.3 1706.1,956.2 1706.6,956.1 1707.1,956.0 1707.6,955.9 1708.1,955.7 1708.6,955.6 1709.1,955.4 1709.6,955.3 1710.1,955.1 1710.6,955.0 1711.1,954.9 1711.6,954.9 1712.1,954.8 1712.6,954.8 1713.1,954.9 1713.6,955.0 1714.1,955.1 1714.6,955.2 1715.1,955.3 1715.6,955.5 1716.1,955.6 1716.6,955.8 1717.1,955.9 1717.6,956.1 1718.1,956.2 1718.6,956.3 1719.1,956.3 1719.6,956.3 1720.1,956.3 1720.6,956.3" fill="none" stroke="#70ad47" stroke-width="1.9" stroke-linejoin="round" stroke-linecap="butt" clip-path="url(#clip_c3)"/>
<rect x="1134.8" y="775.8" width="585.8" height="361.9000000000001" fill="none" stroke="#000" stroke-width="1.7"/>
<line x1="1129.50" y1="1122.65" x2="1134.80" y2="1122.65" stroke="#000" stroke-width="1.7"/>
<line x1="1122.80" y1="1089.50" x2="1134.80" y2="1089.50" stroke="#000" stroke-width="1.7"/>
<text><tspan class="r" x="1079.20" y="1102.90" font-size="31.70" textLength="22.30" lengthAdjust="spacingAndGlyphs" stroke="#000" stroke-width="0.35">−</tspan><tspan class="r" x="1101.58" y="1101.50" font-size="31.70" textLength="16.88" lengthAdjust="spacingAndGlyphs" stroke="#000" stroke-width="0.35">2</tspan></text>
<line x1="1129.50" y1="1056.35" x2="1134.80" y2="1056.35" stroke="#000" stroke-width="1.7"/>
<line x1="1122.80" y1="1023.20" x2="1134.80" y2="1023.20" stroke="#000" stroke-width="1.7"/>
<text><tspan class="r" x="1080.85" y="1036.60" font-size="31.70" textLength="22.30" lengthAdjust="spacingAndGlyphs" stroke="#000" stroke-width="0.35">−</tspan><tspan class="r" x="1101.75" y="1035.20" font-size="31.70" textLength="16.88" lengthAdjust="spacingAndGlyphs" stroke="#000" stroke-width="0.35">1</tspan></text>
<line x1="1129.50" y1="990.05" x2="1134.80" y2="990.05" stroke="#000" stroke-width="1.7"/>
<line x1="1122.80" y1="956.90" x2="1134.80" y2="956.90" stroke="#000" stroke-width="1.7"/>
<text><tspan class="r" x="1101.01" y="968.90" font-size="31.70" textLength="16.88" lengthAdjust="spacingAndGlyphs" stroke="#000" stroke-width="0.35">0</tspan></text>
<line x1="1129.50" y1="923.75" x2="1134.80" y2="923.75" stroke="#000" stroke-width="1.7"/>
<line x1="1122.80" y1="890.60" x2="1134.80" y2="890.60" stroke="#000" stroke-width="1.7"/>
<text><tspan class="r" x="1101.75" y="902.60" font-size="31.70" textLength="16.88" lengthAdjust="spacingAndGlyphs" stroke="#000" stroke-width="0.35">1</tspan></text>
<line x1="1129.50" y1="857.45" x2="1134.80" y2="857.45" stroke="#000" stroke-width="1.7"/>
<line x1="1122.80" y1="824.30" x2="1134.80" y2="824.30" stroke="#000" stroke-width="1.7"/>
<text><tspan class="r" x="1101.58" y="836.30" font-size="31.70" textLength="16.88" lengthAdjust="spacingAndGlyphs" stroke="#000" stroke-width="0.35">2</tspan></text>
<line x1="1129.50" y1="791.15" x2="1134.80" y2="791.15" stroke="#000" stroke-width="1.7"/>
<line x1="1149.25" y1="1137.70" x2="1149.25" y2="1142.70" stroke="#000" stroke-width="1.7"/>
<line x1="1163.90" y1="1137.70" x2="1163.90" y2="1142.70" stroke="#000" stroke-width="1.7"/>
<line x1="1178.55" y1="1137.70" x2="1178.55" y2="1142.70" stroke="#000" stroke-width="1.7"/>
<line x1="1193.20" y1="1137.70" x2="1193.20" y2="1142.70" stroke="#000" stroke-width="1.7"/>
<line x1="1207.85" y1="1137.70" x2="1207.85" y2="1147.00" stroke="#000" stroke-width="1.7"/>
<text><tspan class="r" x="1172.24" y="1178.30" font-size="31.70" textLength="22.30" lengthAdjust="spacingAndGlyphs" stroke="#000" stroke-width="0.35">−</tspan><tspan class="r" x="1193.14" y="1176.90" font-size="31.70" textLength="50.64" lengthAdjust="spacingAndGlyphs" stroke="#000" stroke-width="0.35">150</tspan></text>
<line x1="1222.50" y1="1137.70" x2="1222.50" y2="1142.70" stroke="#000" stroke-width="1.7"/>
<line x1="1237.15" y1="1137.70" x2="1237.15" y2="1142.70" stroke="#000" stroke-width="1.7"/>
<line x1="1251.80" y1="1137.70" x2="1251.80" y2="1142.70" stroke="#000" stroke-width="1.7"/>
<line x1="1266.45" y1="1137.70" x2="1266.45" y2="1142.70" stroke="#000" stroke-width="1.7"/>
<line x1="1281.10" y1="1137.70" x2="1281.10" y2="1147.00" stroke="#000" stroke-width="1.7"/>
<text><tspan class="r" x="1245.49" y="1178.30" font-size="31.70" textLength="22.30" lengthAdjust="spacingAndGlyphs" stroke="#000" stroke-width="0.35">−</tspan><tspan class="r" x="1266.39" y="1176.90" font-size="31.70" textLength="50.64" lengthAdjust="spacingAndGlyphs" stroke="#000" stroke-width="0.35">100</tspan></text>
<line x1="1295.75" y1="1137.70" x2="1295.75" y2="1142.70" stroke="#000" stroke-width="1.7"/>
<line x1="1310.40" y1="1137.70" x2="1310.40" y2="1142.70" stroke="#000" stroke-width="1.7"/>
<line x1="1325.05" y1="1137.70" x2="1325.05" y2="1142.70" stroke="#000" stroke-width="1.7"/>
<line x1="1339.70" y1="1137.70" x2="1339.70" y2="1142.70" stroke="#000" stroke-width="1.7"/>
<line x1="1354.35" y1="1137.70" x2="1354.35" y2="1147.00" stroke="#000" stroke-width="1.7"/>
<text><tspan class="r" x="1326.67" y="1178.30" font-size="31.70" textLength="22.30" lengthAdjust="spacingAndGlyphs" stroke="#000" stroke-width="0.35">−</tspan><tspan class="r" x="1348.58" y="1176.90" font-size="31.70" textLength="33.76" lengthAdjust="spacingAndGlyphs" stroke="#000" stroke-width="0.35">50</tspan></text>
<line x1="1369.00" y1="1137.70" x2="1369.00" y2="1142.70" stroke="#000" stroke-width="1.7"/>
<line x1="1383.65" y1="1137.70" x2="1383.65" y2="1142.70" stroke="#000" stroke-width="1.7"/>
<line x1="1398.30" y1="1137.70" x2="1398.30" y2="1142.70" stroke="#000" stroke-width="1.7"/>
<line x1="1412.95" y1="1137.70" x2="1412.95" y2="1142.70" stroke="#000" stroke-width="1.7"/>
<line x1="1427.60" y1="1137.70" x2="1427.60" y2="1147.00" stroke="#000" stroke-width="1.7"/>
<text><tspan class="r" x="1419.66" y="1176.90" font-size="31.70" textLength="16.88" lengthAdjust="spacingAndGlyphs" stroke="#000" stroke-width="0.35">0</tspan></text>
<line x1="1442.25" y1="1137.70" x2="1442.25" y2="1142.70" stroke="#000" stroke-width="1.7"/>
<line x1="1456.90" y1="1137.70" x2="1456.90" y2="1142.70" stroke="#000" stroke-width="1.7"/>
<line x1="1471.55" y1="1137.70" x2="1471.55" y2="1142.70" stroke="#000" stroke-width="1.7"/>
<line x1="1486.20" y1="1137.70" x2="1486.20" y2="1142.70" stroke="#000" stroke-width="1.7"/>
<line x1="1500.85" y1="1137.70" x2="1500.85" y2="1147.00" stroke="#000" stroke-width="1.7"/>
<text><tspan class="r" x="1484.13" y="1176.90" font-size="31.70" textLength="33.76" lengthAdjust="spacingAndGlyphs" stroke="#000" stroke-width="0.35">50</tspan></text>
<line x1="1515.50" y1="1137.70" x2="1515.50" y2="1142.70" stroke="#000" stroke-width="1.7"/>
<line x1="1530.15" y1="1137.70" x2="1530.15" y2="1142.70" stroke="#000" stroke-width="1.7"/>
<line x1="1544.80" y1="1137.70" x2="1544.80" y2="1142.70" stroke="#000" stroke-width="1.7"/>
<line x1="1559.45" y1="1137.70" x2="1559.45" y2="1142.70" stroke="#000" stroke-width="1.7"/>
<line x1="1574.10" y1="1137.70" x2="1574.10" y2="1147.00" stroke="#000" stroke-width="1.7"/>
<text><tspan class="r" x="1548.44" y="1176.90" font-size="31.70" textLength="50.64" lengthAdjust="spacingAndGlyphs" stroke="#000" stroke-width="0.35">100</tspan></text>
<line x1="1588.75" y1="1137.70" x2="1588.75" y2="1142.70" stroke="#000" stroke-width="1.7"/>
<line x1="1603.40" y1="1137.70" x2="1603.40" y2="1142.70" stroke="#000" stroke-width="1.7"/>
<line x1="1618.05" y1="1137.70" x2="1618.05" y2="1142.70" stroke="#000" stroke-width="1.7"/>
<line x1="1632.70" y1="1137.70" x2="1632.70" y2="1142.70" stroke="#000" stroke-width="1.7"/>
<line x1="1647.35" y1="1137.70" x2="1647.35" y2="1147.00" stroke="#000" stroke-width="1.7"/>
<text><tspan class="r" x="1621.69" y="1176.90" font-size="31.70" textLength="50.64" lengthAdjust="spacingAndGlyphs" stroke="#000" stroke-width="0.35">150</tspan></text>
<line x1="1662.00" y1="1137.70" x2="1662.00" y2="1142.70" stroke="#000" stroke-width="1.7"/>
<line x1="1676.65" y1="1137.70" x2="1676.65" y2="1142.70" stroke="#000" stroke-width="1.7"/>
<line x1="1691.30" y1="1137.70" x2="1691.30" y2="1142.70" stroke="#000" stroke-width="1.7"/>
<line x1="1705.95" y1="1137.70" x2="1705.95" y2="1142.70" stroke="#000" stroke-width="1.7"/>
<text><tspan class="r" x="1371.26" y="1216.00" font-size="31.70" textLength="111.85" lengthAdjust="spacingAndGlyphs" stroke="#000" stroke-width="0.25">Time (fs)</tspan></text>
<rect x="862.4" y="231.8" width="194.69999999999993" height="115.5" fill="#fff" stroke="none"/>
<clipPath id="clipi_b1"><rect x="862.4" y="231.8" width="194.69999999999993" height="115.5"/></clipPath>
<path d="M861.4,283.8 861.8,284.5 862.2,285.2 862.6,285.9 863.0,286.6 863.4,287.2 863.8,287.8 864.2,288.4 864.6,288.8 865.0,289.2 865.4,289.5 865.8,289.8 866.2,289.9 866.6,289.9 867.0,289.7 867.4,289.5 867.8,289.2 868.2,288.8 868.6,288.3 869.0,287.7 869.4,287.1 869.8,286.4 870.2,285.6 870.6,284.9 871.0,284.1 871.4,283.3 871.8,282.5 872.2,281.7 872.6,281.0 873.0,280.3 873.4,279.6 873.8,278.9 874.2,278.3 874.6,277.8 875.0,277.4 875.4,277.0 875.8,276.8 876.2,276.6 876.6,276.6 877.0,276.7 877.4,277.0 877.8,277.4 878.2,277.8 878.6,278.4 879.0,279.1 879.4,279.9 879.8,280.7 880.2,281.5 880.6,282.4 881.0,283.3 881.4,284.2 881.8,285.2 882.2,286.1 882.6,286.9 883.0,287.7 883.4,288.5 883.8,289.2 884.2,289.8 884.6,290.4 885.0,290.8 885.4,291.1 885.8,291.3 886.2,291.3 886.6,291.2 887.0,290.9 887.4,290.5 887.8,290.0 888.2,289.3 888.6,288.6 889.0,287.8 889.4,286.9 889.8,286.0 890.2,285.0 890.6,284.0 891.0,283.0 891.4,282.0 891.8,281.0 892.2,280.0 892.6,279.1 893.0,278.2 893.4,277.4 893.8,276.6 894.2,276.0 894.6,275.4 895.0,275.0 895.4,274.7 895.8,274.5 896.2,274.5 896.6,274.8 897.0,275.1 897.4,275.7 897.8,276.4 898.2,277.3 898.6,278.2 899.0,279.3 899.4,280.4 899.8,281.6 900.2,282.8 900.6,284.1 901.0,285.3 901.4,286.6 901.8,287.8 902.2,288.9 902.6,290.0 903.0,290.9 903.4,291.8 903.8,292.6 904.2,293.2 904.6,293.6 905.0,293.8 905.4,293.9 905.8,293.7 906.2,293.3 906.6,292.8 907.0,292.1 907.4,291.2 907.8,290.2 908.2,289.1 908.6,287.9 909.0,286.6 909.4,285.3 909.8,284.0 910.2,282.6 910.6,281.2 911.0,279.8 911.4,278.5 911.8,277.2 912.2,276.0 912.6,274.9 913.0,273.9 913.4,273.0 913.8,272.2 914.2,271.7 914.6,271.2 915.0,271.0 915.4,271.0 915.8,271.3 916.2,271.8 916.6,272.6 917.0,273.6 917.4,274.7 917.8,276.0 918.2,277.5 918.6,279.0 919.0,280.7 919.4,282.4 919.8,284.1 920.2,285.9 920.6,287.6 921.0,289.3 921.4,291.0 921.8,292.5 922.2,294.0 922.6,295.3 923.0,296.4 923.4,297.4 923.8,298.2 924.2,298.7 924.6,299.0 925.0,299.0 925.4,298.6 925.8,298.0 926.2,297.0 926.6,295.8 927.0,294.4 927.4,292.8 927.8,291.0 928.2,289.1 928.6,287.1 929.0,285.0 929.4,282.8 929.8,280.6 930.2,278.4 930.6,276.3 931.0,274.2 931.4,272.2 931.8,270.3 932.2,268.5 932.6,266.9 933.0,265.6 933.4,264.4 933.8,263.6 934.2,263.0 934.6,262.7 935.0,262.8 935.4,263.5 935.8,264.7 936.2,266.4 936.6,268.4 937.0,270.9 937.4,273.6 937.8,276.5 938.2,279.7 938.6,283.0 939.0,286.3 939.4,289.7 939.8,293.1 940.2,296.4 940.6,299.5 941.0,302.5 941.4,305.2 941.8,307.6 942.2,309.7 942.6,311.4 943.0,312.6 943.4,313.3 943.8,313.4 944.2,312.6 944.6,311.0 945.0,308.6 945.4,305.6 945.8,301.9 946.2,297.8 946.6,293.2 947.0,288.4 947.4,283.3 947.8,278.0 948.2,272.8 948.6,267.5 949.0,262.4 949.4,257.6 949.8,253.0 950.2,248.9 950.6,245.2 951.0,242.2 951.4,239.8 951.8,238.2 952.2,237.4 952.6,237.9 953.0,240.0 953.4,243.8 953.8,248.9 954.2,255.1 954.6,262.3 955.0,270.2 955.4,278.5 955.8,287.2 956.2,295.9 956.6,304.5 957.0,312.7 957.4,320.3 957.8,327.1 958.2,332.9 958.6,337.5 959.0,340.6 959.4,342.1 959.8,341.8 960.2,339.9 960.6,336.6 961.0,332.0 961.4,326.4 961.8,320.0 962.2,312.8 962.6,305.2 963.0,297.1 963.4,289.0 963.8,280.8 964.2,272.9 964.6,265.3 965.0,258.3 965.4,252.0 965.8,246.6 966.2,242.3 966.6,239.2 967.0,237.6 967.4,237.5 967.8,238.5 968.2,240.3 968.6,242.9 969.0,246.2 969.4,250.1 969.8,254.5 970.2,259.2 970.6,264.3 971.0,269.5 971.4,274.9 971.8,280.2 972.2,285.5 972.6,290.6 973.0,295.4 973.4,299.9 973.8,303.9 974.2,307.3 974.6,310.0 975.0,312.0 975.4,313.2 975.8,313.4 976.2,313.0 976.6,312.0 977.0,310.7 977.4,309.0 977.8,306.9 978.2,304.5 978.6,301.8 979.0,299.0 979.4,296.0 979.8,292.8 980.2,289.7 980.6,286.4 981.0,283.2 981.4,280.1 981.8,277.1 982.2,274.2 982.6,271.6 983.0,269.2 983.4,267.1 983.8,265.4 984.2,264.0 984.6,263.1 985.0,262.7 985.4,262.8 985.8,263.2 986.2,264.0 986.6,265.0 987.0,266.3 987.4,267.9 987.8,269.6 988.2,271.5 988.6,273.5 989.0,275.7 989.4,277.9 989.8,280.2 990.2,282.4 990.6,284.7 991.0,286.9 991.4,289.0 991.8,291.0 992.2,292.8 992.6,294.5 993.0,295.9 993.4,297.1 993.8,298.1 994.2,298.7 994.6,299.0 995.0,298.9 995.4,298.6 995.8,298.0 996.2,297.3 996.6,296.3 997.0,295.1 997.4,293.8 997.8,292.4 998.2,290.9 998.6,289.2 999.0,287.6 999.4,285.9 999.8,284.1 1000.2,282.4 1000.6,280.8 1001.0,279.1 1001.4,277.6 1001.8,276.2 1002.2,274.9 1002.6,273.7 1003.0,272.7 1003.4,272.0 1003.8,271.4 1004.2,271.1 1004.6,271.0 1005.0,271.2 1005.4,271.6 1005.8,272.2 1006.2,272.9 1006.6,273.9 1007.0,274.9 1007.4,276.1 1007.8,277.3 1008.2,278.6 1008.6,280.0 1009.0,281.4 1009.4,282.9 1009.8,284.3 1010.2,285.7 1010.6,287.0 1011.0,288.3 1011.4,289.5 1011.8,290.6 1012.2,291.6 1012.6,292.4 1013.0,293.1 1013.4,293.6 1013.8,293.8 1014.2,293.9 1014.6,293.7 1015.0,293.4 1015.4,292.9 1015.8,292.2 1016.2,291.5 1016.6,290.6 1017.0,289.6 1017.4,288.5 1017.8,287.4 1018.2,286.2 1018.6,285.0 1019.0,283.8 1019.4,282.6 1019.8,281.5 1020.2,280.3 1020.6,279.2 1021.0,278.2 1021.4,277.3 1021.8,276.5 1022.2,275.8 1022.6,275.2 1023.0,274.8 1023.4,274.6 1023.8,274.5 1024.2,274.7 1024.6,274.9 1025.0,275.3 1025.4,275.9 1025.8,276.5 1026.2,277.2 1026.6,278.0 1027.0,278.9 1027.4,279.8 1027.8,280.8 1028.2,281.8 1028.6,282.8 1029.0,283.8 1029.4,284.8 1029.8,285.8 1030.2,286.8 1030.6,287.6 1031.0,288.5 1031.4,289.2 1031.8,289.9 1032.2,290.4 1032.6,290.8 1033.0,291.1 1033.4,291.3 1033.8,291.3 1034.2,291.2 1034.6,290.9 1035.0,290.5 1035.4,290.0 1035.8,289.4 1036.2,288.7 1036.6,287.9 1037.0,287.1 1037.4,286.2 1037.8,285.3 1038.2,284.4 1038.6,283.5 1039.0,282.6 1039.4,281.7 1039.8,280.8 1040.2,280.0 1040.6,279.3 1041.0,278.6 1041.4,278.0 1041.8,277.4 1042.2,277.0 1042.6,276.8 1043.0,276.6 1043.4,276.6 1043.8,276.7 1044.2,276.9 1044.6,277.3 1045.0,277.7 1045.4,278.1 1045.8,278.7 1046.2,279.3 1046.6,279.9 1047.0,280.6 1047.4,281.3 1047.8,282.1 1048.2,282.9 1048.6,283.6 1049.0,284.4 1049.4,285.1 1049.8,285.9 1050.2,286.5 1050.6,287.2 1051.0,287.8 1051.4,288.3 1051.8,288.8 1052.2,289.2 1052.6,289.5 1053.0,289.8 1053.4,289.9 1053.8,289.9 1054.2,289.8 1054.6,289.5 1055.0,289.2 1055.4,288.8 1055.8,288.4 1056.2,287.8 1056.6,287.2 1057.0,286.6 1057.4,285.9 1057.8,285.2" fill="none" stroke="#a5a5a5" stroke-width="1.8" stroke-linejoin="round" stroke-linecap="butt" clip-path="url(#clipi_b1)"/>
<rect x="862.4" y="231.8" width="194.69999999999993" height="115.5" fill="none" stroke="#000" stroke-width="1.7"/>
<line x1="858.40" y1="243.30" x2="862.40" y2="243.30" stroke="#000" stroke-width="1.7"/>
<text><tspan class="r" x="825.03" y="253.10" font-size="27.70" textLength="33.59" lengthAdjust="spacingAndGlyphs" stroke="#000" stroke-width="0.25">0.1</tspan></text>
<line x1="858.40" y1="283.80" x2="862.40" y2="283.80" stroke="#000" stroke-width="1.7"/>
<text><tspan class="r" x="844.08" y="293.60" font-size="27.70" textLength="13.99" lengthAdjust="spacingAndGlyphs" stroke="#000" stroke-width="0.25">0</tspan></text>
<line x1="858.40" y1="324.30" x2="862.40" y2="324.30" stroke="#000" stroke-width="1.7"/>
<text><tspan class="r" x="805.42" y="335.20" font-size="27.70" textLength="19.63" lengthAdjust="spacingAndGlyphs" stroke="#000" stroke-width="0.25">−</tspan><tspan class="r" x="825.03" y="334.10" font-size="27.70" textLength="33.59" lengthAdjust="spacingAndGlyphs" stroke="#000" stroke-width="0.25">0.1</tspan></text>
<line x1="881.40" y1="347.30" x2="881.40" y2="351.30" stroke="#000" stroke-width="1.7"/>
<text><tspan class="r" x="857.53" y="372.10" font-size="27.70" textLength="19.63" lengthAdjust="spacingAndGlyphs" stroke="#000" stroke-width="0.25">−</tspan><tspan class="r" x="877.62" y="371.00" font-size="27.70" textLength="27.98" lengthAdjust="spacingAndGlyphs" stroke="#000" stroke-width="0.25">40</tspan></text>
<line x1="959.52" y1="347.30" x2="959.52" y2="351.30" stroke="#000" stroke-width="1.7"/>
<text><tspan class="r" x="953.03" y="371.00" font-size="27.70" textLength="13.99" lengthAdjust="spacingAndGlyphs" stroke="#000" stroke-width="0.25">0</tspan></text>
<line x1="1037.64" y1="347.30" x2="1037.64" y2="351.30" stroke="#000" stroke-width="1.7"/>
<text><tspan class="r" x="1024.41" y="371.00" font-size="27.70" textLength="27.98" lengthAdjust="spacingAndGlyphs" stroke="#000" stroke-width="0.25">40</tspan></text>
<line x1="920.46" y1="347.30" x2="920.46" y2="350.00" stroke="#000" stroke-width="1.7"/>
<line x1="998.58" y1="347.30" x2="998.58" y2="350.00" stroke="#000" stroke-width="1.7"/>
<text><tspan class="r" x="904.28" y="394.80" font-size="31.60" textLength="111.44" lengthAdjust="spacingAndGlyphs" stroke="#000" stroke-width="0.25">Time (fs)</tspan></text>
<rect x="862.4" y="421.8" width="194.69999999999993" height="115.49999999999994" fill="#fff" stroke="none"/>
<clipPath id="clipi_b2"><rect x="862.4" y="421.8" width="194.69999999999993" height="115.49999999999994"/></clipPath>
<path d="M861.4,485.1 861.8,485.0 862.2,484.9 862.6,484.6 863.0,484.3 863.4,483.9 863.8,483.4 864.2,482.9 864.6,482.3 865.0,481.7 865.4,481.1 865.8,480.4 866.2,479.7 866.6,479.0 867.0,478.3 867.4,477.6 867.8,477.0 868.2,476.4 868.6,475.8 869.0,475.3 869.4,474.8 869.8,474.4 870.2,474.1 870.6,473.9 871.0,473.8 871.4,473.8 871.8,473.9 872.2,474.1 872.6,474.4 873.0,474.8 873.4,475.3 873.8,475.8 874.2,476.4 874.6,477.1 875.0,477.7 875.4,478.4 875.8,479.2 876.2,479.9 876.6,480.6 877.0,481.3 877.4,482.0 877.8,482.7 878.2,483.4 878.6,484.0 879.0,484.5 879.4,485.0 879.8,485.4 880.2,485.7 880.6,486.0 881.0,486.1 881.4,486.1 881.8,486.0 882.2,485.8 882.6,485.4 883.0,484.9 883.4,484.4 883.8,483.7 884.2,483.0 884.6,482.3 885.0,481.5 885.4,480.6 885.8,479.8 886.2,478.9 886.6,478.0 887.0,477.2 887.4,476.4 887.8,475.6 888.2,474.8 888.6,474.2 889.0,473.6 889.4,473.1 889.8,472.7 890.2,472.4 890.6,472.2 891.0,472.2 891.4,472.3 891.8,472.6 892.2,473.0 892.6,473.6 893.0,474.2 893.4,474.9 893.8,475.7 894.2,476.6 894.6,477.5 895.0,478.5 895.4,479.5 895.8,480.5 896.2,481.5 896.6,482.5 897.0,483.4 897.4,484.3 897.8,485.2 898.2,485.9 898.6,486.6 899.0,487.2 899.4,487.6 899.8,488.0 900.2,488.2 900.6,488.2 901.0,488.0 901.4,487.7 901.8,487.3 902.2,486.7 902.6,486.0 903.0,485.2 903.4,484.3 903.8,483.3 904.2,482.2 904.6,481.1 905.0,480.0 905.4,478.9 905.8,477.7 906.2,476.6 906.6,475.5 907.0,474.5 907.4,473.5 907.8,472.5 908.2,471.7 908.6,471.0 909.0,470.3 909.4,469.9 909.8,469.5 910.2,469.3 910.6,469.3 911.0,469.6 911.4,470.0 911.8,470.6 912.2,471.4 912.6,472.4 913.0,473.4 913.4,474.6 913.8,475.9 914.2,477.2 914.6,478.6 915.0,480.0 915.4,481.5 915.8,482.9 916.2,484.3 916.6,485.6 917.0,486.9 917.4,488.1 917.8,489.1 918.2,490.1 918.6,490.9 919.0,491.5 919.4,491.9 919.8,492.2 920.2,492.2 920.6,491.9 921.0,491.3 921.4,490.5 921.8,489.5 922.2,488.3 922.6,486.9 923.0,485.4 923.4,483.8 923.8,482.1 924.2,480.3 924.6,478.5 925.0,476.6 925.4,474.8 925.8,473.1 926.2,471.3 926.6,469.7 927.0,468.2 927.4,466.8 927.8,465.6 928.2,464.6 928.6,463.8 929.0,463.2 929.4,463.0 929.8,463.0 930.2,463.4 930.6,464.2 931.0,465.3 931.4,466.8 931.8,468.5 932.2,470.4 932.6,472.6 933.0,474.9 933.4,477.3 933.8,479.7 934.2,482.3 934.6,484.8 935.0,487.3 935.4,489.7 935.8,492.0 936.2,494.2 936.6,496.2 937.0,497.9 937.4,499.4 937.8,500.7 938.2,501.5 938.6,502.0 939.0,502.1 939.4,501.6 939.8,500.6 940.2,499.1 940.6,497.1 941.0,494.7 941.4,492.0 941.8,489.0 942.2,485.8 942.6,482.3 943.0,478.8 943.4,475.1 943.8,471.5 944.2,467.9 944.6,464.3 945.0,460.9 945.4,457.6 945.8,454.6 946.2,451.9 946.6,449.6 947.0,447.6 947.4,446.1 947.8,445.0 948.2,444.5 948.6,444.9 949.0,446.5 949.4,449.2 949.8,453.0 950.2,457.7 950.6,463.0 951.0,469.0 951.4,475.4 951.8,482.1 952.2,488.9 952.6,495.7 953.0,502.3 953.4,508.6 953.8,514.5 954.2,519.7 954.6,524.2 955.0,527.8 955.4,530.4 955.8,531.7 956.2,531.6 956.6,529.8 957.0,526.4 957.4,521.6 957.8,515.6 958.2,508.6 958.6,500.8 959.0,492.6 959.4,484.0 959.8,475.3 960.2,466.7 960.6,458.4 961.0,450.7 961.4,443.7 961.8,437.7 962.2,432.9 962.6,429.5 963.0,427.6 963.4,427.6 963.8,428.9 964.2,431.5 964.6,435.0 965.0,439.5 965.4,444.8 965.8,450.6 966.2,456.9 966.6,463.5 967.0,470.3 967.4,477.1 967.8,483.8 968.2,490.2 968.6,496.1 969.0,501.5 969.4,506.1 969.8,509.9 970.2,512.7 970.6,514.3 971.0,514.6 971.4,514.1 971.8,513.1 972.2,511.5 972.6,509.6 973.0,507.2 973.4,504.5 973.8,501.5 974.2,498.2 974.6,494.8 975.0,491.3 975.4,487.6 975.8,484.0 976.2,480.3 976.6,476.8 977.0,473.4 977.4,470.1 977.8,467.1 978.2,464.4 978.6,462.0 979.0,460.1 979.4,458.5 979.8,457.5 980.2,457.0 980.6,457.1 981.0,457.6 981.4,458.5 981.8,459.7 982.2,461.2 982.6,462.9 983.0,464.9 983.4,467.1 983.8,469.4 984.2,471.8 984.6,474.3 985.0,476.9 985.4,479.4 985.8,481.9 986.2,484.3 986.6,486.6 987.0,488.7 987.4,490.6 987.8,492.3 988.2,493.8 988.6,494.9 989.0,495.7 989.4,496.1 989.8,496.2 990.2,495.9 990.6,495.3 991.0,494.5 991.4,493.5 991.8,492.2 992.2,490.9 992.6,489.3 993.0,487.7 993.4,486.0 993.8,484.2 994.2,482.3 994.6,480.5 995.0,478.6 995.4,476.8 995.8,475.1 996.2,473.5 996.6,471.9 997.0,470.6 997.4,469.3 997.8,468.3 998.2,467.5 998.6,466.9 999.0,466.6 999.4,466.6 999.8,466.8 1000.2,467.3 1000.6,467.9 1001.0,468.6 1001.4,469.5 1001.8,470.5 1002.2,471.7 1002.6,472.9 1003.0,474.2 1003.4,475.6 1003.8,476.9 1004.2,478.3 1004.6,479.7 1005.0,481.1 1005.4,482.5 1005.8,483.7 1006.2,485.0 1006.6,486.1 1007.0,487.1 1007.4,487.9 1007.8,488.7 1008.2,489.2 1008.6,489.6 1009.0,489.8 1009.4,489.8 1009.8,489.5 1010.2,489.1 1010.6,488.6 1011.0,487.9 1011.4,487.1 1011.8,486.1 1012.2,485.1 1012.6,484.1 1013.0,482.9 1013.4,481.8 1013.8,480.6 1014.2,479.4 1014.6,478.2 1015.0,477.0 1015.4,475.9 1015.8,474.8 1016.2,473.9 1016.6,473.0 1017.0,472.2 1017.4,471.6 1017.8,471.1 1018.2,470.8 1018.6,470.6 1019.0,470.6 1019.4,470.8 1019.8,471.1 1020.2,471.6 1020.6,472.1 1021.0,472.7 1021.4,473.5 1021.8,474.3 1022.2,475.1 1022.6,476.0 1023.0,477.0 1023.4,478.0 1023.8,478.9 1024.2,479.9 1024.6,480.9 1025.0,481.8 1025.4,482.7 1025.8,483.6 1026.2,484.4 1026.6,485.1 1027.0,485.7 1027.4,486.2 1027.8,486.6 1028.2,486.9 1028.6,487.1 1029.0,487.1 1029.4,486.9 1029.8,486.7 1030.2,486.3 1030.6,485.8 1031.0,485.2 1031.4,484.5 1031.8,483.8 1032.2,483.0 1032.6,482.2 1033.0,481.4 1033.4,480.5 1033.8,479.6 1034.2,478.7 1034.6,477.9 1035.0,477.0 1035.4,476.3 1035.8,475.5 1036.2,474.9 1036.6,474.3 1037.0,473.8 1037.4,473.4 1037.8,473.2 1038.2,473.0 1038.6,473.0 1039.0,473.1 1039.4,473.4 1039.8,473.7 1040.2,474.1 1040.6,474.6 1041.0,475.2 1041.4,475.9 1041.8,476.5 1042.2,477.3 1042.6,478.0 1043.0,478.8 1043.4,479.5 1043.8,480.3 1044.2,481.1 1044.6,481.8 1045.0,482.5 1045.4,483.1 1045.8,483.7 1046.2,484.2 1046.6,484.6 1047.0,484.9 1047.4,485.2 1047.8,485.3 1048.2,485.3 1048.6,485.2 1049.0,485.0 1049.4,484.7 1049.8,484.4 1050.2,483.9 1050.6,483.4 1051.0,482.9 1051.4,482.3 1051.8,481.7 1052.2,481.1 1052.6,480.4 1053.0,479.8 1053.4,479.1 1053.8,478.5 1054.2,477.8 1054.6,477.2 1055.0,476.7 1055.4,476.2 1055.8,475.7 1056.2,475.4 1056.6,475.1 1057.0,474.8 1057.4,474.7 1057.8,474.7" fill="none" stroke="#a5a5a5" stroke-width="1.8" stroke-linejoin="round" stroke-linecap="butt" clip-path="url(#clipi_b2)"/>
<rect x="862.4" y="421.8" width="194.69999999999993" height="115.49999999999994" fill="none" stroke="#000" stroke-width="1.7"/>
<line x1="858.40" y1="424.02" x2="862.40" y2="424.02" stroke="#000" stroke-width="1.7"/>
<text><tspan class="r" x="824.90" y="433.82" font-size="27.70" textLength="33.59" lengthAdjust="spacingAndGlyphs" stroke="#000" stroke-width="0.25">0.2</tspan></text>
<line x1="858.40" y1="479.72" x2="862.40" y2="479.72" stroke="#000" stroke-width="1.7"/>
<text><tspan class="r" x="844.08" y="489.52" font-size="27.70" textLength="13.99" lengthAdjust="spacingAndGlyphs" stroke="#000" stroke-width="0.25">0</tspan></text>
<line x1="858.40" y1="535.42" x2="862.40" y2="535.42" stroke="#000" stroke-width="1.7"/>
<text><tspan class="r" x="805.29" y="546.32" font-size="27.70" textLength="19.63" lengthAdjust="spacingAndGlyphs" stroke="#000" stroke-width="0.25">−</tspan><tspan class="r" x="824.90" y="545.22" font-size="27.70" textLength="33.59" lengthAdjust="spacingAndGlyphs" stroke="#000" stroke-width="0.25">0.2</tspan></text>
<line x1="859.70" y1="451.87" x2="862.40" y2="451.87" stroke="#000" stroke-width="1.7"/>
<line x1="859.70" y1="507.57" x2="862.40" y2="507.57" stroke="#000" stroke-width="1.7"/>
<line x1="881.40" y1="537.30" x2="881.40" y2="541.30" stroke="#000" stroke-width="1.7"/>
<text><tspan class="r" x="857.53" y="562.10" font-size="27.70" textLength="19.63" lengthAdjust="spacingAndGlyphs" stroke="#000" stroke-width="0.25">−</tspan><tspan class="r" x="877.62" y="561.00" font-size="27.70" textLength="27.98" lengthAdjust="spacingAndGlyphs" stroke="#000" stroke-width="0.25">40</tspan></text>
<line x1="959.52" y1="537.30" x2="959.52" y2="541.30" stroke="#000" stroke-width="1.7"/>
<text><tspan class="r" x="953.03" y="561.00" font-size="27.70" textLength="13.99" lengthAdjust="spacingAndGlyphs" stroke="#000" stroke-width="0.25">0</tspan></text>
<line x1="1037.64" y1="537.30" x2="1037.64" y2="541.30" stroke="#000" stroke-width="1.7"/>
<text><tspan class="r" x="1024.41" y="561.00" font-size="27.70" textLength="27.98" lengthAdjust="spacingAndGlyphs" stroke="#000" stroke-width="0.25">40</tspan></text>
<line x1="920.46" y1="537.30" x2="920.46" y2="540.00" stroke="#000" stroke-width="1.7"/>
<line x1="998.58" y1="537.30" x2="998.58" y2="540.00" stroke="#000" stroke-width="1.7"/>
<text><tspan class="r" x="904.28" y="584.80" font-size="31.60" textLength="111.44" lengthAdjust="spacingAndGlyphs" stroke="#000" stroke-width="0.25">Time (fs)</tspan></text>
<rect x="862.4" y="967.0" width="194.69999999999993" height="115.5" fill="#fff" stroke="none"/>
<clipPath id="clipi_b3"><rect x="862.4" y="967.0" width="194.69999999999993" height="115.5"/></clipPath>
<path d="M861.4,1019.0 861.8,1019.6 862.2,1020.2 862.6,1020.8 863.0,1021.4 863.4,1021.9 863.8,1022.4 864.2,1022.8 864.6,1023.2 865.0,1023.6 865.4,1023.8 865.8,1024.0 866.2,1024.1 866.6,1024.1 867.0,1024.0 867.4,1023.8 867.8,1023.5 868.2,1023.1 868.6,1022.7 869.0,1022.1 869.4,1021.6 869.8,1020.9 870.2,1020.3 870.6,1019.6 871.0,1018.9 871.4,1018.2 871.8,1017.5 872.2,1016.8 872.6,1016.1 873.0,1015.4 873.4,1014.8 873.8,1014.2 874.2,1013.7 874.6,1013.2 875.0,1012.8 875.4,1012.5 875.8,1012.3 876.2,1012.1 876.6,1012.1 877.0,1012.2 877.4,1012.5 877.8,1012.8 878.2,1013.2 878.6,1013.8 879.0,1014.4 879.4,1015.1 879.8,1015.8 880.2,1016.6 880.6,1017.4 881.0,1018.2 881.4,1019.0 881.8,1019.8 882.2,1020.6 882.6,1021.4 883.0,1022.2 883.4,1022.9 883.8,1023.5 884.2,1024.1 884.6,1024.6 885.0,1024.9 885.4,1025.2 885.8,1025.4 886.2,1025.4 886.6,1025.3 887.0,1025.0 887.4,1024.7 887.8,1024.2 888.2,1023.7 888.6,1023.0 889.0,1022.3 889.4,1021.5 889.8,1020.7 890.2,1019.8 890.6,1018.9 891.0,1018.0 891.4,1017.2 891.8,1016.3 892.2,1015.4 892.6,1014.6 893.0,1013.8 893.4,1013.1 893.8,1012.4 894.2,1011.8 894.6,1011.3 895.0,1010.9 895.4,1010.7 895.8,1010.5 896.2,1010.5 896.6,1010.7 897.0,1011.1 897.4,1011.6 897.8,1012.3 898.2,1013.0 898.6,1013.9 899.0,1014.9 899.4,1015.9 899.8,1017.0 900.2,1018.1 900.6,1019.3 901.0,1020.4 901.4,1021.6 901.8,1022.7 902.2,1023.7 902.6,1024.7 903.0,1025.6 903.4,1026.4 903.8,1027.1 904.2,1027.6 904.6,1028.0 905.0,1028.2 905.4,1028.3 905.8,1028.1 906.2,1027.8 906.6,1027.2 907.0,1026.6 907.4,1025.8 907.8,1024.9 908.2,1023.8 908.6,1022.7 909.0,1021.5 909.4,1020.3 909.8,1019.1 910.2,1017.8 910.6,1016.5 911.0,1015.2 911.4,1014.0 911.8,1012.8 912.2,1011.7 912.6,1010.6 913.0,1009.7 913.4,1008.8 913.8,1008.2 914.2,1007.6 914.6,1007.2 915.0,1007.0 915.4,1007.0 915.8,1007.3 916.2,1007.8 916.6,1008.5 917.0,1009.4 917.4,1010.5 917.8,1011.8 918.2,1013.1 918.6,1014.6 919.0,1016.1 919.4,1017.7 919.8,1019.4 920.2,1021.0 920.6,1022.7 921.0,1024.3 921.4,1025.8 921.8,1027.3 922.2,1028.6 922.6,1029.9 923.0,1031.0 923.4,1031.9 923.8,1032.6 924.2,1033.1 924.6,1033.4 925.0,1033.4 925.4,1033.0 925.8,1032.4 926.2,1031.6 926.6,1030.4 927.0,1029.1 927.4,1027.6 927.8,1025.9 928.2,1024.1 928.6,1022.2 929.0,1020.2 929.4,1018.2 929.8,1016.2 930.2,1014.1 930.6,1012.1 931.0,1010.1 931.4,1008.2 931.8,1006.4 932.2,1004.8 932.6,1003.3 933.0,1002.0 933.4,1001.0 933.8,1000.1 934.2,999.6 934.6,999.3 935.0,999.5 935.4,1000.1 935.8,1001.3 936.2,1002.8 936.6,1004.8 937.0,1007.1 937.4,1009.7 937.8,1012.5 938.2,1015.5 938.6,1018.6 939.0,1021.8 939.4,1025.0 939.8,1028.2 940.2,1031.3 940.6,1034.3 941.0,1037.1 941.4,1039.7 941.8,1042.0 942.2,1044.0 942.6,1045.5 943.0,1046.7 943.4,1047.3 943.8,1047.4 944.2,1046.7 944.6,1045.1 945.0,1042.8 945.4,1039.8 945.8,1036.2 946.2,1032.1 946.6,1027.6 947.0,1022.8 947.4,1017.8 947.8,1012.6 948.2,1007.4 948.6,1002.3 949.0,997.3 949.4,992.5 949.8,988.0 950.2,983.9 950.6,980.3 951.0,977.3 951.4,975.0 951.8,973.4 952.2,972.6 952.6,973.1 953.0,975.2 953.4,979.0 953.8,984.1 954.2,990.3 954.6,997.5 955.0,1005.4 955.4,1013.7 955.8,1022.4 956.2,1031.1 956.6,1039.7 957.0,1047.9 957.4,1055.5 957.8,1062.3 958.2,1068.1 958.6,1072.7 959.0,1075.8 959.4,1077.3 959.8,1077.0 960.2,1074.9 960.6,1071.3 961.0,1066.4 961.4,1060.4 961.8,1053.5 962.2,1045.8 962.6,1037.7 963.0,1029.3 963.4,1020.7 963.8,1012.3 964.2,1004.2 964.6,996.5 965.0,989.6 965.4,983.6 965.8,978.7 966.2,975.1 966.6,973.0 967.0,972.6 967.4,973.4 967.8,975.0 968.2,977.3 968.6,980.3 969.0,983.9 969.4,988.0 969.8,992.5 970.2,997.3 970.6,1002.3 971.0,1007.4 971.4,1012.6 971.8,1017.8 972.2,1022.8 972.6,1027.6 973.0,1032.1 973.4,1036.2 973.8,1039.8 974.2,1042.8 974.6,1045.1 975.0,1046.7 975.4,1047.4 975.8,1047.4 976.2,1046.8 976.6,1045.8 977.0,1044.4 977.4,1042.7 977.8,1040.6 978.2,1038.3 978.6,1035.8 979.0,1033.1 979.4,1030.2 979.8,1027.3 980.2,1024.3 980.6,1021.3 981.0,1018.3 981.4,1015.4 981.8,1012.6 982.2,1010.0 982.6,1007.5 983.0,1005.3 983.4,1003.4 983.8,1001.8 984.2,1000.6 984.6,999.7 985.0,999.3 985.4,999.4 985.8,999.8 986.2,1000.6 986.6,1001.6 987.0,1002.9 987.4,1004.5 987.8,1006.2 988.2,1008.1 988.6,1010.1 989.0,1012.2 989.4,1014.4 989.8,1016.6 990.2,1018.8 990.6,1020.9 991.0,1023.0 991.4,1025.0 991.8,1026.9 992.2,1028.6 992.6,1030.1 993.0,1031.3 993.4,1032.3 993.8,1033.0 994.2,1033.4 994.6,1033.4 995.0,1033.1 995.4,1032.6 995.8,1032.0 996.2,1031.1 996.6,1030.1 997.0,1028.9 997.4,1027.6 997.8,1026.2 998.2,1024.7 998.6,1023.2 999.0,1021.6 999.4,1020.0 999.8,1018.4 1000.2,1016.9 1000.6,1015.4 1001.0,1013.9 1001.4,1012.5 1001.8,1011.2 1002.2,1010.1 1002.6,1009.1 1003.0,1008.3 1003.4,1007.6 1003.8,1007.2 1004.2,1007.0 1004.6,1007.1 1005.0,1007.3 1005.4,1007.7 1005.8,1008.4 1006.2,1009.1 1006.6,1010.0 1007.0,1011.0 1007.4,1012.2 1007.8,1013.4 1008.2,1014.6 1008.6,1015.9 1009.0,1017.2 1009.4,1018.6 1009.8,1019.9 1010.2,1021.2 1010.6,1022.4 1011.0,1023.6 1011.4,1024.7 1011.8,1025.6 1012.2,1026.5 1012.6,1027.2 1013.0,1027.7 1013.4,1028.1 1013.8,1028.3 1014.2,1028.2 1014.6,1028.0 1015.0,1027.7 1015.4,1027.2 1015.8,1026.6 1016.2,1025.8 1016.6,1025.0 1017.0,1024.1 1017.4,1023.1 1017.8,1022.1 1018.2,1021.0 1018.6,1019.9 1019.0,1018.9 1019.4,1017.8 1019.8,1016.7 1020.2,1015.7 1020.6,1014.7 1021.0,1013.8 1021.4,1013.0 1021.8,1012.2 1022.2,1011.6 1022.6,1011.1 1023.0,1010.8 1023.4,1010.6 1023.8,1010.5 1024.2,1010.6 1024.6,1010.9 1025.0,1011.2 1025.4,1011.7 1025.8,1012.3 1026.2,1012.9 1026.6,1013.6 1027.0,1014.4 1027.4,1015.2 1027.8,1016.1 1028.2,1017.0 1028.6,1017.9 1029.0,1018.8 1029.4,1019.7 1029.8,1020.5 1030.2,1021.4 1030.6,1022.1 1031.0,1022.9 1031.4,1023.5 1031.8,1024.1 1032.2,1024.6 1032.6,1025.0 1033.0,1025.2 1033.4,1025.4 1033.8,1025.4 1034.2,1025.3 1034.6,1025.0 1035.0,1024.6 1035.4,1024.2 1035.8,1023.6 1036.2,1023.0 1036.6,1022.3 1037.0,1021.6 1037.4,1020.8 1037.8,1020.0 1038.2,1019.2 1038.6,1018.3 1039.0,1017.5 1039.4,1016.7 1039.8,1015.9 1040.2,1015.2 1040.6,1014.5 1041.0,1013.9 1041.4,1013.3 1041.8,1012.9 1042.2,1012.5 1042.6,1012.3 1043.0,1012.1 1043.4,1012.1 1043.8,1012.2 1044.2,1012.5 1044.6,1012.8 1045.0,1013.1 1045.4,1013.6 1045.8,1014.1 1046.2,1014.7 1046.6,1015.3 1047.0,1016.0 1047.4,1016.6 1047.8,1017.3 1048.2,1018.0 1048.6,1018.8 1049.0,1019.5 1049.4,1020.2 1049.8,1020.8 1050.2,1021.4 1050.6,1022.0 1051.0,1022.6 1051.4,1023.0 1051.8,1023.4 1052.2,1023.7 1052.6,1024.0 1053.0,1024.1 1053.4,1024.1 1053.8,1024.0 1054.2,1023.9 1054.6,1023.6 1055.0,1023.3 1055.4,1022.9 1055.8,1022.5 1056.2,1022.0 1056.6,1021.5 1057.0,1020.9 1057.4,1020.3 1057.8,1019.7" fill="none" stroke="#a5a5a5" stroke-width="1.8" stroke-linejoin="round" stroke-linecap="butt" clip-path="url(#clipi_b3)"/>
<rect x="862.4" y="967.0" width="194.69999999999993" height="115.5" fill="none" stroke="#000" stroke-width="1.7"/>
<line x1="858.40" y1="970.20" x2="862.40" y2="970.20" stroke="#000" stroke-width="1.7"/>
<text><tspan class="r" x="823.83" y="980.00" font-size="27.70" textLength="33.59" lengthAdjust="spacingAndGlyphs" stroke="#000" stroke-width="0.25">0.4</tspan></text>
<line x1="858.40" y1="1019.00" x2="862.40" y2="1019.00" stroke="#000" stroke-width="1.7"/>
<text><tspan class="r" x="844.08" y="1028.80" font-size="27.70" textLength="13.99" lengthAdjust="spacingAndGlyphs" stroke="#000" stroke-width="0.25">0</tspan></text>
<line x1="858.40" y1="1067.80" x2="862.40" y2="1067.80" stroke="#000" stroke-width="1.7"/>
<text><tspan class="r" x="804.22" y="1078.70" font-size="27.70" textLength="19.63" lengthAdjust="spacingAndGlyphs" stroke="#000" stroke-width="0.25">−</tspan><tspan class="r" x="823.83" y="1077.60" font-size="27.70" textLength="33.59" lengthAdjust="spacingAndGlyphs" stroke="#000" stroke-width="0.25">0.4</tspan></text>
<line x1="859.70" y1="994.60" x2="862.40" y2="994.60" stroke="#000" stroke-width="1.7"/>
<line x1="859.70" y1="1043.40" x2="862.40" y2="1043.40" stroke="#000" stroke-width="1.7"/>
<line x1="881.40" y1="1082.50" x2="881.40" y2="1086.50" stroke="#000" stroke-width="1.7"/>
<text><tspan class="r" x="857.53" y="1107.30" font-size="27.70" textLength="19.63" lengthAdjust="spacingAndGlyphs" stroke="#000" stroke-width="0.25">−</tspan><tspan class="r" x="877.62" y="1106.20" font-size="27.70" textLength="27.98" lengthAdjust="spacingAndGlyphs" stroke="#000" stroke-width="0.25">40</tspan></text>
<line x1="959.52" y1="1082.50" x2="959.52" y2="1086.50" stroke="#000" stroke-width="1.7"/>
<text><tspan class="r" x="953.03" y="1106.20" font-size="27.70" textLength="13.99" lengthAdjust="spacingAndGlyphs" stroke="#000" stroke-width="0.25">0</tspan></text>
<line x1="1037.64" y1="1082.50" x2="1037.64" y2="1086.50" stroke="#000" stroke-width="1.7"/>
<text><tspan class="r" x="1024.41" y="1106.20" font-size="27.70" textLength="27.98" lengthAdjust="spacingAndGlyphs" stroke="#000" stroke-width="0.25">40</tspan></text>
<line x1="920.46" y1="1082.50" x2="920.46" y2="1085.20" stroke="#000" stroke-width="1.7"/>
<line x1="998.58" y1="1082.50" x2="998.58" y2="1085.20" stroke="#000" stroke-width="1.7"/>
<text><tspan class="r" x="904.28" y="1130.00" font-size="31.60" textLength="111.44" lengthAdjust="spacingAndGlyphs" stroke="#000" stroke-width="0.25">Time (fs)</tspan></text>
<rect x="1522.1" y="241.8" width="194.9000000000001" height="115.5" fill="#fff" stroke="none"/>
<clipPath id="clipi_c1"><rect x="1522.1" y="241.8" width="194.9000000000001" height="115.5"/></clipPath>
<path d="M1521.1,305.0 1521.5,305.0 1521.9,305.0 1522.3,304.8 1522.7,304.5 1523.1,304.1 1523.5,303.7 1523.9,303.2 1524.3,302.6 1524.7,302.0 1525.1,301.4 1525.5,300.7 1525.9,300.0 1526.3,299.3 1526.7,298.6 1527.1,297.9 1527.5,297.3 1527.9,296.6 1528.3,296.0 1528.7,295.5 1529.1,295.0 1529.5,294.6 1529.9,294.3 1530.3,294.0 1530.7,293.9 1531.1,293.8 1531.5,293.9 1531.9,294.1 1532.3,294.4 1532.7,294.7 1533.1,295.2 1533.5,295.8 1533.9,296.4 1534.3,297.1 1534.7,297.8 1535.1,298.5 1535.5,299.3 1535.9,300.1 1536.3,300.9 1536.7,301.6 1537.1,302.4 1537.5,303.1 1537.9,303.7 1538.3,304.4 1538.7,304.9 1539.1,305.4 1539.5,305.8 1539.9,306.0 1540.3,306.2 1540.7,306.3 1541.1,306.2 1541.5,306.0 1541.9,305.7 1542.3,305.3 1542.7,304.8 1543.1,304.2 1543.5,303.5 1543.9,302.8 1544.3,302.0 1544.7,301.2 1545.1,300.4 1545.5,299.5 1545.9,298.7 1546.3,297.8 1546.7,297.0 1547.1,296.2 1547.5,295.5 1547.9,294.8 1548.3,294.1 1548.7,293.6 1549.1,293.1 1549.5,292.7 1549.9,292.4 1550.3,292.2 1550.7,292.2 1551.1,292.3 1551.5,292.6 1551.9,293.0 1552.3,293.6 1552.7,294.2 1553.1,294.9 1553.5,295.8 1553.9,296.7 1554.3,297.6 1554.7,298.6 1555.1,299.6 1555.5,300.6 1555.9,301.6 1556.3,302.6 1556.7,303.6 1557.1,304.5 1557.5,305.4 1557.9,306.2 1558.3,306.9 1558.7,307.4 1559.1,307.9 1559.5,308.3 1559.9,308.5 1560.3,308.5 1560.7,308.4 1561.1,308.1 1561.5,307.6 1561.9,307.1 1562.3,306.4 1562.7,305.6 1563.1,304.7 1563.5,303.7 1563.9,302.7 1564.3,301.6 1564.7,300.5 1565.1,299.3 1565.5,298.2 1565.9,297.0 1566.3,295.9 1566.7,294.9 1567.1,293.8 1567.5,292.9 1567.9,292.0 1568.3,291.3 1568.7,290.6 1569.1,290.0 1569.5,289.6 1569.9,289.4 1570.3,289.3 1570.7,289.5 1571.1,289.8 1571.5,290.4 1571.9,291.1 1572.3,292.1 1572.7,293.1 1573.1,294.3 1573.5,295.6 1573.9,296.9 1574.3,298.4 1574.7,299.8 1575.1,301.3 1575.5,302.8 1575.9,304.2 1576.3,305.6 1576.7,306.9 1577.1,308.2 1577.5,309.3 1577.9,310.3 1578.3,311.1 1578.7,311.8 1579.1,312.2 1579.5,312.5 1579.9,312.5 1580.3,312.2 1580.7,311.7 1581.1,310.9 1581.5,309.8 1581.9,308.6 1582.3,307.3 1582.7,305.7 1583.1,304.1 1583.5,302.4 1583.9,300.6 1584.3,298.7 1584.7,296.9 1585.1,295.1 1585.5,293.3 1585.9,291.5 1586.3,289.9 1586.7,288.3 1587.1,286.9 1587.5,285.7 1587.9,284.7 1588.3,283.9 1588.7,283.3 1589.1,283.0 1589.5,283.0 1589.9,283.4 1590.3,284.2 1590.7,285.3 1591.1,286.7 1591.5,288.5 1591.9,290.4 1592.3,292.6 1592.7,294.9 1593.1,297.3 1593.5,299.8 1593.9,302.4 1594.3,304.9 1594.7,307.5 1595.1,309.9 1595.5,312.3 1595.9,314.5 1596.3,316.5 1596.7,318.3 1597.1,319.8 1597.5,321.1 1597.9,322.0 1598.3,322.5 1598.7,322.6 1599.1,322.1 1599.5,321.0 1599.9,319.4 1600.3,317.3 1600.7,314.8 1601.1,311.9 1601.5,308.7 1601.9,305.3 1602.3,301.7 1602.7,297.9 1603.1,294.1 1603.5,290.3 1603.9,286.6 1604.3,282.9 1604.7,279.4 1605.1,276.1 1605.5,273.2 1605.9,270.5 1606.3,268.3 1606.7,266.5 1607.1,265.3 1607.5,264.6 1607.9,264.7 1608.3,265.9 1608.7,268.4 1609.1,272.0 1609.5,276.4 1609.9,281.6 1610.3,287.5 1610.7,293.8 1611.1,300.4 1611.5,307.2 1611.9,314.0 1612.3,320.7 1612.7,327.1 1613.1,333.1 1613.5,338.5 1613.9,343.2 1614.3,347.0 1614.7,349.8 1615.1,351.5 1615.5,351.8 1615.9,350.6 1616.3,347.8 1616.7,343.6 1617.1,338.3 1617.5,332.0 1617.9,325.0 1618.3,317.4 1618.7,309.3 1619.1,301.0 1619.5,292.8 1619.9,284.6 1620.3,276.8 1620.7,269.6 1621.1,263.1 1621.5,257.5 1621.9,252.9 1622.3,249.7 1622.7,248.0 1623.1,247.9 1623.5,249.1 1623.9,251.6 1624.3,255.2 1624.7,259.6 1625.1,264.8 1625.5,270.6 1625.9,276.9 1626.3,283.5 1626.7,290.3 1627.1,297.1 1627.5,303.8 1627.9,310.2 1628.3,316.1 1628.7,321.5 1629.1,326.2 1629.5,330.1 1629.9,332.9 1630.3,334.5 1630.7,334.9 1631.1,334.4 1631.5,333.4 1631.9,331.8 1632.3,329.8 1632.7,327.3 1633.1,324.5 1633.5,321.4 1633.9,318.1 1634.3,314.5 1634.7,310.9 1635.1,307.1 1635.5,303.4 1635.9,299.6 1636.3,296.0 1636.7,292.5 1637.1,289.2 1637.5,286.2 1637.9,283.5 1638.3,281.2 1638.7,279.3 1639.1,277.8 1639.5,277.0 1639.9,276.7 1640.3,276.9 1640.7,277.5 1641.1,278.4 1641.5,279.7 1641.9,281.2 1642.3,283.0 1642.7,285.0 1643.1,287.1 1643.5,289.4 1643.9,291.8 1644.3,294.2 1644.7,296.7 1645.1,299.2 1645.5,301.7 1645.9,304.0 1646.3,306.3 1646.7,308.4 1647.1,310.4 1647.5,312.1 1647.9,313.6 1648.3,314.9 1648.7,315.8 1649.1,316.3 1649.5,316.5 1649.9,316.4 1650.3,315.9 1650.7,315.2 1651.1,314.3 1651.5,313.1 1651.9,311.8 1652.3,310.3 1652.7,308.7 1653.1,307.0 1653.5,305.2 1653.9,303.3 1654.3,301.5 1654.7,299.6 1655.1,297.8 1655.5,296.0 1655.9,294.3 1656.3,292.7 1656.7,291.2 1657.1,289.9 1657.5,288.8 1657.9,287.8 1658.3,287.2 1658.7,286.7 1659.1,286.6 1659.5,286.7 1659.9,287.1 1660.3,287.6 1660.7,288.3 1661.1,289.1 1661.5,290.1 1661.9,291.2 1662.3,292.4 1662.7,293.7 1663.1,295.1 1663.5,296.4 1663.9,297.9 1664.3,299.3 1664.7,300.7 1665.1,302.1 1665.5,303.4 1665.9,304.7 1666.3,305.8 1666.7,306.9 1667.1,307.9 1667.5,308.7 1667.9,309.3 1668.3,309.8 1668.7,310.1 1669.1,310.1 1669.5,310.0 1669.9,309.6 1670.3,309.1 1670.7,308.5 1671.1,307.7 1671.5,306.8 1671.9,305.9 1672.3,304.8 1672.7,303.7 1673.1,302.5 1673.5,301.3 1673.9,300.1 1674.3,298.8 1674.7,297.6 1675.1,296.5 1675.5,295.4 1675.9,294.4 1676.3,293.4 1676.7,292.6 1677.1,291.9 1677.5,291.3 1677.9,290.9 1678.3,290.7 1678.7,290.6 1679.1,290.7 1679.5,291.0 1679.9,291.4 1680.3,292.0 1680.7,292.7 1681.1,293.4 1681.5,294.3 1681.9,295.2 1682.3,296.2 1682.7,297.2 1683.1,298.2 1683.5,299.3 1683.9,300.3 1684.3,301.3 1684.7,302.3 1685.1,303.3 1685.5,304.2 1685.9,305.0 1686.3,305.7 1686.7,306.3 1687.1,306.8 1687.5,307.1 1687.9,307.4 1688.3,307.4 1688.7,307.3 1689.1,307.1 1689.5,306.7 1689.9,306.3 1690.3,305.7 1690.7,305.1 1691.1,304.4 1691.5,303.7 1691.9,302.9 1692.3,302.1 1692.7,301.2 1693.1,300.3 1693.5,299.5 1693.9,298.6 1694.3,297.8 1694.7,297.0 1695.1,296.2 1695.5,295.5 1695.9,294.8 1696.3,294.3 1696.7,293.8 1697.1,293.4 1697.5,293.2 1697.9,293.0 1698.3,293.0 1698.7,293.1 1699.1,293.4 1699.5,293.7 1699.9,294.2 1700.3,294.7 1700.7,295.3 1701.1,295.9 1701.5,296.6 1701.9,297.4 1702.3,298.2 1702.7,299.0 1703.1,299.8 1703.5,300.6 1703.9,301.3 1704.3,302.1 1704.7,302.8 1705.1,303.5 1705.5,304.1 1705.9,304.6 1706.3,305.0 1706.7,305.4 1707.1,305.6 1707.5,305.8 1707.9,305.8 1708.3,305.7 1708.7,305.5 1709.1,305.2 1709.5,304.8 1709.9,304.3 1710.3,303.8 1710.7,303.2 1711.1,302.6 1711.5,301.9 1711.9,301.2 1712.3,300.5 1712.7,299.8 1713.1,299.1 1713.5,298.4 1713.9,297.7 1714.3,297.1 1714.7,296.5 1715.1,295.9 1715.5,295.4 1715.9,295.0 1716.3,294.7 1716.7,294.4 1717.1,294.3 1717.5,294.2 1717.9,294.3" fill="none" stroke="#a5a5a5" stroke-width="1.8" stroke-linejoin="round" stroke-linecap="butt" clip-path="url(#clipi_c1)"/>
<rect x="1522.1" y="241.8" width="194.9000000000001" height="115.5" fill="none" stroke="#000" stroke-width="1.7"/>
<line x1="1518.10" y1="261.32" x2="1522.10" y2="261.32" stroke="#000" stroke-width="1.7"/>
<text><tspan class="r" x="1484.73" y="271.12" font-size="27.70" textLength="33.59" lengthAdjust="spacingAndGlyphs" stroke="#000" stroke-width="0.25">0.1</tspan></text>
<line x1="1518.10" y1="299.72" x2="1522.10" y2="299.72" stroke="#000" stroke-width="1.7"/>
<text><tspan class="r" x="1503.78" y="309.52" font-size="27.70" textLength="13.99" lengthAdjust="spacingAndGlyphs" stroke="#000" stroke-width="0.25">0</tspan></text>
<line x1="1518.10" y1="338.12" x2="1522.10" y2="338.12" stroke="#000" stroke-width="1.7"/>
<text><tspan class="r" x="1465.12" y="349.02" font-size="27.70" textLength="19.63" lengthAdjust="spacingAndGlyphs" stroke="#000" stroke-width="0.25">−</tspan><tspan class="r" x="1484.73" y="347.92" font-size="27.70" textLength="33.59" lengthAdjust="spacingAndGlyphs" stroke="#000" stroke-width="0.25">0.1</tspan></text>
<line x1="1541.28" y1="357.30" x2="1541.28" y2="361.30" stroke="#000" stroke-width="1.7"/>
<text><tspan class="r" x="1517.41" y="382.10" font-size="27.70" textLength="19.63" lengthAdjust="spacingAndGlyphs" stroke="#000" stroke-width="0.25">−</tspan><tspan class="r" x="1537.50" y="381.00" font-size="27.70" textLength="27.98" lengthAdjust="spacingAndGlyphs" stroke="#000" stroke-width="0.25">40</tspan></text>
<line x1="1619.40" y1="357.30" x2="1619.40" y2="361.30" stroke="#000" stroke-width="1.7"/>
<text><tspan class="r" x="1612.91" y="381.00" font-size="27.70" textLength="13.99" lengthAdjust="spacingAndGlyphs" stroke="#000" stroke-width="0.25">0</tspan></text>
<line x1="1697.52" y1="357.30" x2="1697.52" y2="361.30" stroke="#000" stroke-width="1.7"/>
<text><tspan class="r" x="1684.29" y="381.00" font-size="27.70" textLength="27.98" lengthAdjust="spacingAndGlyphs" stroke="#000" stroke-width="0.25">40</tspan></text>
<line x1="1580.34" y1="357.30" x2="1580.34" y2="360.00" stroke="#000" stroke-width="1.7"/>
<line x1="1658.46" y1="357.30" x2="1658.46" y2="360.00" stroke="#000" stroke-width="1.7"/>
<text><tspan class="r" x="1564.16" y="404.80" font-size="31.60" textLength="111.44" lengthAdjust="spacingAndGlyphs" stroke="#000" stroke-width="0.25">Time (fs)</tspan></text>
<rect x="1522.1" y="428.8" width="194.9000000000001" height="115.49999999999994" fill="#fff" stroke="none"/>
<clipPath id="clipi_c2"><rect x="1522.1" y="428.8" width="194.9000000000001" height="115.49999999999994"/></clipPath>
<path d="M1521.1,492.8 1521.5,492.1 1521.9,491.4 1522.3,490.8 1522.7,490.2 1523.1,489.6 1523.5,489.0 1523.9,488.5 1524.3,488.0 1524.7,487.6 1525.1,487.3 1525.5,487.1 1525.9,486.9 1526.3,486.9 1526.7,486.9 1527.1,487.1 1527.5,487.4 1527.9,487.8 1528.3,488.3 1528.7,488.8 1529.1,489.4 1529.5,490.1 1529.9,490.8 1530.3,491.6 1530.7,492.3 1531.1,493.1 1531.5,493.8 1531.9,494.6 1532.3,495.3 1532.7,496.0 1533.1,496.7 1533.5,497.3 1533.9,497.8 1534.3,498.3 1534.7,498.7 1535.1,499.0 1535.5,499.1 1535.9,499.2 1536.3,499.1 1536.7,498.9 1537.1,498.6 1537.5,498.2 1537.9,497.7 1538.3,497.2 1538.7,496.5 1539.1,495.8 1539.5,495.1 1539.9,494.3 1540.3,493.5 1540.7,492.7 1541.1,491.9 1541.5,491.1 1541.9,490.3 1542.3,489.5 1542.7,488.8 1543.1,488.1 1543.5,487.5 1543.9,486.9 1544.3,486.4 1544.7,486.1 1545.1,485.8 1545.5,485.6 1545.9,485.6 1546.3,485.7 1546.7,486.0 1547.1,486.4 1547.5,486.9 1547.9,487.5 1548.3,488.2 1548.7,488.9 1549.1,489.8 1549.5,490.6 1549.9,491.5 1550.3,492.5 1550.7,493.4 1551.1,494.4 1551.5,495.3 1551.9,496.2 1552.3,497.1 1552.7,497.9 1553.1,498.6 1553.5,499.2 1553.9,499.8 1554.3,500.2 1554.7,500.6 1555.1,500.8 1555.5,500.8 1555.9,500.7 1556.3,500.4 1556.7,500.0 1557.1,499.4 1557.5,498.8 1557.9,498.0 1558.3,497.2 1558.7,496.3 1559.1,495.3 1559.5,494.3 1559.9,493.2 1560.3,492.1 1560.7,491.1 1561.1,490.0 1561.5,489.0 1561.9,487.9 1562.3,487.0 1562.7,486.1 1563.1,485.3 1563.5,484.5 1563.9,483.9 1564.3,483.4 1564.7,483.0 1565.1,482.8 1565.5,482.7 1565.9,482.8 1566.3,483.2 1566.7,483.7 1567.1,484.4 1567.5,485.3 1567.9,486.3 1568.3,487.4 1568.7,488.5 1569.1,489.8 1569.5,491.1 1569.9,492.5 1570.3,493.9 1570.7,495.2 1571.1,496.6 1571.5,497.9 1571.9,499.1 1572.3,500.3 1572.7,501.3 1573.1,502.2 1573.5,503.0 1573.9,503.6 1574.3,504.1 1574.7,504.3 1575.1,504.3 1575.5,504.0 1575.9,503.6 1576.3,502.9 1576.7,502.0 1577.1,500.9 1577.5,499.7 1577.9,498.4 1578.3,496.9 1578.7,495.4 1579.1,493.8 1579.5,492.2 1579.9,490.5 1580.3,488.9 1580.7,487.3 1581.1,485.7 1581.5,484.3 1581.9,482.9 1582.3,481.6 1582.7,480.5 1583.1,479.5 1583.5,478.7 1583.9,478.1 1584.3,477.7 1584.7,477.6 1585.1,477.8 1585.5,478.3 1585.9,479.2 1586.3,480.3 1586.7,481.7 1587.1,483.3 1587.5,485.1 1587.9,487.0 1588.3,489.1 1588.7,491.2 1589.1,493.4 1589.5,495.6 1589.9,497.8 1590.3,500.0 1590.7,502.1 1591.1,504.1 1591.5,505.9 1591.9,507.6 1592.3,509.1 1592.7,510.3 1593.1,511.3 1593.5,512.0 1593.9,512.4 1594.3,512.4 1594.7,511.9 1595.1,511.0 1595.5,509.6 1595.9,507.8 1596.3,505.7 1596.7,503.3 1597.1,500.6 1597.5,497.8 1597.9,494.8 1598.3,491.7 1598.7,488.6 1599.1,485.4 1599.5,482.3 1599.9,479.3 1600.3,476.4 1600.7,473.7 1601.1,471.2 1601.5,469.0 1601.9,467.1 1602.3,465.6 1602.7,464.5 1603.1,463.8 1603.5,463.7 1603.9,464.4 1604.3,466.0 1604.7,468.4 1605.1,471.5 1605.5,475.2 1605.9,479.3 1606.3,483.9 1606.7,488.8 1607.1,493.9 1607.5,499.2 1607.9,504.5 1608.3,509.7 1608.7,514.8 1609.1,519.6 1609.5,524.0 1609.9,528.1 1610.3,531.6 1610.7,534.5 1611.1,536.6 1611.5,538.0 1611.9,538.4 1612.3,537.5 1612.7,535.0 1613.1,531.1 1613.5,526.0 1613.9,519.9 1614.3,513.0 1614.7,505.5 1615.1,497.5 1615.5,489.3 1615.9,481.0 1616.3,472.8 1616.7,465.0 1617.1,457.6 1617.5,451.0 1617.9,445.2 1618.3,440.4 1618.7,436.9 1619.1,434.9 1619.5,434.5 1619.9,435.8 1620.3,438.9 1620.7,443.3 1621.1,449.1 1621.5,455.8 1621.9,463.3 1622.3,471.4 1622.7,479.9 1623.1,488.6 1623.5,497.2 1623.9,505.5 1624.3,513.3 1624.7,520.5 1625.1,526.7 1625.5,531.9 1625.9,535.6 1626.3,537.9 1626.7,538.4 1627.1,537.7 1627.5,536.2 1627.9,534.0 1628.3,531.1 1628.7,527.7 1629.1,523.7 1629.5,519.4 1629.9,514.8 1630.3,509.9 1630.7,504.9 1631.1,499.8 1631.5,494.7 1631.9,489.7 1632.3,485.0 1632.7,480.5 1633.1,476.3 1633.5,472.6 1633.9,469.5 1634.3,466.9 1634.7,465.0 1635.1,463.9 1635.5,463.7 1635.9,464.1 1636.3,465.0 1636.7,466.4 1637.1,468.1 1637.5,470.3 1637.9,472.7 1638.3,475.3 1638.7,478.2 1639.1,481.3 1639.5,484.4 1639.9,487.6 1640.3,490.8 1640.7,494.0 1641.1,497.0 1641.5,500.0 1641.9,502.7 1642.3,505.2 1642.7,507.4 1643.1,509.3 1643.5,510.8 1643.9,511.8 1644.3,512.4 1644.7,512.4 1645.1,512.1 1645.5,511.5 1645.9,510.6 1646.3,509.4 1646.7,508.0 1647.1,506.5 1647.5,504.7 1647.9,502.8 1648.3,500.8 1648.7,498.8 1649.1,496.6 1649.5,494.5 1649.9,492.4 1650.3,490.3 1650.7,488.2 1651.1,486.3 1651.5,484.5 1651.9,482.8 1652.3,481.3 1652.7,480.0 1653.1,479.0 1653.5,478.2 1653.9,477.8 1654.3,477.6 1654.7,477.7 1655.1,478.1 1655.5,478.7 1655.9,479.5 1656.3,480.5 1656.7,481.6 1657.1,482.9 1657.5,484.2 1657.9,485.7 1658.3,487.2 1658.7,488.8 1659.1,490.4 1659.5,492.0 1659.9,493.6 1660.3,495.2 1660.7,496.7 1661.1,498.1 1661.5,499.5 1661.9,500.7 1662.3,501.8 1662.7,502.7 1663.1,503.4 1663.5,503.9 1663.9,504.2 1664.3,504.3 1664.7,504.2 1665.1,503.8 1665.5,503.2 1665.9,502.5 1666.3,501.7 1666.7,500.7 1667.1,499.6 1667.5,498.4 1667.9,497.2 1668.3,495.9 1668.7,494.5 1669.1,493.2 1669.5,491.8 1669.9,490.5 1670.3,489.2 1670.7,488.0 1671.1,486.9 1671.5,485.8 1671.9,484.9 1672.3,484.1 1672.7,483.5 1673.1,483.0 1673.5,482.8 1673.9,482.7 1674.3,482.9 1674.7,483.2 1675.1,483.6 1675.5,484.2 1675.9,484.9 1676.3,485.8 1676.7,486.7 1677.1,487.7 1677.5,488.7 1677.9,489.8 1678.3,490.9 1678.7,492.0 1679.1,493.2 1679.5,494.3 1679.9,495.3 1680.3,496.4 1680.7,497.3 1681.1,498.2 1681.5,499.0 1681.9,499.6 1682.3,500.1 1682.7,500.5 1683.1,500.7 1683.5,500.8 1683.9,500.7 1684.3,500.4 1684.7,500.1 1685.1,499.6 1685.5,499.0 1685.9,498.4 1686.3,497.7 1686.7,496.9 1687.1,496.0 1687.5,495.2 1687.9,494.3 1688.3,493.3 1688.7,492.4 1689.1,491.5 1689.5,490.6 1689.9,489.8 1690.3,489.0 1690.7,488.2 1691.1,487.5 1691.5,486.9 1691.9,486.4 1692.3,486.0 1692.7,485.8 1693.1,485.6 1693.5,485.6 1693.9,485.7 1694.3,486.0 1694.7,486.4 1695.1,486.8 1695.5,487.4 1695.9,488.0 1696.3,488.7 1696.7,489.5 1697.1,490.3 1697.5,491.1 1697.9,491.9 1698.3,492.8 1698.7,493.6 1699.1,494.5 1699.5,495.3 1699.9,496.0 1700.3,496.7 1700.7,497.4 1701.1,497.9 1701.5,498.4 1701.9,498.8 1702.3,499.0 1702.7,499.2 1703.1,499.2 1703.5,499.1 1703.9,498.9 1704.3,498.6 1704.7,498.2 1705.1,497.7 1705.5,497.2 1705.9,496.6 1706.3,496.0 1706.7,495.3 1707.1,494.6 1707.5,493.9 1707.9,493.1 1708.3,492.4 1708.7,491.7 1709.1,491.0 1709.5,490.3 1709.9,489.7 1710.3,489.1 1710.7,488.5 1711.1,488.0 1711.5,487.6 1711.9,487.3 1712.3,487.0 1712.7,486.9 1713.1,486.9 1713.5,487.0 1713.9,487.1 1714.3,487.4 1714.7,487.7 1715.1,488.2 1715.5,488.6 1715.9,489.2 1716.3,489.7 1716.7,490.4 1717.1,491.0 1717.5,491.6 1717.9,492.3" fill="none" stroke="#a5a5a5" stroke-width="1.8" stroke-linejoin="round" stroke-linecap="butt" clip-path="url(#clipi_c2)"/>
<rect x="1522.1" y="428.8" width="194.9000000000001" height="115.49999999999994" fill="none" stroke="#000" stroke-width="1.7"/>
<line x1="1518.10" y1="433.58" x2="1522.10" y2="433.58" stroke="#000" stroke-width="1.7"/>
<text><tspan class="r" x="1484.60" y="443.38" font-size="27.70" textLength="33.59" lengthAdjust="spacingAndGlyphs" stroke="#000" stroke-width="0.25">0.2</tspan></text>
<line x1="1518.10" y1="492.48" x2="1522.10" y2="492.48" stroke="#000" stroke-width="1.7"/>
<text><tspan class="r" x="1503.78" y="502.28" font-size="27.70" textLength="13.99" lengthAdjust="spacingAndGlyphs" stroke="#000" stroke-width="0.25">0</tspan></text>
<line x1="1519.40" y1="463.03" x2="1522.10" y2="463.03" stroke="#000" stroke-width="1.7"/>
<line x1="1519.40" y1="521.93" x2="1522.10" y2="521.93" stroke="#000" stroke-width="1.7"/>
<line x1="1541.28" y1="544.30" x2="1541.28" y2="548.30" stroke="#000" stroke-width="1.7"/>
<text><tspan class="r" x="1517.41" y="569.10" font-size="27.70" textLength="19.63" lengthAdjust="spacingAndGlyphs" stroke="#000" stroke-width="0.25">−</tspan><tspan class="r" x="1537.50" y="568.00" font-size="27.70" textLength="27.98" lengthAdjust="spacingAndGlyphs" stroke="#000" stroke-width="0.25">40</tspan></text>
<line x1="1619.40" y1="544.30" x2="1619.40" y2="548.30" stroke="#000" stroke-width="1.7"/>
<text><tspan class="r" x="1612.91" y="568.00" font-size="27.70" textLength="13.99" lengthAdjust="spacingAndGlyphs" stroke="#000" stroke-width="0.25">0</tspan></text>
<line x1="1697.52" y1="544.30" x2="1697.52" y2="548.30" stroke="#000" stroke-width="1.7"/>
<text><tspan class="r" x="1684.29" y="568.00" font-size="27.70" textLength="27.98" lengthAdjust="spacingAndGlyphs" stroke="#000" stroke-width="0.25">40</tspan></text>
<line x1="1580.34" y1="544.30" x2="1580.34" y2="547.00" stroke="#000" stroke-width="1.7"/>
<line x1="1658.46" y1="544.30" x2="1658.46" y2="547.00" stroke="#000" stroke-width="1.7"/>
<text><tspan class="r" x="1564.16" y="591.80" font-size="31.60" textLength="111.44" lengthAdjust="spacingAndGlyphs" stroke="#000" stroke-width="0.25">Time (fs)</tspan></text>
<rect x="1522.1" y="967.0" width="194.9000000000001" height="115.5" fill="#fff" stroke="none"/>
<clipPath id="clipi_c3"><rect x="1522.1" y="967.0" width="194.9000000000001" height="115.5"/></clipPath>
<path d="M1521.1,1029.6 1521.5,1029.6 1521.9,1029.6 1522.3,1029.4 1522.7,1029.1 1523.1,1028.8 1523.5,1028.3 1523.9,1027.9 1524.3,1027.3 1524.7,1026.8 1525.1,1026.1 1525.5,1025.5 1525.9,1024.9 1526.3,1024.2 1526.7,1023.5 1527.1,1022.9 1527.5,1022.3 1527.9,1021.7 1528.3,1021.1 1528.7,1020.6 1529.1,1020.1 1529.5,1019.8 1529.9,1019.4 1530.3,1019.2 1530.7,1019.0 1531.1,1019.0 1531.5,1019.1 1531.9,1019.2 1532.3,1019.5 1532.7,1019.9 1533.1,1020.4 1533.5,1020.9 1533.9,1021.5 1534.3,1022.1 1534.7,1022.8 1535.1,1023.6 1535.5,1024.3 1535.9,1025.0 1536.3,1025.8 1536.7,1026.5 1537.1,1027.2 1537.5,1027.9 1537.9,1028.6 1538.3,1029.2 1538.7,1029.7 1539.1,1030.1 1539.5,1030.5 1539.9,1030.8 1540.3,1030.9 1540.7,1031.0 1541.1,1030.9 1541.5,1030.7 1541.9,1030.4 1542.3,1030.0 1542.7,1029.5 1543.1,1029.0 1543.5,1028.3 1543.9,1027.6 1544.3,1026.9 1544.7,1026.1 1545.1,1025.3 1545.5,1024.5 1545.9,1023.7 1546.3,1022.9 1546.7,1022.1 1547.1,1021.3 1547.5,1020.6 1547.9,1019.9 1548.3,1019.3 1548.7,1018.7 1549.1,1018.2 1549.5,1017.9 1549.9,1017.6 1550.3,1017.4 1550.7,1017.4 1551.1,1017.5 1551.5,1017.8 1551.9,1018.2 1552.3,1018.7 1552.7,1019.3 1553.1,1020.0 1553.5,1020.8 1553.9,1021.6 1554.3,1022.5 1554.7,1023.5 1555.1,1024.4 1555.5,1025.4 1555.9,1026.4 1556.3,1027.3 1556.7,1028.2 1557.1,1029.1 1557.5,1029.9 1557.9,1030.7 1558.3,1031.3 1558.7,1031.9 1559.1,1032.4 1559.5,1032.7 1559.9,1032.9 1560.3,1032.9 1560.7,1032.8 1561.1,1032.5 1561.5,1032.1 1561.9,1031.6 1562.3,1030.9 1562.7,1030.2 1563.1,1029.3 1563.5,1028.4 1563.9,1027.4 1564.3,1026.4 1564.7,1025.4 1565.1,1024.3 1565.5,1023.3 1565.9,1022.2 1566.3,1021.2 1566.7,1020.2 1567.1,1019.2 1567.5,1018.3 1567.9,1017.5 1568.3,1016.8 1568.7,1016.2 1569.1,1015.7 1569.5,1015.3 1569.9,1015.1 1570.3,1015.0 1570.7,1015.1 1571.1,1015.5 1571.5,1016.0 1571.9,1016.7 1572.3,1017.6 1572.7,1018.6 1573.1,1019.7 1573.5,1021.0 1573.9,1022.3 1574.3,1023.6 1574.7,1025.0 1575.1,1026.4 1575.5,1027.8 1575.9,1029.2 1576.3,1030.5 1576.7,1031.7 1577.1,1032.9 1577.5,1034.0 1577.9,1034.9 1578.3,1035.7 1578.7,1036.4 1579.1,1036.8 1579.5,1037.0 1579.9,1037.1 1580.3,1036.8 1580.7,1036.3 1581.1,1035.5 1581.5,1034.5 1581.9,1033.3 1582.3,1032.0 1582.7,1030.6 1583.1,1029.0 1583.5,1027.3 1583.9,1025.6 1584.3,1023.8 1584.7,1022.0 1585.1,1020.3 1585.5,1018.5 1585.9,1016.9 1586.3,1015.3 1586.7,1013.8 1587.1,1012.5 1587.5,1011.3 1587.9,1010.3 1588.3,1009.5 1588.7,1008.9 1589.1,1008.6 1589.5,1008.6 1589.9,1009.0 1590.3,1009.8 1590.7,1010.9 1591.1,1012.3 1591.5,1013.9 1591.9,1015.8 1592.3,1017.8 1592.7,1020.0 1593.1,1022.3 1593.5,1024.7 1593.9,1027.2 1594.3,1029.6 1594.7,1032.1 1595.1,1034.4 1595.5,1036.7 1595.9,1038.8 1596.3,1040.7 1596.7,1042.4 1597.1,1043.9 1597.5,1045.0 1597.9,1045.9 1598.3,1046.4 1598.7,1046.5 1599.1,1046.0 1599.5,1045.0 1599.9,1043.4 1600.3,1041.3 1600.7,1038.9 1601.1,1036.1 1601.5,1033.0 1601.9,1029.6 1602.3,1026.1 1602.7,1022.5 1603.1,1018.8 1603.5,1015.0 1603.9,1011.4 1604.3,1007.8 1604.7,1004.4 1605.1,1001.2 1605.5,998.3 1605.9,995.7 1606.3,993.6 1606.7,991.8 1607.1,990.6 1607.5,990.0 1607.9,990.0 1608.3,991.3 1608.7,993.8 1609.1,997.3 1609.5,1001.7 1609.9,1006.9 1610.3,1012.7 1610.7,1019.0 1611.1,1025.6 1611.5,1032.4 1611.9,1039.2 1612.3,1045.8 1612.7,1052.2 1613.1,1058.2 1613.5,1063.6 1613.9,1068.3 1614.3,1072.1 1614.7,1074.9 1615.1,1076.5 1615.5,1076.9 1615.9,1075.6 1616.3,1072.8 1616.7,1068.6 1617.1,1063.3 1617.5,1057.1 1617.9,1050.0 1618.3,1042.3 1618.7,1034.3 1619.1,1026.0 1619.5,1017.7 1619.9,1009.6 1620.3,1001.8 1620.7,994.5 1621.1,988.0 1621.5,982.4 1621.9,977.8 1622.3,974.6 1622.7,972.9 1623.1,972.7 1623.5,974.0 1623.9,976.5 1624.3,980.0 1624.7,984.4 1625.1,989.6 1625.5,995.4 1625.9,1001.7 1626.3,1008.3 1626.7,1015.0 1627.1,1021.8 1627.5,1028.4 1627.9,1034.8 1628.3,1040.8 1628.7,1046.2 1629.1,1050.8 1629.5,1054.6 1629.9,1057.4 1630.3,1059.1 1630.7,1059.5 1631.1,1059.0 1631.5,1058.0 1631.9,1056.5 1632.3,1054.5 1632.7,1052.1 1633.1,1049.4 1633.5,1046.4 1633.9,1043.1 1634.3,1039.7 1634.7,1036.1 1635.1,1032.5 1635.5,1028.9 1635.9,1025.3 1636.3,1021.7 1636.7,1018.4 1637.1,1015.2 1637.5,1012.2 1637.9,1009.6 1638.3,1007.4 1638.7,1005.5 1639.1,1004.1 1639.5,1003.3 1639.9,1003.0 1640.3,1003.2 1640.7,1003.8 1641.1,1004.7 1641.5,1005.8 1641.9,1007.3 1642.3,1008.9 1642.7,1010.8 1643.1,1012.8 1643.5,1014.9 1643.9,1017.1 1644.3,1019.4 1644.7,1021.8 1645.1,1024.1 1645.5,1026.4 1645.9,1028.6 1646.3,1030.7 1646.7,1032.7 1647.1,1034.5 1647.5,1036.2 1647.9,1037.6 1648.3,1038.7 1648.7,1039.6 1649.1,1040.1 1649.5,1040.3 1649.9,1040.1 1650.3,1039.7 1650.7,1039.1 1651.1,1038.2 1651.5,1037.1 1651.9,1035.9 1652.3,1034.5 1652.7,1033.0 1653.1,1031.4 1653.5,1029.8 1653.9,1028.1 1654.3,1026.4 1654.7,1024.6 1655.1,1022.9 1655.5,1021.3 1655.9,1019.7 1656.3,1018.2 1656.7,1016.9 1657.1,1015.6 1657.5,1014.6 1657.9,1013.8 1658.3,1013.1 1658.7,1012.7 1659.1,1012.6 1659.5,1012.7 1659.9,1013.0 1660.3,1013.5 1660.7,1014.1 1661.1,1014.9 1661.5,1015.8 1661.9,1016.8 1662.3,1018.0 1662.7,1019.1 1663.1,1020.4 1663.5,1021.6 1663.9,1022.9 1664.3,1024.2 1664.7,1025.5 1665.1,1026.8 1665.5,1028.0 1665.9,1029.2 1666.3,1030.3 1666.7,1031.3 1667.1,1032.1 1667.5,1032.9 1667.9,1033.5 1668.3,1033.9 1668.7,1034.1 1669.1,1034.2 1669.5,1034.1 1669.9,1033.8 1670.3,1033.3 1670.7,1032.7 1671.1,1032.0 1671.5,1031.2 1671.9,1030.3 1672.3,1029.3 1672.7,1028.3 1673.1,1027.2 1673.5,1026.1 1673.9,1025.0 1674.3,1023.8 1674.7,1022.7 1675.1,1021.7 1675.5,1020.7 1675.9,1019.7 1676.3,1018.9 1676.7,1018.1 1677.1,1017.5 1677.5,1016.9 1677.9,1016.6 1678.3,1016.3 1678.7,1016.3 1679.1,1016.4 1679.5,1016.7 1679.9,1017.0 1680.3,1017.5 1680.7,1018.1 1681.1,1018.8 1681.5,1019.6 1681.9,1020.4 1682.3,1021.3 1682.7,1022.2 1683.1,1023.2 1683.5,1024.1 1683.9,1025.1 1684.3,1026.0 1684.7,1026.9 1685.1,1027.7 1685.5,1028.5 1685.9,1029.3 1686.3,1029.9 1686.7,1030.5 1687.1,1030.9 1687.5,1031.2 1687.9,1031.4 1688.3,1031.5 1688.7,1031.4 1689.1,1031.2 1689.5,1030.9 1689.9,1030.5 1690.3,1030.0 1690.7,1029.4 1691.1,1028.8 1691.5,1028.1 1691.9,1027.4 1692.3,1026.7 1692.7,1025.9 1693.1,1025.1 1693.5,1024.3 1693.9,1023.6 1694.3,1022.8 1694.7,1022.1 1695.1,1021.4 1695.5,1020.8 1695.9,1020.2 1696.3,1019.7 1696.7,1019.2 1697.1,1018.9 1697.5,1018.7 1697.9,1018.5 1698.3,1018.5 1698.7,1018.6 1699.1,1018.9 1699.5,1019.2 1699.9,1019.6 1700.3,1020.1 1700.7,1020.6 1701.1,1021.2 1701.5,1021.8 1701.9,1022.5 1702.3,1023.2 1702.7,1024.0 1703.1,1024.7 1703.5,1025.4 1703.9,1026.1 1704.3,1026.8 1704.7,1027.5 1705.1,1028.1 1705.5,1028.6 1705.9,1029.1 1706.3,1029.5 1706.7,1029.8 1707.1,1030.1 1707.5,1030.2 1707.9,1030.2 1708.3,1030.1 1708.7,1029.9 1709.1,1029.6 1709.5,1029.3 1709.9,1028.8 1710.3,1028.3 1710.7,1027.8 1711.1,1027.2 1711.5,1026.6 1711.9,1026.0 1712.3,1025.3 1712.7,1024.7 1713.1,1024.0 1713.5,1023.4 1713.9,1022.7 1714.3,1022.2 1714.7,1021.6 1715.1,1021.1 1715.5,1020.6 1715.9,1020.3 1716.3,1020.0 1716.7,1019.7 1717.1,1019.6 1717.5,1019.6 1717.9,1019.6" fill="none" stroke="#a5a5a5" stroke-width="1.8" stroke-linejoin="round" stroke-linecap="butt" clip-path="url(#clipi_c3)"/>
<rect x="1522.1" y="967.0" width="194.9000000000001" height="115.5" fill="none" stroke="#000" stroke-width="1.7"/>
<line x1="1518.10" y1="979.40" x2="1522.10" y2="979.40" stroke="#000" stroke-width="1.7"/>
<text><tspan class="r" x="1483.53" y="989.20" font-size="27.70" textLength="33.59" lengthAdjust="spacingAndGlyphs" stroke="#000" stroke-width="0.25">0.4</tspan></text>
<line x1="1518.10" y1="1024.60" x2="1522.10" y2="1024.60" stroke="#000" stroke-width="1.7"/>
<text><tspan class="r" x="1503.78" y="1034.40" font-size="27.70" textLength="13.99" lengthAdjust="spacingAndGlyphs" stroke="#000" stroke-width="0.25">0</tspan></text>
<line x1="1518.10" y1="1069.80" x2="1522.10" y2="1069.80" stroke="#000" stroke-width="1.7"/>
<text><tspan class="r" x="1463.92" y="1080.70" font-size="27.70" textLength="19.63" lengthAdjust="spacingAndGlyphs" stroke="#000" stroke-width="0.25">−</tspan><tspan class="r" x="1483.53" y="1079.60" font-size="27.70" textLength="33.59" lengthAdjust="spacingAndGlyphs" stroke="#000" stroke-width="0.25">0.4</tspan></text>
<line x1="1519.40" y1="1002.00" x2="1522.10" y2="1002.00" stroke="#000" stroke-width="1.7"/>
<line x1="1519.40" y1="1047.20" x2="1522.10" y2="1047.20" stroke="#000" stroke-width="1.7"/>
<line x1="1541.28" y1="1082.50" x2="1541.28" y2="1086.50" stroke="#000" stroke-width="1.7"/>
<text><tspan class="r" x="1517.41" y="1107.30" font-size="27.70" textLength="19.63" lengthAdjust="spacingAndGlyphs" stroke="#000" stroke-width="0.25">−</tspan><tspan class="r" x="1537.50" y="1106.20" font-size="27.70" textLength="27.98" lengthAdjust="spacingAndGlyphs" stroke="#000" stroke-width="0.25">40</tspan></text>
<line x1="1619.40" y1="1082.50" x2="1619.40" y2="1086.50" stroke="#000" stroke-width="1.7"/>
<text><tspan class="r" x="1612.91" y="1106.20" font-size="27.70" textLength="13.99" lengthAdjust="spacingAndGlyphs" stroke="#000" stroke-width="0.25">0</tspan></text>
<line x1="1697.52" y1="1082.50" x2="1697.52" y2="1086.50" stroke="#000" stroke-width="1.7"/>
<text><tspan class="r" x="1684.29" y="1106.20" font-size="27.70" textLength="27.98" lengthAdjust="spacingAndGlyphs" stroke="#000" stroke-width="0.25">40</tspan></text>
<line x1="1580.34" y1="1082.50" x2="1580.34" y2="1085.20" stroke="#000" stroke-width="1.7"/>
<line x1="1658.46" y1="1082.50" x2="1658.46" y2="1085.20" stroke="#000" stroke-width="1.7"/>
<text><tspan class="r" x="1564.16" y="1130.00" font-size="31.60" textLength="111.44" lengthAdjust="spacingAndGlyphs" stroke="#000" stroke-width="0.25">Time (fs)</tspan></text>
<text><tspan class="r" x="653.72" y="31.60" font-size="31.00" textLength="34.05" lengthAdjust="spacingAndGlyphs" stroke="#000" stroke-width="0.3">Re</tspan> <tspan class="m" x="694.35" y="32.40" font-size="25.60" textLength="18.60" lengthAdjust="spacingAndGlyphs" stroke="#000" stroke-width="0.2">ℰ</tspan><tspan class="i" x="713.06" y="35.80" font-size="22.50" textLength="5.86" lengthAdjust="spacingAndGlyphs" stroke="#000" stroke-width="0.3">j</tspan><tspan class="r" x="724.04" y="31.60" font-size="31.00" textLength="8.82" lengthAdjust="spacingAndGlyphs" stroke="#000" stroke-width="0.3">(</tspan><tspan class="i" x="732.50" y="31.60" font-size="33.00" textLength="10.72" lengthAdjust="spacingAndGlyphs" stroke="#000" stroke-width="0.1">t</tspan><tspan class="r" x="748.35" y="31.60" font-size="31.00" textLength="8.82" lengthAdjust="spacingAndGlyphs" stroke="#000" stroke-width="0.3">)</tspan><tspan class="r" x="760.60" y="34.60" font-size="38.75" textLength="12.00" lengthAdjust="spacingAndGlyphs" stroke="#000" stroke-width="0.3">/</tspan><tspan class="r" x="773.92" y="39.60" font-size="45.90" textLength="21.62" lengthAdjust="spacingAndGlyphs">√</tspan><tspan class="r" x="796.74" y="31.60" font-size="31.00" textLength="15.21" lengthAdjust="spacingAndGlyphs" stroke="#000" stroke-width="0.3">Γ</tspan><tspan class="r" x="813.80" y="22.70" font-size="17.60" textLength="11.35" lengthAdjust="spacingAndGlyphs" stroke="#000" stroke-width="0.45">2</tspan><tspan class="i" x="828.10" y="31.60" font-size="31.00" textLength="15.15" lengthAdjust="spacingAndGlyphs" stroke="#000" stroke-width="0.3">ħ</tspan><tspan class="r" x="845.70" y="34.60" font-size="38.75" textLength="12.10" lengthAdjust="spacingAndGlyphs" stroke="#000" stroke-width="0.3">/</tspan><tspan class="i" x="860.18" y="31.60" font-size="31.00" textLength="16.98" lengthAdjust="spacingAndGlyphs" stroke="#000" stroke-width="0.3">C</tspan></text>
<line x1="794.60" y1="3.50" x2="878.90" y2="3.50" stroke="#000" stroke-width="1.5"/>
<text><tspan class="r" x="1313.10" y="31.60" font-size="31.00" textLength="33.67" lengthAdjust="spacingAndGlyphs" stroke="#000" stroke-width="0.3">Im</tspan> <tspan class="m" x="1353.95" y="32.40" font-size="25.60" textLength="18.60" lengthAdjust="spacingAndGlyphs" stroke="#000" stroke-width="0.2">ℰ</tspan><tspan class="i" x="1372.66" y="35.80" font-size="22.50" textLength="5.86" lengthAdjust="spacingAndGlyphs" stroke="#000" stroke-width="0.3">j</tspan><tspan class="r" x="1383.64" y="31.60" font-size="31.00" textLength="8.82" lengthAdjust="spacingAndGlyphs" stroke="#000" stroke-width="0.3">(</tspan><tspan class="i" x="1392.10" y="31.60" font-size="33.00" textLength="10.72" lengthAdjust="spacingAndGlyphs" stroke="#000" stroke-width="0.1">t</tspan><tspan class="r" x="1407.95" y="31.60" font-size="31.00" textLength="8.82" lengthAdjust="spacingAndGlyphs" stroke="#000" stroke-width="0.3">)</tspan><tspan class="r" x="1420.20" y="34.60" font-size="38.75" textLength="12.00" lengthAdjust="spacingAndGlyphs" stroke="#000" stroke-width="0.3">/</tspan><tspan class="r" x="1433.52" y="39.60" font-size="45.90" textLength="21.62" lengthAdjust="spacingAndGlyphs">√</tspan><tspan class="r" x="1456.34" y="31.60" font-size="31.00" textLength="15.21" lengthAdjust="spacingAndGlyphs" stroke="#000" stroke-width="0.3">Γ</tspan><tspan class="r" x="1473.40" y="22.70" font-size="17.60" textLength="11.35" lengthAdjust="spacingAndGlyphs" stroke="#000" stroke-width="0.45">2</tspan><tspan class="i" x="1487.70" y="31.60" font-size="31.00" textLength="15.15" lengthAdjust="spacingAndGlyphs" stroke="#000" stroke-width="0.3">ħ</tspan><tspan class="r" x="1505.30" y="34.60" font-size="38.75" textLength="12.10" lengthAdjust="spacingAndGlyphs" stroke="#000" stroke-width="0.3">/</tspan><tspan class="i" x="1519.78" y="31.60" font-size="31.00" textLength="16.98" lengthAdjust="spacingAndGlyphs" stroke="#000" stroke-width="0.3">C</tspan></text>
<line x1="1454.20" y1="3.50" x2="1538.50" y2="3.50" stroke="#000" stroke-width="1.5"/>
<text><tspan class="r" x="414.43" y="25.50" font-size="30.80" textLength="36.34" lengthAdjust="spacingAndGlyphs" stroke="#000" stroke-width="0.3">(b)</tspan></text>
<text><tspan class="r" x="1074.82" y="25.50" font-size="30.80" textLength="34.75" lengthAdjust="spacingAndGlyphs" stroke="#000" stroke-width="0.3">(c)</tspan></text>
</svg>
</body></html>
